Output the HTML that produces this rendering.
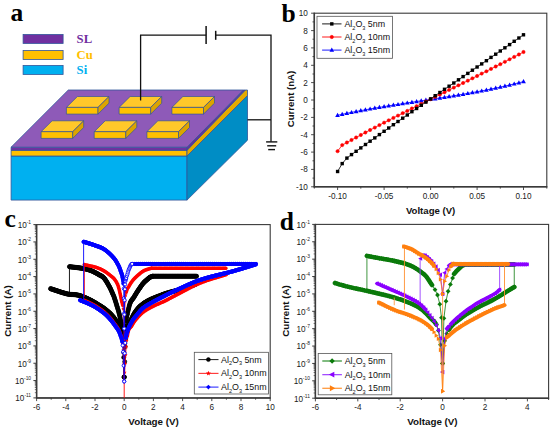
<!DOCTYPE html>
<html><head><meta charset="utf-8"><style>
html,body{margin:0;padding:0;background:#fff;width:550px;height:431px;overflow:hidden}
svg{display:block}
</style></head><body>
<svg width="550" height="431" viewBox="0 0 550 431">
<rect width="550" height="431" fill="#fff"/>
<text x="10.6" y="20.8" font-family="'Liberation Serif', serif" font-weight="bold" font-size="25.5">a</text>
<rect x="23.1" y="34.5" width="40" height="8.9" fill="#7030a0" stroke="#30559a" stroke-width="0.8"/>
<rect x="23.1" y="50.5" width="40" height="8.9" fill="#ffc000" stroke="#30559a" stroke-width="0.8"/>
<rect x="23.1" y="65.5" width="40" height="8.9" fill="#00b0f0" stroke="#30559a" stroke-width="0.8"/>
<text x="76.6" y="43.3" font-family="'Liberation Serif', serif" font-weight="bold" font-size="12.7" fill="#7030a0">SL</text>
<text x="76.6" y="59.3" font-family="'Liberation Serif', serif" font-weight="bold" font-size="12.7" fill="#ffc000">Cu</text>
<text x="76.6" y="74.4" font-family="'Liberation Serif', serif" font-weight="bold" font-size="12.7" fill="#00b0f0">Si</text>
<polygon points="11.1,156.0 187.0,156.0 187.0,200.1 11.1,200.1" fill="#00b0f0" stroke="#30559a" stroke-width="0.8" stroke-linejoin="round"/>
<polygon points="187.0,156.0 247.5,95.5 247.5,140.2 187.0,200.1" fill="#008dc5" stroke="#30559a" stroke-width="0.8" stroke-linejoin="round"/>
<polygon points="11.1,150.3 187.0,150.3 187.0,156.0 11.1,156.0" fill="#ffc000" stroke="#30559a" stroke-width="0.8" stroke-linejoin="round"/>
<polygon points="187.0,150.3 245.3,90.0 247.5,90.0 247.5,95.5 187.0,156.0" fill="#e3aa00" stroke="#30559a" stroke-width="0.8" stroke-linejoin="round"/>
<polygon points="11.1,147.2 187.0,147.2 187.0,150.3 11.1,150.3" fill="#7030a0" stroke="#30559a" stroke-width="0.8" stroke-linejoin="round"/>
<polygon points="187.0,147.2 243.3,90.0 245.3,90.0 187.0,150.3" fill="#6a2d9a" stroke="#30559a" stroke-width="0.8" stroke-linejoin="round"/>
<polygon points="11.1,147.2 68.3,90.0 243.3,90.0 187.0,147.2" fill="#8e5ab8" stroke="#30559a" stroke-width="0.8" stroke-linejoin="round"/>
<polygon points="66.4,107.4 77.4,96.5 109.0,96.5 98.0,107.4" fill="#ffc82a" stroke="#30559a" stroke-width="0.7" stroke-linejoin="round"/>
<polygon points="66.4,107.4 98.0,107.4 98.0,114.1 66.4,114.1" fill="#ffc000" stroke="#30559a" stroke-width="0.7" stroke-linejoin="round"/>
<polygon points="98.0,107.4 109.0,96.5 109.0,103.2 98.0,114.1" fill="#dba400" stroke="#30559a" stroke-width="0.7" stroke-linejoin="round"/>
<polygon points="119.1,107.4 130.1,96.5 161.7,96.5 150.7,107.4" fill="#ffc82a" stroke="#30559a" stroke-width="0.7" stroke-linejoin="round"/>
<polygon points="119.1,107.4 150.7,107.4 150.7,114.1 119.1,114.1" fill="#ffc000" stroke="#30559a" stroke-width="0.7" stroke-linejoin="round"/>
<polygon points="150.7,107.4 161.7,96.5 161.7,103.2 150.7,114.1" fill="#dba400" stroke="#30559a" stroke-width="0.7" stroke-linejoin="round"/>
<polygon points="171.9,107.4 182.9,96.5 214.5,96.5 203.5,107.4" fill="#ffc82a" stroke="#30559a" stroke-width="0.7" stroke-linejoin="round"/>
<polygon points="171.9,107.4 203.5,107.4 203.5,114.1 171.9,114.1" fill="#ffc000" stroke="#30559a" stroke-width="0.7" stroke-linejoin="round"/>
<polygon points="203.5,107.4 214.5,96.5 214.5,103.2 203.5,114.1" fill="#dba400" stroke="#30559a" stroke-width="0.7" stroke-linejoin="round"/>
<polygon points="41.1,131.7 52.1,120.8 83.7,120.8 72.7,131.7" fill="#ffc82a" stroke="#30559a" stroke-width="0.7" stroke-linejoin="round"/>
<polygon points="41.1,131.7 72.7,131.7 72.7,138.4 41.1,138.4" fill="#ffc000" stroke="#30559a" stroke-width="0.7" stroke-linejoin="round"/>
<polygon points="72.7,131.7 83.7,120.8 83.7,127.5 72.7,138.4" fill="#dba400" stroke="#30559a" stroke-width="0.7" stroke-linejoin="round"/>
<polygon points="94.2,131.7 105.2,120.8 136.8,120.8 125.8,131.7" fill="#ffc82a" stroke="#30559a" stroke-width="0.7" stroke-linejoin="round"/>
<polygon points="94.2,131.7 125.8,131.7 125.8,138.4 94.2,138.4" fill="#ffc000" stroke="#30559a" stroke-width="0.7" stroke-linejoin="round"/>
<polygon points="125.8,131.7 136.8,120.8 136.8,127.5 125.8,138.4" fill="#dba400" stroke="#30559a" stroke-width="0.7" stroke-linejoin="round"/>
<polygon points="146.9,131.7 157.9,120.8 189.5,120.8 178.5,131.7" fill="#ffc82a" stroke="#30559a" stroke-width="0.7" stroke-linejoin="round"/>
<polygon points="146.9,131.7 178.5,131.7 178.5,138.4 146.9,138.4" fill="#ffc000" stroke="#30559a" stroke-width="0.7" stroke-linejoin="round"/>
<polygon points="178.5,131.7 189.5,120.8 189.5,127.5 178.5,138.4" fill="#dba400" stroke="#30559a" stroke-width="0.7" stroke-linejoin="round"/>
<polyline points="140.6,100.5 140.6,35.2 206.1,35.2" fill="none" stroke="#111" stroke-width="1.3"/>
<line x1="206.1" y1="25.9" x2="206.1" y2="44" stroke="#111" stroke-width="1.5"/>
<line x1="215.7" y1="30.8" x2="215.7" y2="39.8" stroke="#111" stroke-width="1.5"/>
<polyline points="215.7,35.2 271.0,35.2 271.0,141.7" fill="none" stroke="#111" stroke-width="1.3"/>
<line x1="247.5" y1="119.8" x2="271" y2="119.8" stroke="#111" stroke-width="1.3"/>
<line x1="266.1" y1="141.9" x2="277.3" y2="141.9" stroke="#111" stroke-width="1.4"/>
<line x1="267.2" y1="145.8" x2="276.2" y2="145.8" stroke="#111" stroke-width="1.4"/>
<line x1="268.2" y1="149.6" x2="275.0" y2="149.6" stroke="#111" stroke-width="1.4"/>
<text x="281.5" y="21.6" font-family="'Liberation Serif', serif" font-weight="bold" font-size="25.5">b</text>
<line x1="311.10" y1="186.8" x2="314.3" y2="186.8" stroke="#3a3a3a" stroke-width="0.9"/>
<text x="307.9" y="189.8" font-family="'Liberation Sans', sans-serif" font-size="8.2" font-weight="normal" text-anchor="end" fill="#1a1a1a" >-10</text>
<line x1="312.50" y1="178.1" x2="314.3" y2="178.1" stroke="#3a3a3a" stroke-width="0.9"/>
<line x1="311.10" y1="169.4" x2="314.3" y2="169.4" stroke="#3a3a3a" stroke-width="0.9"/>
<text x="307.9" y="172.4" font-family="'Liberation Sans', sans-serif" font-size="8.2" font-weight="normal" text-anchor="end" fill="#1a1a1a" >-8</text>
<line x1="312.50" y1="160.8" x2="314.3" y2="160.8" stroke="#3a3a3a" stroke-width="0.9"/>
<line x1="311.10" y1="152.1" x2="314.3" y2="152.1" stroke="#3a3a3a" stroke-width="0.9"/>
<text x="307.9" y="155.0" font-family="'Liberation Sans', sans-serif" font-size="8.2" font-weight="normal" text-anchor="end" fill="#1a1a1a" >-6</text>
<line x1="312.50" y1="143.4" x2="314.3" y2="143.4" stroke="#3a3a3a" stroke-width="0.9"/>
<line x1="311.10" y1="134.7" x2="314.3" y2="134.7" stroke="#3a3a3a" stroke-width="0.9"/>
<text x="307.9" y="137.7" font-family="'Liberation Sans', sans-serif" font-size="8.2" font-weight="normal" text-anchor="end" fill="#1a1a1a" >-4</text>
<line x1="312.50" y1="126.0" x2="314.3" y2="126.0" stroke="#3a3a3a" stroke-width="0.9"/>
<line x1="311.10" y1="117.4" x2="314.3" y2="117.4" stroke="#3a3a3a" stroke-width="0.9"/>
<text x="307.9" y="120.3" font-family="'Liberation Sans', sans-serif" font-size="8.2" font-weight="normal" text-anchor="end" fill="#1a1a1a" >-2</text>
<line x1="312.50" y1="108.7" x2="314.3" y2="108.7" stroke="#3a3a3a" stroke-width="0.9"/>
<line x1="311.10" y1="100.0" x2="314.3" y2="100.0" stroke="#3a3a3a" stroke-width="0.9"/>
<text x="307.9" y="103.0" font-family="'Liberation Sans', sans-serif" font-size="8.2" font-weight="normal" text-anchor="end" fill="#1a1a1a" >0</text>
<line x1="312.50" y1="91.3" x2="314.3" y2="91.3" stroke="#3a3a3a" stroke-width="0.9"/>
<line x1="311.10" y1="82.6" x2="314.3" y2="82.6" stroke="#3a3a3a" stroke-width="0.9"/>
<text x="307.9" y="85.6" font-family="'Liberation Sans', sans-serif" font-size="8.2" font-weight="normal" text-anchor="end" fill="#1a1a1a" >2</text>
<line x1="312.50" y1="74.0" x2="314.3" y2="74.0" stroke="#3a3a3a" stroke-width="0.9"/>
<line x1="311.10" y1="65.3" x2="314.3" y2="65.3" stroke="#3a3a3a" stroke-width="0.9"/>
<text x="307.9" y="68.2" font-family="'Liberation Sans', sans-serif" font-size="8.2" font-weight="normal" text-anchor="end" fill="#1a1a1a" >4</text>
<line x1="312.50" y1="56.6" x2="314.3" y2="56.6" stroke="#3a3a3a" stroke-width="0.9"/>
<line x1="311.10" y1="47.9" x2="314.3" y2="47.9" stroke="#3a3a3a" stroke-width="0.9"/>
<text x="307.9" y="50.9" font-family="'Liberation Sans', sans-serif" font-size="8.2" font-weight="normal" text-anchor="end" fill="#1a1a1a" >6</text>
<line x1="312.50" y1="39.2" x2="314.3" y2="39.2" stroke="#3a3a3a" stroke-width="0.9"/>
<line x1="311.10" y1="30.6" x2="314.3" y2="30.6" stroke="#3a3a3a" stroke-width="0.9"/>
<text x="307.9" y="33.5" font-family="'Liberation Sans', sans-serif" font-size="8.2" font-weight="normal" text-anchor="end" fill="#1a1a1a" >8</text>
<line x1="312.50" y1="21.9" x2="314.3" y2="21.9" stroke="#3a3a3a" stroke-width="0.9"/>
<line x1="311.10" y1="13.2" x2="314.3" y2="13.2" stroke="#3a3a3a" stroke-width="0.9"/>
<text x="307.9" y="16.2" font-family="'Liberation Sans', sans-serif" font-size="8.2" font-weight="normal" text-anchor="end" fill="#1a1a1a" >10</text>
<line x1="314.3" y1="186.8" x2="314.3" y2="188.60" stroke="#3a3a3a" stroke-width="0.9"/>
<line x1="337.6" y1="186.8" x2="337.6" y2="190.00" stroke="#3a3a3a" stroke-width="0.9"/>
<text x="337.6" y="198.8" font-family="'Liberation Sans', sans-serif" font-size="8.2" font-weight="normal" text-anchor="middle" fill="#1a1a1a" >-0.10</text>
<line x1="360.8" y1="186.8" x2="360.8" y2="188.60" stroke="#3a3a3a" stroke-width="0.9"/>
<line x1="384.1" y1="186.8" x2="384.1" y2="190.00" stroke="#3a3a3a" stroke-width="0.9"/>
<text x="384.1" y="198.8" font-family="'Liberation Sans', sans-serif" font-size="8.2" font-weight="normal" text-anchor="middle" fill="#1a1a1a" >-0.05</text>
<line x1="407.3" y1="186.8" x2="407.3" y2="188.60" stroke="#3a3a3a" stroke-width="0.9"/>
<line x1="430.6" y1="186.8" x2="430.6" y2="190.00" stroke="#3a3a3a" stroke-width="0.9"/>
<text x="430.6" y="198.8" font-family="'Liberation Sans', sans-serif" font-size="8.2" font-weight="normal" text-anchor="middle" fill="#1a1a1a" >0.00</text>
<line x1="453.8" y1="186.8" x2="453.8" y2="188.60" stroke="#3a3a3a" stroke-width="0.9"/>
<line x1="477.1" y1="186.8" x2="477.1" y2="190.00" stroke="#3a3a3a" stroke-width="0.9"/>
<text x="477.1" y="198.8" font-family="'Liberation Sans', sans-serif" font-size="8.2" font-weight="normal" text-anchor="middle" fill="#1a1a1a" >0.05</text>
<line x1="500.3" y1="186.8" x2="500.3" y2="188.60" stroke="#3a3a3a" stroke-width="0.9"/>
<line x1="523.5" y1="186.8" x2="523.5" y2="190.00" stroke="#3a3a3a" stroke-width="0.9"/>
<text x="523.5" y="198.8" font-family="'Liberation Sans', sans-serif" font-size="8.2" font-weight="normal" text-anchor="middle" fill="#1a1a1a" >0.10</text>
<line x1="546.8" y1="186.8" x2="546.8" y2="188.60" stroke="#3a3a3a" stroke-width="0.9"/>
<rect x="314.3" y="13.2" width="232.49999999999994" height="173.60000000000002" fill="none" stroke="#3a3a3a" stroke-width="1.1"/>
<line x1="314.3" y1="12.7" x2="314.3" y2="187.4" stroke="#3a3a3a" stroke-width="1.5"/>
<line x1="313.7" y1="186.8" x2="547.3" y2="186.8" stroke="#3a3a3a" stroke-width="1.5"/>
<text x="430.6" y="213.8" font-family="'Liberation Sans', sans-serif" font-size="9.6" font-weight="bold" text-anchor="middle" fill="#111" >Voltage (V)</text>
<text x="0.0" y="0.0" font-family="'Liberation Sans', sans-serif" font-size="9.6" font-weight="bold" text-anchor="middle" fill="#111" transform="translate(293.5,99.0) rotate(-90)">Current (nA)</text>
<polyline points="337.6,115.3 342.2,114.3 346.9,113.3 351.5,112.4 356.1,111.5 360.8,110.6 365.4,109.8 370.1,108.9 374.8,108.1 379.4,107.4 384.1,106.6 388.7,105.8 393.4,105.1 398.0,104.4 402.7,103.7 407.3,102.9 411.9,102.2 416.6,101.5 421.2,100.8 425.9,100.1 430.6,99.4 435.2,98.7 439.9,98.0 444.5,97.3 449.1,96.5 453.8,95.8 458.4,95.0 463.1,94.2 467.8,93.4 472.4,92.6 477.1,91.7 481.7,90.9 486.4,90.0 491.0,89.0 495.7,88.1 500.3,87.1 504.9,86.1 509.6,85.0 514.2,83.9 518.9,82.8 523.5,81.6" fill="none" stroke="#0000ff" stroke-width="0.8"/>
<polygon points="337.6,112.7 339.9,116.9 335.2,116.9" fill="#0000ff"/>
<polygon points="342.2,111.8 344.5,116.0 339.9,116.0" fill="#0000ff"/>
<polygon points="346.9,110.8 349.2,115.0 344.5,115.0" fill="#0000ff"/>
<polygon points="351.5,109.9 353.8,114.1 349.2,114.1" fill="#0000ff"/>
<polygon points="356.1,109.0 358.5,113.2 353.8,113.2" fill="#0000ff"/>
<polygon points="360.8,108.1 363.1,112.3 358.5,112.3" fill="#0000ff"/>
<polygon points="365.4,107.3 367.8,111.5 363.1,111.5" fill="#0000ff"/>
<polygon points="370.1,106.4 372.4,110.6 367.8,110.6" fill="#0000ff"/>
<polygon points="374.8,105.6 377.1,109.8 372.4,109.8" fill="#0000ff"/>
<polygon points="379.4,104.8 381.7,109.0 377.1,109.0" fill="#0000ff"/>
<polygon points="384.1,104.1 386.4,108.3 381.7,108.3" fill="#0000ff"/>
<polygon points="388.7,103.3 391.0,107.5 386.4,107.5" fill="#0000ff"/>
<polygon points="393.4,102.6 395.7,106.8 391.0,106.8" fill="#0000ff"/>
<polygon points="398.0,101.9 400.3,106.1 395.7,106.1" fill="#0000ff"/>
<polygon points="402.7,101.1 405.0,105.3 400.3,105.3" fill="#0000ff"/>
<polygon points="407.3,100.4 409.6,104.6 405.0,104.6" fill="#0000ff"/>
<polygon points="411.9,99.7 414.3,103.9 409.6,103.9" fill="#0000ff"/>
<polygon points="416.6,99.0 418.9,103.2 414.3,103.2" fill="#0000ff"/>
<polygon points="421.2,98.3 423.6,102.5 418.9,102.5" fill="#0000ff"/>
<polygon points="425.9,97.6 428.2,101.8 423.6,101.8" fill="#0000ff"/>
<polygon points="430.6,96.9 432.9,101.1 428.2,101.1" fill="#0000ff"/>
<polygon points="435.2,96.2 437.5,100.4 432.9,100.4" fill="#0000ff"/>
<polygon points="439.9,95.5 442.2,99.7 437.5,99.7" fill="#0000ff"/>
<polygon points="444.5,94.7 446.8,98.9 442.2,98.9" fill="#0000ff"/>
<polygon points="449.1,94.0 451.5,98.2 446.8,98.2" fill="#0000ff"/>
<polygon points="453.8,93.2 456.1,97.4 451.5,97.4" fill="#0000ff"/>
<polygon points="458.4,92.5 460.8,96.7 456.1,96.7" fill="#0000ff"/>
<polygon points="463.1,91.7 465.4,95.9 460.8,95.9" fill="#0000ff"/>
<polygon points="467.8,90.9 470.1,95.1 465.4,95.1" fill="#0000ff"/>
<polygon points="472.4,90.1 474.7,94.3 470.1,94.3" fill="#0000ff"/>
<polygon points="477.1,89.2 479.4,93.4 474.7,93.4" fill="#0000ff"/>
<polygon points="481.7,88.4 484.0,92.6 479.4,92.6" fill="#0000ff"/>
<polygon points="486.4,87.5 488.7,91.7 484.0,91.7" fill="#0000ff"/>
<polygon points="491.0,86.5 493.3,90.7 488.7,90.7" fill="#0000ff"/>
<polygon points="495.7,85.6 498.0,89.8 493.3,89.8" fill="#0000ff"/>
<polygon points="500.3,84.6 502.6,88.8 498.0,88.8" fill="#0000ff"/>
<polygon points="504.9,83.6 507.3,87.8 502.6,87.8" fill="#0000ff"/>
<polygon points="509.6,82.5 511.9,86.7 507.3,86.7" fill="#0000ff"/>
<polygon points="514.2,81.4 516.6,85.6 511.9,85.6" fill="#0000ff"/>
<polygon points="518.9,80.2 521.2,84.4 516.6,84.4" fill="#0000ff"/>
<polygon points="523.5,79.1 525.9,83.3 521.2,83.3" fill="#0000ff"/>
<polyline points="337.6,151.2 342.2,145.1 346.9,142.5 351.5,140.0 356.1,137.5 360.8,135.0 365.4,132.5 370.1,130.0 374.8,127.6 379.4,125.1 384.1,122.7 388.7,120.3 393.4,117.9 398.0,115.6 402.7,113.2 407.3,110.9 411.9,108.5 416.6,106.2 421.2,103.8 425.9,101.5 430.6,99.2 435.2,96.9 439.9,94.6 444.5,92.3 449.1,89.9 453.8,87.6 458.4,85.3 463.1,83.0 467.8,80.7 472.4,78.3 477.1,76.0 481.7,73.6 486.4,71.3 491.0,68.9 495.7,66.5 500.3,64.2 504.9,61.8 509.6,59.3 514.2,56.9 518.9,54.5 523.5,52.0" fill="none" stroke="#ff0000" stroke-width="0.8"/>
<circle cx="337.6" cy="151.2" r="1.65" fill="#ff0000" stroke="#ff0000" stroke-width="0.5"/>
<circle cx="342.2" cy="145.1" r="1.65" fill="#ff0000" stroke="#ff0000" stroke-width="0.5"/>
<circle cx="346.9" cy="142.5" r="1.65" fill="#ff0000" stroke="#ff0000" stroke-width="0.5"/>
<circle cx="351.5" cy="140.0" r="1.65" fill="#ff0000" stroke="#ff0000" stroke-width="0.5"/>
<circle cx="356.1" cy="137.5" r="1.65" fill="#ff0000" stroke="#ff0000" stroke-width="0.5"/>
<circle cx="360.8" cy="135.0" r="1.65" fill="#ff0000" stroke="#ff0000" stroke-width="0.5"/>
<circle cx="365.4" cy="132.5" r="1.65" fill="#ff0000" stroke="#ff0000" stroke-width="0.5"/>
<circle cx="370.1" cy="130.0" r="1.65" fill="#ff0000" stroke="#ff0000" stroke-width="0.5"/>
<circle cx="374.8" cy="127.6" r="1.65" fill="#ff0000" stroke="#ff0000" stroke-width="0.5"/>
<circle cx="379.4" cy="125.1" r="1.65" fill="#ff0000" stroke="#ff0000" stroke-width="0.5"/>
<circle cx="384.1" cy="122.7" r="1.65" fill="#ff0000" stroke="#ff0000" stroke-width="0.5"/>
<circle cx="388.7" cy="120.3" r="1.65" fill="#ff0000" stroke="#ff0000" stroke-width="0.5"/>
<circle cx="393.4" cy="117.9" r="1.65" fill="#ff0000" stroke="#ff0000" stroke-width="0.5"/>
<circle cx="398.0" cy="115.6" r="1.65" fill="#ff0000" stroke="#ff0000" stroke-width="0.5"/>
<circle cx="402.7" cy="113.2" r="1.65" fill="#ff0000" stroke="#ff0000" stroke-width="0.5"/>
<circle cx="407.3" cy="110.9" r="1.65" fill="#ff0000" stroke="#ff0000" stroke-width="0.5"/>
<circle cx="411.9" cy="108.5" r="1.65" fill="#ff0000" stroke="#ff0000" stroke-width="0.5"/>
<circle cx="416.6" cy="106.2" r="1.65" fill="#ff0000" stroke="#ff0000" stroke-width="0.5"/>
<circle cx="421.2" cy="103.8" r="1.65" fill="#ff0000" stroke="#ff0000" stroke-width="0.5"/>
<circle cx="425.9" cy="101.5" r="1.65" fill="#ff0000" stroke="#ff0000" stroke-width="0.5"/>
<circle cx="430.6" cy="99.2" r="1.65" fill="#ff0000" stroke="#ff0000" stroke-width="0.5"/>
<circle cx="435.2" cy="96.9" r="1.65" fill="#ff0000" stroke="#ff0000" stroke-width="0.5"/>
<circle cx="439.9" cy="94.6" r="1.65" fill="#ff0000" stroke="#ff0000" stroke-width="0.5"/>
<circle cx="444.5" cy="92.3" r="1.65" fill="#ff0000" stroke="#ff0000" stroke-width="0.5"/>
<circle cx="449.1" cy="89.9" r="1.65" fill="#ff0000" stroke="#ff0000" stroke-width="0.5"/>
<circle cx="453.8" cy="87.6" r="1.65" fill="#ff0000" stroke="#ff0000" stroke-width="0.5"/>
<circle cx="458.4" cy="85.3" r="1.65" fill="#ff0000" stroke="#ff0000" stroke-width="0.5"/>
<circle cx="463.1" cy="83.0" r="1.65" fill="#ff0000" stroke="#ff0000" stroke-width="0.5"/>
<circle cx="467.8" cy="80.7" r="1.65" fill="#ff0000" stroke="#ff0000" stroke-width="0.5"/>
<circle cx="472.4" cy="78.3" r="1.65" fill="#ff0000" stroke="#ff0000" stroke-width="0.5"/>
<circle cx="477.1" cy="76.0" r="1.65" fill="#ff0000" stroke="#ff0000" stroke-width="0.5"/>
<circle cx="481.7" cy="73.6" r="1.65" fill="#ff0000" stroke="#ff0000" stroke-width="0.5"/>
<circle cx="486.4" cy="71.3" r="1.65" fill="#ff0000" stroke="#ff0000" stroke-width="0.5"/>
<circle cx="491.0" cy="68.9" r="1.65" fill="#ff0000" stroke="#ff0000" stroke-width="0.5"/>
<circle cx="495.7" cy="66.5" r="1.65" fill="#ff0000" stroke="#ff0000" stroke-width="0.5"/>
<circle cx="500.3" cy="64.2" r="1.65" fill="#ff0000" stroke="#ff0000" stroke-width="0.5"/>
<circle cx="504.9" cy="61.8" r="1.65" fill="#ff0000" stroke="#ff0000" stroke-width="0.5"/>
<circle cx="509.6" cy="59.3" r="1.65" fill="#ff0000" stroke="#ff0000" stroke-width="0.5"/>
<circle cx="514.2" cy="56.9" r="1.65" fill="#ff0000" stroke="#ff0000" stroke-width="0.5"/>
<circle cx="518.9" cy="54.5" r="1.65" fill="#ff0000" stroke="#ff0000" stroke-width="0.5"/>
<circle cx="523.5" cy="52.0" r="1.65" fill="#ff0000" stroke="#ff0000" stroke-width="0.5"/>
<polyline points="337.6,171.5 342.2,163.6 346.9,158.1 351.5,154.6 356.1,151.3 360.8,147.9 365.4,144.5 370.1,141.2 374.8,137.9 379.4,134.6 384.1,131.3 388.7,128.0 393.4,124.7 398.0,121.5 402.7,118.2 407.3,115.0 411.9,111.7 416.6,108.5 421.2,105.3 425.9,102.1 430.6,98.9 435.2,95.7 439.9,92.5 444.5,89.3 449.1,86.2 453.8,83.0 458.4,79.8 463.1,76.6 467.8,73.4 472.4,70.2 477.1,67.0 481.7,63.9 486.4,60.7 491.0,57.4 495.7,54.2 500.3,51.0 504.9,47.8 509.6,44.6 514.2,41.3 518.9,38.0 523.5,34.8" fill="none" stroke="#000" stroke-width="0.8"/>
<rect x="335.9" y="169.8" width="3.4" height="3.4" fill="#000"/>
<rect x="340.5" y="161.9" width="3.4" height="3.4" fill="#000"/>
<rect x="345.2" y="156.4" width="3.4" height="3.4" fill="#000"/>
<rect x="349.8" y="152.9" width="3.4" height="3.4" fill="#000"/>
<rect x="354.4" y="149.6" width="3.4" height="3.4" fill="#000"/>
<rect x="359.1" y="146.2" width="3.4" height="3.4" fill="#000"/>
<rect x="363.8" y="142.8" width="3.4" height="3.4" fill="#000"/>
<rect x="368.4" y="139.5" width="3.4" height="3.4" fill="#000"/>
<rect x="373.1" y="136.2" width="3.4" height="3.4" fill="#000"/>
<rect x="377.7" y="132.9" width="3.4" height="3.4" fill="#000"/>
<rect x="382.4" y="129.6" width="3.4" height="3.4" fill="#000"/>
<rect x="387.0" y="126.3" width="3.4" height="3.4" fill="#000"/>
<rect x="391.7" y="123.0" width="3.4" height="3.4" fill="#000"/>
<rect x="396.3" y="119.8" width="3.4" height="3.4" fill="#000"/>
<rect x="401.0" y="116.5" width="3.4" height="3.4" fill="#000"/>
<rect x="405.6" y="113.3" width="3.4" height="3.4" fill="#000"/>
<rect x="410.2" y="110.0" width="3.4" height="3.4" fill="#000"/>
<rect x="414.9" y="106.8" width="3.4" height="3.4" fill="#000"/>
<rect x="419.6" y="103.6" width="3.4" height="3.4" fill="#000"/>
<rect x="424.2" y="100.4" width="3.4" height="3.4" fill="#000"/>
<rect x="428.9" y="97.2" width="3.4" height="3.4" fill="#000"/>
<rect x="433.5" y="94.0" width="3.4" height="3.4" fill="#000"/>
<rect x="438.2" y="90.8" width="3.4" height="3.4" fill="#000"/>
<rect x="442.8" y="87.6" width="3.4" height="3.4" fill="#000"/>
<rect x="447.4" y="84.5" width="3.4" height="3.4" fill="#000"/>
<rect x="452.1" y="81.3" width="3.4" height="3.4" fill="#000"/>
<rect x="456.8" y="78.1" width="3.4" height="3.4" fill="#000"/>
<rect x="461.4" y="74.9" width="3.4" height="3.4" fill="#000"/>
<rect x="466.1" y="71.7" width="3.4" height="3.4" fill="#000"/>
<rect x="470.7" y="68.5" width="3.4" height="3.4" fill="#000"/>
<rect x="475.4" y="65.3" width="3.4" height="3.4" fill="#000"/>
<rect x="480.0" y="62.2" width="3.4" height="3.4" fill="#000"/>
<rect x="484.7" y="59.0" width="3.4" height="3.4" fill="#000"/>
<rect x="489.3" y="55.7" width="3.4" height="3.4" fill="#000"/>
<rect x="494.0" y="52.5" width="3.4" height="3.4" fill="#000"/>
<rect x="498.6" y="49.3" width="3.4" height="3.4" fill="#000"/>
<rect x="503.2" y="46.1" width="3.4" height="3.4" fill="#000"/>
<rect x="507.9" y="42.9" width="3.4" height="3.4" fill="#000"/>
<rect x="512.5" y="39.6" width="3.4" height="3.4" fill="#000"/>
<rect x="517.2" y="36.3" width="3.4" height="3.4" fill="#000"/>
<rect x="521.8" y="33.1" width="3.4" height="3.4" fill="#000"/>
<rect x="317.0" y="16.3" width="75.5" height="42" fill="#fff" stroke="#555" stroke-width="0.8"/>
<line x1="322.1" y1="23.9" x2="341.5" y2="23.9" stroke="#000" stroke-width="0.9"/>
<rect x="330.1" y="22.2" width="3.4" height="3.4" fill="#000"/>
<text x="344.4" y="27.0" font-family="'Liberation Sans', sans-serif" font-size="8.9" fill="#111">Al<tspan font-size="5.52" dy="2.5">2</tspan><tspan dy="-2.5">O</tspan><tspan font-size="5.52" dy="2.5">3</tspan><tspan dy="-2.5"> 5nm</tspan></text>
<line x1="322.1" y1="37.0" x2="341.5" y2="37.0" stroke="#ff0000" stroke-width="0.9"/>
<circle cx="331.8" cy="37.0" r="1.7" fill="#ff0000" stroke="#ff0000" stroke-width="0.5"/>
<text x="344.4" y="40.1" font-family="'Liberation Sans', sans-serif" font-size="8.9" fill="#111">Al<tspan font-size="5.52" dy="2.5">2</tspan><tspan dy="-2.5">O</tspan><tspan font-size="5.52" dy="2.5">3</tspan><tspan dy="-2.5"> 10nm</tspan></text>
<line x1="322.1" y1="50.099999999999994" x2="341.5" y2="50.099999999999994" stroke="#0000ff" stroke-width="0.9"/>
<polygon points="331.8,47.6 334.1,51.8 329.5,51.8" fill="#0000ff"/>
<text x="344.4" y="53.199999999999996" font-family="'Liberation Sans', sans-serif" font-size="8.9" fill="#111">Al<tspan font-size="5.52" dy="2.5">2</tspan><tspan dy="-2.5">O</tspan><tspan font-size="5.52" dy="2.5">3</tspan><tspan dy="-2.5"> 15nm</tspan></text>
<text x="4.6" y="227.2" font-family="'Liberation Serif', serif" font-weight="bold" font-size="25.5">c</text>
<line x1="33.40" y1="397.90" x2="36.6" y2="397.90" stroke="#3a3a3a" stroke-width="1"/>
<line x1="34.80" y1="392.68" x2="36.6" y2="392.68" stroke="#3a3a3a" stroke-width="0.7"/>
<line x1="34.80" y1="389.63" x2="36.6" y2="389.63" stroke="#3a3a3a" stroke-width="0.7"/>
<line x1="34.80" y1="387.47" x2="36.6" y2="387.47" stroke="#3a3a3a" stroke-width="0.7"/>
<line x1="34.80" y1="385.79" x2="36.6" y2="385.79" stroke="#3a3a3a" stroke-width="0.7"/>
<line x1="34.80" y1="384.41" x2="36.6" y2="384.41" stroke="#3a3a3a" stroke-width="0.7"/>
<line x1="34.80" y1="383.25" x2="36.6" y2="383.25" stroke="#3a3a3a" stroke-width="0.7"/>
<line x1="34.80" y1="382.25" x2="36.6" y2="382.25" stroke="#3a3a3a" stroke-width="0.7"/>
<line x1="34.80" y1="381.36" x2="36.6" y2="381.36" stroke="#3a3a3a" stroke-width="0.7"/>
<line x1="33.40" y1="380.57" x2="36.6" y2="380.57" stroke="#3a3a3a" stroke-width="1"/>
<line x1="34.80" y1="375.35" x2="36.6" y2="375.35" stroke="#3a3a3a" stroke-width="0.7"/>
<line x1="34.80" y1="372.30" x2="36.6" y2="372.30" stroke="#3a3a3a" stroke-width="0.7"/>
<line x1="34.80" y1="370.14" x2="36.6" y2="370.14" stroke="#3a3a3a" stroke-width="0.7"/>
<line x1="34.80" y1="368.46" x2="36.6" y2="368.46" stroke="#3a3a3a" stroke-width="0.7"/>
<line x1="34.80" y1="367.08" x2="36.6" y2="367.08" stroke="#3a3a3a" stroke-width="0.7"/>
<line x1="34.80" y1="365.92" x2="36.6" y2="365.92" stroke="#3a3a3a" stroke-width="0.7"/>
<line x1="34.80" y1="364.92" x2="36.6" y2="364.92" stroke="#3a3a3a" stroke-width="0.7"/>
<line x1="34.80" y1="364.03" x2="36.6" y2="364.03" stroke="#3a3a3a" stroke-width="0.7"/>
<line x1="33.40" y1="363.24" x2="36.6" y2="363.24" stroke="#3a3a3a" stroke-width="1"/>
<line x1="34.80" y1="358.02" x2="36.6" y2="358.02" stroke="#3a3a3a" stroke-width="0.7"/>
<line x1="34.80" y1="354.97" x2="36.6" y2="354.97" stroke="#3a3a3a" stroke-width="0.7"/>
<line x1="34.80" y1="352.81" x2="36.6" y2="352.81" stroke="#3a3a3a" stroke-width="0.7"/>
<line x1="34.80" y1="351.13" x2="36.6" y2="351.13" stroke="#3a3a3a" stroke-width="0.7"/>
<line x1="34.80" y1="349.75" x2="36.6" y2="349.75" stroke="#3a3a3a" stroke-width="0.7"/>
<line x1="34.80" y1="348.59" x2="36.6" y2="348.59" stroke="#3a3a3a" stroke-width="0.7"/>
<line x1="34.80" y1="347.59" x2="36.6" y2="347.59" stroke="#3a3a3a" stroke-width="0.7"/>
<line x1="34.80" y1="346.70" x2="36.6" y2="346.70" stroke="#3a3a3a" stroke-width="0.7"/>
<line x1="33.40" y1="345.91" x2="36.6" y2="345.91" stroke="#3a3a3a" stroke-width="1"/>
<line x1="34.80" y1="340.69" x2="36.6" y2="340.69" stroke="#3a3a3a" stroke-width="0.7"/>
<line x1="34.80" y1="337.64" x2="36.6" y2="337.64" stroke="#3a3a3a" stroke-width="0.7"/>
<line x1="34.80" y1="335.48" x2="36.6" y2="335.48" stroke="#3a3a3a" stroke-width="0.7"/>
<line x1="34.80" y1="333.80" x2="36.6" y2="333.80" stroke="#3a3a3a" stroke-width="0.7"/>
<line x1="34.80" y1="332.42" x2="36.6" y2="332.42" stroke="#3a3a3a" stroke-width="0.7"/>
<line x1="34.80" y1="331.26" x2="36.6" y2="331.26" stroke="#3a3a3a" stroke-width="0.7"/>
<line x1="34.80" y1="330.26" x2="36.6" y2="330.26" stroke="#3a3a3a" stroke-width="0.7"/>
<line x1="34.80" y1="329.37" x2="36.6" y2="329.37" stroke="#3a3a3a" stroke-width="0.7"/>
<line x1="33.40" y1="328.58" x2="36.6" y2="328.58" stroke="#3a3a3a" stroke-width="1"/>
<line x1="34.80" y1="323.36" x2="36.6" y2="323.36" stroke="#3a3a3a" stroke-width="0.7"/>
<line x1="34.80" y1="320.31" x2="36.6" y2="320.31" stroke="#3a3a3a" stroke-width="0.7"/>
<line x1="34.80" y1="318.15" x2="36.6" y2="318.15" stroke="#3a3a3a" stroke-width="0.7"/>
<line x1="34.80" y1="316.47" x2="36.6" y2="316.47" stroke="#3a3a3a" stroke-width="0.7"/>
<line x1="34.80" y1="315.09" x2="36.6" y2="315.09" stroke="#3a3a3a" stroke-width="0.7"/>
<line x1="34.80" y1="313.93" x2="36.6" y2="313.93" stroke="#3a3a3a" stroke-width="0.7"/>
<line x1="34.80" y1="312.93" x2="36.6" y2="312.93" stroke="#3a3a3a" stroke-width="0.7"/>
<line x1="34.80" y1="312.04" x2="36.6" y2="312.04" stroke="#3a3a3a" stroke-width="0.7"/>
<line x1="33.40" y1="311.25" x2="36.6" y2="311.25" stroke="#3a3a3a" stroke-width="1"/>
<line x1="34.80" y1="306.03" x2="36.6" y2="306.03" stroke="#3a3a3a" stroke-width="0.7"/>
<line x1="34.80" y1="302.98" x2="36.6" y2="302.98" stroke="#3a3a3a" stroke-width="0.7"/>
<line x1="34.80" y1="300.82" x2="36.6" y2="300.82" stroke="#3a3a3a" stroke-width="0.7"/>
<line x1="34.80" y1="299.14" x2="36.6" y2="299.14" stroke="#3a3a3a" stroke-width="0.7"/>
<line x1="34.80" y1="297.76" x2="36.6" y2="297.76" stroke="#3a3a3a" stroke-width="0.7"/>
<line x1="34.80" y1="296.60" x2="36.6" y2="296.60" stroke="#3a3a3a" stroke-width="0.7"/>
<line x1="34.80" y1="295.60" x2="36.6" y2="295.60" stroke="#3a3a3a" stroke-width="0.7"/>
<line x1="34.80" y1="294.71" x2="36.6" y2="294.71" stroke="#3a3a3a" stroke-width="0.7"/>
<line x1="33.40" y1="293.92" x2="36.6" y2="293.92" stroke="#3a3a3a" stroke-width="1"/>
<line x1="34.80" y1="288.70" x2="36.6" y2="288.70" stroke="#3a3a3a" stroke-width="0.7"/>
<line x1="34.80" y1="285.65" x2="36.6" y2="285.65" stroke="#3a3a3a" stroke-width="0.7"/>
<line x1="34.80" y1="283.49" x2="36.6" y2="283.49" stroke="#3a3a3a" stroke-width="0.7"/>
<line x1="34.80" y1="281.81" x2="36.6" y2="281.81" stroke="#3a3a3a" stroke-width="0.7"/>
<line x1="34.80" y1="280.43" x2="36.6" y2="280.43" stroke="#3a3a3a" stroke-width="0.7"/>
<line x1="34.80" y1="279.27" x2="36.6" y2="279.27" stroke="#3a3a3a" stroke-width="0.7"/>
<line x1="34.80" y1="278.27" x2="36.6" y2="278.27" stroke="#3a3a3a" stroke-width="0.7"/>
<line x1="34.80" y1="277.38" x2="36.6" y2="277.38" stroke="#3a3a3a" stroke-width="0.7"/>
<line x1="33.40" y1="276.59" x2="36.6" y2="276.59" stroke="#3a3a3a" stroke-width="1"/>
<line x1="34.80" y1="271.37" x2="36.6" y2="271.37" stroke="#3a3a3a" stroke-width="0.7"/>
<line x1="34.80" y1="268.32" x2="36.6" y2="268.32" stroke="#3a3a3a" stroke-width="0.7"/>
<line x1="34.80" y1="266.16" x2="36.6" y2="266.16" stroke="#3a3a3a" stroke-width="0.7"/>
<line x1="34.80" y1="264.48" x2="36.6" y2="264.48" stroke="#3a3a3a" stroke-width="0.7"/>
<line x1="34.80" y1="263.10" x2="36.6" y2="263.10" stroke="#3a3a3a" stroke-width="0.7"/>
<line x1="34.80" y1="261.94" x2="36.6" y2="261.94" stroke="#3a3a3a" stroke-width="0.7"/>
<line x1="34.80" y1="260.94" x2="36.6" y2="260.94" stroke="#3a3a3a" stroke-width="0.7"/>
<line x1="34.80" y1="260.05" x2="36.6" y2="260.05" stroke="#3a3a3a" stroke-width="0.7"/>
<line x1="33.40" y1="259.26" x2="36.6" y2="259.26" stroke="#3a3a3a" stroke-width="1"/>
<line x1="34.80" y1="254.04" x2="36.6" y2="254.04" stroke="#3a3a3a" stroke-width="0.7"/>
<line x1="34.80" y1="250.99" x2="36.6" y2="250.99" stroke="#3a3a3a" stroke-width="0.7"/>
<line x1="34.80" y1="248.83" x2="36.6" y2="248.83" stroke="#3a3a3a" stroke-width="0.7"/>
<line x1="34.80" y1="247.15" x2="36.6" y2="247.15" stroke="#3a3a3a" stroke-width="0.7"/>
<line x1="34.80" y1="245.77" x2="36.6" y2="245.77" stroke="#3a3a3a" stroke-width="0.7"/>
<line x1="34.80" y1="244.61" x2="36.6" y2="244.61" stroke="#3a3a3a" stroke-width="0.7"/>
<line x1="34.80" y1="243.61" x2="36.6" y2="243.61" stroke="#3a3a3a" stroke-width="0.7"/>
<line x1="34.80" y1="242.72" x2="36.6" y2="242.72" stroke="#3a3a3a" stroke-width="0.7"/>
<line x1="33.40" y1="241.93" x2="36.6" y2="241.93" stroke="#3a3a3a" stroke-width="1"/>
<line x1="34.80" y1="236.71" x2="36.6" y2="236.71" stroke="#3a3a3a" stroke-width="0.7"/>
<line x1="34.80" y1="233.66" x2="36.6" y2="233.66" stroke="#3a3a3a" stroke-width="0.7"/>
<line x1="34.80" y1="231.50" x2="36.6" y2="231.50" stroke="#3a3a3a" stroke-width="0.7"/>
<line x1="34.80" y1="229.82" x2="36.6" y2="229.82" stroke="#3a3a3a" stroke-width="0.7"/>
<line x1="34.80" y1="228.44" x2="36.6" y2="228.44" stroke="#3a3a3a" stroke-width="0.7"/>
<line x1="34.80" y1="227.28" x2="36.6" y2="227.28" stroke="#3a3a3a" stroke-width="0.7"/>
<line x1="34.80" y1="226.28" x2="36.6" y2="226.28" stroke="#3a3a3a" stroke-width="0.7"/>
<line x1="34.80" y1="225.39" x2="36.6" y2="225.39" stroke="#3a3a3a" stroke-width="0.7"/>
<line x1="33.40" y1="224.60" x2="36.6" y2="224.60" stroke="#3a3a3a" stroke-width="1"/>
<text x="31.10" y="401.20" font-family="'Liberation Sans', sans-serif" font-size="8.2" fill="#1a1a1a" text-anchor="end">10<tspan font-size="4.9" dy="-4.0">-11</tspan></text>
<text x="31.10" y="383.87" font-family="'Liberation Sans', sans-serif" font-size="8.2" fill="#1a1a1a" text-anchor="end">10<tspan font-size="4.9" dy="-4.0">-10</tspan></text>
<text x="31.10" y="366.54" font-family="'Liberation Sans', sans-serif" font-size="8.2" fill="#1a1a1a" text-anchor="end">10<tspan font-size="4.9" dy="-4.0">-9</tspan></text>
<text x="31.10" y="349.21" font-family="'Liberation Sans', sans-serif" font-size="8.2" fill="#1a1a1a" text-anchor="end">10<tspan font-size="4.9" dy="-4.0">-8</tspan></text>
<text x="31.10" y="331.88" font-family="'Liberation Sans', sans-serif" font-size="8.2" fill="#1a1a1a" text-anchor="end">10<tspan font-size="4.9" dy="-4.0">-7</tspan></text>
<text x="31.10" y="314.55" font-family="'Liberation Sans', sans-serif" font-size="8.2" fill="#1a1a1a" text-anchor="end">10<tspan font-size="4.9" dy="-4.0">-6</tspan></text>
<text x="31.10" y="297.22" font-family="'Liberation Sans', sans-serif" font-size="8.2" fill="#1a1a1a" text-anchor="end">10<tspan font-size="4.9" dy="-4.0">-5</tspan></text>
<text x="31.10" y="279.89" font-family="'Liberation Sans', sans-serif" font-size="8.2" fill="#1a1a1a" text-anchor="end">10<tspan font-size="4.9" dy="-4.0">-4</tspan></text>
<text x="31.10" y="262.56" font-family="'Liberation Sans', sans-serif" font-size="8.2" fill="#1a1a1a" text-anchor="end">10<tspan font-size="4.9" dy="-4.0">-3</tspan></text>
<text x="31.10" y="245.23" font-family="'Liberation Sans', sans-serif" font-size="8.2" fill="#1a1a1a" text-anchor="end">10<tspan font-size="4.9" dy="-4.0">-2</tspan></text>
<text x="31.10" y="227.90" font-family="'Liberation Sans', sans-serif" font-size="8.2" fill="#1a1a1a" text-anchor="end">10<tspan font-size="4.9" dy="-4.0">-1</tspan></text>
<line x1="36.60" y1="397.9" x2="36.60" y2="401.10" stroke="#3a3a3a" stroke-width="0.9"/>
<text x="36.6" y="409.6" font-family="'Liberation Sans', sans-serif" font-size="8.2" font-weight="normal" text-anchor="middle" fill="#1a1a1a" >-6</text>
<line x1="51.20" y1="397.9" x2="51.20" y2="399.70" stroke="#3a3a3a" stroke-width="0.9"/>
<line x1="65.80" y1="397.9" x2="65.80" y2="401.10" stroke="#3a3a3a" stroke-width="0.9"/>
<text x="65.8" y="409.6" font-family="'Liberation Sans', sans-serif" font-size="8.2" font-weight="normal" text-anchor="middle" fill="#1a1a1a" >-4</text>
<line x1="80.40" y1="397.9" x2="80.40" y2="399.70" stroke="#3a3a3a" stroke-width="0.9"/>
<line x1="95.00" y1="397.9" x2="95.00" y2="401.10" stroke="#3a3a3a" stroke-width="0.9"/>
<text x="95.0" y="409.6" font-family="'Liberation Sans', sans-serif" font-size="8.2" font-weight="normal" text-anchor="middle" fill="#1a1a1a" >-2</text>
<line x1="109.60" y1="397.9" x2="109.60" y2="399.70" stroke="#3a3a3a" stroke-width="0.9"/>
<line x1="124.20" y1="397.9" x2="124.20" y2="401.10" stroke="#3a3a3a" stroke-width="0.9"/>
<text x="124.2" y="409.6" font-family="'Liberation Sans', sans-serif" font-size="8.2" font-weight="normal" text-anchor="middle" fill="#1a1a1a" >0</text>
<line x1="138.80" y1="397.9" x2="138.80" y2="399.70" stroke="#3a3a3a" stroke-width="0.9"/>
<line x1="153.40" y1="397.9" x2="153.40" y2="401.10" stroke="#3a3a3a" stroke-width="0.9"/>
<text x="153.4" y="409.6" font-family="'Liberation Sans', sans-serif" font-size="8.2" font-weight="normal" text-anchor="middle" fill="#1a1a1a" >2</text>
<line x1="168.00" y1="397.9" x2="168.00" y2="399.70" stroke="#3a3a3a" stroke-width="0.9"/>
<line x1="182.60" y1="397.9" x2="182.60" y2="401.10" stroke="#3a3a3a" stroke-width="0.9"/>
<text x="182.6" y="409.6" font-family="'Liberation Sans', sans-serif" font-size="8.2" font-weight="normal" text-anchor="middle" fill="#1a1a1a" >4</text>
<line x1="197.20" y1="397.9" x2="197.20" y2="399.70" stroke="#3a3a3a" stroke-width="0.9"/>
<line x1="211.80" y1="397.9" x2="211.80" y2="401.10" stroke="#3a3a3a" stroke-width="0.9"/>
<text x="211.8" y="409.6" font-family="'Liberation Sans', sans-serif" font-size="8.2" font-weight="normal" text-anchor="middle" fill="#1a1a1a" >6</text>
<line x1="226.40" y1="397.9" x2="226.40" y2="399.70" stroke="#3a3a3a" stroke-width="0.9"/>
<line x1="241.00" y1="397.9" x2="241.00" y2="401.10" stroke="#3a3a3a" stroke-width="0.9"/>
<text x="241.0" y="409.6" font-family="'Liberation Sans', sans-serif" font-size="8.2" font-weight="normal" text-anchor="middle" fill="#1a1a1a" >8</text>
<line x1="255.60" y1="397.9" x2="255.60" y2="399.70" stroke="#3a3a3a" stroke-width="0.9"/>
<line x1="270.20" y1="397.9" x2="270.20" y2="401.10" stroke="#3a3a3a" stroke-width="0.9"/>
<text x="270.2" y="409.6" font-family="'Liberation Sans', sans-serif" font-size="8.2" font-weight="normal" text-anchor="middle" fill="#1a1a1a" >10</text>
<rect x="36.6" y="224.6" width="233.6" height="173.29999999999998" fill="none" stroke="#3a3a3a" stroke-width="1.1"/>
<line x1="36.6" y1="224.1" x2="36.6" y2="398.5" stroke="#3a3a3a" stroke-width="1.5"/>
<line x1="36.0" y1="397.9" x2="270.7" y2="397.9" stroke="#3a3a3a" stroke-width="1.5"/>
<text x="153.6" y="424.8" font-family="'Liberation Sans', sans-serif" font-size="9.8" font-weight="bold" text-anchor="middle" fill="#111" >Voltage (V)</text>
<text x="0.0" y="0.0" font-family="'Liberation Sans', sans-serif" font-size="9.8" font-weight="bold" text-anchor="middle" fill="#111" transform="translate(11.0,311.0) rotate(-90)">Current (A)</text>
<line x1="69.45" y1="295.65" x2="69.45" y2="266.71" stroke="#000000" stroke-width="0.9"/>
<polyline points="124.2,377.1 123.7,352.5 123.2,341.6 122.7,336.6 122.2,333.9 121.6,332.3 121.1,330.7 120.6,329.3 120.1,328.0 119.6,326.8 119.1,325.7 118.6,324.7 118.1,323.8 117.6,323.0 117.0,322.2 116.5,321.4 116.0,320.7 115.5,319.9 115.0,319.2 114.5,318.5 114.0,317.8 113.5,317.1 113.0,316.5 112.4,315.9 111.9,315.3 111.4,314.8 110.9,314.2 110.4,313.7 109.9,313.2 109.4,312.8 108.9,312.3 108.4,311.8 107.8,311.4 107.3,310.9 106.8,310.5 106.3,310.1 105.8,309.7 105.3,309.3 104.8,308.9 104.3,308.5 103.8,308.1 103.2,307.8 102.7,307.4 102.2,307.1 101.7,306.8 101.2,306.4 100.7,306.1 100.2,305.8 99.7,305.5 99.2,305.2 98.7,304.9 98.1,304.6 97.6,304.2 97.1,303.9 96.6,303.6 96.1,303.3 95.6,303.0 95.1,302.7 94.6,302.4 94.1,302.1 93.5,301.8 93.0,301.5 92.5,301.2 92.0,300.9 91.5,300.7 91.0,300.4 90.5,300.1 90.0,299.9 89.5,299.6 88.9,299.4 88.4,299.1 87.9,298.9 87.4,298.6 86.9,298.4 86.4,298.2 85.9,297.9 85.4,297.7 84.9,297.5 84.3,297.3 83.8,297.1 83.3,296.9 82.8,296.7 82.3,296.5 81.8,296.3 81.3,296.1 80.8,295.9 80.3,295.7 79.7,295.6 79.2,295.4 78.7,295.3 78.2,295.2 77.7,295.1 77.2,295.0 76.7,294.9 76.2,294.8 75.7,294.7 75.1,294.7 74.6,294.6 74.1,294.6 73.6,294.6 73.1,294.5 72.6,294.5 72.1,294.5 71.6,294.5 71.1,294.4 70.5,294.4 70.0,294.4 69.5,294.3 69.0,294.2 68.5,294.2 68.0,294.1 67.5,294.0 67.0,293.9 66.5,293.7 65.9,293.6 65.4,293.5 64.9,293.3 64.4,293.2 63.9,293.0 63.4,292.9 62.9,292.7 62.4,292.6 61.9,292.4 61.3,292.3 60.8,292.1 60.3,291.9 59.8,291.8 59.3,291.6 58.8,291.4 58.3,291.3 57.8,291.1 57.3,290.9 56.7,290.7 56.2,290.6 55.7,290.4 55.2,290.2 54.7,290.1 54.2,289.9 53.7,289.7 53.2,289.5 52.7,289.4 52.1,289.2 51.6,289.0 51.1,288.9 50.6,288.7" fill="none" stroke="#000000" stroke-width="0.8" stroke-linejoin="round"/>
<g><circle cx="124.2" cy="377.1" r="2.1" fill="#000000" stroke="#000000" stroke-width="0.5"/><circle cx="123.7" cy="352.5" r="2.1" fill="#000000" stroke="#000000" stroke-width="0.5"/><circle cx="123.2" cy="341.6" r="2.1" fill="#000000" stroke="#000000" stroke-width="0.5"/><circle cx="122.7" cy="336.6" r="2.1" fill="#000000" stroke="#000000" stroke-width="0.5"/><circle cx="122.2" cy="333.9" r="2.1" fill="#000000" stroke="#000000" stroke-width="0.5"/><circle cx="121.6" cy="332.3" r="2.1" fill="#000000" stroke="#000000" stroke-width="0.5"/><circle cx="121.1" cy="330.7" r="2.1" fill="#000000" stroke="#000000" stroke-width="0.5"/><circle cx="120.6" cy="329.3" r="2.1" fill="#000000" stroke="#000000" stroke-width="0.5"/><circle cx="120.1" cy="328.0" r="2.1" fill="#000000" stroke="#000000" stroke-width="0.5"/><circle cx="119.6" cy="326.8" r="2.1" fill="#000000" stroke="#000000" stroke-width="0.5"/><circle cx="119.1" cy="325.7" r="2.1" fill="#000000" stroke="#000000" stroke-width="0.5"/><circle cx="118.6" cy="324.7" r="2.1" fill="#000000" stroke="#000000" stroke-width="0.5"/><circle cx="118.1" cy="323.8" r="2.1" fill="#000000" stroke="#000000" stroke-width="0.5"/><circle cx="117.6" cy="323.0" r="2.1" fill="#000000" stroke="#000000" stroke-width="0.5"/><circle cx="117.0" cy="322.2" r="2.1" fill="#000000" stroke="#000000" stroke-width="0.5"/><circle cx="116.5" cy="321.4" r="2.1" fill="#000000" stroke="#000000" stroke-width="0.5"/><circle cx="116.0" cy="320.7" r="2.1" fill="#000000" stroke="#000000" stroke-width="0.5"/><circle cx="115.5" cy="319.9" r="2.1" fill="#000000" stroke="#000000" stroke-width="0.5"/><circle cx="115.0" cy="319.2" r="2.1" fill="#000000" stroke="#000000" stroke-width="0.5"/><circle cx="114.5" cy="318.5" r="2.1" fill="#000000" stroke="#000000" stroke-width="0.5"/><circle cx="114.0" cy="317.8" r="2.1" fill="#000000" stroke="#000000" stroke-width="0.5"/><circle cx="113.5" cy="317.1" r="2.1" fill="#000000" stroke="#000000" stroke-width="0.5"/><circle cx="113.0" cy="316.5" r="2.1" fill="#000000" stroke="#000000" stroke-width="0.5"/><circle cx="112.4" cy="315.9" r="2.1" fill="#000000" stroke="#000000" stroke-width="0.5"/><circle cx="111.9" cy="315.3" r="2.1" fill="#000000" stroke="#000000" stroke-width="0.5"/><circle cx="111.4" cy="314.8" r="2.1" fill="#000000" stroke="#000000" stroke-width="0.5"/><circle cx="110.9" cy="314.2" r="2.1" fill="#000000" stroke="#000000" stroke-width="0.5"/><circle cx="110.4" cy="313.7" r="2.1" fill="#000000" stroke="#000000" stroke-width="0.5"/><circle cx="109.9" cy="313.2" r="2.1" fill="#000000" stroke="#000000" stroke-width="0.5"/><circle cx="109.4" cy="312.8" r="2.1" fill="#000000" stroke="#000000" stroke-width="0.5"/><circle cx="108.9" cy="312.3" r="2.1" fill="#000000" stroke="#000000" stroke-width="0.5"/><circle cx="108.4" cy="311.8" r="2.1" fill="#000000" stroke="#000000" stroke-width="0.5"/><circle cx="107.8" cy="311.4" r="2.1" fill="#000000" stroke="#000000" stroke-width="0.5"/><circle cx="107.3" cy="310.9" r="2.1" fill="#000000" stroke="#000000" stroke-width="0.5"/><circle cx="106.8" cy="310.5" r="2.1" fill="#000000" stroke="#000000" stroke-width="0.5"/><circle cx="106.3" cy="310.1" r="2.1" fill="#000000" stroke="#000000" stroke-width="0.5"/><circle cx="105.8" cy="309.7" r="2.1" fill="#000000" stroke="#000000" stroke-width="0.5"/><circle cx="105.3" cy="309.3" r="2.1" fill="#000000" stroke="#000000" stroke-width="0.5"/><circle cx="104.8" cy="308.9" r="2.1" fill="#000000" stroke="#000000" stroke-width="0.5"/><circle cx="104.3" cy="308.5" r="2.1" fill="#000000" stroke="#000000" stroke-width="0.5"/><circle cx="103.8" cy="308.1" r="2.1" fill="#000000" stroke="#000000" stroke-width="0.5"/><circle cx="103.2" cy="307.8" r="2.1" fill="#000000" stroke="#000000" stroke-width="0.5"/><circle cx="102.7" cy="307.4" r="2.1" fill="#000000" stroke="#000000" stroke-width="0.5"/><circle cx="102.2" cy="307.1" r="2.1" fill="#000000" stroke="#000000" stroke-width="0.5"/><circle cx="101.7" cy="306.8" r="2.1" fill="#000000" stroke="#000000" stroke-width="0.5"/><circle cx="101.2" cy="306.4" r="2.1" fill="#000000" stroke="#000000" stroke-width="0.5"/><circle cx="100.7" cy="306.1" r="2.1" fill="#000000" stroke="#000000" stroke-width="0.5"/><circle cx="100.2" cy="305.8" r="2.1" fill="#000000" stroke="#000000" stroke-width="0.5"/><circle cx="99.7" cy="305.5" r="2.1" fill="#000000" stroke="#000000" stroke-width="0.5"/><circle cx="99.2" cy="305.2" r="2.1" fill="#000000" stroke="#000000" stroke-width="0.5"/><circle cx="98.7" cy="304.9" r="2.1" fill="#000000" stroke="#000000" stroke-width="0.5"/><circle cx="98.1" cy="304.6" r="2.1" fill="#000000" stroke="#000000" stroke-width="0.5"/><circle cx="97.6" cy="304.2" r="2.1" fill="#000000" stroke="#000000" stroke-width="0.5"/><circle cx="97.1" cy="303.9" r="2.1" fill="#000000" stroke="#000000" stroke-width="0.5"/><circle cx="96.6" cy="303.6" r="2.1" fill="#000000" stroke="#000000" stroke-width="0.5"/><circle cx="96.1" cy="303.3" r="2.1" fill="#000000" stroke="#000000" stroke-width="0.5"/><circle cx="95.6" cy="303.0" r="2.1" fill="#000000" stroke="#000000" stroke-width="0.5"/><circle cx="95.1" cy="302.7" r="2.1" fill="#000000" stroke="#000000" stroke-width="0.5"/><circle cx="94.6" cy="302.4" r="2.1" fill="#000000" stroke="#000000" stroke-width="0.5"/><circle cx="94.1" cy="302.1" r="2.1" fill="#000000" stroke="#000000" stroke-width="0.5"/><circle cx="93.5" cy="301.8" r="2.1" fill="#000000" stroke="#000000" stroke-width="0.5"/><circle cx="93.0" cy="301.5" r="2.1" fill="#000000" stroke="#000000" stroke-width="0.5"/><circle cx="92.5" cy="301.2" r="2.1" fill="#000000" stroke="#000000" stroke-width="0.5"/><circle cx="92.0" cy="300.9" r="2.1" fill="#000000" stroke="#000000" stroke-width="0.5"/><circle cx="91.5" cy="300.7" r="2.1" fill="#000000" stroke="#000000" stroke-width="0.5"/><circle cx="91.0" cy="300.4" r="2.1" fill="#000000" stroke="#000000" stroke-width="0.5"/><circle cx="90.5" cy="300.1" r="2.1" fill="#000000" stroke="#000000" stroke-width="0.5"/><circle cx="90.0" cy="299.9" r="2.1" fill="#000000" stroke="#000000" stroke-width="0.5"/><circle cx="89.5" cy="299.6" r="2.1" fill="#000000" stroke="#000000" stroke-width="0.5"/><circle cx="88.9" cy="299.4" r="2.1" fill="#000000" stroke="#000000" stroke-width="0.5"/><circle cx="88.4" cy="299.1" r="2.1" fill="#000000" stroke="#000000" stroke-width="0.5"/><circle cx="87.9" cy="298.9" r="2.1" fill="#000000" stroke="#000000" stroke-width="0.5"/><circle cx="87.4" cy="298.6" r="2.1" fill="#000000" stroke="#000000" stroke-width="0.5"/><circle cx="86.9" cy="298.4" r="2.1" fill="#000000" stroke="#000000" stroke-width="0.5"/><circle cx="86.4" cy="298.2" r="2.1" fill="#000000" stroke="#000000" stroke-width="0.5"/><circle cx="85.9" cy="297.9" r="2.1" fill="#000000" stroke="#000000" stroke-width="0.5"/><circle cx="85.4" cy="297.7" r="2.1" fill="#000000" stroke="#000000" stroke-width="0.5"/><circle cx="84.9" cy="297.5" r="2.1" fill="#000000" stroke="#000000" stroke-width="0.5"/><circle cx="84.3" cy="297.3" r="2.1" fill="#000000" stroke="#000000" stroke-width="0.5"/><circle cx="83.8" cy="297.1" r="2.1" fill="#000000" stroke="#000000" stroke-width="0.5"/><circle cx="83.3" cy="296.9" r="2.1" fill="#000000" stroke="#000000" stroke-width="0.5"/><circle cx="82.8" cy="296.7" r="2.1" fill="#000000" stroke="#000000" stroke-width="0.5"/><circle cx="82.3" cy="296.5" r="2.1" fill="#000000" stroke="#000000" stroke-width="0.5"/><circle cx="81.8" cy="296.3" r="2.1" fill="#000000" stroke="#000000" stroke-width="0.5"/><circle cx="81.3" cy="296.1" r="2.1" fill="#000000" stroke="#000000" stroke-width="0.5"/><circle cx="80.8" cy="295.9" r="2.1" fill="#000000" stroke="#000000" stroke-width="0.5"/><circle cx="80.3" cy="295.7" r="2.1" fill="#000000" stroke="#000000" stroke-width="0.5"/><circle cx="79.7" cy="295.6" r="2.1" fill="#000000" stroke="#000000" stroke-width="0.5"/><circle cx="79.2" cy="295.4" r="2.1" fill="#000000" stroke="#000000" stroke-width="0.5"/><circle cx="78.7" cy="295.3" r="2.1" fill="#000000" stroke="#000000" stroke-width="0.5"/><circle cx="78.2" cy="295.2" r="2.1" fill="#000000" stroke="#000000" stroke-width="0.5"/><circle cx="77.7" cy="295.1" r="2.1" fill="#000000" stroke="#000000" stroke-width="0.5"/><circle cx="77.2" cy="295.0" r="2.1" fill="#000000" stroke="#000000" stroke-width="0.5"/><circle cx="76.7" cy="294.9" r="2.1" fill="#000000" stroke="#000000" stroke-width="0.5"/><circle cx="76.2" cy="294.8" r="2.1" fill="#000000" stroke="#000000" stroke-width="0.5"/><circle cx="75.7" cy="294.7" r="2.1" fill="#000000" stroke="#000000" stroke-width="0.5"/><circle cx="75.1" cy="294.7" r="2.1" fill="#000000" stroke="#000000" stroke-width="0.5"/><circle cx="74.6" cy="294.6" r="2.1" fill="#000000" stroke="#000000" stroke-width="0.5"/><circle cx="74.1" cy="294.6" r="2.1" fill="#000000" stroke="#000000" stroke-width="0.5"/><circle cx="73.6" cy="294.6" r="2.1" fill="#000000" stroke="#000000" stroke-width="0.5"/><circle cx="73.1" cy="294.5" r="2.1" fill="#000000" stroke="#000000" stroke-width="0.5"/><circle cx="72.6" cy="294.5" r="2.1" fill="#000000" stroke="#000000" stroke-width="0.5"/><circle cx="72.1" cy="294.5" r="2.1" fill="#000000" stroke="#000000" stroke-width="0.5"/><circle cx="71.6" cy="294.5" r="2.1" fill="#000000" stroke="#000000" stroke-width="0.5"/><circle cx="71.1" cy="294.4" r="2.1" fill="#000000" stroke="#000000" stroke-width="0.5"/><circle cx="70.5" cy="294.4" r="2.1" fill="#000000" stroke="#000000" stroke-width="0.5"/><circle cx="70.0" cy="294.4" r="2.1" fill="#000000" stroke="#000000" stroke-width="0.5"/><circle cx="69.5" cy="294.3" r="2.1" fill="#000000" stroke="#000000" stroke-width="0.5"/><circle cx="69.0" cy="294.2" r="2.1" fill="#000000" stroke="#000000" stroke-width="0.5"/><circle cx="68.5" cy="294.2" r="2.1" fill="#000000" stroke="#000000" stroke-width="0.5"/><circle cx="68.0" cy="294.1" r="2.1" fill="#000000" stroke="#000000" stroke-width="0.5"/><circle cx="67.5" cy="294.0" r="2.1" fill="#000000" stroke="#000000" stroke-width="0.5"/><circle cx="67.0" cy="293.9" r="2.1" fill="#000000" stroke="#000000" stroke-width="0.5"/><circle cx="66.5" cy="293.7" r="2.1" fill="#000000" stroke="#000000" stroke-width="0.5"/><circle cx="65.9" cy="293.6" r="2.1" fill="#000000" stroke="#000000" stroke-width="0.5"/><circle cx="65.4" cy="293.5" r="2.1" fill="#000000" stroke="#000000" stroke-width="0.5"/><circle cx="64.9" cy="293.3" r="2.1" fill="#000000" stroke="#000000" stroke-width="0.5"/><circle cx="64.4" cy="293.2" r="2.1" fill="#000000" stroke="#000000" stroke-width="0.5"/><circle cx="63.9" cy="293.0" r="2.1" fill="#000000" stroke="#000000" stroke-width="0.5"/><circle cx="63.4" cy="292.9" r="2.1" fill="#000000" stroke="#000000" stroke-width="0.5"/><circle cx="62.9" cy="292.7" r="2.1" fill="#000000" stroke="#000000" stroke-width="0.5"/><circle cx="62.4" cy="292.6" r="2.1" fill="#000000" stroke="#000000" stroke-width="0.5"/><circle cx="61.9" cy="292.4" r="2.1" fill="#000000" stroke="#000000" stroke-width="0.5"/><circle cx="61.3" cy="292.3" r="2.1" fill="#000000" stroke="#000000" stroke-width="0.5"/><circle cx="60.8" cy="292.1" r="2.1" fill="#000000" stroke="#000000" stroke-width="0.5"/><circle cx="60.3" cy="291.9" r="2.1" fill="#000000" stroke="#000000" stroke-width="0.5"/><circle cx="59.8" cy="291.8" r="2.1" fill="#000000" stroke="#000000" stroke-width="0.5"/><circle cx="59.3" cy="291.6" r="2.1" fill="#000000" stroke="#000000" stroke-width="0.5"/><circle cx="58.8" cy="291.4" r="2.1" fill="#000000" stroke="#000000" stroke-width="0.5"/><circle cx="58.3" cy="291.3" r="2.1" fill="#000000" stroke="#000000" stroke-width="0.5"/><circle cx="57.8" cy="291.1" r="2.1" fill="#000000" stroke="#000000" stroke-width="0.5"/><circle cx="57.3" cy="290.9" r="2.1" fill="#000000" stroke="#000000" stroke-width="0.5"/><circle cx="56.7" cy="290.7" r="2.1" fill="#000000" stroke="#000000" stroke-width="0.5"/><circle cx="56.2" cy="290.6" r="2.1" fill="#000000" stroke="#000000" stroke-width="0.5"/><circle cx="55.7" cy="290.4" r="2.1" fill="#000000" stroke="#000000" stroke-width="0.5"/><circle cx="55.2" cy="290.2" r="2.1" fill="#000000" stroke="#000000" stroke-width="0.5"/><circle cx="54.7" cy="290.1" r="2.1" fill="#000000" stroke="#000000" stroke-width="0.5"/><circle cx="54.2" cy="289.9" r="2.1" fill="#000000" stroke="#000000" stroke-width="0.5"/><circle cx="53.7" cy="289.7" r="2.1" fill="#000000" stroke="#000000" stroke-width="0.5"/><circle cx="53.2" cy="289.5" r="2.1" fill="#000000" stroke="#000000" stroke-width="0.5"/><circle cx="52.7" cy="289.4" r="2.1" fill="#000000" stroke="#000000" stroke-width="0.5"/><circle cx="52.1" cy="289.2" r="2.1" fill="#000000" stroke="#000000" stroke-width="0.5"/><circle cx="51.6" cy="289.0" r="2.1" fill="#000000" stroke="#000000" stroke-width="0.5"/><circle cx="51.1" cy="288.9" r="2.1" fill="#000000" stroke="#000000" stroke-width="0.5"/><circle cx="50.6" cy="288.7" r="2.1" fill="#000000" stroke="#000000" stroke-width="0.5"/></g>
<polyline points="122.7,336.6 122.2,333.9 121.6,332.3 121.1,330.7 120.6,329.3 120.1,328.0 119.6,326.8 119.1,325.7 118.6,324.7 118.1,323.8 117.6,323.0 117.0,322.2 116.5,321.4 116.0,320.7 115.5,319.9 115.0,319.2 114.5,318.5 114.0,317.8 113.5,317.1 113.0,316.5 112.4,315.9 111.9,315.3 111.4,314.8 110.9,314.2 110.4,313.7 109.9,313.2 109.4,312.8 108.9,312.3 108.4,311.8 107.8,311.4 107.3,310.9 106.8,310.5 106.3,310.1 105.8,309.7 105.3,309.3 104.8,308.9 104.3,308.5 103.8,308.1 103.2,307.8 102.7,307.4 102.2,307.1 101.7,306.8 101.2,306.4 100.7,306.1 100.2,305.8 99.7,305.5 99.2,305.2 98.7,304.9 98.1,304.6 97.6,304.2 97.1,303.9 96.6,303.6 96.1,303.3 95.6,303.0 95.1,302.7 94.6,302.4 94.1,302.1 93.5,301.8 93.0,301.5 92.5,301.2 92.0,300.9 91.5,300.7 91.0,300.4 90.5,300.1 90.0,299.9 89.5,299.6 88.9,299.4 88.4,299.1 87.9,298.9 87.4,298.6 86.9,298.4 86.4,298.2 85.9,297.9 85.4,297.7 84.9,297.5 84.3,297.3 83.8,297.1 83.3,296.9 82.8,296.7 82.3,296.5 81.8,296.3 81.3,296.1 80.8,295.9 80.3,295.7 79.7,295.6 79.2,295.4 78.7,295.3 78.2,295.2 77.7,295.1 77.2,295.0 76.7,294.9 76.2,294.8 75.7,294.7 75.1,294.7 74.6,294.6 74.1,294.6 73.6,294.6 73.1,294.5 72.6,294.5 72.1,294.5 71.6,294.5 71.1,294.4 70.5,294.4 70.0,294.4 69.5,294.3 69.0,294.2 68.5,294.2 68.0,294.1 67.5,294.0 67.0,293.9 66.5,293.7 65.9,293.6 65.4,293.5 64.9,293.3 64.4,293.2 63.9,293.0 63.4,292.9 62.9,292.7 62.4,292.6 61.9,292.4 61.3,292.3 60.8,292.1 60.3,291.9 59.8,291.8 59.3,291.6 58.8,291.4 58.3,291.3 57.8,291.1 57.3,290.9 56.7,290.7 56.2,290.6 55.7,290.4 55.2,290.2 54.7,290.1 54.2,289.9 53.7,289.7 53.2,289.5 52.7,289.4 52.1,289.2 51.6,289.0 51.1,288.9 50.6,288.7" fill="none" stroke="#000000" stroke-width="4.4" stroke-linejoin="round" stroke-linecap="round"/>
<polyline points="69.5,266.7 70.0,266.8 70.5,266.8 71.0,266.9 71.5,267.0 72.0,267.0 72.5,267.1 73.0,267.1 73.5,267.2 74.1,267.2 74.6,267.3 75.1,267.4 75.6,267.4 76.1,267.5 76.6,267.5 77.1,267.6 77.6,267.7 78.1,267.7 78.7,267.8 79.2,267.9 79.7,267.9 80.2,268.0 80.7,268.1 81.2,268.2 81.7,268.2 82.2,268.3 82.8,268.4 83.3,268.5 83.8,268.6 84.3,268.7 84.8,268.8 85.3,268.9 85.8,269.0 86.3,269.2 86.8,269.3 87.4,269.4 87.9,269.6 88.4,269.7 88.9,269.9 89.4,270.0 89.9,270.2 90.4,270.4 90.9,270.6 91.5,270.8 92.0,271.0 92.5,271.2 93.0,271.5 93.5,271.7 94.0,272.0 94.5,272.2 95.0,272.5 95.5,272.8 96.1,273.0 96.6,273.3 97.1,273.6 97.6,273.9 98.1,274.2 98.6,274.5 99.1,274.8 99.6,275.1 100.2,275.3 100.7,275.6 101.2,275.8 101.7,276.1 102.2,276.5 102.7,276.8 103.2,277.3 103.7,277.8 104.2,278.3 104.8,279.0 105.3,279.7 105.8,280.5 106.3,281.2 106.8,282.1 107.3,282.9 107.8,283.8 108.3,284.7 108.8,285.6 109.4,286.6 109.9,287.6 110.4,288.6 110.9,289.7 111.4,290.8 111.9,291.9 112.4,293.0 112.9,294.2 113.5,295.5 114.0,296.8 114.5,298.3 115.0,299.8 115.5,301.3 116.0,302.9 116.5,304.5 117.0,306.2 117.5,307.9 118.1,309.7 118.6,311.5 119.1,313.4 119.6,315.4 120.1,317.7 120.6,320.2 121.1,322.6 121.6,324.7 122.2,327.5 122.7,332.2 123.2,340.2 123.7,357.4 124.2,377.1" fill="none" stroke="#000000" stroke-width="0.8" stroke-linejoin="round"/>
<g><circle cx="69.5" cy="266.7" r="2.1" fill="#000000" stroke="#000000" stroke-width="0.5"/><circle cx="70.0" cy="266.8" r="2.1" fill="#000000" stroke="#000000" stroke-width="0.5"/><circle cx="70.5" cy="266.8" r="2.1" fill="#000000" stroke="#000000" stroke-width="0.5"/><circle cx="71.0" cy="266.9" r="2.1" fill="#000000" stroke="#000000" stroke-width="0.5"/><circle cx="71.5" cy="267.0" r="2.1" fill="#000000" stroke="#000000" stroke-width="0.5"/><circle cx="72.0" cy="267.0" r="2.1" fill="#000000" stroke="#000000" stroke-width="0.5"/><circle cx="72.5" cy="267.1" r="2.1" fill="#000000" stroke="#000000" stroke-width="0.5"/><circle cx="73.0" cy="267.1" r="2.1" fill="#000000" stroke="#000000" stroke-width="0.5"/><circle cx="73.5" cy="267.2" r="2.1" fill="#000000" stroke="#000000" stroke-width="0.5"/><circle cx="74.1" cy="267.2" r="2.1" fill="#000000" stroke="#000000" stroke-width="0.5"/><circle cx="74.6" cy="267.3" r="2.1" fill="#000000" stroke="#000000" stroke-width="0.5"/><circle cx="75.1" cy="267.4" r="2.1" fill="#000000" stroke="#000000" stroke-width="0.5"/><circle cx="75.6" cy="267.4" r="2.1" fill="#000000" stroke="#000000" stroke-width="0.5"/><circle cx="76.1" cy="267.5" r="2.1" fill="#000000" stroke="#000000" stroke-width="0.5"/><circle cx="76.6" cy="267.5" r="2.1" fill="#000000" stroke="#000000" stroke-width="0.5"/><circle cx="77.1" cy="267.6" r="2.1" fill="#000000" stroke="#000000" stroke-width="0.5"/><circle cx="77.6" cy="267.7" r="2.1" fill="#000000" stroke="#000000" stroke-width="0.5"/><circle cx="78.1" cy="267.7" r="2.1" fill="#000000" stroke="#000000" stroke-width="0.5"/><circle cx="78.7" cy="267.8" r="2.1" fill="#000000" stroke="#000000" stroke-width="0.5"/><circle cx="79.2" cy="267.9" r="2.1" fill="#000000" stroke="#000000" stroke-width="0.5"/><circle cx="79.7" cy="267.9" r="2.1" fill="#000000" stroke="#000000" stroke-width="0.5"/><circle cx="80.2" cy="268.0" r="2.1" fill="#000000" stroke="#000000" stroke-width="0.5"/><circle cx="80.7" cy="268.1" r="2.1" fill="#000000" stroke="#000000" stroke-width="0.5"/><circle cx="81.2" cy="268.2" r="2.1" fill="#000000" stroke="#000000" stroke-width="0.5"/><circle cx="81.7" cy="268.2" r="2.1" fill="#000000" stroke="#000000" stroke-width="0.5"/><circle cx="82.2" cy="268.3" r="2.1" fill="#000000" stroke="#000000" stroke-width="0.5"/><circle cx="82.8" cy="268.4" r="2.1" fill="#000000" stroke="#000000" stroke-width="0.5"/><circle cx="83.3" cy="268.5" r="2.1" fill="#000000" stroke="#000000" stroke-width="0.5"/><circle cx="83.8" cy="268.6" r="2.1" fill="#000000" stroke="#000000" stroke-width="0.5"/><circle cx="84.3" cy="268.7" r="2.1" fill="#000000" stroke="#000000" stroke-width="0.5"/><circle cx="84.8" cy="268.8" r="2.1" fill="#000000" stroke="#000000" stroke-width="0.5"/><circle cx="85.3" cy="268.9" r="2.1" fill="#000000" stroke="#000000" stroke-width="0.5"/><circle cx="85.8" cy="269.0" r="2.1" fill="#000000" stroke="#000000" stroke-width="0.5"/><circle cx="86.3" cy="269.2" r="2.1" fill="#000000" stroke="#000000" stroke-width="0.5"/><circle cx="86.8" cy="269.3" r="2.1" fill="#000000" stroke="#000000" stroke-width="0.5"/><circle cx="87.4" cy="269.4" r="2.1" fill="#000000" stroke="#000000" stroke-width="0.5"/><circle cx="87.9" cy="269.6" r="2.1" fill="#000000" stroke="#000000" stroke-width="0.5"/><circle cx="88.4" cy="269.7" r="2.1" fill="#000000" stroke="#000000" stroke-width="0.5"/><circle cx="88.9" cy="269.9" r="2.1" fill="#000000" stroke="#000000" stroke-width="0.5"/><circle cx="89.4" cy="270.0" r="2.1" fill="#000000" stroke="#000000" stroke-width="0.5"/><circle cx="89.9" cy="270.2" r="2.1" fill="#000000" stroke="#000000" stroke-width="0.5"/><circle cx="90.4" cy="270.4" r="2.1" fill="#000000" stroke="#000000" stroke-width="0.5"/><circle cx="90.9" cy="270.6" r="2.1" fill="#000000" stroke="#000000" stroke-width="0.5"/><circle cx="91.5" cy="270.8" r="2.1" fill="#000000" stroke="#000000" stroke-width="0.5"/><circle cx="92.0" cy="271.0" r="2.1" fill="#000000" stroke="#000000" stroke-width="0.5"/><circle cx="92.5" cy="271.2" r="2.1" fill="#000000" stroke="#000000" stroke-width="0.5"/><circle cx="93.0" cy="271.5" r="2.1" fill="#000000" stroke="#000000" stroke-width="0.5"/><circle cx="93.5" cy="271.7" r="2.1" fill="#000000" stroke="#000000" stroke-width="0.5"/><circle cx="94.0" cy="272.0" r="2.1" fill="#000000" stroke="#000000" stroke-width="0.5"/><circle cx="94.5" cy="272.2" r="2.1" fill="#000000" stroke="#000000" stroke-width="0.5"/><circle cx="95.0" cy="272.5" r="2.1" fill="#000000" stroke="#000000" stroke-width="0.5"/><circle cx="95.5" cy="272.8" r="2.1" fill="#000000" stroke="#000000" stroke-width="0.5"/><circle cx="96.1" cy="273.0" r="2.1" fill="#000000" stroke="#000000" stroke-width="0.5"/><circle cx="96.6" cy="273.3" r="2.1" fill="#000000" stroke="#000000" stroke-width="0.5"/><circle cx="97.1" cy="273.6" r="2.1" fill="#000000" stroke="#000000" stroke-width="0.5"/><circle cx="97.6" cy="273.9" r="2.1" fill="#000000" stroke="#000000" stroke-width="0.5"/><circle cx="98.1" cy="274.2" r="2.1" fill="#000000" stroke="#000000" stroke-width="0.5"/><circle cx="98.6" cy="274.5" r="2.1" fill="#000000" stroke="#000000" stroke-width="0.5"/><circle cx="99.1" cy="274.8" r="2.1" fill="#000000" stroke="#000000" stroke-width="0.5"/><circle cx="99.6" cy="275.1" r="2.1" fill="#000000" stroke="#000000" stroke-width="0.5"/><circle cx="100.2" cy="275.3" r="2.1" fill="#000000" stroke="#000000" stroke-width="0.5"/><circle cx="100.7" cy="275.6" r="2.1" fill="#000000" stroke="#000000" stroke-width="0.5"/><circle cx="101.2" cy="275.8" r="2.1" fill="#000000" stroke="#000000" stroke-width="0.5"/><circle cx="101.7" cy="276.1" r="2.1" fill="#000000" stroke="#000000" stroke-width="0.5"/><circle cx="102.2" cy="276.5" r="2.1" fill="#000000" stroke="#000000" stroke-width="0.5"/><circle cx="102.7" cy="276.8" r="2.1" fill="#000000" stroke="#000000" stroke-width="0.5"/><circle cx="103.2" cy="277.3" r="2.1" fill="#000000" stroke="#000000" stroke-width="0.5"/><circle cx="103.7" cy="277.8" r="2.1" fill="#000000" stroke="#000000" stroke-width="0.5"/><circle cx="104.2" cy="278.3" r="2.1" fill="#000000" stroke="#000000" stroke-width="0.5"/><circle cx="104.8" cy="279.0" r="2.1" fill="#000000" stroke="#000000" stroke-width="0.5"/><circle cx="105.3" cy="279.7" r="2.1" fill="#000000" stroke="#000000" stroke-width="0.5"/><circle cx="105.8" cy="280.5" r="2.1" fill="#000000" stroke="#000000" stroke-width="0.5"/><circle cx="106.3" cy="281.2" r="2.1" fill="#000000" stroke="#000000" stroke-width="0.5"/><circle cx="106.8" cy="282.1" r="2.1" fill="#000000" stroke="#000000" stroke-width="0.5"/><circle cx="107.3" cy="282.9" r="2.1" fill="#000000" stroke="#000000" stroke-width="0.5"/><circle cx="107.8" cy="283.8" r="2.1" fill="#000000" stroke="#000000" stroke-width="0.5"/><circle cx="108.3" cy="284.7" r="2.1" fill="#000000" stroke="#000000" stroke-width="0.5"/><circle cx="108.8" cy="285.6" r="2.1" fill="#000000" stroke="#000000" stroke-width="0.5"/><circle cx="109.4" cy="286.6" r="2.1" fill="#000000" stroke="#000000" stroke-width="0.5"/><circle cx="109.9" cy="287.6" r="2.1" fill="#000000" stroke="#000000" stroke-width="0.5"/><circle cx="110.4" cy="288.6" r="2.1" fill="#000000" stroke="#000000" stroke-width="0.5"/><circle cx="110.9" cy="289.7" r="2.1" fill="#000000" stroke="#000000" stroke-width="0.5"/><circle cx="111.4" cy="290.8" r="2.1" fill="#000000" stroke="#000000" stroke-width="0.5"/><circle cx="111.9" cy="291.9" r="2.1" fill="#000000" stroke="#000000" stroke-width="0.5"/><circle cx="112.4" cy="293.0" r="2.1" fill="#000000" stroke="#000000" stroke-width="0.5"/><circle cx="112.9" cy="294.2" r="2.1" fill="#000000" stroke="#000000" stroke-width="0.5"/><circle cx="113.5" cy="295.5" r="2.1" fill="#000000" stroke="#000000" stroke-width="0.5"/><circle cx="114.0" cy="296.8" r="2.1" fill="#000000" stroke="#000000" stroke-width="0.5"/><circle cx="114.5" cy="298.3" r="2.1" fill="#000000" stroke="#000000" stroke-width="0.5"/><circle cx="115.0" cy="299.8" r="2.1" fill="#000000" stroke="#000000" stroke-width="0.5"/><circle cx="115.5" cy="301.3" r="2.1" fill="#000000" stroke="#000000" stroke-width="0.5"/><circle cx="116.0" cy="302.9" r="2.1" fill="#000000" stroke="#000000" stroke-width="0.5"/><circle cx="116.5" cy="304.5" r="2.1" fill="#000000" stroke="#000000" stroke-width="0.5"/><circle cx="117.0" cy="306.2" r="2.1" fill="#000000" stroke="#000000" stroke-width="0.5"/><circle cx="117.5" cy="307.9" r="2.1" fill="#000000" stroke="#000000" stroke-width="0.5"/><circle cx="118.1" cy="309.7" r="2.1" fill="#000000" stroke="#000000" stroke-width="0.5"/><circle cx="118.6" cy="311.5" r="2.1" fill="#000000" stroke="#000000" stroke-width="0.5"/><circle cx="119.1" cy="313.4" r="2.1" fill="#000000" stroke="#000000" stroke-width="0.5"/><circle cx="119.6" cy="315.4" r="2.1" fill="#000000" stroke="#000000" stroke-width="0.5"/><circle cx="120.1" cy="317.7" r="2.1" fill="#000000" stroke="#000000" stroke-width="0.5"/><circle cx="120.6" cy="320.2" r="2.1" fill="#000000" stroke="#000000" stroke-width="0.5"/><circle cx="121.1" cy="322.6" r="2.1" fill="#000000" stroke="#000000" stroke-width="0.5"/><circle cx="121.6" cy="324.7" r="2.1" fill="#000000" stroke="#000000" stroke-width="0.5"/><circle cx="122.2" cy="327.5" r="2.1" fill="#000000" stroke="#000000" stroke-width="0.5"/><circle cx="122.7" cy="332.2" r="2.1" fill="#000000" stroke="#000000" stroke-width="0.5"/><circle cx="123.2" cy="340.2" r="2.1" fill="#000000" stroke="#000000" stroke-width="0.5"/><circle cx="123.7" cy="357.4" r="2.1" fill="#000000" stroke="#000000" stroke-width="0.5"/><circle cx="124.2" cy="377.1" r="2.1" fill="#000000" stroke="#000000" stroke-width="0.5"/></g>
<polyline points="69.5,266.7 70.0,266.8 70.5,266.8 71.0,266.9 71.5,267.0 72.0,267.0 72.5,267.1 73.0,267.1 73.5,267.2 74.1,267.2 74.6,267.3 75.1,267.4 75.6,267.4 76.1,267.5 76.6,267.5 77.1,267.6 77.6,267.7 78.1,267.7 78.7,267.8 79.2,267.9 79.7,267.9 80.2,268.0 80.7,268.1 81.2,268.2 81.7,268.2 82.2,268.3 82.8,268.4 83.3,268.5 83.8,268.6 84.3,268.7 84.8,268.8 85.3,268.9 85.8,269.0 86.3,269.2 86.8,269.3 87.4,269.4 87.9,269.6 88.4,269.7 88.9,269.9 89.4,270.0 89.9,270.2 90.4,270.4 90.9,270.6 91.5,270.8 92.0,271.0 92.5,271.2 93.0,271.5 93.5,271.7 94.0,272.0 94.5,272.2 95.0,272.5 95.5,272.8 96.1,273.0 96.6,273.3 97.1,273.6 97.6,273.9 98.1,274.2 98.6,274.5 99.1,274.8 99.6,275.1 100.2,275.3 100.7,275.6 101.2,275.8 101.7,276.1 102.2,276.5 102.7,276.8 103.2,277.3 103.7,277.8 104.2,278.3 104.8,279.0 105.3,279.7 105.8,280.5 106.3,281.2 106.8,282.1 107.3,282.9 107.8,283.8 108.3,284.7 108.8,285.6 109.4,286.6 109.9,287.6 110.4,288.6 110.9,289.7 111.4,290.8 111.9,291.9 112.4,293.0 112.9,294.2 113.5,295.5 114.0,296.8 114.5,298.3 115.0,299.8 115.5,301.3 116.0,302.9 116.5,304.5 117.0,306.2 117.5,307.9 118.1,309.7 118.6,311.5 119.1,313.4 119.6,315.4 120.1,317.7 120.6,320.2 121.1,322.6 121.6,324.7 122.2,327.5" fill="none" stroke="#000000" stroke-width="4.4" stroke-linejoin="round" stroke-linecap="round"/>
<polyline points="124.2,377.1 124.7,343.6 125.2,331.5 125.7,325.5 126.2,320.8 126.7,317.1 127.3,314.2 127.8,311.8 128.3,309.7 128.8,307.7 129.3,305.7 129.8,304.0 130.3,302.7 130.8,301.6 131.3,300.8 131.8,300.0 132.3,299.4 132.8,298.7 133.4,298.1 133.9,297.3 134.4,296.4 134.9,295.6 135.4,294.7 135.9,293.9 136.4,293.1 136.9,292.3 137.4,291.5 137.9,290.7 138.4,290.0 138.9,289.2 139.5,288.4 140.0,287.7 140.5,286.9 141.0,286.2 141.5,285.5 142.0,284.8 142.5,284.1 143.0,283.5 143.5,283.0 144.0,282.4 144.5,281.9 145.0,281.4 145.6,280.9 146.1,280.5 146.6,280.0 147.1,279.6 147.6,279.2 148.1,278.7 148.6,278.3 149.1,277.9 149.6,277.6 150.1,277.2 150.6,276.9 151.1,276.8 151.7,276.6 152.2,276.4 152.7,276.2" fill="none" stroke="#000000" stroke-width="0.8" stroke-linejoin="round"/>
<g><circle cx="124.2" cy="377.1" r="2.1" fill="#000000" stroke="#000000" stroke-width="0.5"/><circle cx="124.7" cy="343.6" r="2.1" fill="#000000" stroke="#000000" stroke-width="0.5"/><circle cx="125.2" cy="331.5" r="2.1" fill="#000000" stroke="#000000" stroke-width="0.5"/><circle cx="125.7" cy="325.5" r="2.1" fill="#000000" stroke="#000000" stroke-width="0.5"/><circle cx="126.2" cy="320.8" r="2.1" fill="#000000" stroke="#000000" stroke-width="0.5"/><circle cx="126.7" cy="317.1" r="2.1" fill="#000000" stroke="#000000" stroke-width="0.5"/><circle cx="127.3" cy="314.2" r="2.1" fill="#000000" stroke="#000000" stroke-width="0.5"/><circle cx="127.8" cy="311.8" r="2.1" fill="#000000" stroke="#000000" stroke-width="0.5"/><circle cx="128.3" cy="309.7" r="2.1" fill="#000000" stroke="#000000" stroke-width="0.5"/><circle cx="128.8" cy="307.7" r="2.1" fill="#000000" stroke="#000000" stroke-width="0.5"/><circle cx="129.3" cy="305.7" r="2.1" fill="#000000" stroke="#000000" stroke-width="0.5"/><circle cx="129.8" cy="304.0" r="2.1" fill="#000000" stroke="#000000" stroke-width="0.5"/><circle cx="130.3" cy="302.7" r="2.1" fill="#000000" stroke="#000000" stroke-width="0.5"/><circle cx="130.8" cy="301.6" r="2.1" fill="#000000" stroke="#000000" stroke-width="0.5"/><circle cx="131.3" cy="300.8" r="2.1" fill="#000000" stroke="#000000" stroke-width="0.5"/><circle cx="131.8" cy="300.0" r="2.1" fill="#000000" stroke="#000000" stroke-width="0.5"/><circle cx="132.3" cy="299.4" r="2.1" fill="#000000" stroke="#000000" stroke-width="0.5"/><circle cx="132.8" cy="298.7" r="2.1" fill="#000000" stroke="#000000" stroke-width="0.5"/><circle cx="133.4" cy="298.1" r="2.1" fill="#000000" stroke="#000000" stroke-width="0.5"/><circle cx="133.9" cy="297.3" r="2.1" fill="#000000" stroke="#000000" stroke-width="0.5"/><circle cx="134.4" cy="296.4" r="2.1" fill="#000000" stroke="#000000" stroke-width="0.5"/><circle cx="134.9" cy="295.6" r="2.1" fill="#000000" stroke="#000000" stroke-width="0.5"/><circle cx="135.4" cy="294.7" r="2.1" fill="#000000" stroke="#000000" stroke-width="0.5"/><circle cx="135.9" cy="293.9" r="2.1" fill="#000000" stroke="#000000" stroke-width="0.5"/><circle cx="136.4" cy="293.1" r="2.1" fill="#000000" stroke="#000000" stroke-width="0.5"/><circle cx="136.9" cy="292.3" r="2.1" fill="#000000" stroke="#000000" stroke-width="0.5"/><circle cx="137.4" cy="291.5" r="2.1" fill="#000000" stroke="#000000" stroke-width="0.5"/><circle cx="137.9" cy="290.7" r="2.1" fill="#000000" stroke="#000000" stroke-width="0.5"/><circle cx="138.4" cy="290.0" r="2.1" fill="#000000" stroke="#000000" stroke-width="0.5"/><circle cx="138.9" cy="289.2" r="2.1" fill="#000000" stroke="#000000" stroke-width="0.5"/><circle cx="139.5" cy="288.4" r="2.1" fill="#000000" stroke="#000000" stroke-width="0.5"/><circle cx="140.0" cy="287.7" r="2.1" fill="#000000" stroke="#000000" stroke-width="0.5"/><circle cx="140.5" cy="286.9" r="2.1" fill="#000000" stroke="#000000" stroke-width="0.5"/><circle cx="141.0" cy="286.2" r="2.1" fill="#000000" stroke="#000000" stroke-width="0.5"/><circle cx="141.5" cy="285.5" r="2.1" fill="#000000" stroke="#000000" stroke-width="0.5"/><circle cx="142.0" cy="284.8" r="2.1" fill="#000000" stroke="#000000" stroke-width="0.5"/><circle cx="142.5" cy="284.1" r="2.1" fill="#000000" stroke="#000000" stroke-width="0.5"/><circle cx="143.0" cy="283.5" r="2.1" fill="#000000" stroke="#000000" stroke-width="0.5"/><circle cx="143.5" cy="283.0" r="2.1" fill="#000000" stroke="#000000" stroke-width="0.5"/><circle cx="144.0" cy="282.4" r="2.1" fill="#000000" stroke="#000000" stroke-width="0.5"/><circle cx="144.5" cy="281.9" r="2.1" fill="#000000" stroke="#000000" stroke-width="0.5"/><circle cx="145.0" cy="281.4" r="2.1" fill="#000000" stroke="#000000" stroke-width="0.5"/><circle cx="145.6" cy="280.9" r="2.1" fill="#000000" stroke="#000000" stroke-width="0.5"/><circle cx="146.1" cy="280.5" r="2.1" fill="#000000" stroke="#000000" stroke-width="0.5"/><circle cx="146.6" cy="280.0" r="2.1" fill="#000000" stroke="#000000" stroke-width="0.5"/><circle cx="147.1" cy="279.6" r="2.1" fill="#000000" stroke="#000000" stroke-width="0.5"/><circle cx="147.6" cy="279.2" r="2.1" fill="#000000" stroke="#000000" stroke-width="0.5"/><circle cx="148.1" cy="278.7" r="2.1" fill="#000000" stroke="#000000" stroke-width="0.5"/><circle cx="148.6" cy="278.3" r="2.1" fill="#000000" stroke="#000000" stroke-width="0.5"/><circle cx="149.1" cy="277.9" r="2.1" fill="#000000" stroke="#000000" stroke-width="0.5"/><circle cx="149.6" cy="277.6" r="2.1" fill="#000000" stroke="#000000" stroke-width="0.5"/><circle cx="150.1" cy="277.2" r="2.1" fill="#000000" stroke="#000000" stroke-width="0.5"/><circle cx="150.6" cy="276.9" r="2.1" fill="#000000" stroke="#000000" stroke-width="0.5"/><circle cx="151.1" cy="276.8" r="2.1" fill="#000000" stroke="#000000" stroke-width="0.5"/><circle cx="151.7" cy="276.6" r="2.1" fill="#000000" stroke="#000000" stroke-width="0.5"/><circle cx="152.2" cy="276.4" r="2.1" fill="#000000" stroke="#000000" stroke-width="0.5"/><circle cx="152.7" cy="276.2" r="2.1" fill="#000000" stroke="#000000" stroke-width="0.5"/></g>
<polyline points="126.2,320.8 126.7,317.1 127.3,314.2 127.8,311.8 128.3,309.7 128.8,307.7 129.3,305.7 129.8,304.0 130.3,302.7 130.8,301.6 131.3,300.8 131.8,300.0 132.3,299.4 132.8,298.7 133.4,298.1 133.9,297.3 134.4,296.4 134.9,295.6 135.4,294.7 135.9,293.9 136.4,293.1 136.9,292.3 137.4,291.5 137.9,290.7 138.4,290.0 138.9,289.2 139.5,288.4 140.0,287.7 140.5,286.9 141.0,286.2 141.5,285.5 142.0,284.8 142.5,284.1 143.0,283.5 143.5,283.0 144.0,282.4 144.5,281.9 145.0,281.4 145.6,280.9 146.1,280.5 146.6,280.0 147.1,279.6 147.6,279.2 148.1,278.7 148.6,278.3 149.1,277.9 149.6,277.6 150.1,277.2 150.6,276.9 151.1,276.8 151.7,276.6 152.2,276.4 152.7,276.2" fill="none" stroke="#000000" stroke-width="4.4" stroke-linejoin="round" stroke-linecap="round"/>
<polyline points="152.7,276.2 153.4,276.2 154.1,276.2 154.9,276.2 155.6,276.2 156.3,276.2 157.1,276.2 157.8,276.2 158.5,276.2 159.2,276.2 160.0,276.2 160.7,276.2 161.4,276.2 162.2,276.2 162.9,276.2 163.6,276.2 164.3,276.2 165.1,276.2 165.8,276.2 166.5,276.2 167.3,276.2 168.0,276.2 168.7,276.2 169.5,276.2 170.2,276.2 170.9,276.2 171.7,276.2 172.4,276.2 173.1,276.2 173.8,276.2 174.6,276.2 175.3,276.2 176.0,276.2 176.8,276.2 177.5,276.2 178.2,276.2 178.9,276.2 179.7,276.2 180.4,276.2 181.1,276.2 181.9,276.2 182.6,276.2 183.3,276.2 184.1,276.2 184.8,276.2 185.5,276.2 186.2,276.2 187.0,276.2 187.7,276.2 188.4,276.2 189.2,276.2 189.9,276.2 190.6,276.2 191.4,276.2 192.1,276.2 192.8,276.2 193.6,276.2 194.3,276.2 195.0,276.2 195.7,276.2 196.5,276.2" fill="none" stroke="#000000" stroke-width="0.8" stroke-linejoin="round"/>
<g><circle cx="152.7" cy="276.2" r="2.1" fill="#000000" stroke="#000000" stroke-width="0.5"/><circle cx="153.4" cy="276.2" r="2.1" fill="#000000" stroke="#000000" stroke-width="0.5"/><circle cx="154.1" cy="276.2" r="2.1" fill="#000000" stroke="#000000" stroke-width="0.5"/><circle cx="154.9" cy="276.2" r="2.1" fill="#000000" stroke="#000000" stroke-width="0.5"/><circle cx="155.6" cy="276.2" r="2.1" fill="#000000" stroke="#000000" stroke-width="0.5"/><circle cx="156.3" cy="276.2" r="2.1" fill="#000000" stroke="#000000" stroke-width="0.5"/><circle cx="157.1" cy="276.2" r="2.1" fill="#000000" stroke="#000000" stroke-width="0.5"/><circle cx="157.8" cy="276.2" r="2.1" fill="#000000" stroke="#000000" stroke-width="0.5"/><circle cx="158.5" cy="276.2" r="2.1" fill="#000000" stroke="#000000" stroke-width="0.5"/><circle cx="159.2" cy="276.2" r="2.1" fill="#000000" stroke="#000000" stroke-width="0.5"/><circle cx="160.0" cy="276.2" r="2.1" fill="#000000" stroke="#000000" stroke-width="0.5"/><circle cx="160.7" cy="276.2" r="2.1" fill="#000000" stroke="#000000" stroke-width="0.5"/><circle cx="161.4" cy="276.2" r="2.1" fill="#000000" stroke="#000000" stroke-width="0.5"/><circle cx="162.2" cy="276.2" r="2.1" fill="#000000" stroke="#000000" stroke-width="0.5"/><circle cx="162.9" cy="276.2" r="2.1" fill="#000000" stroke="#000000" stroke-width="0.5"/><circle cx="163.6" cy="276.2" r="2.1" fill="#000000" stroke="#000000" stroke-width="0.5"/><circle cx="164.3" cy="276.2" r="2.1" fill="#000000" stroke="#000000" stroke-width="0.5"/><circle cx="165.1" cy="276.2" r="2.1" fill="#000000" stroke="#000000" stroke-width="0.5"/><circle cx="165.8" cy="276.2" r="2.1" fill="#000000" stroke="#000000" stroke-width="0.5"/><circle cx="166.5" cy="276.2" r="2.1" fill="#000000" stroke="#000000" stroke-width="0.5"/><circle cx="167.3" cy="276.2" r="2.1" fill="#000000" stroke="#000000" stroke-width="0.5"/><circle cx="168.0" cy="276.2" r="2.1" fill="#000000" stroke="#000000" stroke-width="0.5"/><circle cx="168.7" cy="276.2" r="2.1" fill="#000000" stroke="#000000" stroke-width="0.5"/><circle cx="169.5" cy="276.2" r="2.1" fill="#000000" stroke="#000000" stroke-width="0.5"/><circle cx="170.2" cy="276.2" r="2.1" fill="#000000" stroke="#000000" stroke-width="0.5"/><circle cx="170.9" cy="276.2" r="2.1" fill="#000000" stroke="#000000" stroke-width="0.5"/><circle cx="171.7" cy="276.2" r="2.1" fill="#000000" stroke="#000000" stroke-width="0.5"/><circle cx="172.4" cy="276.2" r="2.1" fill="#000000" stroke="#000000" stroke-width="0.5"/><circle cx="173.1" cy="276.2" r="2.1" fill="#000000" stroke="#000000" stroke-width="0.5"/><circle cx="173.8" cy="276.2" r="2.1" fill="#000000" stroke="#000000" stroke-width="0.5"/><circle cx="174.6" cy="276.2" r="2.1" fill="#000000" stroke="#000000" stroke-width="0.5"/><circle cx="175.3" cy="276.2" r="2.1" fill="#000000" stroke="#000000" stroke-width="0.5"/><circle cx="176.0" cy="276.2" r="2.1" fill="#000000" stroke="#000000" stroke-width="0.5"/><circle cx="176.8" cy="276.2" r="2.1" fill="#000000" stroke="#000000" stroke-width="0.5"/><circle cx="177.5" cy="276.2" r="2.1" fill="#000000" stroke="#000000" stroke-width="0.5"/><circle cx="178.2" cy="276.2" r="2.1" fill="#000000" stroke="#000000" stroke-width="0.5"/><circle cx="178.9" cy="276.2" r="2.1" fill="#000000" stroke="#000000" stroke-width="0.5"/><circle cx="179.7" cy="276.2" r="2.1" fill="#000000" stroke="#000000" stroke-width="0.5"/><circle cx="180.4" cy="276.2" r="2.1" fill="#000000" stroke="#000000" stroke-width="0.5"/><circle cx="181.1" cy="276.2" r="2.1" fill="#000000" stroke="#000000" stroke-width="0.5"/><circle cx="181.9" cy="276.2" r="2.1" fill="#000000" stroke="#000000" stroke-width="0.5"/><circle cx="182.6" cy="276.2" r="2.1" fill="#000000" stroke="#000000" stroke-width="0.5"/><circle cx="183.3" cy="276.2" r="2.1" fill="#000000" stroke="#000000" stroke-width="0.5"/><circle cx="184.1" cy="276.2" r="2.1" fill="#000000" stroke="#000000" stroke-width="0.5"/><circle cx="184.8" cy="276.2" r="2.1" fill="#000000" stroke="#000000" stroke-width="0.5"/><circle cx="185.5" cy="276.2" r="2.1" fill="#000000" stroke="#000000" stroke-width="0.5"/><circle cx="186.2" cy="276.2" r="2.1" fill="#000000" stroke="#000000" stroke-width="0.5"/><circle cx="187.0" cy="276.2" r="2.1" fill="#000000" stroke="#000000" stroke-width="0.5"/><circle cx="187.7" cy="276.2" r="2.1" fill="#000000" stroke="#000000" stroke-width="0.5"/><circle cx="188.4" cy="276.2" r="2.1" fill="#000000" stroke="#000000" stroke-width="0.5"/><circle cx="189.2" cy="276.2" r="2.1" fill="#000000" stroke="#000000" stroke-width="0.5"/><circle cx="189.9" cy="276.2" r="2.1" fill="#000000" stroke="#000000" stroke-width="0.5"/><circle cx="190.6" cy="276.2" r="2.1" fill="#000000" stroke="#000000" stroke-width="0.5"/><circle cx="191.4" cy="276.2" r="2.1" fill="#000000" stroke="#000000" stroke-width="0.5"/><circle cx="192.1" cy="276.2" r="2.1" fill="#000000" stroke="#000000" stroke-width="0.5"/><circle cx="192.8" cy="276.2" r="2.1" fill="#000000" stroke="#000000" stroke-width="0.5"/><circle cx="193.6" cy="276.2" r="2.1" fill="#000000" stroke="#000000" stroke-width="0.5"/><circle cx="194.3" cy="276.2" r="2.1" fill="#000000" stroke="#000000" stroke-width="0.5"/><circle cx="195.0" cy="276.2" r="2.1" fill="#000000" stroke="#000000" stroke-width="0.5"/><circle cx="195.7" cy="276.2" r="2.1" fill="#000000" stroke="#000000" stroke-width="0.5"/><circle cx="196.5" cy="276.2" r="2.1" fill="#000000" stroke="#000000" stroke-width="0.5"/></g>
<polyline points="152.7,276.2 153.4,276.2 154.1,276.2 154.9,276.2 155.6,276.2 156.3,276.2 157.1,276.2 157.8,276.2 158.5,276.2 159.2,276.2 160.0,276.2 160.7,276.2 161.4,276.2 162.2,276.2 162.9,276.2 163.6,276.2 164.3,276.2 165.1,276.2 165.8,276.2 166.5,276.2 167.3,276.2 168.0,276.2 168.7,276.2 169.5,276.2 170.2,276.2 170.9,276.2 171.7,276.2 172.4,276.2 173.1,276.2 173.8,276.2 174.6,276.2 175.3,276.2 176.0,276.2 176.8,276.2 177.5,276.2 178.2,276.2 178.9,276.2 179.7,276.2 180.4,276.2 181.1,276.2 181.9,276.2 182.6,276.2 183.3,276.2 184.1,276.2 184.8,276.2 185.5,276.2 186.2,276.2 187.0,276.2 187.7,276.2 188.4,276.2 189.2,276.2 189.9,276.2 190.6,276.2 191.4,276.2 192.1,276.2 192.8,276.2 193.6,276.2 194.3,276.2 195.0,276.2 195.7,276.2 196.5,276.2" fill="none" stroke="#000000" stroke-width="4.4" stroke-linejoin="round" stroke-linecap="round"/>
<polyline points="195.7,284.2 195.2,284.4 194.7,284.6 194.2,284.7 193.7,284.9 193.2,285.1 192.7,285.3 192.2,285.4 191.7,285.6 191.1,285.8 190.6,285.9 190.1,286.1 189.6,286.3 189.1,286.5 188.6,286.6 188.1,286.8 187.6,287.0 187.1,287.2 186.5,287.3 186.0,287.5 185.5,287.7 185.0,287.9 184.5,288.0 184.0,288.2 183.5,288.4 183.0,288.5 182.5,288.7 181.9,288.9 181.4,289.0 180.9,289.2 180.4,289.4 179.9,289.5 179.4,289.7 178.9,289.8 178.4,290.0 177.9,290.1 177.3,290.3 176.8,290.4 176.3,290.6 175.8,290.7 175.3,290.8 174.8,291.0 174.3,291.1 173.8,291.2 173.3,291.4 172.7,291.5 172.2,291.6 171.7,291.8 171.2,291.9 170.7,292.0 170.2,292.2 169.7,292.3 169.2,292.5 168.7,292.6 168.1,292.8 167.6,292.9 167.1,293.1 166.6,293.2 166.1,293.4 165.6,293.5 165.1,293.7 164.6,293.9 164.1,294.1 163.5,294.2 163.0,294.4 162.5,294.6 162.0,294.8 161.5,295.1 161.0,295.3 160.5,295.5 160.0,295.7 159.5,295.9 158.9,296.0 158.4,296.2 157.9,296.4 157.4,296.6 156.9,296.8 156.4,297.0 155.9,297.2 155.4,297.4 154.9,297.6 154.3,297.8 153.8,298.0 153.3,298.3 152.8,298.5 152.3,298.7 151.8,298.9 151.3,299.1 150.8,299.4 150.3,299.6 149.8,299.9 149.2,300.1 148.7,300.4 148.2,300.6 147.7,300.9 147.2,301.2 146.7,301.5 146.2,301.8 145.7,302.1 145.2,302.4 144.6,302.7 144.1,303.1 143.6,303.4 143.1,303.8 142.6,304.2 142.1,304.6 141.6,305.0 141.1,305.4 140.6,305.8 140.0,306.3 139.5,306.7 139.0,307.3 138.5,307.8 138.0,308.4 137.5,309.0 137.0,309.6 136.5,310.3 136.0,311.0 135.4,311.7 134.9,312.5 134.4,313.3 133.9,314.2 133.4,315.0 132.9,316.0 132.4,316.9 131.9,317.9 131.4,319.0 130.8,320.1 130.3,321.1 129.8,322.0 129.3,322.9 128.8,324.0 128.3,325.3 127.8,326.9 127.3,328.9 126.8,331.4 126.2,334.5 125.7,338.4 125.2,346.6 124.7,361.7 124.2,377.1" fill="none" stroke="#000000" stroke-width="0.8" stroke-linejoin="round"/>
<g><circle cx="195.7" cy="284.2" r="2.1" fill="#000000" stroke="#000000" stroke-width="0.5"/><circle cx="195.2" cy="284.4" r="2.1" fill="#000000" stroke="#000000" stroke-width="0.5"/><circle cx="194.7" cy="284.6" r="2.1" fill="#000000" stroke="#000000" stroke-width="0.5"/><circle cx="194.2" cy="284.7" r="2.1" fill="#000000" stroke="#000000" stroke-width="0.5"/><circle cx="193.7" cy="284.9" r="2.1" fill="#000000" stroke="#000000" stroke-width="0.5"/><circle cx="193.2" cy="285.1" r="2.1" fill="#000000" stroke="#000000" stroke-width="0.5"/><circle cx="192.7" cy="285.3" r="2.1" fill="#000000" stroke="#000000" stroke-width="0.5"/><circle cx="192.2" cy="285.4" r="2.1" fill="#000000" stroke="#000000" stroke-width="0.5"/><circle cx="191.7" cy="285.6" r="2.1" fill="#000000" stroke="#000000" stroke-width="0.5"/><circle cx="191.1" cy="285.8" r="2.1" fill="#000000" stroke="#000000" stroke-width="0.5"/><circle cx="190.6" cy="285.9" r="2.1" fill="#000000" stroke="#000000" stroke-width="0.5"/><circle cx="190.1" cy="286.1" r="2.1" fill="#000000" stroke="#000000" stroke-width="0.5"/><circle cx="189.6" cy="286.3" r="2.1" fill="#000000" stroke="#000000" stroke-width="0.5"/><circle cx="189.1" cy="286.5" r="2.1" fill="#000000" stroke="#000000" stroke-width="0.5"/><circle cx="188.6" cy="286.6" r="2.1" fill="#000000" stroke="#000000" stroke-width="0.5"/><circle cx="188.1" cy="286.8" r="2.1" fill="#000000" stroke="#000000" stroke-width="0.5"/><circle cx="187.6" cy="287.0" r="2.1" fill="#000000" stroke="#000000" stroke-width="0.5"/><circle cx="187.1" cy="287.2" r="2.1" fill="#000000" stroke="#000000" stroke-width="0.5"/><circle cx="186.5" cy="287.3" r="2.1" fill="#000000" stroke="#000000" stroke-width="0.5"/><circle cx="186.0" cy="287.5" r="2.1" fill="#000000" stroke="#000000" stroke-width="0.5"/><circle cx="185.5" cy="287.7" r="2.1" fill="#000000" stroke="#000000" stroke-width="0.5"/><circle cx="185.0" cy="287.9" r="2.1" fill="#000000" stroke="#000000" stroke-width="0.5"/><circle cx="184.5" cy="288.0" r="2.1" fill="#000000" stroke="#000000" stroke-width="0.5"/><circle cx="184.0" cy="288.2" r="2.1" fill="#000000" stroke="#000000" stroke-width="0.5"/><circle cx="183.5" cy="288.4" r="2.1" fill="#000000" stroke="#000000" stroke-width="0.5"/><circle cx="183.0" cy="288.5" r="2.1" fill="#000000" stroke="#000000" stroke-width="0.5"/><circle cx="182.5" cy="288.7" r="2.1" fill="#000000" stroke="#000000" stroke-width="0.5"/><circle cx="181.9" cy="288.9" r="2.1" fill="#000000" stroke="#000000" stroke-width="0.5"/><circle cx="181.4" cy="289.0" r="2.1" fill="#000000" stroke="#000000" stroke-width="0.5"/><circle cx="180.9" cy="289.2" r="2.1" fill="#000000" stroke="#000000" stroke-width="0.5"/><circle cx="180.4" cy="289.4" r="2.1" fill="#000000" stroke="#000000" stroke-width="0.5"/><circle cx="179.9" cy="289.5" r="2.1" fill="#000000" stroke="#000000" stroke-width="0.5"/><circle cx="179.4" cy="289.7" r="2.1" fill="#000000" stroke="#000000" stroke-width="0.5"/><circle cx="178.9" cy="289.8" r="2.1" fill="#000000" stroke="#000000" stroke-width="0.5"/><circle cx="178.4" cy="290.0" r="2.1" fill="#000000" stroke="#000000" stroke-width="0.5"/><circle cx="177.9" cy="290.1" r="2.1" fill="#000000" stroke="#000000" stroke-width="0.5"/><circle cx="177.3" cy="290.3" r="2.1" fill="#000000" stroke="#000000" stroke-width="0.5"/><circle cx="176.8" cy="290.4" r="2.1" fill="#000000" stroke="#000000" stroke-width="0.5"/><circle cx="176.3" cy="290.6" r="2.1" fill="#000000" stroke="#000000" stroke-width="0.5"/><circle cx="175.8" cy="290.7" r="2.1" fill="#000000" stroke="#000000" stroke-width="0.5"/><circle cx="175.3" cy="290.8" r="2.1" fill="#000000" stroke="#000000" stroke-width="0.5"/><circle cx="174.8" cy="291.0" r="2.1" fill="#000000" stroke="#000000" stroke-width="0.5"/><circle cx="174.3" cy="291.1" r="2.1" fill="#000000" stroke="#000000" stroke-width="0.5"/><circle cx="173.8" cy="291.2" r="2.1" fill="#000000" stroke="#000000" stroke-width="0.5"/><circle cx="173.3" cy="291.4" r="2.1" fill="#000000" stroke="#000000" stroke-width="0.5"/><circle cx="172.7" cy="291.5" r="2.1" fill="#000000" stroke="#000000" stroke-width="0.5"/><circle cx="172.2" cy="291.6" r="2.1" fill="#000000" stroke="#000000" stroke-width="0.5"/><circle cx="171.7" cy="291.8" r="2.1" fill="#000000" stroke="#000000" stroke-width="0.5"/><circle cx="171.2" cy="291.9" r="2.1" fill="#000000" stroke="#000000" stroke-width="0.5"/><circle cx="170.7" cy="292.0" r="2.1" fill="#000000" stroke="#000000" stroke-width="0.5"/><circle cx="170.2" cy="292.2" r="2.1" fill="#000000" stroke="#000000" stroke-width="0.5"/><circle cx="169.7" cy="292.3" r="2.1" fill="#000000" stroke="#000000" stroke-width="0.5"/><circle cx="169.2" cy="292.5" r="2.1" fill="#000000" stroke="#000000" stroke-width="0.5"/><circle cx="168.7" cy="292.6" r="2.1" fill="#000000" stroke="#000000" stroke-width="0.5"/><circle cx="168.1" cy="292.8" r="2.1" fill="#000000" stroke="#000000" stroke-width="0.5"/><circle cx="167.6" cy="292.9" r="2.1" fill="#000000" stroke="#000000" stroke-width="0.5"/><circle cx="167.1" cy="293.1" r="2.1" fill="#000000" stroke="#000000" stroke-width="0.5"/><circle cx="166.6" cy="293.2" r="2.1" fill="#000000" stroke="#000000" stroke-width="0.5"/><circle cx="166.1" cy="293.4" r="2.1" fill="#000000" stroke="#000000" stroke-width="0.5"/><circle cx="165.6" cy="293.5" r="2.1" fill="#000000" stroke="#000000" stroke-width="0.5"/><circle cx="165.1" cy="293.7" r="2.1" fill="#000000" stroke="#000000" stroke-width="0.5"/><circle cx="164.6" cy="293.9" r="2.1" fill="#000000" stroke="#000000" stroke-width="0.5"/><circle cx="164.1" cy="294.1" r="2.1" fill="#000000" stroke="#000000" stroke-width="0.5"/><circle cx="163.5" cy="294.2" r="2.1" fill="#000000" stroke="#000000" stroke-width="0.5"/><circle cx="163.0" cy="294.4" r="2.1" fill="#000000" stroke="#000000" stroke-width="0.5"/><circle cx="162.5" cy="294.6" r="2.1" fill="#000000" stroke="#000000" stroke-width="0.5"/><circle cx="162.0" cy="294.8" r="2.1" fill="#000000" stroke="#000000" stroke-width="0.5"/><circle cx="161.5" cy="295.1" r="2.1" fill="#000000" stroke="#000000" stroke-width="0.5"/><circle cx="161.0" cy="295.3" r="2.1" fill="#000000" stroke="#000000" stroke-width="0.5"/><circle cx="160.5" cy="295.5" r="2.1" fill="#000000" stroke="#000000" stroke-width="0.5"/><circle cx="160.0" cy="295.7" r="2.1" fill="#000000" stroke="#000000" stroke-width="0.5"/><circle cx="159.5" cy="295.9" r="2.1" fill="#000000" stroke="#000000" stroke-width="0.5"/><circle cx="158.9" cy="296.0" r="2.1" fill="#000000" stroke="#000000" stroke-width="0.5"/><circle cx="158.4" cy="296.2" r="2.1" fill="#000000" stroke="#000000" stroke-width="0.5"/><circle cx="157.9" cy="296.4" r="2.1" fill="#000000" stroke="#000000" stroke-width="0.5"/><circle cx="157.4" cy="296.6" r="2.1" fill="#000000" stroke="#000000" stroke-width="0.5"/><circle cx="156.9" cy="296.8" r="2.1" fill="#000000" stroke="#000000" stroke-width="0.5"/><circle cx="156.4" cy="297.0" r="2.1" fill="#000000" stroke="#000000" stroke-width="0.5"/><circle cx="155.9" cy="297.2" r="2.1" fill="#000000" stroke="#000000" stroke-width="0.5"/><circle cx="155.4" cy="297.4" r="2.1" fill="#000000" stroke="#000000" stroke-width="0.5"/><circle cx="154.9" cy="297.6" r="2.1" fill="#000000" stroke="#000000" stroke-width="0.5"/><circle cx="154.3" cy="297.8" r="2.1" fill="#000000" stroke="#000000" stroke-width="0.5"/><circle cx="153.8" cy="298.0" r="2.1" fill="#000000" stroke="#000000" stroke-width="0.5"/><circle cx="153.3" cy="298.3" r="2.1" fill="#000000" stroke="#000000" stroke-width="0.5"/><circle cx="152.8" cy="298.5" r="2.1" fill="#000000" stroke="#000000" stroke-width="0.5"/><circle cx="152.3" cy="298.7" r="2.1" fill="#000000" stroke="#000000" stroke-width="0.5"/><circle cx="151.8" cy="298.9" r="2.1" fill="#000000" stroke="#000000" stroke-width="0.5"/><circle cx="151.3" cy="299.1" r="2.1" fill="#000000" stroke="#000000" stroke-width="0.5"/><circle cx="150.8" cy="299.4" r="2.1" fill="#000000" stroke="#000000" stroke-width="0.5"/><circle cx="150.3" cy="299.6" r="2.1" fill="#000000" stroke="#000000" stroke-width="0.5"/><circle cx="149.8" cy="299.9" r="2.1" fill="#000000" stroke="#000000" stroke-width="0.5"/><circle cx="149.2" cy="300.1" r="2.1" fill="#000000" stroke="#000000" stroke-width="0.5"/><circle cx="148.7" cy="300.4" r="2.1" fill="#000000" stroke="#000000" stroke-width="0.5"/><circle cx="148.2" cy="300.6" r="2.1" fill="#000000" stroke="#000000" stroke-width="0.5"/><circle cx="147.7" cy="300.9" r="2.1" fill="#000000" stroke="#000000" stroke-width="0.5"/><circle cx="147.2" cy="301.2" r="2.1" fill="#000000" stroke="#000000" stroke-width="0.5"/><circle cx="146.7" cy="301.5" r="2.1" fill="#000000" stroke="#000000" stroke-width="0.5"/><circle cx="146.2" cy="301.8" r="2.1" fill="#000000" stroke="#000000" stroke-width="0.5"/><circle cx="145.7" cy="302.1" r="2.1" fill="#000000" stroke="#000000" stroke-width="0.5"/><circle cx="145.2" cy="302.4" r="2.1" fill="#000000" stroke="#000000" stroke-width="0.5"/><circle cx="144.6" cy="302.7" r="2.1" fill="#000000" stroke="#000000" stroke-width="0.5"/><circle cx="144.1" cy="303.1" r="2.1" fill="#000000" stroke="#000000" stroke-width="0.5"/><circle cx="143.6" cy="303.4" r="2.1" fill="#000000" stroke="#000000" stroke-width="0.5"/><circle cx="143.1" cy="303.8" r="2.1" fill="#000000" stroke="#000000" stroke-width="0.5"/><circle cx="142.6" cy="304.2" r="2.1" fill="#000000" stroke="#000000" stroke-width="0.5"/><circle cx="142.1" cy="304.6" r="2.1" fill="#000000" stroke="#000000" stroke-width="0.5"/><circle cx="141.6" cy="305.0" r="2.1" fill="#000000" stroke="#000000" stroke-width="0.5"/><circle cx="141.1" cy="305.4" r="2.1" fill="#000000" stroke="#000000" stroke-width="0.5"/><circle cx="140.6" cy="305.8" r="2.1" fill="#000000" stroke="#000000" stroke-width="0.5"/><circle cx="140.0" cy="306.3" r="2.1" fill="#000000" stroke="#000000" stroke-width="0.5"/><circle cx="139.5" cy="306.7" r="2.1" fill="#000000" stroke="#000000" stroke-width="0.5"/><circle cx="139.0" cy="307.3" r="2.1" fill="#000000" stroke="#000000" stroke-width="0.5"/><circle cx="138.5" cy="307.8" r="2.1" fill="#000000" stroke="#000000" stroke-width="0.5"/><circle cx="138.0" cy="308.4" r="2.1" fill="#000000" stroke="#000000" stroke-width="0.5"/><circle cx="137.5" cy="309.0" r="2.1" fill="#000000" stroke="#000000" stroke-width="0.5"/><circle cx="137.0" cy="309.6" r="2.1" fill="#000000" stroke="#000000" stroke-width="0.5"/><circle cx="136.5" cy="310.3" r="2.1" fill="#000000" stroke="#000000" stroke-width="0.5"/><circle cx="136.0" cy="311.0" r="2.1" fill="#000000" stroke="#000000" stroke-width="0.5"/><circle cx="135.4" cy="311.7" r="2.1" fill="#000000" stroke="#000000" stroke-width="0.5"/><circle cx="134.9" cy="312.5" r="2.1" fill="#000000" stroke="#000000" stroke-width="0.5"/><circle cx="134.4" cy="313.3" r="2.1" fill="#000000" stroke="#000000" stroke-width="0.5"/><circle cx="133.9" cy="314.2" r="2.1" fill="#000000" stroke="#000000" stroke-width="0.5"/><circle cx="133.4" cy="315.0" r="2.1" fill="#000000" stroke="#000000" stroke-width="0.5"/><circle cx="132.9" cy="316.0" r="2.1" fill="#000000" stroke="#000000" stroke-width="0.5"/><circle cx="132.4" cy="316.9" r="2.1" fill="#000000" stroke="#000000" stroke-width="0.5"/><circle cx="131.9" cy="317.9" r="2.1" fill="#000000" stroke="#000000" stroke-width="0.5"/><circle cx="131.4" cy="319.0" r="2.1" fill="#000000" stroke="#000000" stroke-width="0.5"/><circle cx="130.8" cy="320.1" r="2.1" fill="#000000" stroke="#000000" stroke-width="0.5"/><circle cx="130.3" cy="321.1" r="2.1" fill="#000000" stroke="#000000" stroke-width="0.5"/><circle cx="129.8" cy="322.0" r="2.1" fill="#000000" stroke="#000000" stroke-width="0.5"/><circle cx="129.3" cy="322.9" r="2.1" fill="#000000" stroke="#000000" stroke-width="0.5"/><circle cx="128.8" cy="324.0" r="2.1" fill="#000000" stroke="#000000" stroke-width="0.5"/><circle cx="128.3" cy="325.3" r="2.1" fill="#000000" stroke="#000000" stroke-width="0.5"/><circle cx="127.8" cy="326.9" r="2.1" fill="#000000" stroke="#000000" stroke-width="0.5"/><circle cx="127.3" cy="328.9" r="2.1" fill="#000000" stroke="#000000" stroke-width="0.5"/><circle cx="126.8" cy="331.4" r="2.1" fill="#000000" stroke="#000000" stroke-width="0.5"/><circle cx="126.2" cy="334.5" r="2.1" fill="#000000" stroke="#000000" stroke-width="0.5"/><circle cx="125.7" cy="338.4" r="2.1" fill="#000000" stroke="#000000" stroke-width="0.5"/><circle cx="125.2" cy="346.6" r="2.1" fill="#000000" stroke="#000000" stroke-width="0.5"/><circle cx="124.7" cy="361.7" r="2.1" fill="#000000" stroke="#000000" stroke-width="0.5"/><circle cx="124.2" cy="377.1" r="2.1" fill="#000000" stroke="#000000" stroke-width="0.5"/></g>
<polyline points="195.7,284.2 195.2,284.4 194.7,284.6 194.2,284.7 193.7,284.9 193.2,285.1 192.7,285.3 192.2,285.4 191.7,285.6 191.1,285.8 190.6,285.9 190.1,286.1 189.6,286.3 189.1,286.5 188.6,286.6 188.1,286.8 187.6,287.0 187.1,287.2 186.5,287.3 186.0,287.5 185.5,287.7 185.0,287.9 184.5,288.0 184.0,288.2 183.5,288.4 183.0,288.5 182.5,288.7 181.9,288.9 181.4,289.0 180.9,289.2 180.4,289.4 179.9,289.5 179.4,289.7 178.9,289.8 178.4,290.0 177.9,290.1 177.3,290.3 176.8,290.4 176.3,290.6 175.8,290.7 175.3,290.8 174.8,291.0 174.3,291.1 173.8,291.2 173.3,291.4 172.7,291.5 172.2,291.6 171.7,291.8 171.2,291.9 170.7,292.0 170.2,292.2 169.7,292.3 169.2,292.5 168.7,292.6 168.1,292.8 167.6,292.9 167.1,293.1 166.6,293.2 166.1,293.4 165.6,293.5 165.1,293.7 164.6,293.9 164.1,294.1 163.5,294.2 163.0,294.4 162.5,294.6 162.0,294.8 161.5,295.1 161.0,295.3 160.5,295.5 160.0,295.7 159.5,295.9 158.9,296.0 158.4,296.2 157.9,296.4 157.4,296.6 156.9,296.8 156.4,297.0 155.9,297.2 155.4,297.4 154.9,297.6 154.3,297.8 153.8,298.0 153.3,298.3 152.8,298.5 152.3,298.7 151.8,298.9 151.3,299.1 150.8,299.4 150.3,299.6 149.8,299.9 149.2,300.1 148.7,300.4 148.2,300.6 147.7,300.9 147.2,301.2 146.7,301.5 146.2,301.8 145.7,302.1 145.2,302.4 144.6,302.7 144.1,303.1 143.6,303.4 143.1,303.8 142.6,304.2 142.1,304.6 141.6,305.0 141.1,305.4 140.6,305.8 140.0,306.3 139.5,306.7 139.0,307.3 138.5,307.8 138.0,308.4 137.5,309.0 137.0,309.6 136.5,310.3 136.0,311.0 135.4,311.7 134.9,312.5 134.4,313.3 133.9,314.2 133.4,315.0 132.9,316.0 132.4,316.9 131.9,317.9 131.4,319.0 130.8,320.1 130.3,321.1 129.8,322.0 129.3,322.9 128.8,324.0 128.3,325.3 127.8,326.9 127.3,328.9 126.8,331.4 126.2,334.5 125.7,338.4" fill="none" stroke="#000000" stroke-width="4.4" stroke-linejoin="round" stroke-linecap="round"/>
<line x1="124.20" y1="337.25" x2="124.20" y2="397.90" stroke="#ff0000" stroke-width="0.9"/>
<line x1="84.34" y1="296.52" x2="84.34" y2="264.63" stroke="#ff0000" stroke-width="0.9"/>
<polyline points="124.2,380.6 123.7,364.3 123.2,350.1 122.7,343.7 122.2,339.8 121.7,337.3 121.2,335.7 120.6,334.4 120.1,333.0 119.6,331.7 119.1,330.6 118.6,329.6 118.1,328.7 117.6,327.9 117.1,327.1 116.6,326.4 116.1,325.7 115.6,325.0 115.1,324.3 114.5,323.6 114.0,322.9 113.5,322.2 113.0,321.5 112.5,320.8 112.0,320.2 111.5,319.5 111.0,318.9 110.5,318.3 110.0,317.7 109.5,317.1 109.0,316.5 108.4,316.0 107.9,315.5 107.4,314.9 106.9,314.4 106.4,313.9 105.9,313.5 105.4,313.0 104.9,312.6 104.4,312.1 103.9,311.7 103.4,311.3 102.9,310.9 102.3,310.5 101.8,310.1 101.3,309.8 100.8,309.4 100.3,309.1 99.8,308.7 99.3,308.4 98.8,308.0 98.3,307.7 97.8,307.3 97.3,307.0 96.8,306.7 96.2,306.3 95.7,306.0 95.2,305.7 94.7,305.4 94.2,305.1 93.7,304.9 93.2,304.6 92.7,304.3 92.2,304.1 91.7,303.8 91.2,303.6 90.7,303.3 90.1,303.1 89.6,302.8 89.1,302.6 88.6,302.3 88.1,302.1 87.6,301.9 87.1,301.6 86.6,301.4 86.1,301.2 85.6,301.0 85.1,300.8 84.6,300.6 84.1,300.3" fill="none" stroke="#ff0000" stroke-width="0.8" stroke-linejoin="round"/>
<g><polygon points="124.2,378.6 124.7,379.9 126.1,380.0 125.0,380.8 125.4,382.2 124.2,381.5 123.0,382.2 123.4,380.8 122.3,380.0 123.7,379.9" fill="#ff0000"/><polygon points="123.7,362.3 124.2,363.6 125.6,363.7 124.5,364.6 124.9,365.9 123.7,365.2 122.5,365.9 122.8,364.6 121.8,363.7 123.2,363.6" fill="#ff0000"/><polygon points="123.2,348.1 123.7,349.4 125.1,349.5 124.0,350.4 124.4,351.8 123.2,351.0 122.0,351.8 122.3,350.4 121.3,349.5 122.7,349.4" fill="#ff0000"/><polygon points="122.7,341.7 123.2,343.0 124.6,343.1 123.5,344.0 123.9,345.3 122.7,344.6 121.5,345.3 121.8,344.0 120.8,343.1 122.2,343.0" fill="#ff0000"/><polygon points="122.2,337.8 122.7,339.1 124.1,339.2 123.0,340.0 123.3,341.4 122.2,340.7 121.0,341.4 121.3,340.0 120.3,339.2 121.6,339.1" fill="#ff0000"/><polygon points="121.7,335.3 122.2,336.6 123.6,336.7 122.5,337.6 122.8,338.9 121.7,338.2 120.5,338.9 120.8,337.6 119.8,336.7 121.1,336.6" fill="#ff0000"/><polygon points="121.2,333.7 121.7,335.0 123.1,335.1 122.0,336.0 122.3,337.3 121.2,336.6 120.0,337.3 120.3,336.0 119.2,335.1 120.6,335.0" fill="#ff0000"/><polygon points="120.6,332.4 121.2,333.7 122.5,333.8 121.5,334.7 121.8,336.0 120.6,335.3 119.5,336.0 119.8,334.7 118.7,333.8 120.1,333.7" fill="#ff0000"/><polygon points="120.1,331.0 120.7,332.2 122.0,332.3 121.0,333.2 121.3,334.6 120.1,333.8 119.0,334.6 119.3,333.2 118.2,332.3 119.6,332.2" fill="#ff0000"/><polygon points="119.6,329.7 120.1,331.0 121.5,331.1 120.5,332.0 120.8,333.3 119.6,332.6 118.5,333.3 118.8,332.0 117.7,331.1 119.1,331.0" fill="#ff0000"/><polygon points="119.1,328.6 119.6,329.8 121.0,329.9 120.0,330.8 120.3,332.2 119.1,331.5 117.9,332.2 118.3,330.8 117.2,329.9 118.6,329.8" fill="#ff0000"/><polygon points="118.6,327.6 119.1,328.8 120.5,328.9 119.5,329.8 119.8,331.2 118.6,330.5 117.4,331.2 117.8,329.8 116.7,328.9 118.1,328.8" fill="#ff0000"/><polygon points="118.1,326.7 118.6,327.9 120.0,328.0 118.9,328.9 119.3,330.3 118.1,329.6 116.9,330.3 117.3,328.9 116.2,328.0 117.6,327.9" fill="#ff0000"/><polygon points="117.6,325.9 118.1,327.1 119.5,327.2 118.4,328.1 118.8,329.5 117.6,328.7 116.4,329.5 116.7,328.1 115.7,327.2 117.1,327.1" fill="#ff0000"/><polygon points="117.1,325.1 117.6,326.4 119.0,326.5 117.9,327.4 118.3,328.7 117.1,328.0 115.9,328.7 116.2,327.4 115.2,326.5 116.6,326.4" fill="#ff0000"/><polygon points="116.6,324.4 117.1,325.7 118.5,325.8 117.4,326.7 117.8,328.0 116.6,327.3 115.4,328.0 115.7,326.7 114.7,325.8 116.1,325.7" fill="#ff0000"/><polygon points="116.1,323.7 116.6,325.0 118.0,325.1 116.9,326.0 117.2,327.3 116.1,326.6 114.9,327.3 115.2,326.0 114.2,325.1 115.5,325.0" fill="#ff0000"/><polygon points="115.6,323.0 116.1,324.3 117.5,324.4 116.4,325.3 116.7,326.6 115.6,325.9 114.4,326.6 114.7,325.3 113.7,324.4 115.0,324.3" fill="#ff0000"/><polygon points="115.1,322.3 115.6,323.6 117.0,323.7 115.9,324.6 116.2,325.9 115.1,325.2 113.9,325.9 114.2,324.6 113.1,323.7 114.5,323.6" fill="#ff0000"/><polygon points="114.5,321.6 115.1,322.8 116.4,322.9 115.4,323.8 115.7,325.2 114.5,324.5 113.4,325.2 113.7,323.8 112.6,322.9 114.0,322.8" fill="#ff0000"/><polygon points="114.0,320.9 114.6,322.1 115.9,322.2 114.9,323.1 115.2,324.5 114.0,323.7 112.9,324.5 113.2,323.1 112.1,322.2 113.5,322.1" fill="#ff0000"/><polygon points="113.5,320.2 114.0,321.4 115.4,321.5 114.4,322.4 114.7,323.8 113.5,323.0 112.4,323.8 112.7,322.4 111.6,321.5 113.0,321.4" fill="#ff0000"/><polygon points="113.0,319.5 113.5,320.8 114.9,320.9 113.9,321.8 114.2,323.1 113.0,322.4 111.8,323.1 112.2,321.8 111.1,320.9 112.5,320.8" fill="#ff0000"/><polygon points="112.5,318.8 113.0,320.1 114.4,320.2 113.4,321.1 113.7,322.4 112.5,321.7 111.3,322.4 111.7,321.1 110.6,320.2 112.0,320.1" fill="#ff0000"/><polygon points="112.0,318.2 112.5,319.4 113.9,319.5 112.8,320.4 113.2,321.8 112.0,321.0 110.8,321.8 111.2,320.4 110.1,319.5 111.5,319.4" fill="#ff0000"/><polygon points="111.5,317.5 112.0,318.8 113.4,318.9 112.3,319.8 112.7,321.1 111.5,320.4 110.3,321.1 110.6,319.8 109.6,318.9 111.0,318.8" fill="#ff0000"/><polygon points="111.0,316.9 111.5,318.2 112.9,318.3 111.8,319.2 112.2,320.5 111.0,319.8 109.8,320.5 110.1,319.2 109.1,318.3 110.5,318.2" fill="#ff0000"/><polygon points="110.5,316.3 111.0,317.6 112.4,317.7 111.3,318.6 111.7,319.9 110.5,319.2 109.3,319.9 109.6,318.6 108.6,317.7 110.0,317.6" fill="#ff0000"/><polygon points="110.0,315.7 110.5,317.0 111.9,317.1 110.8,318.0 111.1,319.3 110.0,318.6 108.8,319.3 109.1,318.0 108.1,317.1 109.4,317.0" fill="#ff0000"/><polygon points="109.5,315.1 110.0,316.4 111.4,316.5 110.3,317.4 110.6,318.7 109.5,318.0 108.3,318.7 108.6,317.4 107.6,316.5 108.9,316.4" fill="#ff0000"/><polygon points="109.0,314.5 109.5,315.8 110.9,315.9 109.8,316.8 110.1,318.2 109.0,317.4 107.8,318.2 108.1,316.8 107.1,315.9 108.4,315.8" fill="#ff0000"/><polygon points="108.4,314.0 109.0,315.3 110.3,315.4 109.3,316.3 109.6,317.6 108.4,316.9 107.3,317.6 107.6,316.3 106.5,315.4 107.9,315.3" fill="#ff0000"/><polygon points="107.9,313.5 108.5,314.7 109.8,314.8 108.8,315.7 109.1,317.1 107.9,316.3 106.8,317.1 107.1,315.7 106.0,314.8 107.4,314.7" fill="#ff0000"/><polygon points="107.4,312.9 108.0,314.2 109.3,314.3 108.3,315.2 108.6,316.6 107.4,315.8 106.3,316.6 106.6,315.2 105.5,314.3 106.9,314.2" fill="#ff0000"/><polygon points="106.9,312.4 107.4,313.7 108.8,313.8 107.8,314.7 108.1,316.0 106.9,315.3 105.7,316.0 106.1,314.7 105.0,313.8 106.4,313.7" fill="#ff0000"/><polygon points="106.4,311.9 106.9,313.2 108.3,313.3 107.3,314.2 107.6,315.6 106.4,314.8 105.2,315.6 105.6,314.2 104.5,313.3 105.9,313.2" fill="#ff0000"/><polygon points="105.9,311.5 106.4,312.7 107.8,312.8 106.7,313.7 107.1,315.1 105.9,314.4 104.7,315.1 105.1,313.7 104.0,312.8 105.4,312.7" fill="#ff0000"/><polygon points="105.4,311.0 105.9,312.3 107.3,312.4 106.2,313.3 106.6,314.6 105.4,313.9 104.2,314.6 104.6,313.3 103.5,312.4 104.9,312.3" fill="#ff0000"/><polygon points="104.9,310.6 105.4,311.8 106.8,311.9 105.7,312.8 106.1,314.2 104.9,313.5 103.7,314.2 104.0,312.8 103.0,311.9 104.4,311.8" fill="#ff0000"/><polygon points="104.4,310.1 104.9,311.4 106.3,311.5 105.2,312.4 105.6,313.8 104.4,313.0 103.2,313.8 103.5,312.4 102.5,311.5 103.9,311.4" fill="#ff0000"/><polygon points="103.9,309.7 104.4,311.0 105.8,311.1 104.7,312.0 105.0,313.3 103.9,312.6 102.7,313.3 103.0,312.0 102.0,311.1 103.3,311.0" fill="#ff0000"/><polygon points="103.4,309.3 103.9,310.6 105.3,310.7 104.2,311.6 104.5,312.9 103.4,312.2 102.2,312.9 102.5,311.6 101.5,310.7 102.8,310.6" fill="#ff0000"/><polygon points="102.9,308.9 103.4,310.2 104.8,310.3 103.7,311.2 104.0,312.5 102.9,311.8 101.7,312.5 102.0,311.2 101.0,310.3 102.3,310.2" fill="#ff0000"/><polygon points="102.3,308.5 102.9,309.8 104.2,309.9 103.2,310.8 103.5,312.1 102.3,311.4 101.2,312.1 101.5,310.8 100.4,309.9 101.8,309.8" fill="#ff0000"/><polygon points="101.8,308.1 102.4,309.4 103.7,309.5 102.7,310.4 103.0,311.8 101.8,311.0 100.7,311.8 101.0,310.4 99.9,309.5 101.3,309.4" fill="#ff0000"/><polygon points="101.3,307.8 101.9,309.1 103.2,309.2 102.2,310.1 102.5,311.4 101.3,310.7 100.2,311.4 100.5,310.1 99.4,309.2 100.8,309.1" fill="#ff0000"/><polygon points="100.8,307.4 101.3,308.7 102.7,308.8 101.7,309.7 102.0,311.0 100.8,310.3 99.6,311.0 100.0,309.7 98.9,308.8 100.3,308.7" fill="#ff0000"/><polygon points="100.3,307.1 100.8,308.3 102.2,308.4 101.2,309.3 101.5,310.7 100.3,309.9 99.1,310.7 99.5,309.3 98.4,308.4 99.8,308.3" fill="#ff0000"/><polygon points="99.8,306.7 100.3,308.0 101.7,308.1 100.7,309.0 101.0,310.3 99.8,309.6 98.6,310.3 99.0,309.0 97.9,308.1 99.3,308.0" fill="#ff0000"/><polygon points="99.3,306.4 99.8,307.6 101.2,307.7 100.1,308.6 100.5,310.0 99.3,309.3 98.1,310.0 98.5,308.6 97.4,307.7 98.8,307.6" fill="#ff0000"/><polygon points="98.8,306.0 99.3,307.3 100.7,307.4 99.6,308.3 100.0,309.6 98.8,308.9 97.6,309.6 97.9,308.3 96.9,307.4 98.3,307.3" fill="#ff0000"/><polygon points="98.3,305.7 98.8,307.0 100.2,307.1 99.1,308.0 99.5,309.3 98.3,308.6 97.1,309.3 97.4,308.0 96.4,307.1 97.8,307.0" fill="#ff0000"/><polygon points="97.8,305.3 98.3,306.6 99.7,306.7 98.6,307.6 98.9,309.0 97.8,308.2 96.6,309.0 96.9,307.6 95.9,306.7 97.2,306.6" fill="#ff0000"/><polygon points="97.3,305.0 97.8,306.3 99.2,306.4 98.1,307.3 98.4,308.6 97.3,307.9 96.1,308.6 96.4,307.3 95.4,306.4 96.7,306.3" fill="#ff0000"/><polygon points="96.8,304.7 97.3,306.0 98.7,306.1 97.6,306.9 97.9,308.3 96.8,307.6 95.6,308.3 95.9,306.9 94.9,306.1 96.2,306.0" fill="#ff0000"/><polygon points="96.2,304.3 96.8,305.6 98.1,305.7 97.1,306.6 97.4,308.0 96.2,307.2 95.1,308.0 95.4,306.6 94.3,305.7 95.7,305.6" fill="#ff0000"/><polygon points="95.7,304.0 96.3,305.3 97.6,305.4 96.6,306.3 96.9,307.6 95.7,306.9 94.6,307.6 94.9,306.3 93.8,305.4 95.2,305.3" fill="#ff0000"/><polygon points="95.2,303.7 95.8,305.0 97.1,305.1 96.1,306.0 96.4,307.3 95.2,306.6 94.1,307.3 94.4,306.0 93.3,305.1 94.7,305.0" fill="#ff0000"/><polygon points="94.7,303.4 95.2,304.7 96.6,304.8 95.6,305.7 95.9,307.0 94.7,306.3 93.5,307.0 93.9,305.7 92.8,304.8 94.2,304.7" fill="#ff0000"/><polygon points="94.2,303.1 94.7,304.4 96.1,304.5 95.1,305.4 95.4,306.7 94.2,306.0 93.0,306.7 93.4,305.4 92.3,304.5 93.7,304.4" fill="#ff0000"/><polygon points="93.7,302.9 94.2,304.1 95.6,304.2 94.6,305.1 94.9,306.5 93.7,305.7 92.5,306.5 92.9,305.1 91.8,304.2 93.2,304.1" fill="#ff0000"/><polygon points="93.2,302.6 93.7,303.9 95.1,304.0 94.0,304.9 94.4,306.2 93.2,305.5 92.0,306.2 92.4,304.9 91.3,304.0 92.7,303.9" fill="#ff0000"/><polygon points="92.7,302.3 93.2,303.6 94.6,303.7 93.5,304.6 93.9,305.9 92.7,305.2 91.5,305.9 91.8,304.6 90.8,303.7 92.2,303.6" fill="#ff0000"/><polygon points="92.2,302.1 92.7,303.3 94.1,303.5 93.0,304.3 93.4,305.7 92.2,305.0 91.0,305.7 91.3,304.3 90.3,303.5 91.7,303.3" fill="#ff0000"/><polygon points="91.7,301.8 92.2,303.1 93.6,303.2 92.5,304.1 92.8,305.4 91.7,304.7 90.5,305.4 90.8,304.1 89.8,303.2 91.2,303.1" fill="#ff0000"/><polygon points="91.2,301.6 91.7,302.8 93.1,302.9 92.0,303.8 92.3,305.2 91.2,304.5 90.0,305.2 90.3,303.8 89.3,302.9 90.6,302.8" fill="#ff0000"/><polygon points="90.7,301.3 91.2,302.6 92.6,302.7 91.5,303.6 91.8,304.9 90.7,304.2 89.5,304.9 89.8,303.6 88.8,302.7 90.1,302.6" fill="#ff0000"/><polygon points="90.1,301.1 90.7,302.4 92.1,302.5 91.0,303.3 91.3,304.7 90.1,304.0 89.0,304.7 89.3,303.3 88.2,302.5 89.6,302.4" fill="#ff0000"/><polygon points="89.6,300.8 90.2,302.1 91.5,302.2 90.5,303.1 90.8,304.4 89.6,303.7 88.5,304.4 88.8,303.1 87.7,302.2 89.1,302.1" fill="#ff0000"/><polygon points="89.1,300.6 89.7,301.9 91.0,302.0 90.0,302.8 90.3,304.2 89.1,303.5 88.0,304.2 88.3,302.8 87.2,302.0 88.6,301.9" fill="#ff0000"/><polygon points="88.6,300.3 89.1,301.6 90.5,301.7 89.5,302.6 89.8,303.9 88.6,303.2 87.4,303.9 87.8,302.6 86.7,301.7 88.1,301.6" fill="#ff0000"/><polygon points="88.1,300.1 88.6,301.4 90.0,301.5 89.0,302.4 89.3,303.7 88.1,303.0 86.9,303.7 87.3,302.4 86.2,301.5 87.6,301.4" fill="#ff0000"/><polygon points="87.6,299.9 88.1,301.1 89.5,301.2 88.5,302.1 88.8,303.5 87.6,302.7 86.4,303.5 86.8,302.1 85.7,301.2 87.1,301.1" fill="#ff0000"/><polygon points="87.1,299.6 87.6,300.9 89.0,301.0 87.9,301.9 88.3,303.3 87.1,302.5 85.9,303.3 86.3,301.9 85.2,301.0 86.6,300.9" fill="#ff0000"/><polygon points="86.6,299.4 87.1,300.7 88.5,300.8 87.4,301.7 87.8,303.0 86.6,302.3 85.4,303.0 85.7,301.7 84.7,300.8 86.1,300.7" fill="#ff0000"/><polygon points="86.1,299.2 86.6,300.5 88.0,300.6 86.9,301.5 87.3,302.8 86.1,302.1 84.9,302.8 85.2,301.5 84.2,300.6 85.6,300.5" fill="#ff0000"/><polygon points="85.6,299.0 86.1,300.3 87.5,300.4 86.4,301.3 86.8,302.6 85.6,301.9 84.4,302.6 84.7,301.3 83.7,300.4 85.1,300.3" fill="#ff0000"/><polygon points="85.1,298.8 85.6,300.1 87.0,300.2 85.9,301.0 86.2,302.4 85.1,301.7 83.9,302.4 84.2,301.0 83.2,300.2 84.5,300.1" fill="#ff0000"/><polygon points="84.6,298.6 85.1,299.8 86.5,299.9 85.4,300.8 85.7,302.2 84.6,301.4 83.4,302.2 83.7,300.8 82.7,299.9 84.0,299.8" fill="#ff0000"/><polygon points="84.1,298.3 84.6,299.6 86.0,299.7 84.9,300.6 85.2,302.0 84.1,301.2 82.9,302.0 83.2,300.6 82.1,299.7 83.5,299.6" fill="#ff0000"/></g>
<polyline points="122.2,339.8 121.7,337.3 121.2,335.7 120.6,334.4 120.1,333.0 119.6,331.7 119.1,330.6 118.6,329.6 118.1,328.7 117.6,327.9 117.1,327.1 116.6,326.4 116.1,325.7 115.6,325.0 115.1,324.3 114.5,323.6 114.0,322.9 113.5,322.2 113.0,321.5 112.5,320.8 112.0,320.2 111.5,319.5 111.0,318.9 110.5,318.3 110.0,317.7 109.5,317.1 109.0,316.5 108.4,316.0 107.9,315.5 107.4,314.9 106.9,314.4 106.4,313.9 105.9,313.5 105.4,313.0 104.9,312.6 104.4,312.1 103.9,311.7 103.4,311.3 102.9,310.9 102.3,310.5 101.8,310.1 101.3,309.8 100.8,309.4 100.3,309.1 99.8,308.7 99.3,308.4 98.8,308.0 98.3,307.7 97.8,307.3 97.3,307.0 96.8,306.7 96.2,306.3 95.7,306.0 95.2,305.7 94.7,305.4 94.2,305.1 93.7,304.9 93.2,304.6 92.7,304.3 92.2,304.1 91.7,303.8 91.2,303.6 90.7,303.3 90.1,303.1 89.6,302.8 89.1,302.6 88.6,302.3 88.1,302.1 87.6,301.9 87.1,301.6 86.6,301.4 86.1,301.2 85.6,301.0 85.1,300.8 84.6,300.6 84.1,300.3" fill="none" stroke="#ff0000" stroke-width="3.5" stroke-linejoin="round" stroke-linecap="round"/>
<polyline points="84.3,264.6 84.9,264.8 85.4,264.9 85.9,265.0 86.4,265.1 86.9,265.2 87.4,265.3 87.9,265.4 88.4,265.6 88.9,265.7 89.5,265.8 90.0,265.9 90.5,266.0 91.0,266.1 91.5,266.2 92.0,266.3 92.5,266.4 93.0,266.5 93.5,266.7 94.1,266.8 94.6,266.9 95.1,267.1 95.6,267.2 96.1,267.4 96.6,267.5 97.1,267.7 97.6,267.9 98.1,268.1 98.7,268.3 99.2,268.5 99.7,268.7 100.2,268.9 100.7,269.1 101.2,269.4 101.7,269.6 102.2,269.9 102.7,270.2 103.2,270.4 103.8,270.7 104.3,271.0 104.8,271.3 105.3,271.7 105.8,272.0 106.3,272.3 106.8,272.7 107.3,273.1 107.8,273.5 108.4,273.9 108.9,274.3 109.4,274.7 109.9,275.1 110.4,275.5 110.9,275.9 111.4,276.3 111.9,276.7 112.4,277.1 113.0,277.6 113.5,278.1 114.0,278.6 114.5,279.2 115.0,279.9 115.5,280.6 116.0,281.4 116.5,282.3 117.0,283.3 117.6,284.4 118.1,285.7 118.6,287.4 119.1,289.2 119.6,291.3 120.1,293.6 120.6,296.0 121.1,298.5 121.6,301.0 122.2,303.1 122.7,305.2 123.2,308.9 123.7,315.2 124.2,345.9" fill="none" stroke="#ff0000" stroke-width="0.8" stroke-linejoin="round"/>
<g><polygon points="84.3,262.6 84.9,263.9 86.2,264.0 85.2,264.9 85.5,266.3 84.3,265.5 83.2,266.3 83.5,264.9 82.4,264.0 83.8,263.9" fill="#ff0000"/><polygon points="84.9,262.8 85.4,264.0 86.8,264.1 85.7,265.0 86.0,266.4 84.9,265.6 83.7,266.4 84.0,265.0 83.0,264.1 84.3,264.0" fill="#ff0000"/><polygon points="85.4,262.9 85.9,264.2 87.3,264.3 86.2,265.2 86.5,266.5 85.4,265.8 84.2,266.5 84.5,265.2 83.5,264.3 84.8,264.2" fill="#ff0000"/><polygon points="85.9,263.0 86.4,264.3 87.8,264.4 86.7,265.3 87.1,266.6 85.9,265.9 84.7,266.6 85.0,265.3 84.0,264.4 85.4,264.3" fill="#ff0000"/><polygon points="86.4,263.1 86.9,264.4 88.3,264.5 87.2,265.4 87.6,266.7 86.4,266.0 85.2,266.7 85.5,265.4 84.5,264.5 85.9,264.4" fill="#ff0000"/><polygon points="86.9,263.2 87.4,264.5 88.8,264.6 87.7,265.5 88.1,266.8 86.9,266.1 85.7,266.8 86.1,265.5 85.0,264.6 86.4,264.5" fill="#ff0000"/><polygon points="87.4,263.3 87.9,264.6 89.3,264.7 88.3,265.6 88.6,267.0 87.4,266.2 86.2,267.0 86.6,265.6 85.5,264.7 86.9,264.6" fill="#ff0000"/><polygon points="87.9,263.4 88.4,264.7 89.8,264.8 88.8,265.7 89.1,267.1 87.9,266.3 86.7,267.1 87.1,265.7 86.0,264.8 87.4,264.7" fill="#ff0000"/><polygon points="88.4,263.6 89.0,264.8 90.3,264.9 89.3,265.8 89.6,267.2 88.4,266.4 87.3,267.2 87.6,265.8 86.5,264.9 87.9,264.8" fill="#ff0000"/><polygon points="88.9,263.7 89.5,264.9 90.8,265.0 89.8,265.9 90.1,267.3 88.9,266.5 87.8,267.3 88.1,265.9 87.0,265.0 88.4,264.9" fill="#ff0000"/><polygon points="89.5,263.8 90.0,265.0 91.4,265.1 90.3,266.0 90.6,267.4 89.5,266.7 88.3,267.4 88.6,266.0 87.5,265.1 88.9,265.0" fill="#ff0000"/><polygon points="90.0,263.9 90.5,265.2 91.9,265.3 90.8,266.1 91.1,267.5 90.0,266.8 88.8,267.5 89.1,266.1 88.1,265.3 89.4,265.2" fill="#ff0000"/><polygon points="90.5,264.0 91.0,265.3 92.4,265.4 91.3,266.3 91.6,267.6 90.5,266.9 89.3,267.6 89.6,266.3 88.6,265.4 90.0,265.3" fill="#ff0000"/><polygon points="91.0,264.1 91.5,265.4 92.9,265.5 91.8,266.4 92.2,267.7 91.0,267.0 89.8,267.7 90.1,266.4 89.1,265.5 90.5,265.4" fill="#ff0000"/><polygon points="91.5,264.2 92.0,265.5 93.4,265.6 92.3,266.5 92.7,267.8 91.5,267.1 90.3,267.8 90.7,266.5 89.6,265.6 91.0,265.5" fill="#ff0000"/><polygon points="92.0,264.3 92.5,265.6 93.9,265.7 92.9,266.6 93.2,267.9 92.0,267.2 90.8,267.9 91.2,266.6 90.1,265.7 91.5,265.6" fill="#ff0000"/><polygon points="92.5,264.4 93.0,265.7 94.4,265.8 93.4,266.7 93.7,268.0 92.5,267.3 91.3,268.0 91.7,266.7 90.6,265.8 92.0,265.7" fill="#ff0000"/><polygon points="93.0,264.5 93.6,265.8 94.9,265.9 93.9,266.8 94.2,268.2 93.0,267.4 91.9,268.2 92.2,266.8 91.1,265.9 92.5,265.8" fill="#ff0000"/><polygon points="93.5,264.7 94.1,265.9 95.4,266.1 94.4,266.9 94.7,268.3 93.5,267.6 92.4,268.3 92.7,266.9 91.6,266.1 93.0,265.9" fill="#ff0000"/><polygon points="94.1,264.8 94.6,266.1 96.0,266.2 94.9,267.1 95.2,268.4 94.1,267.7 92.9,268.4 93.2,267.1 92.1,266.2 93.5,266.1" fill="#ff0000"/><polygon points="94.6,264.9 95.1,266.2 96.5,266.3 95.4,267.2 95.7,268.6 94.6,267.8 93.4,268.6 93.7,267.2 92.7,266.3 94.0,266.2" fill="#ff0000"/><polygon points="95.1,265.1 95.6,266.4 97.0,266.5 95.9,267.3 96.2,268.7 95.1,268.0 93.9,268.7 94.2,267.3 93.2,266.5 94.6,266.4" fill="#ff0000"/><polygon points="95.6,265.2 96.1,266.5 97.5,266.6 96.4,267.5 96.8,268.8 95.6,268.1 94.4,268.8 94.7,267.5 93.7,266.6 95.1,266.5" fill="#ff0000"/><polygon points="96.1,265.4 96.6,266.7 98.0,266.8 96.9,267.6 97.3,269.0 96.1,268.3 94.9,269.0 95.2,267.6 94.2,266.8 95.6,266.7" fill="#ff0000"/><polygon points="96.6,265.5 97.1,266.8 98.5,266.9 97.5,267.8 97.8,269.2 96.6,268.4 95.4,269.2 95.8,267.8 94.7,266.9 96.1,266.8" fill="#ff0000"/><polygon points="97.1,265.7 97.6,267.0 99.0,267.1 98.0,268.0 98.3,269.3 97.1,268.6 95.9,269.3 96.3,268.0 95.2,267.1 96.6,267.0" fill="#ff0000"/><polygon points="97.6,265.9 98.2,267.2 99.5,267.3 98.5,268.2 98.8,269.5 97.6,268.8 96.5,269.5 96.8,268.2 95.7,267.3 97.1,267.2" fill="#ff0000"/><polygon points="98.1,266.1 98.7,267.4 100.0,267.5 99.0,268.3 99.3,269.7 98.1,269.0 97.0,269.7 97.3,268.3 96.2,267.5 97.6,267.4" fill="#ff0000"/><polygon points="98.7,266.3 99.2,267.6 100.6,267.7 99.5,268.5 99.8,269.9 98.7,269.2 97.5,269.9 97.8,268.5 96.7,267.7 98.1,267.6" fill="#ff0000"/><polygon points="99.2,266.5 99.7,267.8 101.1,267.9 100.0,268.8 100.3,270.1 99.2,269.4 98.0,270.1 98.3,268.8 97.3,267.9 98.6,267.8" fill="#ff0000"/><polygon points="99.7,266.7 100.2,268.0 101.6,268.1 100.5,269.0 100.8,270.3 99.7,269.6 98.5,270.3 98.8,269.0 97.8,268.1 99.1,268.0" fill="#ff0000"/><polygon points="100.2,266.9 100.7,268.2 102.1,268.3 101.0,269.2 101.4,270.5 100.2,269.8 99.0,270.5 99.3,269.2 98.3,268.3 99.7,268.2" fill="#ff0000"/><polygon points="100.7,267.1 101.2,268.4 102.6,268.5 101.5,269.4 101.9,270.8 100.7,270.0 99.5,270.8 99.8,269.4 98.8,268.5 100.2,268.4" fill="#ff0000"/><polygon points="101.2,267.4 101.7,268.7 103.1,268.8 102.1,269.7 102.4,271.0 101.2,270.3 100.0,271.0 100.4,269.7 99.3,268.8 100.7,268.7" fill="#ff0000"/><polygon points="101.7,267.6 102.2,268.9 103.6,269.0 102.6,269.9 102.9,271.3 101.7,270.5 100.5,271.3 100.9,269.9 99.8,269.0 101.2,268.9" fill="#ff0000"/><polygon points="102.2,267.9 102.7,269.2 104.1,269.3 103.1,270.2 103.4,271.5 102.2,270.8 101.1,271.5 101.4,270.2 100.3,269.3 101.7,269.2" fill="#ff0000"/><polygon points="102.7,268.2 103.3,269.4 104.6,269.5 103.6,270.4 103.9,271.8 102.7,271.1 101.6,271.8 101.9,270.4 100.8,269.5 102.2,269.4" fill="#ff0000"/><polygon points="103.2,268.4 103.8,269.7 105.2,269.8 104.1,270.7 104.4,272.1 103.2,271.3 102.1,272.1 102.4,270.7 101.3,269.8 102.7,269.7" fill="#ff0000"/><polygon points="103.8,268.7 104.3,270.0 105.7,270.1 104.6,271.0 104.9,272.4 103.8,271.6 102.6,272.4 102.9,271.0 101.9,270.1 103.2,270.0" fill="#ff0000"/><polygon points="104.3,269.0 104.8,270.3 106.2,270.4 105.1,271.3 105.4,272.7 104.3,271.9 103.1,272.7 103.4,271.3 102.4,270.4 103.7,270.3" fill="#ff0000"/><polygon points="104.8,269.3 105.3,270.6 106.7,270.7 105.6,271.6 106.0,273.0 104.8,272.2 103.6,273.0 103.9,271.6 102.9,270.7 104.3,270.6" fill="#ff0000"/><polygon points="105.3,269.7 105.8,270.9 107.2,271.0 106.1,271.9 106.5,273.3 105.3,272.6 104.1,273.3 104.4,271.9 103.4,271.0 104.8,270.9" fill="#ff0000"/><polygon points="105.8,270.0 106.3,271.3 107.7,271.4 106.6,272.3 107.0,273.6 105.8,272.9 104.6,273.6 105.0,272.3 103.9,271.4 105.3,271.3" fill="#ff0000"/><polygon points="106.3,270.3 106.8,271.6 108.2,271.7 107.2,272.6 107.5,274.0 106.3,273.2 105.1,274.0 105.5,272.6 104.4,271.7 105.8,271.6" fill="#ff0000"/><polygon points="106.8,270.7 107.3,272.0 108.7,272.1 107.7,273.0 108.0,274.3 106.8,273.6 105.7,274.3 106.0,273.0 104.9,272.1 106.3,272.0" fill="#ff0000"/><polygon points="107.3,271.1 107.9,272.4 109.2,272.5 108.2,273.4 108.5,274.7 107.3,274.0 106.2,274.7 106.5,273.4 105.4,272.5 106.8,272.4" fill="#ff0000"/><polygon points="107.8,271.5 108.4,272.7 109.8,272.8 108.7,273.7 109.0,275.1 107.8,274.3 106.7,275.1 107.0,273.7 105.9,272.8 107.3,272.7" fill="#ff0000"/><polygon points="108.4,271.9 108.9,273.1 110.3,273.2 109.2,274.1 109.5,275.5 108.4,274.7 107.2,275.5 107.5,274.1 106.5,273.2 107.8,273.1" fill="#ff0000"/><polygon points="108.9,272.3 109.4,273.5 110.8,273.7 109.7,274.5 110.0,275.9 108.9,275.2 107.7,275.9 108.0,274.5 107.0,273.7 108.3,273.5" fill="#ff0000"/><polygon points="109.4,272.7 109.9,274.0 111.3,274.1 110.2,275.0 110.6,276.3 109.4,275.6 108.2,276.3 108.5,275.0 107.5,274.1 108.9,274.0" fill="#ff0000"/><polygon points="109.9,273.1 110.4,274.4 111.8,274.5 110.7,275.4 111.1,276.7 109.9,276.0 108.7,276.7 109.0,275.4 108.0,274.5 109.4,274.4" fill="#ff0000"/><polygon points="110.4,273.5 110.9,274.8 112.3,274.9 111.2,275.8 111.6,277.1 110.4,276.4 109.2,277.1 109.6,275.8 108.5,274.9 109.9,274.8" fill="#ff0000"/><polygon points="110.9,273.9 111.4,275.2 112.8,275.3 111.8,276.2 112.1,277.5 110.9,276.8 109.7,277.5 110.1,276.2 109.0,275.3 110.4,275.2" fill="#ff0000"/><polygon points="111.4,274.3 111.9,275.6 113.3,275.7 112.3,276.6 112.6,277.9 111.4,277.2 110.2,277.9 110.6,276.6 109.5,275.7 110.9,275.6" fill="#ff0000"/><polygon points="111.9,274.7 112.5,276.0 113.8,276.1 112.8,277.0 113.1,278.3 111.9,277.6 110.8,278.3 111.1,277.0 110.0,276.1 111.4,276.0" fill="#ff0000"/><polygon points="112.4,275.1 113.0,276.4 114.3,276.5 113.3,277.4 113.6,278.8 112.4,278.0 111.3,278.8 111.6,277.4 110.5,276.5 111.9,276.4" fill="#ff0000"/><polygon points="113.0,275.6 113.5,276.9 114.9,277.0 113.8,277.9 114.1,279.2 113.0,278.5 111.8,279.2 112.1,277.9 111.1,277.0 112.4,276.9" fill="#ff0000"/><polygon points="113.5,276.1 114.0,277.4 115.4,277.5 114.3,278.4 114.6,279.7 113.5,279.0 112.3,279.7 112.6,278.4 111.6,277.5 112.9,277.4" fill="#ff0000"/><polygon points="114.0,276.6 114.5,277.9 115.9,278.0 114.8,278.9 115.2,280.3 114.0,279.5 112.8,280.3 113.1,278.9 112.1,278.0 113.5,277.9" fill="#ff0000"/><polygon points="114.5,277.2 115.0,278.5 116.4,278.6 115.3,279.5 115.7,280.9 114.5,280.1 113.3,280.9 113.6,279.5 112.6,278.6 114.0,278.5" fill="#ff0000"/><polygon points="115.0,277.9 115.5,279.2 116.9,279.3 115.8,280.2 116.2,281.5 115.0,280.8 113.8,281.5 114.2,280.2 113.1,279.3 114.5,279.2" fill="#ff0000"/><polygon points="115.5,278.6 116.0,279.9 117.4,280.0 116.4,280.9 116.7,282.2 115.5,281.5 114.3,282.2 114.7,280.9 113.6,280.0 115.0,279.9" fill="#ff0000"/><polygon points="116.0,279.4 116.5,280.7 117.9,280.8 116.9,281.7 117.2,283.0 116.0,282.3 114.8,283.0 115.2,281.7 114.1,280.8 115.5,280.7" fill="#ff0000"/><polygon points="116.5,280.3 117.1,281.6 118.4,281.7 117.4,282.6 117.7,283.9 116.5,283.2 115.4,283.9 115.7,282.6 114.6,281.7 116.0,281.6" fill="#ff0000"/><polygon points="117.0,281.3 117.6,282.6 118.9,282.7 117.9,283.5 118.2,284.9 117.0,284.2 115.9,284.9 116.2,283.5 115.1,282.7 116.5,282.6" fill="#ff0000"/><polygon points="117.6,282.4 118.1,283.6 119.5,283.7 118.4,284.6 118.7,286.0 117.6,285.2 116.4,286.0 116.7,284.6 115.7,283.7 117.0,283.6" fill="#ff0000"/><polygon points="118.1,283.7 118.6,285.0 120.0,285.1 118.9,286.0 119.2,287.3 118.1,286.6 116.9,287.3 117.2,286.0 116.2,285.1 117.5,285.0" fill="#ff0000"/><polygon points="118.6,285.4 119.1,286.6 120.5,286.7 119.4,287.6 119.8,289.0 118.6,288.2 117.4,289.0 117.7,287.6 116.7,286.7 118.1,286.6" fill="#ff0000"/><polygon points="119.1,287.2 119.6,288.5 121.0,288.6 119.9,289.5 120.3,290.9 119.1,290.1 117.9,290.9 118.2,289.5 117.2,288.6 118.6,288.5" fill="#ff0000"/><polygon points="119.6,289.3 120.1,290.6 121.5,290.7 120.4,291.6 120.8,292.9 119.6,292.2 118.4,292.9 118.8,291.6 117.7,290.7 119.1,290.6" fill="#ff0000"/><polygon points="120.1,291.6 120.6,292.9 122.0,293.0 121.0,293.9 121.3,295.2 120.1,294.5 118.9,295.2 119.3,293.9 118.2,293.0 119.6,292.9" fill="#ff0000"/><polygon points="120.6,294.0 121.1,295.3 122.5,295.4 121.5,296.2 121.8,297.6 120.6,296.9 119.4,297.6 119.8,296.2 118.7,295.4 120.1,295.3" fill="#ff0000"/><polygon points="121.1,296.5 121.7,297.8 123.0,297.9 122.0,298.8 122.3,300.1 121.1,299.4 120.0,300.1 120.3,298.8 119.2,297.9 120.6,297.8" fill="#ff0000"/><polygon points="121.6,299.0 122.2,300.3 123.5,300.4 122.5,301.3 122.8,302.7 121.6,301.9 120.5,302.7 120.8,301.3 119.7,300.4 121.1,300.3" fill="#ff0000"/><polygon points="122.2,301.1 122.7,302.4 124.1,302.5 123.0,303.3 123.3,304.7 122.2,304.0 121.0,304.7 121.3,303.3 120.3,302.5 121.6,302.4" fill="#ff0000"/><polygon points="122.7,303.2 123.2,304.5 124.6,304.6 123.5,305.5 123.8,306.9 122.7,306.1 121.5,306.9 121.8,305.5 120.8,304.6 122.1,304.5" fill="#ff0000"/><polygon points="123.2,306.9 123.7,308.1 125.1,308.2 124.0,309.1 124.4,310.5 123.2,309.7 122.0,310.5 122.3,309.1 121.3,308.2 122.7,308.1" fill="#ff0000"/><polygon points="123.7,313.2 124.2,314.5 125.6,314.6 124.5,315.5 124.9,316.9 123.7,316.1 122.5,316.9 122.8,315.5 121.8,314.6 123.2,314.5" fill="#ff0000"/><polygon points="124.2,343.9 124.7,345.2 126.1,345.3 125.0,346.2 125.4,347.5 124.2,346.8 123.0,347.5 123.4,346.2 122.3,345.3 123.7,345.2" fill="#ff0000"/></g>
<polyline points="84.3,264.6 84.9,264.8 85.4,264.9 85.9,265.0 86.4,265.1 86.9,265.2 87.4,265.3 87.9,265.4 88.4,265.6 88.9,265.7 89.5,265.8 90.0,265.9 90.5,266.0 91.0,266.1 91.5,266.2 92.0,266.3 92.5,266.4 93.0,266.5 93.5,266.7 94.1,266.8 94.6,266.9 95.1,267.1 95.6,267.2 96.1,267.4 96.6,267.5 97.1,267.7 97.6,267.9 98.1,268.1 98.7,268.3 99.2,268.5 99.7,268.7 100.2,268.9 100.7,269.1 101.2,269.4 101.7,269.6 102.2,269.9 102.7,270.2 103.2,270.4 103.8,270.7 104.3,271.0 104.8,271.3 105.3,271.7 105.8,272.0 106.3,272.3 106.8,272.7 107.3,273.1 107.8,273.5 108.4,273.9 108.9,274.3 109.4,274.7 109.9,275.1 110.4,275.5 110.9,275.9 111.4,276.3 111.9,276.7 112.4,277.1 113.0,277.6 113.5,278.1 114.0,278.6 114.5,279.2 115.0,279.9 115.5,280.6 116.0,281.4 116.5,282.3 117.0,283.3 117.6,284.4 118.1,285.7 118.6,287.4 119.1,289.2 119.6,291.3 120.1,293.6 120.6,296.0 121.1,298.5 121.6,301.0 122.2,303.1 122.7,305.2" fill="none" stroke="#ff0000" stroke-width="3.5" stroke-linejoin="round" stroke-linecap="round"/>
<polyline points="124.2,354.6 124.7,313.8 125.2,301.1 125.7,295.3 126.3,292.1 126.8,290.1 127.3,288.8 127.8,288.0 128.3,287.4 128.8,286.6 129.3,285.6 129.9,284.6 130.4,283.8 130.9,283.0 131.4,282.3 131.9,281.6 132.4,280.9 132.9,280.3 133.4,279.6 134.0,279.1 134.5,278.5 135.0,278.0 135.5,277.5 136.0,277.0 136.5,276.5 137.0,276.0 137.6,275.6 138.1,275.1 138.6,274.7 139.1,274.2 139.6,273.8 140.1,273.3 140.6,272.9 141.2,272.5 141.7,272.1 142.2,271.8 142.7,271.4 143.2,271.1 143.7,270.8 144.2,270.6 144.7,270.3 145.3,270.1 145.8,269.9 146.3,269.7 146.8,269.6 147.3,269.4 147.8,269.2 148.3,269.1 148.9,268.9 149.4,268.7 149.9,268.6 150.4,268.5 150.9,268.4 151.4,268.3 151.9,268.3" fill="none" stroke="#ff0000" stroke-width="0.8" stroke-linejoin="round"/>
<g><polygon points="124.2,352.6 124.7,353.9 126.1,354.0 125.0,354.8 125.4,356.2 124.2,355.5 123.0,356.2 123.4,354.8 122.3,354.0 123.7,353.9" fill="#ff0000"/><polygon points="124.7,311.8 125.2,313.0 126.6,313.1 125.6,314.0 125.9,315.4 124.7,314.6 123.5,315.4 123.9,314.0 122.8,313.1 124.2,313.0" fill="#ff0000"/><polygon points="125.2,299.1 125.7,300.4 127.1,300.5 126.1,301.4 126.4,302.7 125.2,302.0 124.1,302.7 124.4,301.4 123.3,300.5 124.7,300.4" fill="#ff0000"/><polygon points="125.7,293.3 126.3,294.5 127.6,294.6 126.6,295.5 126.9,296.9 125.7,296.2 124.6,296.9 124.9,295.5 123.8,294.6 125.2,294.5" fill="#ff0000"/><polygon points="126.3,290.1 126.8,291.4 128.2,291.5 127.1,292.4 127.4,293.7 126.3,293.0 125.1,293.7 125.4,292.4 124.4,291.5 125.7,291.4" fill="#ff0000"/><polygon points="126.8,288.1 127.3,289.3 128.7,289.4 127.6,290.3 127.9,291.7 126.8,290.9 125.6,291.7 125.9,290.3 124.9,289.4 126.2,289.3" fill="#ff0000"/><polygon points="127.3,286.8 127.8,288.1 129.2,288.2 128.1,289.1 128.5,290.4 127.3,289.7 126.1,290.4 126.4,289.1 125.4,288.2 126.8,288.1" fill="#ff0000"/><polygon points="127.8,286.0 128.3,287.3 129.7,287.4 128.6,288.3 129.0,289.6 127.8,288.9 126.6,289.6 127.0,288.3 125.9,287.4 127.3,287.3" fill="#ff0000"/><polygon points="128.3,285.4 128.8,286.6 130.2,286.7 129.2,287.6 129.5,289.0 128.3,288.3 127.1,289.0 127.5,287.6 126.4,286.7 127.8,286.6" fill="#ff0000"/><polygon points="128.8,284.6 129.3,285.8 130.7,285.9 129.7,286.8 130.0,288.2 128.8,287.5 127.6,288.2 128.0,286.8 126.9,285.9 128.3,285.8" fill="#ff0000"/><polygon points="129.3,283.6 129.9,284.8 131.2,284.9 130.2,285.8 130.5,287.2 129.3,286.5 128.2,287.2 128.5,285.8 127.4,284.9 128.8,284.8" fill="#ff0000"/><polygon points="129.9,282.6 130.4,283.9 131.8,284.0 130.7,284.9 131.0,286.3 129.9,285.5 128.7,286.3 129.0,284.9 127.9,284.0 129.3,283.9" fill="#ff0000"/><polygon points="130.4,281.8 130.9,283.1 132.3,283.2 131.2,284.1 131.5,285.4 130.4,284.7 129.2,285.4 129.5,284.1 128.5,283.2 129.8,283.1" fill="#ff0000"/><polygon points="130.9,281.0 131.4,282.3 132.8,282.4 131.7,283.3 132.1,284.6 130.9,283.9 129.7,284.6 130.0,283.3 129.0,282.4 130.4,282.3" fill="#ff0000"/><polygon points="131.4,280.3 131.9,281.5 133.3,281.6 132.2,282.5 132.6,283.9 131.4,283.2 130.2,283.9 130.5,282.5 129.5,281.6 130.9,281.5" fill="#ff0000"/><polygon points="131.9,279.6 132.4,280.9 133.8,281.0 132.8,281.8 133.1,283.2 131.9,282.5 130.7,283.2 131.1,281.8 130.0,281.0 131.4,280.9" fill="#ff0000"/><polygon points="132.4,278.9 132.9,280.2 134.3,280.3 133.3,281.2 133.6,282.5 132.4,281.8 131.2,282.5 131.6,281.2 130.5,280.3 131.9,280.2" fill="#ff0000"/><polygon points="132.9,278.3 133.5,279.5 134.8,279.7 133.8,280.5 134.1,281.9 132.9,281.2 131.8,281.9 132.1,280.5 131.0,279.7 132.4,279.5" fill="#ff0000"/><polygon points="133.4,277.6 134.0,278.9 135.3,279.0 134.3,279.9 134.6,281.3 133.4,280.5 132.3,281.3 132.6,279.9 131.5,279.0 132.9,278.9" fill="#ff0000"/><polygon points="134.0,277.1 134.5,278.3 135.9,278.4 134.8,279.3 135.1,280.7 134.0,279.9 132.8,280.7 133.1,279.3 132.1,278.4 133.4,278.3" fill="#ff0000"/><polygon points="134.5,276.5 135.0,277.8 136.4,277.9 135.3,278.8 135.6,280.1 134.5,279.4 133.3,280.1 133.6,278.8 132.6,277.9 134.0,277.8" fill="#ff0000"/><polygon points="135.0,276.0 135.5,277.2 136.9,277.3 135.8,278.2 136.2,279.6 135.0,278.9 133.8,279.6 134.1,278.2 133.1,277.3 134.5,277.2" fill="#ff0000"/><polygon points="135.5,275.5 136.0,276.7 137.4,276.8 136.3,277.7 136.7,279.1 135.5,278.3 134.3,279.1 134.7,277.7 133.6,276.8 135.0,276.7" fill="#ff0000"/><polygon points="136.0,275.0 136.5,276.2 137.9,276.3 136.9,277.2 137.2,278.6 136.0,277.9 134.8,278.6 135.2,277.2 134.1,276.3 135.5,276.2" fill="#ff0000"/><polygon points="136.5,274.5 137.1,275.8 138.4,275.9 137.4,276.8 137.7,278.1 136.5,277.4 135.4,278.1 135.7,276.8 134.6,275.9 136.0,275.8" fill="#ff0000"/><polygon points="137.0,274.0 137.6,275.3 138.9,275.4 137.9,276.3 138.2,277.6 137.0,276.9 135.9,277.6 136.2,276.3 135.1,275.4 136.5,275.3" fill="#ff0000"/><polygon points="137.6,273.6 138.1,274.8 139.5,274.9 138.4,275.8 138.7,277.2 137.6,276.5 136.4,277.2 136.7,275.8 135.7,274.9 137.0,274.8" fill="#ff0000"/><polygon points="138.1,273.1 138.6,274.4 140.0,274.5 138.9,275.4 139.2,276.7 138.1,276.0 136.9,276.7 137.2,275.4 136.2,274.5 137.5,274.4" fill="#ff0000"/><polygon points="138.6,272.7 139.1,273.9 140.5,274.0 139.4,274.9 139.8,276.3 138.6,275.6 137.4,276.3 137.7,274.9 136.7,274.0 138.1,273.9" fill="#ff0000"/><polygon points="139.1,272.2 139.6,273.5 141.0,273.6 139.9,274.5 140.3,275.8 139.1,275.1 137.9,275.8 138.3,274.5 137.2,273.6 138.6,273.5" fill="#ff0000"/><polygon points="139.6,271.8 140.1,273.0 141.5,273.1 140.5,274.0 140.8,275.4 139.6,274.7 138.4,275.4 138.8,274.0 137.7,273.1 139.1,273.0" fill="#ff0000"/><polygon points="140.1,271.3 140.6,272.6 142.0,272.7 141.0,273.6 141.3,274.9 140.1,274.2 138.9,274.9 139.3,273.6 138.2,272.7 139.6,272.6" fill="#ff0000"/><polygon points="140.6,270.9 141.2,272.2 142.5,272.3 141.5,273.2 141.8,274.5 140.6,273.8 139.5,274.5 139.8,273.2 138.7,272.3 140.1,272.2" fill="#ff0000"/><polygon points="141.2,270.5 141.7,271.8 143.1,271.9 142.0,272.8 142.3,274.1 141.2,273.4 140.0,274.1 140.3,272.8 139.3,271.9 140.6,271.8" fill="#ff0000"/><polygon points="141.7,270.1 142.2,271.4 143.6,271.5 142.5,272.4 142.8,273.7 141.7,273.0 140.5,273.7 140.8,272.4 139.8,271.5 141.1,271.4" fill="#ff0000"/><polygon points="142.2,269.8 142.7,271.0 144.1,271.1 143.0,272.0 143.4,273.4 142.2,272.6 141.0,273.4 141.3,272.0 140.3,271.1 141.7,271.0" fill="#ff0000"/><polygon points="142.7,269.4 143.2,270.7 144.6,270.8 143.5,271.7 143.9,273.0 142.7,272.3 141.5,273.0 141.8,271.7 140.8,270.8 142.2,270.7" fill="#ff0000"/><polygon points="143.2,269.1 143.7,270.4 145.1,270.5 144.1,271.4 144.4,272.7 143.2,272.0 142.0,272.7 142.4,271.4 141.3,270.5 142.7,270.4" fill="#ff0000"/><polygon points="143.7,268.8 144.2,270.1 145.6,270.2 144.6,271.1 144.9,272.5 143.7,271.7 142.5,272.5 142.9,271.1 141.8,270.2 143.2,270.1" fill="#ff0000"/><polygon points="144.2,268.6 144.8,269.9 146.1,270.0 145.1,270.9 145.4,272.2 144.2,271.5 143.1,272.2 143.4,270.9 142.3,270.0 143.7,269.9" fill="#ff0000"/><polygon points="144.7,268.3 145.3,269.6 146.7,269.7 145.6,270.6 145.9,272.0 144.7,271.2 143.6,272.0 143.9,270.6 142.8,269.7 144.2,269.6" fill="#ff0000"/><polygon points="145.3,268.1 145.8,269.4 147.2,269.5 146.1,270.4 146.4,271.7 145.3,271.0 144.1,271.7 144.4,270.4 143.4,269.5 144.7,269.4" fill="#ff0000"/><polygon points="145.8,267.9 146.3,269.2 147.7,269.3 146.6,270.2 147.0,271.5 145.8,270.8 144.6,271.5 144.9,270.2 143.9,269.3 145.3,269.2" fill="#ff0000"/><polygon points="146.3,267.7 146.8,269.0 148.2,269.1 147.1,270.0 147.5,271.4 146.3,270.6 145.1,271.4 145.4,270.0 144.4,269.1 145.8,269.0" fill="#ff0000"/><polygon points="146.8,267.6 147.3,268.8 148.7,268.9 147.6,269.8 148.0,271.2 146.8,270.4 145.6,271.2 146.0,269.8 144.9,268.9 146.3,268.8" fill="#ff0000"/><polygon points="147.3,267.4 147.8,268.7 149.2,268.8 148.2,269.7 148.5,271.0 147.3,270.3 146.1,271.0 146.5,269.7 145.4,268.8 146.8,268.7" fill="#ff0000"/><polygon points="147.8,267.2 148.4,268.5 149.7,268.6 148.7,269.5 149.0,270.8 147.8,270.1 146.7,270.8 147.0,269.5 145.9,268.6 147.3,268.5" fill="#ff0000"/><polygon points="148.3,267.1 148.9,268.3 150.2,268.4 149.2,269.3 149.5,270.7 148.3,269.9 147.2,270.7 147.5,269.3 146.4,268.4 147.8,268.3" fill="#ff0000"/><polygon points="148.9,266.9 149.4,268.2 150.8,268.3 149.7,269.2 150.0,270.5 148.9,269.8 147.7,270.5 148.0,269.2 147.0,268.3 148.3,268.2" fill="#ff0000"/><polygon points="149.4,266.7 149.9,268.0 151.3,268.1 150.2,269.0 150.5,270.4 149.4,269.6 148.2,270.4 148.5,269.0 147.5,268.1 148.8,268.0" fill="#ff0000"/><polygon points="149.9,266.6 150.4,267.9 151.8,268.0 150.7,268.9 151.1,270.2 149.9,269.5 148.7,270.2 149.0,268.9 148.0,268.0 149.4,267.9" fill="#ff0000"/><polygon points="150.4,266.5 150.9,267.7 152.3,267.8 151.2,268.7 151.6,270.1 150.4,269.4 149.2,270.1 149.6,268.7 148.5,267.8 149.9,267.7" fill="#ff0000"/><polygon points="150.9,266.4 151.4,267.7 152.8,267.8 151.8,268.7 152.1,270.0 150.9,269.3 149.7,270.0 150.1,268.7 149.0,267.8 150.4,267.7" fill="#ff0000"/><polygon points="151.4,266.3 151.9,267.6 153.3,267.7 152.3,268.6 152.6,270.0 151.4,269.2 150.3,270.0 150.6,268.6 149.5,267.7 150.9,267.6" fill="#ff0000"/><polygon points="151.9,266.3 152.5,267.6 153.8,267.7 152.8,268.5 153.1,269.9 151.9,269.2 150.8,269.9 151.1,268.5 150.0,267.7 151.4,267.6" fill="#ff0000"/></g>
<polyline points="126.3,292.1 126.8,290.1 127.3,288.8 127.8,288.0 128.3,287.4 128.8,286.6 129.3,285.6 129.9,284.6 130.4,283.8 130.9,283.0 131.4,282.3 131.9,281.6 132.4,280.9 132.9,280.3 133.4,279.6 134.0,279.1 134.5,278.5 135.0,278.0 135.5,277.5 136.0,277.0 136.5,276.5 137.0,276.0 137.6,275.6 138.1,275.1 138.6,274.7 139.1,274.2 139.6,273.8 140.1,273.3 140.6,272.9 141.2,272.5 141.7,272.1 142.2,271.8 142.7,271.4 143.2,271.1 143.7,270.8 144.2,270.6 144.7,270.3 145.3,270.1 145.8,269.9 146.3,269.7 146.8,269.6 147.3,269.4 147.8,269.2 148.3,269.1 148.9,268.9 149.4,268.7 149.9,268.6 150.4,268.5 150.9,268.4 151.4,268.3 151.9,268.3" fill="none" stroke="#ff0000" stroke-width="3.5" stroke-linejoin="round" stroke-linecap="round"/>
<polyline points="151.9,268.3 153.2,268.3 154.4,268.3 155.6,268.3 156.9,268.3 158.1,268.3 159.3,268.3 160.6,268.3 161.8,268.3 163.0,268.3 164.3,268.3 165.5,268.3 166.7,268.3 167.9,268.3 169.2,268.3 170.4,268.3 171.6,268.3 172.9,268.3 174.1,268.3 175.3,268.3 176.6,268.3 177.8,268.3 179.0,268.3 180.3,268.3 181.5,268.3 182.7,268.3 184.0,268.3 185.2,268.3 186.4,268.3 187.6,268.3 188.9,268.3 190.1,268.3 191.3,268.3 192.6,268.3 193.8,268.3 195.0,268.3 196.3,268.3 197.5,268.3 198.7,268.3 200.0,268.3 201.2,268.3 202.4,268.3 203.7,268.3 204.9,268.3 206.1,268.3 207.3,268.3 208.6,268.3 209.8,268.3 211.0,268.3 212.3,268.3 213.5,268.3 214.7,268.3 216.0,268.3 217.2,268.3 218.4,268.3 219.7,268.3 220.9,268.3 222.1,268.3 223.4,268.3 224.6,268.3 225.8,268.3" fill="none" stroke="#ff0000" stroke-width="0.8" stroke-linejoin="round"/>
<g><polygon points="151.9,266.3 152.5,267.6 153.8,267.7 152.8,268.5 153.1,269.9 151.9,269.2 150.8,269.9 151.1,268.5 150.0,267.7 151.4,267.6" fill="#ff0000"/><polygon points="153.2,266.3 153.7,267.6 155.1,267.7 154.0,268.5 154.3,269.9 153.2,269.2 152.0,269.9 152.3,268.5 151.3,267.7 152.6,267.6" fill="#ff0000"/><polygon points="154.4,266.3 154.9,267.6 156.3,267.7 155.2,268.5 155.6,269.9 154.4,269.2 153.2,269.9 153.6,268.5 152.5,267.7 153.9,267.6" fill="#ff0000"/><polygon points="155.6,266.3 156.2,267.6 157.5,267.7 156.5,268.5 156.8,269.9 155.6,269.2 154.5,269.9 154.8,268.5 153.7,267.7 155.1,267.6" fill="#ff0000"/><polygon points="156.9,266.3 157.4,267.6 158.8,267.7 157.7,268.5 158.0,269.9 156.9,269.2 155.7,269.9 156.0,268.5 155.0,267.7 156.3,267.6" fill="#ff0000"/><polygon points="158.1,266.3 158.6,267.6 160.0,267.7 158.9,268.5 159.3,269.9 158.1,269.2 156.9,269.9 157.3,268.5 156.2,267.7 157.6,267.6" fill="#ff0000"/><polygon points="159.3,266.3 159.9,267.6 161.2,267.7 160.2,268.5 160.5,269.9 159.3,269.2 158.2,269.9 158.5,268.5 157.4,267.7 158.8,267.6" fill="#ff0000"/><polygon points="160.6,266.3 161.1,267.6 162.5,267.7 161.4,268.5 161.7,269.9 160.6,269.2 159.4,269.9 159.7,268.5 158.7,267.7 160.0,267.6" fill="#ff0000"/><polygon points="161.8,266.3 162.3,267.6 163.7,267.7 162.6,268.5 163.0,269.9 161.8,269.2 160.6,269.9 160.9,268.5 159.9,267.7 161.3,267.6" fill="#ff0000"/><polygon points="163.0,266.3 163.5,267.6 164.9,267.7 163.9,268.5 164.2,269.9 163.0,269.2 161.8,269.9 162.2,268.5 161.1,267.7 162.5,267.6" fill="#ff0000"/><polygon points="164.3,266.3 164.8,267.6 166.2,267.7 165.1,268.5 165.4,269.9 164.3,269.2 163.1,269.9 163.4,268.5 162.4,267.7 163.7,267.6" fill="#ff0000"/><polygon points="165.5,266.3 166.0,267.6 167.4,267.7 166.3,268.5 166.7,269.9 165.5,269.2 164.3,269.9 164.6,268.5 163.6,267.7 165.0,267.6" fill="#ff0000"/><polygon points="166.7,266.3 167.2,267.6 168.6,267.7 167.6,268.5 167.9,269.9 166.7,269.2 165.5,269.9 165.9,268.5 164.8,267.7 166.2,267.6" fill="#ff0000"/><polygon points="167.9,266.3 168.5,267.6 169.8,267.7 168.8,268.5 169.1,269.9 167.9,269.2 166.8,269.9 167.1,268.5 166.0,267.7 167.4,267.6" fill="#ff0000"/><polygon points="169.2,266.3 169.7,267.6 171.1,267.7 170.0,268.5 170.4,269.9 169.2,269.2 168.0,269.9 168.3,268.5 167.3,267.7 168.7,267.6" fill="#ff0000"/><polygon points="170.4,266.3 170.9,267.6 172.3,267.7 171.3,268.5 171.6,269.9 170.4,269.2 169.2,269.9 169.6,268.5 168.5,267.7 169.9,267.6" fill="#ff0000"/><polygon points="171.6,266.3 172.2,267.6 173.5,267.7 172.5,268.5 172.8,269.9 171.6,269.2 170.5,269.9 170.8,268.5 169.7,267.7 171.1,267.6" fill="#ff0000"/><polygon points="172.9,266.3 173.4,267.6 174.8,267.7 173.7,268.5 174.0,269.9 172.9,269.2 171.7,269.9 172.0,268.5 171.0,267.7 172.3,267.6" fill="#ff0000"/><polygon points="174.1,266.3 174.6,267.6 176.0,267.7 174.9,268.5 175.3,269.9 174.1,269.2 172.9,269.9 173.3,268.5 172.2,267.7 173.6,267.6" fill="#ff0000"/><polygon points="175.3,266.3 175.9,267.6 177.2,267.7 176.2,268.5 176.5,269.9 175.3,269.2 174.2,269.9 174.5,268.5 173.4,267.7 174.8,267.6" fill="#ff0000"/><polygon points="176.6,266.3 177.1,267.6 178.5,267.7 177.4,268.5 177.7,269.9 176.6,269.2 175.4,269.9 175.7,268.5 174.7,267.7 176.0,267.6" fill="#ff0000"/><polygon points="177.8,266.3 178.3,267.6 179.7,267.7 178.6,268.5 179.0,269.9 177.8,269.2 176.6,269.9 177.0,268.5 175.9,267.7 177.3,267.6" fill="#ff0000"/><polygon points="179.0,266.3 179.6,267.6 180.9,267.7 179.9,268.5 180.2,269.9 179.0,269.2 177.9,269.9 178.2,268.5 177.1,267.7 178.5,267.6" fill="#ff0000"/><polygon points="180.3,266.3 180.8,267.6 182.2,267.7 181.1,268.5 181.4,269.9 180.3,269.2 179.1,269.9 179.4,268.5 178.4,267.7 179.7,267.6" fill="#ff0000"/><polygon points="181.5,266.3 182.0,267.6 183.4,267.7 182.3,268.5 182.7,269.9 181.5,269.2 180.3,269.9 180.6,268.5 179.6,267.7 181.0,267.6" fill="#ff0000"/><polygon points="182.7,266.3 183.2,267.6 184.6,267.7 183.6,268.5 183.9,269.9 182.7,269.2 181.5,269.9 181.9,268.5 180.8,267.7 182.2,267.6" fill="#ff0000"/><polygon points="184.0,266.3 184.5,267.6 185.9,267.7 184.8,268.5 185.1,269.9 184.0,269.2 182.8,269.9 183.1,268.5 182.1,267.7 183.4,267.6" fill="#ff0000"/><polygon points="185.2,266.3 185.7,267.6 187.1,267.7 186.0,268.5 186.4,269.9 185.2,269.2 184.0,269.9 184.3,268.5 183.3,267.7 184.7,267.6" fill="#ff0000"/><polygon points="186.4,266.3 186.9,267.6 188.3,267.7 187.3,268.5 187.6,269.9 186.4,269.2 185.2,269.9 185.6,268.5 184.5,267.7 185.9,267.6" fill="#ff0000"/><polygon points="187.6,266.3 188.2,267.6 189.5,267.7 188.5,268.5 188.8,269.9 187.6,269.2 186.5,269.9 186.8,268.5 185.7,267.7 187.1,267.6" fill="#ff0000"/><polygon points="188.9,266.3 189.4,267.6 190.8,267.7 189.7,268.5 190.1,269.9 188.9,269.2 187.7,269.9 188.0,268.5 187.0,267.7 188.4,267.6" fill="#ff0000"/><polygon points="190.1,266.3 190.6,267.6 192.0,267.7 191.0,268.5 191.3,269.9 190.1,269.2 188.9,269.9 189.3,268.5 188.2,267.7 189.6,267.6" fill="#ff0000"/><polygon points="191.3,266.3 191.9,267.6 193.2,267.7 192.2,268.5 192.5,269.9 191.3,269.2 190.2,269.9 190.5,268.5 189.4,267.7 190.8,267.6" fill="#ff0000"/><polygon points="192.6,266.3 193.1,267.6 194.5,267.7 193.4,268.5 193.7,269.9 192.6,269.2 191.4,269.9 191.7,268.5 190.7,267.7 192.0,267.6" fill="#ff0000"/><polygon points="193.8,266.3 194.3,267.6 195.7,267.7 194.6,268.5 195.0,269.9 193.8,269.2 192.6,269.9 193.0,268.5 191.9,267.7 193.3,267.6" fill="#ff0000"/><polygon points="195.0,266.3 195.6,267.6 196.9,267.7 195.9,268.5 196.2,269.9 195.0,269.2 193.9,269.9 194.2,268.5 193.1,267.7 194.5,267.6" fill="#ff0000"/><polygon points="196.3,266.3 196.8,267.6 198.2,267.7 197.1,268.5 197.4,269.9 196.3,269.2 195.1,269.9 195.4,268.5 194.4,267.7 195.7,267.6" fill="#ff0000"/><polygon points="197.5,266.3 198.0,267.6 199.4,267.7 198.3,268.5 198.7,269.9 197.5,269.2 196.3,269.9 196.7,268.5 195.6,267.7 197.0,267.6" fill="#ff0000"/><polygon points="198.7,266.3 199.3,267.6 200.6,267.7 199.6,268.5 199.9,269.9 198.7,269.2 197.6,269.9 197.9,268.5 196.8,267.7 198.2,267.6" fill="#ff0000"/><polygon points="200.0,266.3 200.5,267.6 201.9,267.7 200.8,268.5 201.1,269.9 200.0,269.2 198.8,269.9 199.1,268.5 198.1,267.7 199.4,267.6" fill="#ff0000"/><polygon points="201.2,266.3 201.7,267.6 203.1,267.7 202.0,268.5 202.4,269.9 201.2,269.2 200.0,269.9 200.3,268.5 199.3,267.7 200.7,267.6" fill="#ff0000"/><polygon points="202.4,266.3 202.9,267.6 204.3,267.7 203.3,268.5 203.6,269.9 202.4,269.2 201.2,269.9 201.6,268.5 200.5,267.7 201.9,267.6" fill="#ff0000"/><polygon points="203.7,266.3 204.2,267.6 205.6,267.7 204.5,268.5 204.8,269.9 203.7,269.2 202.5,269.9 202.8,268.5 201.8,267.7 203.1,267.6" fill="#ff0000"/><polygon points="204.9,266.3 205.4,267.6 206.8,267.7 205.7,268.5 206.1,269.9 204.9,269.2 203.7,269.9 204.0,268.5 203.0,267.7 204.4,267.6" fill="#ff0000"/><polygon points="206.1,266.3 206.6,267.6 208.0,267.7 207.0,268.5 207.3,269.9 206.1,269.2 204.9,269.9 205.3,268.5 204.2,267.7 205.6,267.6" fill="#ff0000"/><polygon points="207.3,266.3 207.9,267.6 209.2,267.7 208.2,268.5 208.5,269.9 207.3,269.2 206.2,269.9 206.5,268.5 205.4,267.7 206.8,267.6" fill="#ff0000"/><polygon points="208.6,266.3 209.1,267.6 210.5,267.7 209.4,268.5 209.8,269.9 208.6,269.2 207.4,269.9 207.7,268.5 206.7,267.7 208.1,267.6" fill="#ff0000"/><polygon points="209.8,266.3 210.3,267.6 211.7,267.7 210.7,268.5 211.0,269.9 209.8,269.2 208.6,269.9 209.0,268.5 207.9,267.7 209.3,267.6" fill="#ff0000"/><polygon points="211.0,266.3 211.6,267.6 212.9,267.7 211.9,268.5 212.2,269.9 211.0,269.2 209.9,269.9 210.2,268.5 209.1,267.7 210.5,267.6" fill="#ff0000"/><polygon points="212.3,266.3 212.8,267.6 214.2,267.7 213.1,268.5 213.4,269.9 212.3,269.2 211.1,269.9 211.4,268.5 210.4,267.7 211.7,267.6" fill="#ff0000"/><polygon points="213.5,266.3 214.0,267.6 215.4,267.7 214.3,268.5 214.7,269.9 213.5,269.2 212.3,269.9 212.7,268.5 211.6,267.7 213.0,267.6" fill="#ff0000"/><polygon points="214.7,266.3 215.3,267.6 216.6,267.7 215.6,268.5 215.9,269.9 214.7,269.2 213.6,269.9 213.9,268.5 212.8,267.7 214.2,267.6" fill="#ff0000"/><polygon points="216.0,266.3 216.5,267.6 217.9,267.7 216.8,268.5 217.1,269.9 216.0,269.2 214.8,269.9 215.1,268.5 214.1,267.7 215.4,267.6" fill="#ff0000"/><polygon points="217.2,266.3 217.7,267.6 219.1,267.7 218.0,268.5 218.4,269.9 217.2,269.2 216.0,269.9 216.4,268.5 215.3,267.7 216.7,267.6" fill="#ff0000"/><polygon points="218.4,266.3 219.0,267.6 220.3,267.7 219.3,268.5 219.6,269.9 218.4,269.2 217.3,269.9 217.6,268.5 216.5,267.7 217.9,267.6" fill="#ff0000"/><polygon points="219.7,266.3 220.2,267.6 221.6,267.7 220.5,268.5 220.8,269.9 219.7,269.2 218.5,269.9 218.8,268.5 217.8,267.7 219.1,267.6" fill="#ff0000"/><polygon points="220.9,266.3 221.4,267.6 222.8,267.7 221.7,268.5 222.1,269.9 220.9,269.2 219.7,269.9 220.0,268.5 219.0,267.7 220.4,267.6" fill="#ff0000"/><polygon points="222.1,266.3 222.6,267.6 224.0,267.7 223.0,268.5 223.3,269.9 222.1,269.2 220.9,269.9 221.3,268.5 220.2,267.7 221.6,267.6" fill="#ff0000"/><polygon points="223.4,266.3 223.9,267.6 225.3,267.7 224.2,268.5 224.5,269.9 223.4,269.2 222.2,269.9 222.5,268.5 221.5,267.7 222.8,267.6" fill="#ff0000"/><polygon points="224.6,266.3 225.1,267.6 226.5,267.7 225.4,268.5 225.8,269.9 224.6,269.2 223.4,269.9 223.7,268.5 222.7,267.7 224.1,267.6" fill="#ff0000"/><polygon points="225.8,266.3 226.3,267.6 227.7,267.7 226.7,268.5 227.0,269.9 225.8,269.2 224.6,269.9 225.0,268.5 223.9,267.7 225.3,267.6" fill="#ff0000"/></g>
<polyline points="151.9,268.3 153.2,268.3 154.4,268.3 155.6,268.3 156.9,268.3 158.1,268.3 159.3,268.3 160.6,268.3 161.8,268.3 163.0,268.3 164.3,268.3 165.5,268.3 166.7,268.3 167.9,268.3 169.2,268.3 170.4,268.3 171.6,268.3 172.9,268.3 174.1,268.3 175.3,268.3 176.6,268.3 177.8,268.3 179.0,268.3 180.3,268.3 181.5,268.3 182.7,268.3 184.0,268.3 185.2,268.3 186.4,268.3 187.6,268.3 188.9,268.3 190.1,268.3 191.3,268.3 192.6,268.3 193.8,268.3 195.0,268.3 196.3,268.3 197.5,268.3 198.7,268.3 200.0,268.3 201.2,268.3 202.4,268.3 203.7,268.3 204.9,268.3 206.1,268.3 207.3,268.3 208.6,268.3 209.8,268.3 211.0,268.3 212.3,268.3 213.5,268.3 214.7,268.3 216.0,268.3 217.2,268.3 218.4,268.3 219.7,268.3 220.9,268.3 222.1,268.3 223.4,268.3 224.6,268.3 225.8,268.3" fill="none" stroke="#ff0000" stroke-width="3.5" stroke-linejoin="round" stroke-linecap="round"/>
<polyline points="226.4,274.5 225.9,274.7 225.4,274.8 224.9,275.0 224.4,275.2 223.8,275.3 223.3,275.5 222.8,275.6 222.3,275.8 221.8,276.0 221.3,276.1 220.8,276.3 220.3,276.4 219.8,276.6 219.2,276.7 218.7,276.9 218.2,277.0 217.7,277.2 217.2,277.3 216.7,277.5 216.2,277.6 215.7,277.8 215.2,277.9 214.6,278.1 214.1,278.2 213.6,278.4 213.1,278.5 212.6,278.7 212.1,278.9 211.6,279.0 211.1,279.2 210.6,279.3 210.0,279.5 209.5,279.7 209.0,279.8 208.5,280.0 208.0,280.2 207.5,280.3 207.0,280.5 206.5,280.7 206.0,280.8 205.4,281.0 204.9,281.2 204.4,281.4 203.9,281.6 203.4,281.8 202.9,282.0 202.4,282.2 201.9,282.4 201.4,282.6 200.8,282.8 200.3,283.0 199.8,283.2 199.3,283.4 198.8,283.6 198.3,283.8 197.8,284.1 197.3,284.3 196.8,284.5 196.3,284.7 195.7,285.0 195.2,285.2 194.7,285.5 194.2,285.7 193.7,285.9 193.2,286.2 192.7,286.4 192.2,286.7 191.7,286.9 191.1,287.2 190.6,287.4 190.1,287.7 189.6,288.0 189.1,288.2 188.6,288.5 188.1,288.8 187.6,289.0 187.1,289.3 186.5,289.6 186.0,289.8 185.5,290.1 185.0,290.4 184.5,290.6 184.0,290.9 183.5,291.2 183.0,291.4 182.5,291.7 181.9,292.0 181.4,292.3 180.9,292.5 180.4,292.8 179.9,293.1 179.4,293.4 178.9,293.6 178.4,293.9 177.9,294.2 177.3,294.4 176.8,294.7 176.3,295.0 175.8,295.2 175.3,295.5 174.8,295.8 174.3,296.0 173.8,296.3 173.3,296.6 172.7,296.8 172.2,297.1 171.7,297.4 171.2,297.6 170.7,297.9 170.2,298.2 169.7,298.5 169.2,298.7 168.7,299.0 168.1,299.3 167.6,299.6 167.1,299.8 166.6,300.1 166.1,300.3 165.6,300.6 165.1,300.9 164.6,301.1 164.1,301.3 163.5,301.6 163.0,301.8 162.5,302.0 162.0,302.3 161.5,302.5 161.0,302.7 160.5,302.9 160.0,303.2 159.5,303.4 158.9,303.6 158.4,303.8 157.9,304.1 157.4,304.3 156.9,304.5 156.4,304.7 155.9,305.0 155.4,305.2 154.9,305.4 154.3,305.7 153.8,305.9 153.3,306.2 152.8,306.4 152.3,306.7 151.8,306.9 151.3,307.2 150.8,307.4 150.3,307.7 149.8,308.0 149.2,308.3 148.7,308.5 148.2,308.8 147.7,309.1 147.2,309.4 146.7,309.7 146.2,310.0 145.7,310.4 145.2,310.7 144.6,311.0 144.1,311.4 143.6,311.7 143.1,312.1 142.6,312.5 142.1,312.9 141.6,313.4 141.1,313.8 140.6,314.3 140.0,314.8 139.5,315.4 139.0,315.9 138.5,316.5 138.0,317.1 137.5,317.7 137.0,318.3 136.5,318.9 136.0,319.5 135.4,320.2 134.9,320.8 134.4,321.5 133.9,322.2 133.4,323.0 132.9,323.8 132.4,324.6 131.9,325.6 131.4,326.5 130.8,327.1 130.3,327.6 129.8,328.1 129.3,328.7 128.8,329.7 128.3,331.2 127.8,333.3 127.3,336.2 126.8,340.6 126.2,347.0 125.7,355.0 125.2,363.7 124.7,372.4 124.2,380.6" fill="none" stroke="#ff0000" stroke-width="0.8" stroke-linejoin="round"/>
<g><polygon points="226.4,272.5 226.9,273.8 228.3,273.9 227.2,274.8 227.6,276.1 226.4,275.4 225.2,276.1 225.6,274.8 224.5,273.9 225.9,273.8" fill="#ff0000"/><polygon points="225.9,272.7 226.4,274.0 227.8,274.1 226.7,275.0 227.1,276.3 225.9,275.6 224.7,276.3 225.0,275.0 224.0,274.1 225.4,274.0" fill="#ff0000"/><polygon points="225.4,272.8 225.9,274.1 227.3,274.2 226.2,275.1 226.6,276.5 225.4,275.7 224.2,276.5 224.5,275.1 223.5,274.2 224.9,274.1" fill="#ff0000"/><polygon points="224.9,273.0 225.4,274.3 226.8,274.4 225.7,275.3 226.0,276.6 224.9,275.9 223.7,276.6 224.0,275.3 223.0,274.4 224.3,274.3" fill="#ff0000"/><polygon points="224.4,273.2 224.9,274.4 226.3,274.5 225.2,275.4 225.5,276.8 224.4,276.1 223.2,276.8 223.5,275.4 222.5,274.5 223.8,274.4" fill="#ff0000"/><polygon points="223.8,273.3 224.4,274.6 225.7,274.7 224.7,275.6 225.0,276.9 223.8,276.2 222.7,276.9 223.0,275.6 221.9,274.7 223.3,274.6" fill="#ff0000"/><polygon points="223.3,273.5 223.9,274.8 225.2,274.9 224.2,275.8 224.5,277.1 223.3,276.4 222.2,277.1 222.5,275.8 221.4,274.9 222.8,274.8" fill="#ff0000"/><polygon points="222.8,273.6 223.3,274.9 224.7,275.0 223.7,275.9 224.0,277.3 222.8,276.5 221.6,277.3 222.0,275.9 220.9,275.0 222.3,274.9" fill="#ff0000"/><polygon points="222.3,273.8 222.8,275.1 224.2,275.2 223.2,276.1 223.5,277.4 222.3,276.7 221.1,277.4 221.5,276.1 220.4,275.2 221.8,275.1" fill="#ff0000"/><polygon points="221.8,274.0 222.3,275.2 223.7,275.3 222.6,276.2 223.0,277.6 221.8,276.8 220.6,277.6 221.0,276.2 219.9,275.3 221.3,275.2" fill="#ff0000"/><polygon points="221.3,274.1 221.8,275.4 223.2,275.5 222.1,276.4 222.5,277.7 221.3,277.0 220.1,277.7 220.4,276.4 219.4,275.5 220.8,275.4" fill="#ff0000"/><polygon points="220.8,274.3 221.3,275.5 222.7,275.6 221.6,276.5 222.0,277.9 220.8,277.1 219.6,277.9 219.9,276.5 218.9,275.6 220.3,275.5" fill="#ff0000"/><polygon points="220.3,274.4 220.8,275.7 222.2,275.8 221.1,276.7 221.4,278.0 220.3,277.3 219.1,278.0 219.4,276.7 218.4,275.8 219.7,275.7" fill="#ff0000"/><polygon points="219.8,274.6 220.3,275.8 221.7,275.9 220.6,276.8 220.9,278.2 219.8,277.5 218.6,278.2 218.9,276.8 217.9,275.9 219.2,275.8" fill="#ff0000"/><polygon points="219.2,274.7 219.8,276.0 221.1,276.1 220.1,277.0 220.4,278.3 219.2,277.6 218.1,278.3 218.4,277.0 217.3,276.1 218.7,276.0" fill="#ff0000"/><polygon points="218.7,274.9 219.3,276.1 220.6,276.3 219.6,277.1 219.9,278.5 218.7,277.8 217.6,278.5 217.9,277.1 216.8,276.3 218.2,276.1" fill="#ff0000"/><polygon points="218.2,275.0 218.7,276.3 220.1,276.4 219.1,277.3 219.4,278.6 218.2,277.9 217.0,278.6 217.4,277.3 216.3,276.4 217.7,276.3" fill="#ff0000"/><polygon points="217.7,275.2 218.2,276.5 219.6,276.6 218.6,277.4 218.9,278.8 217.7,278.1 216.5,278.8 216.9,277.4 215.8,276.6 217.2,276.5" fill="#ff0000"/><polygon points="217.2,275.3 217.7,276.6 219.1,276.7 218.0,277.6 218.4,278.9 217.2,278.2 216.0,278.9 216.4,277.6 215.3,276.7 216.7,276.6" fill="#ff0000"/><polygon points="216.7,275.5 217.2,276.8 218.6,276.9 217.5,277.7 217.9,279.1 216.7,278.4 215.5,279.1 215.8,277.7 214.8,276.9 216.2,276.8" fill="#ff0000"/><polygon points="216.2,275.6 216.7,276.9 218.1,277.0 217.0,277.9 217.4,279.2 216.2,278.5 215.0,279.2 215.3,277.9 214.3,277.0 215.7,276.9" fill="#ff0000"/><polygon points="215.7,275.8 216.2,277.1 217.6,277.2 216.5,278.1 216.8,279.4 215.7,278.7 214.5,279.4 214.8,278.1 213.8,277.2 215.1,277.1" fill="#ff0000"/><polygon points="215.2,275.9 215.7,277.2 217.1,277.3 216.0,278.2 216.3,279.5 215.2,278.8 214.0,279.5 214.3,278.2 213.3,277.3 214.6,277.2" fill="#ff0000"/><polygon points="214.6,276.1 215.2,277.4 216.5,277.5 215.5,278.4 215.8,279.7 214.6,279.0 213.5,279.7 213.8,278.4 212.7,277.5 214.1,277.4" fill="#ff0000"/><polygon points="214.1,276.2 214.7,277.5 216.0,277.6 215.0,278.5 215.3,279.9 214.1,279.1 213.0,279.9 213.3,278.5 212.2,277.6 213.6,277.5" fill="#ff0000"/><polygon points="213.6,276.4 214.1,277.7 215.5,277.8 214.5,278.7 214.8,280.0 213.6,279.3 212.4,280.0 212.8,278.7 211.7,277.8 213.1,277.7" fill="#ff0000"/><polygon points="213.1,276.5 213.6,277.8 215.0,277.9 214.0,278.8 214.3,280.2 213.1,279.4 211.9,280.2 212.3,278.8 211.2,277.9 212.6,277.8" fill="#ff0000"/><polygon points="212.6,276.7 213.1,278.0 214.5,278.1 213.4,279.0 213.8,280.3 212.6,279.6 211.4,280.3 211.8,279.0 210.7,278.1 212.1,278.0" fill="#ff0000"/><polygon points="212.1,276.9 212.6,278.1 214.0,278.2 212.9,279.1 213.3,280.5 212.1,279.7 210.9,280.5 211.2,279.1 210.2,278.2 211.6,278.1" fill="#ff0000"/><polygon points="211.6,277.0 212.1,278.3 213.5,278.4 212.4,279.3 212.8,280.6 211.6,279.9 210.4,280.6 210.7,279.3 209.7,278.4 211.1,278.3" fill="#ff0000"/><polygon points="211.1,277.2 211.6,278.5 213.0,278.6 211.9,279.4 212.2,280.8 211.1,280.1 209.9,280.8 210.2,279.4 209.2,278.6 210.5,278.5" fill="#ff0000"/><polygon points="210.6,277.3 211.1,278.6 212.5,278.7 211.4,279.6 211.7,281.0 210.6,280.2 209.4,281.0 209.7,279.6 208.7,278.7 210.0,278.6" fill="#ff0000"/><polygon points="210.0,277.5 210.6,278.8 212.0,278.9 210.9,279.8 211.2,281.1 210.0,280.4 208.9,281.1 209.2,279.8 208.1,278.9 209.5,278.8" fill="#ff0000"/><polygon points="209.5,277.7 210.1,278.9 211.4,279.0 210.4,279.9 210.7,281.3 209.5,280.5 208.4,281.3 208.7,279.9 207.6,279.0 209.0,278.9" fill="#ff0000"/><polygon points="209.0,277.8 209.5,279.1 210.9,279.2 209.9,280.1 210.2,281.4 209.0,280.7 207.9,281.4 208.2,280.1 207.1,279.2 208.5,279.1" fill="#ff0000"/><polygon points="208.5,278.0 209.0,279.3 210.4,279.4 209.4,280.3 209.7,281.6 208.5,280.9 207.3,281.6 207.7,280.3 206.6,279.4 208.0,279.3" fill="#ff0000"/><polygon points="208.0,278.2 208.5,279.4 209.9,279.5 208.8,280.4 209.2,281.8 208.0,281.0 206.8,281.8 207.2,280.4 206.1,279.5 207.5,279.4" fill="#ff0000"/><polygon points="207.5,278.3 208.0,279.6 209.4,279.7 208.3,280.6 208.7,281.9 207.5,281.2 206.3,281.9 206.6,280.6 205.6,279.7 207.0,279.6" fill="#ff0000"/><polygon points="207.0,278.5 207.5,279.8 208.9,279.9 207.8,280.8 208.2,282.1 207.0,281.4 205.8,282.1 206.1,280.8 205.1,279.9 206.5,279.8" fill="#ff0000"/><polygon points="206.5,278.7 207.0,280.0 208.4,280.1 207.3,280.9 207.6,282.3 206.5,281.6 205.3,282.3 205.6,280.9 204.6,280.1 205.9,280.0" fill="#ff0000"/><polygon points="206.0,278.8 206.5,280.1 207.9,280.2 206.8,281.1 207.1,282.5 206.0,281.7 204.8,282.5 205.1,281.1 204.1,280.2 205.4,280.1" fill="#ff0000"/><polygon points="205.4,279.0 206.0,280.3 207.4,280.4 206.3,281.3 206.6,282.6 205.4,281.9 204.3,282.6 204.6,281.3 203.5,280.4 204.9,280.3" fill="#ff0000"/><polygon points="204.9,279.2 205.5,280.5 206.8,280.6 205.8,281.5 206.1,282.8 204.9,282.1 203.8,282.8 204.1,281.5 203.0,280.6 204.4,280.5" fill="#ff0000"/><polygon points="204.4,279.4 204.9,280.7 206.3,280.8 205.3,281.7 205.6,283.0 204.4,282.3 203.3,283.0 203.6,281.7 202.5,280.8 203.9,280.7" fill="#ff0000"/><polygon points="203.9,279.6 204.4,280.9 205.8,281.0 204.8,281.9 205.1,283.2 203.9,282.5 202.7,283.2 203.1,281.9 202.0,281.0 203.4,280.9" fill="#ff0000"/><polygon points="203.4,279.8 203.9,281.0 205.3,281.1 204.3,282.0 204.6,283.4 203.4,282.7 202.2,283.4 202.6,282.0 201.5,281.1 202.9,281.0" fill="#ff0000"/><polygon points="202.9,280.0 203.4,281.2 204.8,281.3 203.7,282.2 204.1,283.6 202.9,282.8 201.7,283.6 202.0,282.2 201.0,281.3 202.4,281.2" fill="#ff0000"/><polygon points="202.4,280.2 202.9,281.4 204.3,281.5 203.2,282.4 203.6,283.8 202.4,283.0 201.2,283.8 201.5,282.4 200.5,281.5 201.9,281.4" fill="#ff0000"/><polygon points="201.9,280.4 202.4,281.6 203.8,281.7 202.7,282.6 203.0,284.0 201.9,283.2 200.7,284.0 201.0,282.6 200.0,281.7 201.3,281.6" fill="#ff0000"/><polygon points="201.4,280.6 201.9,281.8 203.3,281.9 202.2,282.8 202.5,284.2 201.4,283.4 200.2,284.2 200.5,282.8 199.5,281.9 200.8,281.8" fill="#ff0000"/><polygon points="200.8,280.8 201.4,282.0 202.8,282.1 201.7,283.0 202.0,284.4 200.8,283.6 199.7,284.4 200.0,283.0 198.9,282.1 200.3,282.0" fill="#ff0000"/><polygon points="200.3,281.0 200.9,282.2 202.2,282.3 201.2,283.2 201.5,284.6 200.3,283.9 199.2,284.6 199.5,283.2 198.4,282.3 199.8,282.2" fill="#ff0000"/><polygon points="199.8,281.2 200.4,282.5 201.7,282.6 200.7,283.5 201.0,284.8 199.8,284.1 198.7,284.8 199.0,283.5 197.9,282.6 199.3,282.5" fill="#ff0000"/><polygon points="199.3,281.4 199.8,282.7 201.2,282.8 200.2,283.7 200.5,285.0 199.3,284.3 198.1,285.0 198.5,283.7 197.4,282.8 198.8,282.7" fill="#ff0000"/><polygon points="198.8,281.6 199.3,282.9 200.7,283.0 199.7,283.9 200.0,285.2 198.8,284.5 197.6,285.2 198.0,283.9 196.9,283.0 198.3,282.9" fill="#ff0000"/><polygon points="198.3,281.8 198.8,283.1 200.2,283.2 199.1,284.1 199.5,285.4 198.3,284.7 197.1,285.4 197.4,284.1 196.4,283.2 197.8,283.1" fill="#ff0000"/><polygon points="197.8,282.1 198.3,283.3 199.7,283.4 198.6,284.3 199.0,285.7 197.8,284.9 196.6,285.7 196.9,284.3 195.9,283.4 197.3,283.3" fill="#ff0000"/><polygon points="197.3,282.3 197.8,283.6 199.2,283.7 198.1,284.6 198.4,285.9 197.3,285.2 196.1,285.9 196.4,284.6 195.4,283.7 196.8,283.6" fill="#ff0000"/><polygon points="196.8,282.5 197.3,283.8 198.7,283.9 197.6,284.8 197.9,286.1 196.8,285.4 195.6,286.1 195.9,284.8 194.9,283.9 196.2,283.8" fill="#ff0000"/><polygon points="196.3,282.7 196.8,284.0 198.2,284.1 197.1,285.0 197.4,286.4 196.3,285.6 195.1,286.4 195.4,285.0 194.3,284.1 195.7,284.0" fill="#ff0000"/><polygon points="195.7,283.0 196.3,284.3 197.6,284.4 196.6,285.2 196.9,286.6 195.7,285.9 194.6,286.6 194.9,285.2 193.8,284.4 195.2,284.3" fill="#ff0000"/><polygon points="195.2,283.2 195.8,284.5 197.1,284.6 196.1,285.5 196.4,286.8 195.2,286.1 194.1,286.8 194.4,285.5 193.3,284.6 194.7,284.5" fill="#ff0000"/><polygon points="194.7,283.5 195.2,284.7 196.6,284.8 195.6,285.7 195.9,287.1 194.7,286.3 193.5,287.1 193.9,285.7 192.8,284.8 194.2,284.7" fill="#ff0000"/><polygon points="194.2,283.7 194.7,285.0 196.1,285.1 195.1,286.0 195.4,287.3 194.2,286.6 193.0,287.3 193.4,286.0 192.3,285.1 193.7,285.0" fill="#ff0000"/><polygon points="193.7,283.9 194.2,285.2 195.6,285.3 194.5,286.2 194.9,287.6 193.7,286.8 192.5,287.6 192.9,286.2 191.8,285.3 193.2,285.2" fill="#ff0000"/><polygon points="193.2,284.2 193.7,285.5 195.1,285.6 194.0,286.5 194.4,287.8 193.2,287.1 192.0,287.8 192.3,286.5 191.3,285.6 192.7,285.5" fill="#ff0000"/><polygon points="192.7,284.4 193.2,285.7 194.6,285.8 193.5,286.7 193.8,288.1 192.7,287.3 191.5,288.1 191.8,286.7 190.8,285.8 192.2,285.7" fill="#ff0000"/><polygon points="192.2,284.7 192.7,286.0 194.1,286.1 193.0,287.0 193.3,288.3 192.2,287.6 191.0,288.3 191.3,287.0 190.3,286.1 191.6,286.0" fill="#ff0000"/><polygon points="191.7,284.9 192.2,286.2 193.6,286.3 192.5,287.2 192.8,288.6 191.7,287.8 190.5,288.6 190.8,287.2 189.7,286.3 191.1,286.2" fill="#ff0000"/><polygon points="191.1,285.2 191.7,286.5 193.0,286.6 192.0,287.5 192.3,288.8 191.1,288.1 190.0,288.8 190.3,287.5 189.2,286.6 190.6,286.5" fill="#ff0000"/><polygon points="190.6,285.4 191.2,286.7 192.5,286.8 191.5,287.7 191.8,289.1 190.6,288.3 189.5,289.1 189.8,287.7 188.7,286.8 190.1,286.7" fill="#ff0000"/><polygon points="190.1,285.7 190.6,287.0 192.0,287.1 191.0,288.0 191.3,289.3 190.1,288.6 188.9,289.3 189.3,288.0 188.2,287.1 189.6,287.0" fill="#ff0000"/><polygon points="189.6,286.0 190.1,287.2 191.5,287.3 190.5,288.2 190.8,289.6 189.6,288.9 188.4,289.6 188.8,288.2 187.7,287.3 189.1,287.2" fill="#ff0000"/><polygon points="189.1,286.2 189.6,287.5 191.0,287.6 189.9,288.5 190.3,289.8 189.1,289.1 187.9,289.8 188.3,288.5 187.2,287.6 188.6,287.5" fill="#ff0000"/><polygon points="188.6,286.5 189.1,287.8 190.5,287.9 189.4,288.8 189.8,290.1 188.6,289.4 187.4,290.1 187.7,288.8 186.7,287.9 188.1,287.8" fill="#ff0000"/><polygon points="188.1,286.8 188.6,288.0 190.0,288.1 188.9,289.0 189.3,290.4 188.1,289.6 186.9,290.4 187.2,289.0 186.2,288.1 187.6,288.0" fill="#ff0000"/><polygon points="187.6,287.0 188.1,288.3 189.5,288.4 188.4,289.3 188.7,290.6 187.6,289.9 186.4,290.6 186.7,289.3 185.7,288.4 187.0,288.3" fill="#ff0000"/><polygon points="187.1,287.3 187.6,288.6 189.0,288.7 187.9,289.6 188.2,290.9 187.1,290.2 185.9,290.9 186.2,289.6 185.2,288.7 186.5,288.6" fill="#ff0000"/><polygon points="186.5,287.6 187.1,288.8 188.4,288.9 187.4,289.8 187.7,291.2 186.5,290.4 185.4,291.2 185.7,289.8 184.6,288.9 186.0,288.8" fill="#ff0000"/><polygon points="186.0,287.8 186.6,289.1 187.9,289.2 186.9,290.1 187.2,291.4 186.0,290.7 184.9,291.4 185.2,290.1 184.1,289.2 185.5,289.1" fill="#ff0000"/><polygon points="185.5,288.1 186.0,289.4 187.4,289.5 186.4,290.4 186.7,291.7 185.5,291.0 184.3,291.7 184.7,290.4 183.6,289.5 185.0,289.4" fill="#ff0000"/><polygon points="185.0,288.4 185.5,289.6 186.9,289.7 185.9,290.6 186.2,292.0 185.0,291.2 183.8,292.0 184.2,290.6 183.1,289.7 184.5,289.6" fill="#ff0000"/><polygon points="184.5,288.6 185.0,289.9 186.4,290.0 185.3,290.9 185.7,292.2 184.5,291.5 183.3,292.2 183.7,290.9 182.6,290.0 184.0,289.9" fill="#ff0000"/><polygon points="184.0,288.9 184.5,290.2 185.9,290.3 184.8,291.2 185.2,292.5 184.0,291.8 182.8,292.5 183.1,291.2 182.1,290.3 183.5,290.2" fill="#ff0000"/><polygon points="183.5,289.2 184.0,290.5 185.4,290.6 184.3,291.4 184.7,292.8 183.5,292.1 182.3,292.8 182.6,291.4 181.6,290.6 183.0,290.5" fill="#ff0000"/><polygon points="183.0,289.4 183.5,290.7 184.9,290.8 183.8,291.7 184.1,293.1 183.0,292.3 181.8,293.1 182.1,291.7 181.1,290.8 182.4,290.7" fill="#ff0000"/><polygon points="182.5,289.7 183.0,291.0 184.4,291.1 183.3,292.0 183.6,293.3 182.5,292.6 181.3,293.3 181.6,292.0 180.6,291.1 181.9,291.0" fill="#ff0000"/><polygon points="181.9,290.0 182.5,291.3 183.8,291.4 182.8,292.3 183.1,293.6 181.9,292.9 180.8,293.6 181.1,292.3 180.0,291.4 181.4,291.3" fill="#ff0000"/><polygon points="181.4,290.3 182.0,291.5 183.3,291.6 182.3,292.5 182.6,293.9 181.4,293.2 180.3,293.9 180.6,292.5 179.5,291.6 180.9,291.5" fill="#ff0000"/><polygon points="180.9,290.5 181.4,291.8 182.8,291.9 181.8,292.8 182.1,294.2 180.9,293.4 179.7,294.2 180.1,292.8 179.0,291.9 180.4,291.8" fill="#ff0000"/><polygon points="180.4,290.8 180.9,292.1 182.3,292.2 181.3,293.1 181.6,294.4 180.4,293.7 179.2,294.4 179.6,293.1 178.5,292.2 179.9,292.1" fill="#ff0000"/><polygon points="179.9,291.1 180.4,292.4 181.8,292.5 180.7,293.4 181.1,294.7 179.9,294.0 178.7,294.7 179.1,293.4 178.0,292.5 179.4,292.4" fill="#ff0000"/><polygon points="179.4,291.4 179.9,292.6 181.3,292.7 180.2,293.6 180.6,295.0 179.4,294.2 178.2,295.0 178.5,293.6 177.5,292.7 178.9,292.6" fill="#ff0000"/><polygon points="178.9,291.6 179.4,292.9 180.8,293.0 179.7,293.9 180.1,295.2 178.9,294.5 177.7,295.2 178.0,293.9 177.0,293.0 178.4,292.9" fill="#ff0000"/><polygon points="178.4,291.9 178.9,293.2 180.3,293.3 179.2,294.2 179.5,295.5 178.4,294.8 177.2,295.5 177.5,294.2 176.5,293.3 177.8,293.2" fill="#ff0000"/><polygon points="177.9,292.2 178.4,293.4 179.8,293.5 178.7,294.4 179.0,295.8 177.9,295.1 176.7,295.8 177.0,294.4 176.0,293.5 177.3,293.4" fill="#ff0000"/><polygon points="177.3,292.4 177.9,293.7 179.2,293.8 178.2,294.7 178.5,296.1 177.3,295.3 176.2,296.1 176.5,294.7 175.4,293.8 176.8,293.7" fill="#ff0000"/><polygon points="176.8,292.7 177.4,294.0 178.7,294.1 177.7,295.0 178.0,296.3 176.8,295.6 175.7,296.3 176.0,295.0 174.9,294.1 176.3,294.0" fill="#ff0000"/><polygon points="176.3,293.0 176.8,294.3 178.2,294.4 177.2,295.3 177.5,296.6 176.3,295.9 175.1,296.6 175.5,295.3 174.4,294.4 175.8,294.3" fill="#ff0000"/><polygon points="175.8,293.2 176.3,294.5 177.7,294.6 176.7,295.5 177.0,296.9 175.8,296.1 174.6,296.9 175.0,295.5 173.9,294.6 175.3,294.5" fill="#ff0000"/><polygon points="175.3,293.5 175.8,294.8 177.2,294.9 176.1,295.8 176.5,297.1 175.3,296.4 174.1,297.1 174.5,295.8 173.4,294.9 174.8,294.8" fill="#ff0000"/><polygon points="174.8,293.8 175.3,295.1 176.7,295.2 175.6,296.1 176.0,297.4 174.8,296.7 173.6,297.4 173.9,296.1 172.9,295.2 174.3,295.1" fill="#ff0000"/><polygon points="174.3,294.0 174.8,295.3 176.2,295.4 175.1,296.3 175.5,297.7 174.3,296.9 173.1,297.7 173.4,296.3 172.4,295.4 173.8,295.3" fill="#ff0000"/><polygon points="173.8,294.3 174.3,295.6 175.7,295.7 174.6,296.6 174.9,297.9 173.8,297.2 172.6,297.9 172.9,296.6 171.9,295.7 173.2,295.6" fill="#ff0000"/><polygon points="173.3,294.6 173.8,295.8 175.2,296.0 174.1,296.8 174.4,298.2 173.3,297.5 172.1,298.2 172.4,296.8 171.4,296.0 172.7,295.8" fill="#ff0000"/><polygon points="172.7,294.8 173.3,296.1 174.6,296.2 173.6,297.1 173.9,298.4 172.7,297.7 171.6,298.4 171.9,297.1 170.8,296.2 172.2,296.1" fill="#ff0000"/><polygon points="172.2,295.1 172.8,296.4 174.1,296.5 173.1,297.4 173.4,298.7 172.2,298.0 171.1,298.7 171.4,297.4 170.3,296.5 171.7,296.4" fill="#ff0000"/><polygon points="171.7,295.4 172.2,296.6 173.6,296.7 172.6,297.6 172.9,299.0 171.7,298.2 170.5,299.0 170.9,297.6 169.8,296.7 171.2,296.6" fill="#ff0000"/><polygon points="171.2,295.6 171.7,296.9 173.1,297.0 172.1,297.9 172.4,299.2 171.2,298.5 170.0,299.2 170.4,297.9 169.3,297.0 170.7,296.9" fill="#ff0000"/><polygon points="170.7,295.9 171.2,297.2 172.6,297.3 171.5,298.2 171.9,299.5 170.7,298.8 169.5,299.5 169.9,298.2 168.8,297.3 170.2,297.2" fill="#ff0000"/><polygon points="170.2,296.2 170.7,297.5 172.1,297.6 171.0,298.4 171.4,299.8 170.2,299.1 169.0,299.8 169.3,298.4 168.3,297.6 169.7,297.5" fill="#ff0000"/><polygon points="169.7,296.5 170.2,297.7 171.6,297.8 170.5,298.7 170.9,300.1 169.7,299.3 168.5,300.1 168.8,298.7 167.8,297.8 169.2,297.7" fill="#ff0000"/><polygon points="169.2,296.7 169.7,298.0 171.1,298.1 170.0,299.0 170.3,300.3 169.2,299.6 168.0,300.3 168.3,299.0 167.3,298.1 168.6,298.0" fill="#ff0000"/><polygon points="168.7,297.0 169.2,298.3 170.6,298.4 169.5,299.3 169.8,300.6 168.7,299.9 167.5,300.6 167.8,299.3 166.8,298.4 168.1,298.3" fill="#ff0000"/><polygon points="168.1,297.3 168.7,298.6 170.0,298.7 169.0,299.6 169.3,300.9 168.1,300.2 167.0,300.9 167.3,299.6 166.2,298.7 167.6,298.6" fill="#ff0000"/><polygon points="167.6,297.6 168.2,298.8 169.5,298.9 168.5,299.8 168.8,301.2 167.6,300.4 166.5,301.2 166.8,299.8 165.7,298.9 167.1,298.8" fill="#ff0000"/><polygon points="167.1,297.8 167.6,299.1 169.0,299.2 168.0,300.1 168.3,301.4 167.1,300.7 165.9,301.4 166.3,300.1 165.2,299.2 166.6,299.1" fill="#ff0000"/><polygon points="166.6,298.1 167.1,299.4 168.5,299.5 167.5,300.4 167.8,301.7 166.6,301.0 165.4,301.7 165.8,300.4 164.7,299.5 166.1,299.4" fill="#ff0000"/><polygon points="166.1,298.3 166.6,299.6 168.0,299.7 166.9,300.6 167.3,302.0 166.1,301.2 164.9,302.0 165.3,300.6 164.2,299.7 165.6,299.6" fill="#ff0000"/><polygon points="165.6,298.6 166.1,299.9 167.5,300.0 166.4,300.9 166.8,302.2 165.6,301.5 164.4,302.2 164.7,300.9 163.7,300.0 165.1,299.9" fill="#ff0000"/><polygon points="165.1,298.9 165.6,300.1 167.0,300.2 165.9,301.1 166.3,302.5 165.1,301.7 163.9,302.5 164.2,301.1 163.2,300.2 164.6,300.1" fill="#ff0000"/><polygon points="164.6,299.1 165.1,300.4 166.5,300.5 165.4,301.4 165.7,302.7 164.6,302.0 163.4,302.7 163.7,301.4 162.7,300.5 164.0,300.4" fill="#ff0000"/><polygon points="164.1,299.3 164.6,300.6 166.0,300.7 164.9,301.6 165.2,303.0 164.1,302.2 162.9,303.0 163.2,301.6 162.2,300.7 163.5,300.6" fill="#ff0000"/><polygon points="163.5,299.6 164.1,300.9 165.4,301.0 164.4,301.8 164.7,303.2 163.5,302.5 162.4,303.2 162.7,301.8 161.6,301.0 163.0,300.9" fill="#ff0000"/><polygon points="163.0,299.8 163.6,301.1 164.9,301.2 163.9,302.1 164.2,303.4 163.0,302.7 161.9,303.4 162.2,302.1 161.1,301.2 162.5,301.1" fill="#ff0000"/><polygon points="162.5,300.0 163.0,301.3 164.4,301.4 163.4,302.3 163.7,303.7 162.5,302.9 161.3,303.7 161.7,302.3 160.6,301.4 162.0,301.3" fill="#ff0000"/><polygon points="162.0,300.3 162.5,301.5 163.9,301.6 162.9,302.5 163.2,303.9 162.0,303.2 160.8,303.9 161.2,302.5 160.1,301.6 161.5,301.5" fill="#ff0000"/><polygon points="161.5,300.5 162.0,301.8 163.4,301.9 162.3,302.8 162.7,304.1 161.5,303.4 160.3,304.1 160.7,302.8 159.6,301.9 161.0,301.8" fill="#ff0000"/><polygon points="161.0,300.7 161.5,302.0 162.9,302.1 161.8,303.0 162.2,304.3 161.0,303.6 159.8,304.3 160.1,303.0 159.1,302.1 160.5,302.0" fill="#ff0000"/><polygon points="160.5,300.9 161.0,302.2 162.4,302.3 161.3,303.2 161.7,304.6 160.5,303.8 159.3,304.6 159.6,303.2 158.6,302.3 160.0,302.2" fill="#ff0000"/><polygon points="160.0,301.2 160.5,302.4 161.9,302.5 160.8,303.4 161.1,304.8 160.0,304.1 158.8,304.8 159.1,303.4 158.1,302.5 159.4,302.4" fill="#ff0000"/><polygon points="159.5,301.4 160.0,302.7 161.4,302.8 160.3,303.7 160.6,305.0 159.5,304.3 158.3,305.0 158.6,303.7 157.6,302.8 158.9,302.7" fill="#ff0000"/><polygon points="158.9,301.6 159.5,302.9 160.9,303.0 159.8,303.9 160.1,305.2 158.9,304.5 157.8,305.2 158.1,303.9 157.0,303.0 158.4,302.9" fill="#ff0000"/><polygon points="158.4,301.8 159.0,303.1 160.3,303.2 159.3,304.1 159.6,305.4 158.4,304.7 157.3,305.4 157.6,304.1 156.5,303.2 157.9,303.1" fill="#ff0000"/><polygon points="157.9,302.1 158.4,303.3 159.8,303.4 158.8,304.3 159.1,305.7 157.9,304.9 156.8,305.7 157.1,304.3 156.0,303.4 157.4,303.3" fill="#ff0000"/><polygon points="157.4,302.3 157.9,303.6 159.3,303.7 158.3,304.6 158.6,305.9 157.4,305.2 156.2,305.9 156.6,304.6 155.5,303.7 156.9,303.6" fill="#ff0000"/><polygon points="156.9,302.5 157.4,303.8 158.8,303.9 157.7,304.8 158.1,306.1 156.9,305.4 155.7,306.1 156.1,304.8 155.0,303.9 156.4,303.8" fill="#ff0000"/><polygon points="156.4,302.7 156.9,304.0 158.3,304.1 157.2,305.0 157.6,306.3 156.4,305.6 155.2,306.3 155.5,305.0 154.5,304.1 155.9,304.0" fill="#ff0000"/><polygon points="155.9,303.0 156.4,304.2 157.8,304.3 156.7,305.2 157.1,306.6 155.9,305.8 154.7,306.6 155.0,305.2 154.0,304.3 155.4,304.2" fill="#ff0000"/><polygon points="155.4,303.2 155.9,304.5 157.3,304.6 156.2,305.5 156.5,306.8 155.4,306.1 154.2,306.8 154.5,305.5 153.5,304.6 154.8,304.5" fill="#ff0000"/><polygon points="154.9,303.4 155.4,304.7 156.8,304.8 155.7,305.7 156.0,307.0 154.9,306.3 153.7,307.0 154.0,305.7 153.0,304.8 154.3,304.7" fill="#ff0000"/><polygon points="154.3,303.7 154.9,304.9 156.3,305.0 155.2,305.9 155.5,307.3 154.3,306.6 153.2,307.3 153.5,305.9 152.4,305.0 153.8,304.9" fill="#ff0000"/><polygon points="153.8,303.9 154.4,305.2 155.7,305.3 154.7,306.2 155.0,307.5 153.8,306.8 152.7,307.5 153.0,306.2 151.9,305.3 153.3,305.2" fill="#ff0000"/><polygon points="153.3,304.2 153.8,305.4 155.2,305.5 154.2,306.4 154.5,307.8 153.3,307.0 152.2,307.8 152.5,306.4 151.4,305.5 152.8,305.4" fill="#ff0000"/><polygon points="152.8,304.4 153.3,305.7 154.7,305.8 153.7,306.7 154.0,308.0 152.8,307.3 151.6,308.0 152.0,306.7 150.9,305.8 152.3,305.7" fill="#ff0000"/><polygon points="152.3,304.7 152.8,305.9 154.2,306.0 153.2,306.9 153.5,308.3 152.3,307.5 151.1,308.3 151.5,306.9 150.4,306.0 151.8,305.9" fill="#ff0000"/><polygon points="151.8,304.9 152.3,306.2 153.7,306.3 152.6,307.2 153.0,308.5 151.8,307.8 150.6,308.5 150.9,307.2 149.9,306.3 151.3,306.2" fill="#ff0000"/><polygon points="151.3,305.2 151.8,306.5 153.2,306.6 152.1,307.5 152.5,308.8 151.3,308.1 150.1,308.8 150.4,307.5 149.4,306.6 150.8,306.5" fill="#ff0000"/><polygon points="150.8,305.4 151.3,306.7 152.7,306.8 151.6,307.7 151.9,309.1 150.8,308.3 149.6,309.1 149.9,307.7 148.9,306.8 150.2,306.7" fill="#ff0000"/><polygon points="150.3,305.7 150.8,307.0 152.2,307.1 151.1,308.0 151.4,309.3 150.3,308.6 149.1,309.3 149.4,308.0 148.4,307.1 149.7,307.0" fill="#ff0000"/><polygon points="149.8,306.0 150.3,307.3 151.7,307.4 150.6,308.3 150.9,309.6 149.8,308.9 148.6,309.6 148.9,308.3 147.8,307.4 149.2,307.3" fill="#ff0000"/><polygon points="149.2,306.3 149.8,307.5 151.1,307.6 150.1,308.5 150.4,309.9 149.2,309.1 148.1,309.9 148.4,308.5 147.3,307.6 148.7,307.5" fill="#ff0000"/><polygon points="148.7,306.5 149.3,307.8 150.6,307.9 149.6,308.8 149.9,310.2 148.7,309.4 147.6,310.2 147.9,308.8 146.8,307.9 148.2,307.8" fill="#ff0000"/><polygon points="148.2,306.8 148.7,308.1 150.1,308.2 149.1,309.1 149.4,310.4 148.2,309.7 147.0,310.4 147.4,309.1 146.3,308.2 147.7,308.1" fill="#ff0000"/><polygon points="147.7,307.1 148.2,308.4 149.6,308.5 148.6,309.4 148.9,310.7 147.7,310.0 146.5,310.7 146.9,309.4 145.8,308.5 147.2,308.4" fill="#ff0000"/><polygon points="147.2,307.4 147.7,308.7 149.1,308.8 148.0,309.7 148.4,311.0 147.2,310.3 146.0,311.0 146.3,309.7 145.3,308.8 146.7,308.7" fill="#ff0000"/><polygon points="146.7,307.7 147.2,309.0 148.6,309.1 147.5,310.0 147.9,311.3 146.7,310.6 145.5,311.3 145.8,310.0 144.8,309.1 146.2,309.0" fill="#ff0000"/><polygon points="146.2,308.0 146.7,309.3 148.1,309.4 147.0,310.3 147.3,311.6 146.2,310.9 145.0,311.6 145.3,310.3 144.3,309.4 145.7,309.3" fill="#ff0000"/><polygon points="145.7,308.4 146.2,309.6 147.6,309.7 146.5,310.6 146.8,312.0 145.7,311.2 144.5,312.0 144.8,310.6 143.8,309.7 145.1,309.6" fill="#ff0000"/><polygon points="145.2,308.7 145.7,310.0 147.1,310.1 146.0,311.0 146.3,312.3 145.2,311.6 144.0,312.3 144.3,311.0 143.2,310.1 144.6,310.0" fill="#ff0000"/><polygon points="144.6,309.0 145.2,310.3 146.5,310.4 145.5,311.3 145.8,312.6 144.6,311.9 143.5,312.6 143.8,311.3 142.7,310.4 144.1,310.3" fill="#ff0000"/><polygon points="144.1,309.4 144.7,310.7 146.0,310.8 145.0,311.7 145.3,313.0 144.1,312.3 143.0,313.0 143.3,311.7 142.2,310.8 143.6,310.7" fill="#ff0000"/><polygon points="143.6,309.7 144.1,311.0 145.5,311.1 144.5,312.0 144.8,313.4 143.6,312.6 142.4,313.4 142.8,312.0 141.7,311.1 143.1,311.0" fill="#ff0000"/><polygon points="143.1,310.1 143.6,311.4 145.0,311.5 144.0,312.4 144.3,313.7 143.1,313.0 141.9,313.7 142.3,312.4 141.2,311.5 142.6,311.4" fill="#ff0000"/><polygon points="142.6,310.5 143.1,311.8 144.5,311.9 143.4,312.8 143.8,314.1 142.6,313.4 141.4,314.1 141.8,312.8 140.7,311.9 142.1,311.8" fill="#ff0000"/><polygon points="142.1,310.9 142.6,312.2 144.0,312.3 142.9,313.2 143.3,314.6 142.1,313.8 140.9,314.6 141.2,313.2 140.2,312.3 141.6,312.2" fill="#ff0000"/><polygon points="141.6,311.4 142.1,312.7 143.5,312.8 142.4,313.6 142.7,315.0 141.6,314.3 140.4,315.0 140.7,313.6 139.7,312.8 141.1,312.7" fill="#ff0000"/><polygon points="141.1,311.8 141.6,313.1 143.0,313.2 141.9,314.1 142.2,315.5 141.1,314.7 139.9,315.5 140.2,314.1 139.2,313.2 140.5,313.1" fill="#ff0000"/><polygon points="140.6,312.3 141.1,313.6 142.5,313.7 141.4,314.6 141.7,315.9 140.6,315.2 139.4,315.9 139.7,314.6 138.6,313.7 140.0,313.6" fill="#ff0000"/><polygon points="140.0,312.8 140.6,314.1 141.9,314.2 140.9,315.1 141.2,316.4 140.0,315.7 138.9,316.4 139.2,315.1 138.1,314.2 139.5,314.1" fill="#ff0000"/><polygon points="139.5,313.4 140.1,314.6 141.4,314.7 140.4,315.6 140.7,317.0 139.5,316.2 138.4,317.0 138.7,315.6 137.6,314.7 139.0,314.6" fill="#ff0000"/><polygon points="139.0,313.9 139.5,315.2 140.9,315.3 139.9,316.2 140.2,317.5 139.0,316.8 137.8,317.5 138.2,316.2 137.1,315.3 138.5,315.2" fill="#ff0000"/><polygon points="138.5,314.5 139.0,315.8 140.4,315.9 139.4,316.7 139.7,318.1 138.5,317.4 137.3,318.1 137.7,316.7 136.6,315.9 138.0,315.8" fill="#ff0000"/><polygon points="138.0,315.1 138.5,316.3 139.9,316.4 138.8,317.3 139.2,318.7 138.0,317.9 136.8,318.7 137.2,317.3 136.1,316.4 137.5,316.3" fill="#ff0000"/><polygon points="137.5,315.7 138.0,316.9 139.4,317.0 138.3,317.9 138.7,319.3 137.5,318.5 136.3,319.3 136.6,317.9 135.6,317.0 137.0,316.9" fill="#ff0000"/><polygon points="137.0,316.3 137.5,317.6 138.9,317.7 137.8,318.5 138.2,319.9 137.0,319.2 135.8,319.9 136.1,318.5 135.1,317.7 136.5,317.6" fill="#ff0000"/><polygon points="136.5,316.9 137.0,318.2 138.4,318.3 137.3,319.2 137.6,320.5 136.5,319.8 135.3,320.5 135.6,319.2 134.6,318.3 135.9,318.2" fill="#ff0000"/><polygon points="136.0,317.5 136.5,318.8 137.9,318.9 136.8,319.8 137.1,321.1 136.0,320.4 134.8,321.1 135.1,319.8 134.1,318.9 135.4,318.8" fill="#ff0000"/><polygon points="135.4,318.2 136.0,319.4 137.3,319.5 136.3,320.4 136.6,321.8 135.4,321.1 134.3,321.8 134.6,320.4 133.5,319.5 134.9,319.4" fill="#ff0000"/><polygon points="134.9,318.8 135.5,320.1 136.8,320.2 135.8,321.1 136.1,322.4 134.9,321.7 133.8,322.4 134.1,321.1 133.0,320.2 134.4,320.1" fill="#ff0000"/><polygon points="134.4,319.5 134.9,320.8 136.3,320.9 135.3,321.8 135.6,323.1 134.4,322.4 133.2,323.1 133.6,321.8 132.5,320.9 133.9,320.8" fill="#ff0000"/><polygon points="133.9,320.2 134.4,321.5 135.8,321.6 134.8,322.5 135.1,323.8 133.9,323.1 132.7,323.8 133.1,322.5 132.0,321.6 133.4,321.5" fill="#ff0000"/><polygon points="133.4,321.0 133.9,322.3 135.3,322.4 134.2,323.3 134.6,324.6 133.4,323.9 132.2,324.6 132.6,323.3 131.5,322.4 132.9,322.3" fill="#ff0000"/><polygon points="132.9,321.8 133.4,323.1 134.8,323.2 133.7,324.1 134.1,325.4 132.9,324.7 131.7,325.4 132.0,324.1 131.0,323.2 132.4,323.1" fill="#ff0000"/><polygon points="132.4,322.6 132.9,323.9 134.3,324.0 133.2,324.9 133.6,326.3 132.4,325.5 131.2,326.3 131.5,324.9 130.5,324.0 131.9,323.9" fill="#ff0000"/><polygon points="131.9,323.6 132.4,324.8 133.8,324.9 132.7,325.8 133.0,327.2 131.9,326.5 130.7,327.2 131.0,325.8 130.0,324.9 131.3,324.8" fill="#ff0000"/><polygon points="131.4,324.5 131.9,325.8 133.3,325.9 132.2,326.7 132.5,328.1 131.4,327.4 130.2,328.1 130.5,326.7 129.5,325.9 130.8,325.8" fill="#ff0000"/><polygon points="130.8,325.1 131.4,326.4 132.7,326.5 131.7,327.4 132.0,328.7 130.8,328.0 129.7,328.7 130.0,327.4 128.9,326.5 130.3,326.4" fill="#ff0000"/><polygon points="130.3,325.6 130.9,326.9 132.2,327.0 131.2,327.8 131.5,329.2 130.3,328.5 129.2,329.2 129.5,327.8 128.4,327.0 129.8,326.9" fill="#ff0000"/><polygon points="129.8,326.1 130.3,327.3 131.7,327.4 130.7,328.3 131.0,329.7 129.8,328.9 128.6,329.7 129.0,328.3 127.9,327.4 129.3,327.3" fill="#ff0000"/><polygon points="129.3,326.7 129.8,328.0 131.2,328.1 130.2,329.0 130.5,330.3 129.3,329.6 128.1,330.3 128.5,329.0 127.4,328.1 128.8,328.0" fill="#ff0000"/><polygon points="128.8,327.7 129.3,329.0 130.7,329.1 129.6,330.0 130.0,331.3 128.8,330.6 127.6,331.3 128.0,330.0 126.9,329.1 128.3,329.0" fill="#ff0000"/><polygon points="128.3,329.2 128.8,330.4 130.2,330.5 129.1,331.4 129.5,332.8 128.3,332.0 127.1,332.8 127.4,331.4 126.4,330.5 127.8,330.4" fill="#ff0000"/><polygon points="127.8,331.3 128.3,332.6 129.7,332.7 128.6,333.6 129.0,334.9 127.8,334.2 126.6,334.9 126.9,333.6 125.9,332.7 127.3,332.6" fill="#ff0000"/><polygon points="127.3,334.2 127.8,335.5 129.2,335.6 128.1,336.5 128.4,337.8 127.3,337.1 126.1,337.8 126.4,336.5 125.4,335.6 126.7,335.5" fill="#ff0000"/><polygon points="126.8,338.6 127.3,339.8 128.7,339.9 127.6,340.8 127.9,342.2 126.8,341.5 125.6,342.2 125.9,340.8 124.9,339.9 126.2,339.8" fill="#ff0000"/><polygon points="126.2,345.0 126.8,346.3 128.1,346.4 127.1,347.3 127.4,348.6 126.2,347.9 125.1,348.6 125.4,347.3 124.3,346.4 125.7,346.3" fill="#ff0000"/><polygon points="125.7,353.0 126.3,354.2 127.6,354.3 126.6,355.2 126.9,356.6 125.7,355.8 124.6,356.6 124.9,355.2 123.8,354.3 125.2,354.2" fill="#ff0000"/><polygon points="125.2,361.7 125.7,362.9 127.1,363.0 126.1,363.9 126.4,365.3 125.2,364.5 124.0,365.3 124.4,363.9 123.3,363.0 124.7,362.9" fill="#ff0000"/><polygon points="124.7,370.4 125.2,371.7 126.6,371.8 125.6,372.7 125.9,374.1 124.7,373.3 123.5,374.1 123.9,372.7 122.8,371.8 124.2,371.7" fill="#ff0000"/><polygon points="124.2,378.6 124.7,379.9 126.1,380.0 125.0,380.8 125.4,382.2 124.2,381.5 123.0,382.2 123.4,380.8 122.3,380.0 123.7,379.9" fill="#ff0000"/></g>
<polyline points="226.4,274.5 225.9,274.7 225.4,274.8 224.9,275.0 224.4,275.2 223.8,275.3 223.3,275.5 222.8,275.6 222.3,275.8 221.8,276.0 221.3,276.1 220.8,276.3 220.3,276.4 219.8,276.6 219.2,276.7 218.7,276.9 218.2,277.0 217.7,277.2 217.2,277.3 216.7,277.5 216.2,277.6 215.7,277.8 215.2,277.9 214.6,278.1 214.1,278.2 213.6,278.4 213.1,278.5 212.6,278.7 212.1,278.9 211.6,279.0 211.1,279.2 210.6,279.3 210.0,279.5 209.5,279.7 209.0,279.8 208.5,280.0 208.0,280.2 207.5,280.3 207.0,280.5 206.5,280.7 206.0,280.8 205.4,281.0 204.9,281.2 204.4,281.4 203.9,281.6 203.4,281.8 202.9,282.0 202.4,282.2 201.9,282.4 201.4,282.6 200.8,282.8 200.3,283.0 199.8,283.2 199.3,283.4 198.8,283.6 198.3,283.8 197.8,284.1 197.3,284.3 196.8,284.5 196.3,284.7 195.7,285.0 195.2,285.2 194.7,285.5 194.2,285.7 193.7,285.9 193.2,286.2 192.7,286.4 192.2,286.7 191.7,286.9 191.1,287.2 190.6,287.4 190.1,287.7 189.6,288.0 189.1,288.2 188.6,288.5 188.1,288.8 187.6,289.0 187.1,289.3 186.5,289.6 186.0,289.8 185.5,290.1 185.0,290.4 184.5,290.6 184.0,290.9 183.5,291.2 183.0,291.4 182.5,291.7 181.9,292.0 181.4,292.3 180.9,292.5 180.4,292.8 179.9,293.1 179.4,293.4 178.9,293.6 178.4,293.9 177.9,294.2 177.3,294.4 176.8,294.7 176.3,295.0 175.8,295.2 175.3,295.5 174.8,295.8 174.3,296.0 173.8,296.3 173.3,296.6 172.7,296.8 172.2,297.1 171.7,297.4 171.2,297.6 170.7,297.9 170.2,298.2 169.7,298.5 169.2,298.7 168.7,299.0 168.1,299.3 167.6,299.6 167.1,299.8 166.6,300.1 166.1,300.3 165.6,300.6 165.1,300.9 164.6,301.1 164.1,301.3 163.5,301.6 163.0,301.8 162.5,302.0 162.0,302.3 161.5,302.5 161.0,302.7 160.5,302.9 160.0,303.2 159.5,303.4 158.9,303.6 158.4,303.8 157.9,304.1 157.4,304.3 156.9,304.5 156.4,304.7 155.9,305.0 155.4,305.2 154.9,305.4 154.3,305.7 153.8,305.9 153.3,306.2 152.8,306.4 152.3,306.7 151.8,306.9 151.3,307.2 150.8,307.4 150.3,307.7 149.8,308.0 149.2,308.3 148.7,308.5 148.2,308.8 147.7,309.1 147.2,309.4 146.7,309.7 146.2,310.0 145.7,310.4 145.2,310.7 144.6,311.0 144.1,311.4 143.6,311.7 143.1,312.1 142.6,312.5 142.1,312.9 141.6,313.4 141.1,313.8 140.6,314.3 140.0,314.8 139.5,315.4 139.0,315.9 138.5,316.5 138.0,317.1 137.5,317.7 137.0,318.3 136.5,318.9 136.0,319.5 135.4,320.2 134.9,320.8 134.4,321.5 133.9,322.2 133.4,323.0 132.9,323.8 132.4,324.6 131.9,325.6 131.4,326.5 130.8,327.1 130.3,327.6 129.8,328.1 129.3,328.7 128.8,329.7 128.3,331.2 127.8,333.3 127.3,336.2" fill="none" stroke="#ff0000" stroke-width="3.5" stroke-linejoin="round" stroke-linecap="round"/>
<line x1="124.20" y1="276.59" x2="124.20" y2="337.25" stroke="#0000ff" stroke-width="0.9"/>
<line x1="83.61" y1="299.12" x2="83.61" y2="241.76" stroke="#0000ff" stroke-width="0.9"/>
<polyline points="124.2,381.4 123.7,365.6 123.2,351.8 122.7,345.4 122.2,341.5 121.7,338.9 121.1,337.2 120.6,335.8 120.1,334.3 119.6,333.0 119.1,331.9 118.6,330.9 118.1,330.0 117.6,329.2 117.1,328.5 116.6,327.8 116.1,327.1 115.6,326.4 115.0,325.7 114.5,324.9 114.0,324.2 113.5,323.5 113.0,322.9 112.5,322.2 112.0,321.5 111.5,320.9 111.0,320.3 110.5,319.7 110.0,319.1 109.5,318.5 108.9,317.9 108.4,317.4 107.9,316.8 107.4,316.3 106.9,315.8 106.4,315.3 105.9,314.8 105.4,314.4 104.9,313.9 104.4,313.5 103.9,313.1 103.4,312.7 102.8,312.3 102.3,311.9 101.8,311.5 101.3,311.2 100.8,310.8 100.3,310.4 99.8,310.1 99.3,309.7 98.8,309.4 98.3,309.1 97.8,308.7 97.3,308.4 96.7,308.0 96.2,307.7 95.7,307.4 95.2,307.1 94.7,306.8 94.2,306.5 93.7,306.2 93.2,305.9 92.7,305.7 92.2,305.4 91.7,305.2 91.1,304.9 90.6,304.7 90.1,304.4 89.6,304.2 89.1,304.0 88.6,303.7 88.1,303.5 87.6,303.3 87.1,303.0 86.6,302.8 86.1,302.6 85.6,302.4 85.0,302.2 84.5,302.0 84.0,301.8 83.5,301.6 83.0,301.4 82.5,301.2 82.0,301.0 81.5,300.8 81.0,300.6 80.5,300.4 80.0,300.2" fill="none" stroke="#0000ff" stroke-width="0.8" stroke-linejoin="round"/>
<g><circle cx="124.2" cy="381.4" r="1.6" fill="#ffffff" stroke="#0000ff" stroke-width="0.9"/><circle cx="123.7" cy="365.6" r="1.6" fill="#ffffff" stroke="#0000ff" stroke-width="0.9"/><circle cx="123.2" cy="351.8" r="1.6" fill="#ffffff" stroke="#0000ff" stroke-width="0.9"/><circle cx="122.7" cy="345.4" r="1.6" fill="#ffffff" stroke="#0000ff" stroke-width="0.9"/><circle cx="122.2" cy="341.5" r="1.6" fill="#ffffff" stroke="#0000ff" stroke-width="0.9"/><circle cx="121.7" cy="338.9" r="1.6" fill="#ffffff" stroke="#0000ff" stroke-width="0.9"/><circle cx="121.1" cy="337.2" r="1.6" fill="#ffffff" stroke="#0000ff" stroke-width="0.9"/><circle cx="120.6" cy="335.8" r="1.6" fill="#ffffff" stroke="#0000ff" stroke-width="0.9"/><circle cx="120.1" cy="334.3" r="1.6" fill="#ffffff" stroke="#0000ff" stroke-width="0.9"/><circle cx="119.6" cy="333.0" r="1.6" fill="#ffffff" stroke="#0000ff" stroke-width="0.9"/><circle cx="119.1" cy="331.9" r="1.6" fill="#ffffff" stroke="#0000ff" stroke-width="0.9"/><circle cx="118.6" cy="330.9" r="1.6" fill="#ffffff" stroke="#0000ff" stroke-width="0.9"/><circle cx="118.1" cy="330.0" r="1.6" fill="#ffffff" stroke="#0000ff" stroke-width="0.9"/><circle cx="117.6" cy="329.2" r="1.6" fill="#ffffff" stroke="#0000ff" stroke-width="0.9"/><circle cx="117.1" cy="328.5" r="1.6" fill="#ffffff" stroke="#0000ff" stroke-width="0.9"/><circle cx="116.6" cy="327.8" r="1.6" fill="#ffffff" stroke="#0000ff" stroke-width="0.9"/><circle cx="116.1" cy="327.1" r="1.6" fill="#ffffff" stroke="#0000ff" stroke-width="0.9"/><circle cx="115.6" cy="326.4" r="1.6" fill="#ffffff" stroke="#0000ff" stroke-width="0.9"/><circle cx="115.0" cy="325.7" r="1.6" fill="#ffffff" stroke="#0000ff" stroke-width="0.9"/><circle cx="114.5" cy="324.9" r="1.6" fill="#ffffff" stroke="#0000ff" stroke-width="0.9"/><circle cx="114.0" cy="324.2" r="1.6" fill="#ffffff" stroke="#0000ff" stroke-width="0.9"/><circle cx="113.5" cy="323.5" r="1.6" fill="#ffffff" stroke="#0000ff" stroke-width="0.9"/><circle cx="113.0" cy="322.9" r="1.6" fill="#ffffff" stroke="#0000ff" stroke-width="0.9"/><circle cx="112.5" cy="322.2" r="1.6" fill="#ffffff" stroke="#0000ff" stroke-width="0.9"/><circle cx="112.0" cy="321.5" r="1.6" fill="#ffffff" stroke="#0000ff" stroke-width="0.9"/><circle cx="111.5" cy="320.9" r="1.6" fill="#ffffff" stroke="#0000ff" stroke-width="0.9"/><circle cx="111.0" cy="320.3" r="1.6" fill="#ffffff" stroke="#0000ff" stroke-width="0.9"/><circle cx="110.5" cy="319.7" r="1.6" fill="#ffffff" stroke="#0000ff" stroke-width="0.9"/><circle cx="110.0" cy="319.1" r="1.6" fill="#ffffff" stroke="#0000ff" stroke-width="0.9"/><circle cx="109.5" cy="318.5" r="1.6" fill="#ffffff" stroke="#0000ff" stroke-width="0.9"/><circle cx="108.9" cy="317.9" r="1.6" fill="#ffffff" stroke="#0000ff" stroke-width="0.9"/><circle cx="108.4" cy="317.4" r="1.6" fill="#ffffff" stroke="#0000ff" stroke-width="0.9"/><circle cx="107.9" cy="316.8" r="1.6" fill="#ffffff" stroke="#0000ff" stroke-width="0.9"/><circle cx="107.4" cy="316.3" r="1.6" fill="#ffffff" stroke="#0000ff" stroke-width="0.9"/><circle cx="106.9" cy="315.8" r="1.6" fill="#ffffff" stroke="#0000ff" stroke-width="0.9"/><circle cx="106.4" cy="315.3" r="1.6" fill="#ffffff" stroke="#0000ff" stroke-width="0.9"/><circle cx="105.9" cy="314.8" r="1.6" fill="#ffffff" stroke="#0000ff" stroke-width="0.9"/><circle cx="105.4" cy="314.4" r="1.6" fill="#ffffff" stroke="#0000ff" stroke-width="0.9"/><circle cx="104.9" cy="313.9" r="1.6" fill="#ffffff" stroke="#0000ff" stroke-width="0.9"/><circle cx="104.4" cy="313.5" r="1.6" fill="#ffffff" stroke="#0000ff" stroke-width="0.9"/><circle cx="103.9" cy="313.1" r="1.6" fill="#ffffff" stroke="#0000ff" stroke-width="0.9"/><circle cx="103.4" cy="312.7" r="1.6" fill="#ffffff" stroke="#0000ff" stroke-width="0.9"/><circle cx="102.8" cy="312.3" r="1.6" fill="#ffffff" stroke="#0000ff" stroke-width="0.9"/><circle cx="102.3" cy="311.9" r="1.6" fill="#ffffff" stroke="#0000ff" stroke-width="0.9"/><circle cx="101.8" cy="311.5" r="1.6" fill="#ffffff" stroke="#0000ff" stroke-width="0.9"/><circle cx="101.3" cy="311.2" r="1.6" fill="#ffffff" stroke="#0000ff" stroke-width="0.9"/><circle cx="100.8" cy="310.8" r="1.6" fill="#ffffff" stroke="#0000ff" stroke-width="0.9"/><circle cx="100.3" cy="310.4" r="1.6" fill="#ffffff" stroke="#0000ff" stroke-width="0.9"/><circle cx="99.8" cy="310.1" r="1.6" fill="#ffffff" stroke="#0000ff" stroke-width="0.9"/><circle cx="99.3" cy="309.7" r="1.6" fill="#ffffff" stroke="#0000ff" stroke-width="0.9"/><circle cx="98.8" cy="309.4" r="1.6" fill="#ffffff" stroke="#0000ff" stroke-width="0.9"/><circle cx="98.3" cy="309.1" r="1.6" fill="#ffffff" stroke="#0000ff" stroke-width="0.9"/><circle cx="97.8" cy="308.7" r="1.6" fill="#ffffff" stroke="#0000ff" stroke-width="0.9"/><circle cx="97.3" cy="308.4" r="1.6" fill="#ffffff" stroke="#0000ff" stroke-width="0.9"/><circle cx="96.7" cy="308.0" r="1.6" fill="#ffffff" stroke="#0000ff" stroke-width="0.9"/><circle cx="96.2" cy="307.7" r="1.6" fill="#ffffff" stroke="#0000ff" stroke-width="0.9"/><circle cx="95.7" cy="307.4" r="1.6" fill="#ffffff" stroke="#0000ff" stroke-width="0.9"/><circle cx="95.2" cy="307.1" r="1.6" fill="#ffffff" stroke="#0000ff" stroke-width="0.9"/><circle cx="94.7" cy="306.8" r="1.6" fill="#ffffff" stroke="#0000ff" stroke-width="0.9"/><circle cx="94.2" cy="306.5" r="1.6" fill="#ffffff" stroke="#0000ff" stroke-width="0.9"/><circle cx="93.7" cy="306.2" r="1.6" fill="#ffffff" stroke="#0000ff" stroke-width="0.9"/><circle cx="93.2" cy="305.9" r="1.6" fill="#ffffff" stroke="#0000ff" stroke-width="0.9"/><circle cx="92.7" cy="305.7" r="1.6" fill="#ffffff" stroke="#0000ff" stroke-width="0.9"/><circle cx="92.2" cy="305.4" r="1.6" fill="#ffffff" stroke="#0000ff" stroke-width="0.9"/><circle cx="91.7" cy="305.2" r="1.6" fill="#ffffff" stroke="#0000ff" stroke-width="0.9"/><circle cx="91.1" cy="304.9" r="1.6" fill="#ffffff" stroke="#0000ff" stroke-width="0.9"/><circle cx="90.6" cy="304.7" r="1.6" fill="#ffffff" stroke="#0000ff" stroke-width="0.9"/><circle cx="90.1" cy="304.4" r="1.6" fill="#ffffff" stroke="#0000ff" stroke-width="0.9"/><circle cx="89.6" cy="304.2" r="1.6" fill="#ffffff" stroke="#0000ff" stroke-width="0.9"/><circle cx="89.1" cy="304.0" r="1.6" fill="#ffffff" stroke="#0000ff" stroke-width="0.9"/><circle cx="88.6" cy="303.7" r="1.6" fill="#ffffff" stroke="#0000ff" stroke-width="0.9"/><circle cx="88.1" cy="303.5" r="1.6" fill="#ffffff" stroke="#0000ff" stroke-width="0.9"/><circle cx="87.6" cy="303.3" r="1.6" fill="#ffffff" stroke="#0000ff" stroke-width="0.9"/><circle cx="87.1" cy="303.0" r="1.6" fill="#ffffff" stroke="#0000ff" stroke-width="0.9"/><circle cx="86.6" cy="302.8" r="1.6" fill="#ffffff" stroke="#0000ff" stroke-width="0.9"/><circle cx="86.1" cy="302.6" r="1.6" fill="#ffffff" stroke="#0000ff" stroke-width="0.9"/><circle cx="85.6" cy="302.4" r="1.6" fill="#ffffff" stroke="#0000ff" stroke-width="0.9"/><circle cx="85.0" cy="302.2" r="1.6" fill="#ffffff" stroke="#0000ff" stroke-width="0.9"/><circle cx="84.5" cy="302.0" r="1.6" fill="#ffffff" stroke="#0000ff" stroke-width="0.9"/><circle cx="84.0" cy="301.8" r="1.6" fill="#ffffff" stroke="#0000ff" stroke-width="0.9"/><circle cx="83.5" cy="301.6" r="1.6" fill="#ffffff" stroke="#0000ff" stroke-width="0.9"/><circle cx="83.0" cy="301.4" r="1.6" fill="#ffffff" stroke="#0000ff" stroke-width="0.9"/><circle cx="82.5" cy="301.2" r="1.6" fill="#ffffff" stroke="#0000ff" stroke-width="0.9"/><circle cx="82.0" cy="301.0" r="1.6" fill="#ffffff" stroke="#0000ff" stroke-width="0.9"/><circle cx="81.5" cy="300.8" r="1.6" fill="#ffffff" stroke="#0000ff" stroke-width="0.9"/><circle cx="81.0" cy="300.6" r="1.6" fill="#ffffff" stroke="#0000ff" stroke-width="0.9"/><circle cx="80.5" cy="300.4" r="1.6" fill="#ffffff" stroke="#0000ff" stroke-width="0.9"/><circle cx="80.0" cy="300.2" r="1.6" fill="#ffffff" stroke="#0000ff" stroke-width="0.9"/></g>
<polyline points="122.2,341.5 121.7,338.9 121.1,337.2 120.6,335.8 120.1,334.3 119.6,333.0 119.1,331.9 118.6,330.9 118.1,330.0 117.6,329.2 117.1,328.5 116.6,327.8 116.1,327.1 115.6,326.4 115.0,325.7 114.5,324.9 114.0,324.2 113.5,323.5 113.0,322.9 112.5,322.2 112.0,321.5 111.5,320.9 111.0,320.3 110.5,319.7 110.0,319.1 109.5,318.5 108.9,317.9 108.4,317.4 107.9,316.8 107.4,316.3 106.9,315.8 106.4,315.3 105.9,314.8 105.4,314.4 104.9,313.9 104.4,313.5 103.9,313.1 103.4,312.7 102.8,312.3 102.3,311.9 101.8,311.5 101.3,311.2 100.8,310.8 100.3,310.4 99.8,310.1 99.3,309.7 98.8,309.4 98.3,309.1 97.8,308.7 97.3,308.4 96.7,308.0 96.2,307.7 95.7,307.4 95.2,307.1 94.7,306.8 94.2,306.5 93.7,306.2 93.2,305.9 92.7,305.7 92.2,305.4 91.7,305.2 91.1,304.9 90.6,304.7 90.1,304.4 89.6,304.2 89.1,304.0 88.6,303.7 88.1,303.5 87.6,303.3 87.1,303.0 86.6,302.8 86.1,302.6 85.6,302.4 85.0,302.2 84.5,302.0 84.0,301.8 83.5,301.6 83.0,301.4 82.5,301.2 82.0,301.0 81.5,300.8 81.0,300.6 80.5,300.4 80.0,300.2" fill="none" stroke="#0000ff" stroke-width="4.0" stroke-linejoin="round" stroke-linecap="round"/>
<polyline points="83.6,241.8 84.1,241.9 84.5,242.0 84.9,242.2 85.4,242.3 85.8,242.4 86.2,242.6 86.7,242.7 87.1,242.8 87.6,243.0 88.0,243.1 88.4,243.2 88.9,243.4 89.3,243.5 89.7,243.6 90.2,243.8 90.6,243.9 91.1,244.1 91.5,244.2 91.9,244.3 92.4,244.5 92.8,244.6 93.2,244.8 93.7,244.9 94.1,245.1 94.6,245.2 95.0,245.4 95.4,245.6 95.9,245.7 96.3,245.9 96.8,246.0 97.2,246.2 97.6,246.3 98.1,246.5 98.5,246.6 98.9,246.8 99.4,246.9 99.8,247.1 100.3,247.3 100.7,247.5 101.1,247.6 101.6,247.8 102.0,248.0 102.4,248.3 102.9,248.5 103.3,248.7 103.8,249.0 104.2,249.3 104.6,249.6 105.1,249.9 105.5,250.2 106.0,250.5 106.4,250.9 106.8,251.2 107.3,251.6 107.7,251.9 108.1,252.3 108.6,252.7 109.0,253.1 109.5,253.5 109.9,253.9 110.3,254.3 110.8,254.8 111.2,255.2 111.6,255.6 112.1,256.1 112.5,256.6 113.0,257.1 113.4,257.5 113.8,258.0 114.3,258.6 114.7,259.2 115.1,259.8 115.6,260.4 116.0,261.1 116.5,261.8 116.9,262.6 117.3,263.4 117.8,264.2 118.2,265.0 118.7,265.9 119.1,266.8 119.5,267.9 120.0,269.0 120.4,270.2 120.8,271.5 121.3,272.7 121.7,274.0 122.2,275.5 122.6,277.5 123.0,279.4 123.3,280.9 123.5,283.6 123.8,288.7 123.9,298.3 124.1,313.5 124.2,328.6" fill="none" stroke="#0000ff" stroke-width="0.8" stroke-linejoin="round"/>
<g><circle cx="83.6" cy="241.8" r="1.6" fill="#ffffff" stroke="#0000ff" stroke-width="0.9"/><circle cx="84.1" cy="241.9" r="1.6" fill="#ffffff" stroke="#0000ff" stroke-width="0.9"/><circle cx="84.5" cy="242.0" r="1.6" fill="#ffffff" stroke="#0000ff" stroke-width="0.9"/><circle cx="84.9" cy="242.2" r="1.6" fill="#ffffff" stroke="#0000ff" stroke-width="0.9"/><circle cx="85.4" cy="242.3" r="1.6" fill="#ffffff" stroke="#0000ff" stroke-width="0.9"/><circle cx="85.8" cy="242.4" r="1.6" fill="#ffffff" stroke="#0000ff" stroke-width="0.9"/><circle cx="86.2" cy="242.6" r="1.6" fill="#ffffff" stroke="#0000ff" stroke-width="0.9"/><circle cx="86.7" cy="242.7" r="1.6" fill="#ffffff" stroke="#0000ff" stroke-width="0.9"/><circle cx="87.1" cy="242.8" r="1.6" fill="#ffffff" stroke="#0000ff" stroke-width="0.9"/><circle cx="87.6" cy="243.0" r="1.6" fill="#ffffff" stroke="#0000ff" stroke-width="0.9"/><circle cx="88.0" cy="243.1" r="1.6" fill="#ffffff" stroke="#0000ff" stroke-width="0.9"/><circle cx="88.4" cy="243.2" r="1.6" fill="#ffffff" stroke="#0000ff" stroke-width="0.9"/><circle cx="88.9" cy="243.4" r="1.6" fill="#ffffff" stroke="#0000ff" stroke-width="0.9"/><circle cx="89.3" cy="243.5" r="1.6" fill="#ffffff" stroke="#0000ff" stroke-width="0.9"/><circle cx="89.7" cy="243.6" r="1.6" fill="#ffffff" stroke="#0000ff" stroke-width="0.9"/><circle cx="90.2" cy="243.8" r="1.6" fill="#ffffff" stroke="#0000ff" stroke-width="0.9"/><circle cx="90.6" cy="243.9" r="1.6" fill="#ffffff" stroke="#0000ff" stroke-width="0.9"/><circle cx="91.1" cy="244.1" r="1.6" fill="#ffffff" stroke="#0000ff" stroke-width="0.9"/><circle cx="91.5" cy="244.2" r="1.6" fill="#ffffff" stroke="#0000ff" stroke-width="0.9"/><circle cx="91.9" cy="244.3" r="1.6" fill="#ffffff" stroke="#0000ff" stroke-width="0.9"/><circle cx="92.4" cy="244.5" r="1.6" fill="#ffffff" stroke="#0000ff" stroke-width="0.9"/><circle cx="92.8" cy="244.6" r="1.6" fill="#ffffff" stroke="#0000ff" stroke-width="0.9"/><circle cx="93.2" cy="244.8" r="1.6" fill="#ffffff" stroke="#0000ff" stroke-width="0.9"/><circle cx="93.7" cy="244.9" r="1.6" fill="#ffffff" stroke="#0000ff" stroke-width="0.9"/><circle cx="94.1" cy="245.1" r="1.6" fill="#ffffff" stroke="#0000ff" stroke-width="0.9"/><circle cx="94.6" cy="245.2" r="1.6" fill="#ffffff" stroke="#0000ff" stroke-width="0.9"/><circle cx="95.0" cy="245.4" r="1.6" fill="#ffffff" stroke="#0000ff" stroke-width="0.9"/><circle cx="95.4" cy="245.6" r="1.6" fill="#ffffff" stroke="#0000ff" stroke-width="0.9"/><circle cx="95.9" cy="245.7" r="1.6" fill="#ffffff" stroke="#0000ff" stroke-width="0.9"/><circle cx="96.3" cy="245.9" r="1.6" fill="#ffffff" stroke="#0000ff" stroke-width="0.9"/><circle cx="96.8" cy="246.0" r="1.6" fill="#ffffff" stroke="#0000ff" stroke-width="0.9"/><circle cx="97.2" cy="246.2" r="1.6" fill="#ffffff" stroke="#0000ff" stroke-width="0.9"/><circle cx="97.6" cy="246.3" r="1.6" fill="#ffffff" stroke="#0000ff" stroke-width="0.9"/><circle cx="98.1" cy="246.5" r="1.6" fill="#ffffff" stroke="#0000ff" stroke-width="0.9"/><circle cx="98.5" cy="246.6" r="1.6" fill="#ffffff" stroke="#0000ff" stroke-width="0.9"/><circle cx="98.9" cy="246.8" r="1.6" fill="#ffffff" stroke="#0000ff" stroke-width="0.9"/><circle cx="99.4" cy="246.9" r="1.6" fill="#ffffff" stroke="#0000ff" stroke-width="0.9"/><circle cx="99.8" cy="247.1" r="1.6" fill="#ffffff" stroke="#0000ff" stroke-width="0.9"/><circle cx="100.3" cy="247.3" r="1.6" fill="#ffffff" stroke="#0000ff" stroke-width="0.9"/><circle cx="100.7" cy="247.5" r="1.6" fill="#ffffff" stroke="#0000ff" stroke-width="0.9"/><circle cx="101.1" cy="247.6" r="1.6" fill="#ffffff" stroke="#0000ff" stroke-width="0.9"/><circle cx="101.6" cy="247.8" r="1.6" fill="#ffffff" stroke="#0000ff" stroke-width="0.9"/><circle cx="102.0" cy="248.0" r="1.6" fill="#ffffff" stroke="#0000ff" stroke-width="0.9"/><circle cx="102.4" cy="248.3" r="1.6" fill="#ffffff" stroke="#0000ff" stroke-width="0.9"/><circle cx="102.9" cy="248.5" r="1.6" fill="#ffffff" stroke="#0000ff" stroke-width="0.9"/><circle cx="103.3" cy="248.7" r="1.6" fill="#ffffff" stroke="#0000ff" stroke-width="0.9"/><circle cx="103.8" cy="249.0" r="1.6" fill="#ffffff" stroke="#0000ff" stroke-width="0.9"/><circle cx="104.2" cy="249.3" r="1.6" fill="#ffffff" stroke="#0000ff" stroke-width="0.9"/><circle cx="104.6" cy="249.6" r="1.6" fill="#ffffff" stroke="#0000ff" stroke-width="0.9"/><circle cx="105.1" cy="249.9" r="1.6" fill="#ffffff" stroke="#0000ff" stroke-width="0.9"/><circle cx="105.5" cy="250.2" r="1.6" fill="#ffffff" stroke="#0000ff" stroke-width="0.9"/><circle cx="106.0" cy="250.5" r="1.6" fill="#ffffff" stroke="#0000ff" stroke-width="0.9"/><circle cx="106.4" cy="250.9" r="1.6" fill="#ffffff" stroke="#0000ff" stroke-width="0.9"/><circle cx="106.8" cy="251.2" r="1.6" fill="#ffffff" stroke="#0000ff" stroke-width="0.9"/><circle cx="107.3" cy="251.6" r="1.6" fill="#ffffff" stroke="#0000ff" stroke-width="0.9"/><circle cx="107.7" cy="251.9" r="1.6" fill="#ffffff" stroke="#0000ff" stroke-width="0.9"/><circle cx="108.1" cy="252.3" r="1.6" fill="#ffffff" stroke="#0000ff" stroke-width="0.9"/><circle cx="108.6" cy="252.7" r="1.6" fill="#ffffff" stroke="#0000ff" stroke-width="0.9"/><circle cx="109.0" cy="253.1" r="1.6" fill="#ffffff" stroke="#0000ff" stroke-width="0.9"/><circle cx="109.5" cy="253.5" r="1.6" fill="#ffffff" stroke="#0000ff" stroke-width="0.9"/><circle cx="109.9" cy="253.9" r="1.6" fill="#ffffff" stroke="#0000ff" stroke-width="0.9"/><circle cx="110.3" cy="254.3" r="1.6" fill="#ffffff" stroke="#0000ff" stroke-width="0.9"/><circle cx="110.8" cy="254.8" r="1.6" fill="#ffffff" stroke="#0000ff" stroke-width="0.9"/><circle cx="111.2" cy="255.2" r="1.6" fill="#ffffff" stroke="#0000ff" stroke-width="0.9"/><circle cx="111.6" cy="255.6" r="1.6" fill="#ffffff" stroke="#0000ff" stroke-width="0.9"/><circle cx="112.1" cy="256.1" r="1.6" fill="#ffffff" stroke="#0000ff" stroke-width="0.9"/><circle cx="112.5" cy="256.6" r="1.6" fill="#ffffff" stroke="#0000ff" stroke-width="0.9"/><circle cx="113.0" cy="257.1" r="1.6" fill="#ffffff" stroke="#0000ff" stroke-width="0.9"/><circle cx="113.4" cy="257.5" r="1.6" fill="#ffffff" stroke="#0000ff" stroke-width="0.9"/><circle cx="113.8" cy="258.0" r="1.6" fill="#ffffff" stroke="#0000ff" stroke-width="0.9"/><circle cx="114.3" cy="258.6" r="1.6" fill="#ffffff" stroke="#0000ff" stroke-width="0.9"/><circle cx="114.7" cy="259.2" r="1.6" fill="#ffffff" stroke="#0000ff" stroke-width="0.9"/><circle cx="115.1" cy="259.8" r="1.6" fill="#ffffff" stroke="#0000ff" stroke-width="0.9"/><circle cx="115.6" cy="260.4" r="1.6" fill="#ffffff" stroke="#0000ff" stroke-width="0.9"/><circle cx="116.0" cy="261.1" r="1.6" fill="#ffffff" stroke="#0000ff" stroke-width="0.9"/><circle cx="116.5" cy="261.8" r="1.6" fill="#ffffff" stroke="#0000ff" stroke-width="0.9"/><circle cx="116.9" cy="262.6" r="1.6" fill="#ffffff" stroke="#0000ff" stroke-width="0.9"/><circle cx="117.3" cy="263.4" r="1.6" fill="#ffffff" stroke="#0000ff" stroke-width="0.9"/><circle cx="117.8" cy="264.2" r="1.6" fill="#ffffff" stroke="#0000ff" stroke-width="0.9"/><circle cx="118.2" cy="265.0" r="1.6" fill="#ffffff" stroke="#0000ff" stroke-width="0.9"/><circle cx="118.7" cy="265.9" r="1.6" fill="#ffffff" stroke="#0000ff" stroke-width="0.9"/><circle cx="119.1" cy="266.8" r="1.6" fill="#ffffff" stroke="#0000ff" stroke-width="0.9"/><circle cx="119.5" cy="267.9" r="1.6" fill="#ffffff" stroke="#0000ff" stroke-width="0.9"/><circle cx="120.0" cy="269.0" r="1.6" fill="#ffffff" stroke="#0000ff" stroke-width="0.9"/><circle cx="120.4" cy="270.2" r="1.6" fill="#ffffff" stroke="#0000ff" stroke-width="0.9"/><circle cx="120.8" cy="271.5" r="1.6" fill="#ffffff" stroke="#0000ff" stroke-width="0.9"/><circle cx="121.3" cy="272.7" r="1.6" fill="#ffffff" stroke="#0000ff" stroke-width="0.9"/><circle cx="121.7" cy="274.0" r="1.6" fill="#ffffff" stroke="#0000ff" stroke-width="0.9"/><circle cx="122.2" cy="275.5" r="1.6" fill="#ffffff" stroke="#0000ff" stroke-width="0.9"/><circle cx="122.6" cy="277.5" r="1.6" fill="#ffffff" stroke="#0000ff" stroke-width="0.9"/><circle cx="123.0" cy="279.4" r="1.6" fill="#ffffff" stroke="#0000ff" stroke-width="0.9"/><circle cx="123.3" cy="280.9" r="1.6" fill="#ffffff" stroke="#0000ff" stroke-width="0.9"/><circle cx="123.5" cy="283.6" r="1.6" fill="#ffffff" stroke="#0000ff" stroke-width="0.9"/><circle cx="123.8" cy="288.7" r="1.6" fill="#ffffff" stroke="#0000ff" stroke-width="0.9"/><circle cx="123.9" cy="298.3" r="1.6" fill="#ffffff" stroke="#0000ff" stroke-width="0.9"/><circle cx="124.1" cy="313.5" r="1.6" fill="#ffffff" stroke="#0000ff" stroke-width="0.9"/><circle cx="124.2" cy="328.6" r="1.6" fill="#ffffff" stroke="#0000ff" stroke-width="0.9"/></g>
<polyline points="83.6,241.8 84.1,241.9 84.5,242.0 84.9,242.2 85.4,242.3 85.8,242.4 86.2,242.6 86.7,242.7 87.1,242.8 87.6,243.0 88.0,243.1 88.4,243.2 88.9,243.4 89.3,243.5 89.7,243.6 90.2,243.8 90.6,243.9 91.1,244.1 91.5,244.2 91.9,244.3 92.4,244.5 92.8,244.6 93.2,244.8 93.7,244.9 94.1,245.1 94.6,245.2 95.0,245.4 95.4,245.6 95.9,245.7 96.3,245.9 96.8,246.0 97.2,246.2 97.6,246.3 98.1,246.5 98.5,246.6 98.9,246.8 99.4,246.9 99.8,247.1 100.3,247.3 100.7,247.5 101.1,247.6 101.6,247.8 102.0,248.0 102.4,248.3 102.9,248.5 103.3,248.7 103.8,249.0 104.2,249.3 104.6,249.6 105.1,249.9 105.5,250.2 106.0,250.5 106.4,250.9 106.8,251.2 107.3,251.6 107.7,251.9 108.1,252.3 108.6,252.7 109.0,253.1 109.5,253.5 109.9,253.9 110.3,254.3 110.8,254.8 111.2,255.2 111.6,255.6 112.1,256.1 112.5,256.6 113.0,257.1 113.4,257.5 113.8,258.0 114.3,258.6 114.7,259.2 115.1,259.8 115.6,260.4 116.0,261.1 116.5,261.8 116.9,262.6 117.3,263.4 117.8,264.2 118.2,265.0 118.7,265.9 119.1,266.8 119.5,267.9 120.0,269.0 120.4,270.2 120.8,271.5 121.3,272.7 121.7,274.0 122.2,275.5 122.6,277.5 123.0,279.4 123.3,280.9 123.5,283.6" fill="none" stroke="#0000ff" stroke-width="4.0" stroke-linejoin="round" stroke-linecap="round"/>
<polyline points="132.1,263.9 134.1,263.9 136.2,263.9 138.3,263.9 140.3,263.9 142.4,263.9 144.5,263.9 146.5,263.9 148.6,263.9 150.7,263.9 152.7,263.9 154.8,263.9 156.9,263.9 158.9,263.9 161.0,263.9 163.1,263.9 165.1,263.9 167.2,263.9 169.3,263.9 171.3,263.9 173.4,263.9 175.5,263.9 177.5,263.9 179.6,263.9 181.7,263.9 183.7,263.9 185.8,263.9 187.9,263.9 189.9,263.9 192.0,263.9 194.1,263.9 196.1,263.9 198.2,263.9 200.3,263.9 202.3,263.9 204.4,263.9 206.5,263.9 208.5,263.9 210.6,263.9 212.7,263.9 214.7,263.9 216.8,263.9 218.9,263.9 220.9,263.9 223.0,263.9 225.0,263.9 227.1,263.9 229.2,263.9 231.2,263.9 233.3,263.9 235.4,263.9 237.4,263.9 239.5,263.9 241.6,263.9 243.6,263.9 245.7,263.9 247.8,263.9 249.8,263.9 251.9,263.9 254.0,263.9 256.0,263.9" fill="none" stroke="#0000ff" stroke-width="0.8" stroke-linejoin="round"/>
<g><circle cx="132.1" cy="263.9" r="1.6" fill="#ffffff" stroke="#0000ff" stroke-width="0.9"/><circle cx="134.1" cy="263.9" r="1.6" fill="#ffffff" stroke="#0000ff" stroke-width="0.9"/><circle cx="136.2" cy="263.9" r="1.6" fill="#ffffff" stroke="#0000ff" stroke-width="0.9"/><circle cx="138.3" cy="263.9" r="1.6" fill="#ffffff" stroke="#0000ff" stroke-width="0.9"/><circle cx="140.3" cy="263.9" r="1.6" fill="#ffffff" stroke="#0000ff" stroke-width="0.9"/><circle cx="142.4" cy="263.9" r="1.6" fill="#ffffff" stroke="#0000ff" stroke-width="0.9"/><circle cx="144.5" cy="263.9" r="1.6" fill="#ffffff" stroke="#0000ff" stroke-width="0.9"/><circle cx="146.5" cy="263.9" r="1.6" fill="#ffffff" stroke="#0000ff" stroke-width="0.9"/><circle cx="148.6" cy="263.9" r="1.6" fill="#ffffff" stroke="#0000ff" stroke-width="0.9"/><circle cx="150.7" cy="263.9" r="1.6" fill="#ffffff" stroke="#0000ff" stroke-width="0.9"/><circle cx="152.7" cy="263.9" r="1.6" fill="#ffffff" stroke="#0000ff" stroke-width="0.9"/><circle cx="154.8" cy="263.9" r="1.6" fill="#ffffff" stroke="#0000ff" stroke-width="0.9"/><circle cx="156.9" cy="263.9" r="1.6" fill="#ffffff" stroke="#0000ff" stroke-width="0.9"/><circle cx="158.9" cy="263.9" r="1.6" fill="#ffffff" stroke="#0000ff" stroke-width="0.9"/><circle cx="161.0" cy="263.9" r="1.6" fill="#ffffff" stroke="#0000ff" stroke-width="0.9"/><circle cx="163.1" cy="263.9" r="1.6" fill="#ffffff" stroke="#0000ff" stroke-width="0.9"/><circle cx="165.1" cy="263.9" r="1.6" fill="#ffffff" stroke="#0000ff" stroke-width="0.9"/><circle cx="167.2" cy="263.9" r="1.6" fill="#ffffff" stroke="#0000ff" stroke-width="0.9"/><circle cx="169.3" cy="263.9" r="1.6" fill="#ffffff" stroke="#0000ff" stroke-width="0.9"/><circle cx="171.3" cy="263.9" r="1.6" fill="#ffffff" stroke="#0000ff" stroke-width="0.9"/><circle cx="173.4" cy="263.9" r="1.6" fill="#ffffff" stroke="#0000ff" stroke-width="0.9"/><circle cx="175.5" cy="263.9" r="1.6" fill="#ffffff" stroke="#0000ff" stroke-width="0.9"/><circle cx="177.5" cy="263.9" r="1.6" fill="#ffffff" stroke="#0000ff" stroke-width="0.9"/><circle cx="179.6" cy="263.9" r="1.6" fill="#ffffff" stroke="#0000ff" stroke-width="0.9"/><circle cx="181.7" cy="263.9" r="1.6" fill="#ffffff" stroke="#0000ff" stroke-width="0.9"/><circle cx="183.7" cy="263.9" r="1.6" fill="#ffffff" stroke="#0000ff" stroke-width="0.9"/><circle cx="185.8" cy="263.9" r="1.6" fill="#ffffff" stroke="#0000ff" stroke-width="0.9"/><circle cx="187.9" cy="263.9" r="1.6" fill="#ffffff" stroke="#0000ff" stroke-width="0.9"/><circle cx="189.9" cy="263.9" r="1.6" fill="#ffffff" stroke="#0000ff" stroke-width="0.9"/><circle cx="192.0" cy="263.9" r="1.6" fill="#ffffff" stroke="#0000ff" stroke-width="0.9"/><circle cx="194.1" cy="263.9" r="1.6" fill="#ffffff" stroke="#0000ff" stroke-width="0.9"/><circle cx="196.1" cy="263.9" r="1.6" fill="#ffffff" stroke="#0000ff" stroke-width="0.9"/><circle cx="198.2" cy="263.9" r="1.6" fill="#ffffff" stroke="#0000ff" stroke-width="0.9"/><circle cx="200.3" cy="263.9" r="1.6" fill="#ffffff" stroke="#0000ff" stroke-width="0.9"/><circle cx="202.3" cy="263.9" r="1.6" fill="#ffffff" stroke="#0000ff" stroke-width="0.9"/><circle cx="204.4" cy="263.9" r="1.6" fill="#ffffff" stroke="#0000ff" stroke-width="0.9"/><circle cx="206.5" cy="263.9" r="1.6" fill="#ffffff" stroke="#0000ff" stroke-width="0.9"/><circle cx="208.5" cy="263.9" r="1.6" fill="#ffffff" stroke="#0000ff" stroke-width="0.9"/><circle cx="210.6" cy="263.9" r="1.6" fill="#ffffff" stroke="#0000ff" stroke-width="0.9"/><circle cx="212.7" cy="263.9" r="1.6" fill="#ffffff" stroke="#0000ff" stroke-width="0.9"/><circle cx="214.7" cy="263.9" r="1.6" fill="#ffffff" stroke="#0000ff" stroke-width="0.9"/><circle cx="216.8" cy="263.9" r="1.6" fill="#ffffff" stroke="#0000ff" stroke-width="0.9"/><circle cx="218.9" cy="263.9" r="1.6" fill="#ffffff" stroke="#0000ff" stroke-width="0.9"/><circle cx="220.9" cy="263.9" r="1.6" fill="#ffffff" stroke="#0000ff" stroke-width="0.9"/><circle cx="223.0" cy="263.9" r="1.6" fill="#ffffff" stroke="#0000ff" stroke-width="0.9"/><circle cx="225.0" cy="263.9" r="1.6" fill="#ffffff" stroke="#0000ff" stroke-width="0.9"/><circle cx="227.1" cy="263.9" r="1.6" fill="#ffffff" stroke="#0000ff" stroke-width="0.9"/><circle cx="229.2" cy="263.9" r="1.6" fill="#ffffff" stroke="#0000ff" stroke-width="0.9"/><circle cx="231.2" cy="263.9" r="1.6" fill="#ffffff" stroke="#0000ff" stroke-width="0.9"/><circle cx="233.3" cy="263.9" r="1.6" fill="#ffffff" stroke="#0000ff" stroke-width="0.9"/><circle cx="235.4" cy="263.9" r="1.6" fill="#ffffff" stroke="#0000ff" stroke-width="0.9"/><circle cx="237.4" cy="263.9" r="1.6" fill="#ffffff" stroke="#0000ff" stroke-width="0.9"/><circle cx="239.5" cy="263.9" r="1.6" fill="#ffffff" stroke="#0000ff" stroke-width="0.9"/><circle cx="241.6" cy="263.9" r="1.6" fill="#ffffff" stroke="#0000ff" stroke-width="0.9"/><circle cx="243.6" cy="263.9" r="1.6" fill="#ffffff" stroke="#0000ff" stroke-width="0.9"/><circle cx="245.7" cy="263.9" r="1.6" fill="#ffffff" stroke="#0000ff" stroke-width="0.9"/><circle cx="247.8" cy="263.9" r="1.6" fill="#ffffff" stroke="#0000ff" stroke-width="0.9"/><circle cx="249.8" cy="263.9" r="1.6" fill="#ffffff" stroke="#0000ff" stroke-width="0.9"/><circle cx="251.9" cy="263.9" r="1.6" fill="#ffffff" stroke="#0000ff" stroke-width="0.9"/><circle cx="254.0" cy="263.9" r="1.6" fill="#ffffff" stroke="#0000ff" stroke-width="0.9"/><circle cx="256.0" cy="263.9" r="1.6" fill="#ffffff" stroke="#0000ff" stroke-width="0.9"/></g>
<polyline points="132.1,263.9 134.1,263.9 136.2,263.9 138.3,263.9 140.3,263.9 142.4,263.9 144.5,263.9 146.5,263.9 148.6,263.9 150.7,263.9 152.7,263.9 154.8,263.9 156.9,263.9 158.9,263.9 161.0,263.9 163.1,263.9 165.1,263.9 167.2,263.9 169.3,263.9 171.3,263.9 173.4,263.9 175.5,263.9 177.5,263.9 179.6,263.9 181.7,263.9 183.7,263.9 185.8,263.9 187.9,263.9 189.9,263.9 192.0,263.9 194.1,263.9 196.1,263.9 198.2,263.9 200.3,263.9 202.3,263.9 204.4,263.9 206.5,263.9 208.5,263.9 210.6,263.9 212.7,263.9 214.7,263.9 216.8,263.9 218.9,263.9 220.9,263.9 223.0,263.9 225.0,263.9 227.1,263.9 229.2,263.9 231.2,263.9 233.3,263.9 235.4,263.9 237.4,263.9 239.5,263.9 241.6,263.9 243.6,263.9 245.7,263.9 247.8,263.9 249.8,263.9 251.9,263.9 254.0,263.9 256.0,263.9" fill="none" stroke="#0000ff" stroke-width="4.0" stroke-linejoin="round" stroke-linecap="round"/>
<polyline points="255.6,264.5 255.1,264.6 254.6,264.8 254.1,264.9 253.6,265.1 253.0,265.2 252.5,265.4 252.0,265.5 251.5,265.7 251.0,265.9 250.5,266.0 250.0,266.2 249.5,266.3 249.0,266.5 248.4,266.6 247.9,266.8 247.4,267.0 246.9,267.1 246.4,267.3 245.9,267.4 245.4,267.6 244.9,267.7 244.4,267.9 243.8,268.1 243.3,268.2 242.8,268.4 242.3,268.5 241.8,268.7 241.3,268.8 240.8,269.0 240.3,269.1 239.8,269.3 239.2,269.4 238.7,269.6 238.2,269.7 237.7,269.9 237.2,270.0 236.7,270.2 236.2,270.3 235.7,270.5 235.1,270.6 234.6,270.8 234.1,270.9 233.6,271.1 233.1,271.2 232.6,271.4 232.1,271.5 231.6,271.6 231.1,271.8 230.5,271.9 230.0,272.0 229.5,272.2 229.0,272.3 228.5,272.4 228.0,272.6 227.5,272.7 227.0,272.8 226.5,272.9 225.9,273.1 225.4,273.2 224.9,273.3 224.4,273.4 223.9,273.6 223.4,273.7 222.9,273.8 222.4,273.9 221.9,274.1 221.3,274.2 220.8,274.3 220.3,274.4 219.8,274.6 219.3,274.7 218.8,274.8 218.3,274.9 217.8,275.0 217.3,275.2 216.7,275.3 216.2,275.4 215.7,275.5 215.2,275.7 214.7,275.8 214.2,275.9 213.7,276.1 213.2,276.2 212.7,276.3 212.1,276.4 211.6,276.6 211.1,276.7 210.6,276.8 210.1,277.0 209.6,277.1 209.1,277.3 208.6,277.4 208.1,277.5 207.5,277.7 207.0,277.8 206.5,278.0 206.0,278.1 205.5,278.3 205.0,278.4 204.5,278.6 204.0,278.7 203.4,278.9 202.9,279.0 202.4,279.2 201.9,279.4 201.4,279.5 200.9,279.7 200.4,279.9 199.9,280.0 199.4,280.2 198.8,280.4 198.3,280.6 197.8,280.8 197.3,281.0 196.8,281.1 196.3,281.3 195.8,281.5 195.3,281.7 194.8,281.9 194.2,282.1 193.7,282.3 193.2,282.6 192.7,282.8 192.2,283.0 191.7,283.2 191.2,283.4 190.7,283.6 190.2,283.8 189.6,284.1 189.1,284.3 188.6,284.5 188.1,284.7 187.6,285.0 187.1,285.2 186.6,285.4 186.1,285.7 185.6,285.9 185.0,286.1 184.5,286.4 184.0,286.6 183.5,286.8 183.0,287.1 182.5,287.3 182.0,287.5 181.5,287.8 181.0,288.0 180.4,288.3 179.9,288.5 179.4,288.7 178.9,289.0 178.4,289.2 177.9,289.5 177.4,289.7 176.9,289.9 176.4,290.2 175.8,290.4 175.3,290.6 174.8,290.9 174.3,291.1 173.8,291.3 173.3,291.6 172.8,291.8 172.3,292.0 171.7,292.3 171.2,292.5 170.7,292.8 170.2,293.0 169.7,293.3 169.2,293.5 168.7,293.8 168.2,294.0 167.7,294.3 167.1,294.6 166.6,294.8 166.1,295.1 165.6,295.4 165.1,295.6 164.6,295.9 164.1,296.2 163.6,296.4 163.1,296.7 162.5,296.9 162.0,297.2 161.5,297.5 161.0,297.7 160.5,298.0 160.0,298.2 159.5,298.5 159.0,298.8 158.5,299.0 157.9,299.3 157.4,299.6 156.9,299.8 156.4,300.1 155.9,300.4 155.4,300.6 154.9,300.9 154.4,301.2 153.9,301.4 153.3,301.7 152.8,302.0 152.3,302.3 151.8,302.6 151.3,302.9 150.8,303.1 150.3,303.4 149.8,303.7 149.3,304.0 148.7,304.3 148.2,304.6 147.7,304.8 147.2,305.1 146.7,305.5 146.2,305.8 145.7,306.1 145.2,306.4 144.7,306.8 144.1,307.2 143.6,307.5 143.1,307.9 142.6,308.4 142.1,308.8 141.6,309.3 141.1,309.9 140.6,310.4 140.0,311.0 139.5,311.6 139.0,312.3 138.5,312.9 138.0,313.5 137.5,314.2 137.0,314.8 136.5,315.4 136.0,316.0 135.4,316.6 134.9,317.2 134.4,317.8 133.9,318.4 133.4,319.1 132.9,319.8 132.4,320.7 131.9,321.6 131.4,322.5 130.8,323.5 130.3,324.5 129.8,325.4 129.3,326.5 128.8,327.6 128.3,328.8 127.8,330.2 127.3,331.7 126.8,333.4 126.2,335.4 125.7,337.9 125.2,342.9 124.7,353.3 124.2,381.4" fill="none" stroke="#0000ff" stroke-width="0.8" stroke-linejoin="round"/>
<g><circle cx="255.6" cy="264.5" r="1.6" fill="#ffffff" stroke="#0000ff" stroke-width="0.9"/><circle cx="255.1" cy="264.6" r="1.6" fill="#ffffff" stroke="#0000ff" stroke-width="0.9"/><circle cx="254.6" cy="264.8" r="1.6" fill="#ffffff" stroke="#0000ff" stroke-width="0.9"/><circle cx="254.1" cy="264.9" r="1.6" fill="#ffffff" stroke="#0000ff" stroke-width="0.9"/><circle cx="253.6" cy="265.1" r="1.6" fill="#ffffff" stroke="#0000ff" stroke-width="0.9"/><circle cx="253.0" cy="265.2" r="1.6" fill="#ffffff" stroke="#0000ff" stroke-width="0.9"/><circle cx="252.5" cy="265.4" r="1.6" fill="#ffffff" stroke="#0000ff" stroke-width="0.9"/><circle cx="252.0" cy="265.5" r="1.6" fill="#ffffff" stroke="#0000ff" stroke-width="0.9"/><circle cx="251.5" cy="265.7" r="1.6" fill="#ffffff" stroke="#0000ff" stroke-width="0.9"/><circle cx="251.0" cy="265.9" r="1.6" fill="#ffffff" stroke="#0000ff" stroke-width="0.9"/><circle cx="250.5" cy="266.0" r="1.6" fill="#ffffff" stroke="#0000ff" stroke-width="0.9"/><circle cx="250.0" cy="266.2" r="1.6" fill="#ffffff" stroke="#0000ff" stroke-width="0.9"/><circle cx="249.5" cy="266.3" r="1.6" fill="#ffffff" stroke="#0000ff" stroke-width="0.9"/><circle cx="249.0" cy="266.5" r="1.6" fill="#ffffff" stroke="#0000ff" stroke-width="0.9"/><circle cx="248.4" cy="266.6" r="1.6" fill="#ffffff" stroke="#0000ff" stroke-width="0.9"/><circle cx="247.9" cy="266.8" r="1.6" fill="#ffffff" stroke="#0000ff" stroke-width="0.9"/><circle cx="247.4" cy="267.0" r="1.6" fill="#ffffff" stroke="#0000ff" stroke-width="0.9"/><circle cx="246.9" cy="267.1" r="1.6" fill="#ffffff" stroke="#0000ff" stroke-width="0.9"/><circle cx="246.4" cy="267.3" r="1.6" fill="#ffffff" stroke="#0000ff" stroke-width="0.9"/><circle cx="245.9" cy="267.4" r="1.6" fill="#ffffff" stroke="#0000ff" stroke-width="0.9"/><circle cx="245.4" cy="267.6" r="1.6" fill="#ffffff" stroke="#0000ff" stroke-width="0.9"/><circle cx="244.9" cy="267.7" r="1.6" fill="#ffffff" stroke="#0000ff" stroke-width="0.9"/><circle cx="244.4" cy="267.9" r="1.6" fill="#ffffff" stroke="#0000ff" stroke-width="0.9"/><circle cx="243.8" cy="268.1" r="1.6" fill="#ffffff" stroke="#0000ff" stroke-width="0.9"/><circle cx="243.3" cy="268.2" r="1.6" fill="#ffffff" stroke="#0000ff" stroke-width="0.9"/><circle cx="242.8" cy="268.4" r="1.6" fill="#ffffff" stroke="#0000ff" stroke-width="0.9"/><circle cx="242.3" cy="268.5" r="1.6" fill="#ffffff" stroke="#0000ff" stroke-width="0.9"/><circle cx="241.8" cy="268.7" r="1.6" fill="#ffffff" stroke="#0000ff" stroke-width="0.9"/><circle cx="241.3" cy="268.8" r="1.6" fill="#ffffff" stroke="#0000ff" stroke-width="0.9"/><circle cx="240.8" cy="269.0" r="1.6" fill="#ffffff" stroke="#0000ff" stroke-width="0.9"/><circle cx="240.3" cy="269.1" r="1.6" fill="#ffffff" stroke="#0000ff" stroke-width="0.9"/><circle cx="239.8" cy="269.3" r="1.6" fill="#ffffff" stroke="#0000ff" stroke-width="0.9"/><circle cx="239.2" cy="269.4" r="1.6" fill="#ffffff" stroke="#0000ff" stroke-width="0.9"/><circle cx="238.7" cy="269.6" r="1.6" fill="#ffffff" stroke="#0000ff" stroke-width="0.9"/><circle cx="238.2" cy="269.7" r="1.6" fill="#ffffff" stroke="#0000ff" stroke-width="0.9"/><circle cx="237.7" cy="269.9" r="1.6" fill="#ffffff" stroke="#0000ff" stroke-width="0.9"/><circle cx="237.2" cy="270.0" r="1.6" fill="#ffffff" stroke="#0000ff" stroke-width="0.9"/><circle cx="236.7" cy="270.2" r="1.6" fill="#ffffff" stroke="#0000ff" stroke-width="0.9"/><circle cx="236.2" cy="270.3" r="1.6" fill="#ffffff" stroke="#0000ff" stroke-width="0.9"/><circle cx="235.7" cy="270.5" r="1.6" fill="#ffffff" stroke="#0000ff" stroke-width="0.9"/><circle cx="235.1" cy="270.6" r="1.6" fill="#ffffff" stroke="#0000ff" stroke-width="0.9"/><circle cx="234.6" cy="270.8" r="1.6" fill="#ffffff" stroke="#0000ff" stroke-width="0.9"/><circle cx="234.1" cy="270.9" r="1.6" fill="#ffffff" stroke="#0000ff" stroke-width="0.9"/><circle cx="233.6" cy="271.1" r="1.6" fill="#ffffff" stroke="#0000ff" stroke-width="0.9"/><circle cx="233.1" cy="271.2" r="1.6" fill="#ffffff" stroke="#0000ff" stroke-width="0.9"/><circle cx="232.6" cy="271.4" r="1.6" fill="#ffffff" stroke="#0000ff" stroke-width="0.9"/><circle cx="232.1" cy="271.5" r="1.6" fill="#ffffff" stroke="#0000ff" stroke-width="0.9"/><circle cx="231.6" cy="271.6" r="1.6" fill="#ffffff" stroke="#0000ff" stroke-width="0.9"/><circle cx="231.1" cy="271.8" r="1.6" fill="#ffffff" stroke="#0000ff" stroke-width="0.9"/><circle cx="230.5" cy="271.9" r="1.6" fill="#ffffff" stroke="#0000ff" stroke-width="0.9"/><circle cx="230.0" cy="272.0" r="1.6" fill="#ffffff" stroke="#0000ff" stroke-width="0.9"/><circle cx="229.5" cy="272.2" r="1.6" fill="#ffffff" stroke="#0000ff" stroke-width="0.9"/><circle cx="229.0" cy="272.3" r="1.6" fill="#ffffff" stroke="#0000ff" stroke-width="0.9"/><circle cx="228.5" cy="272.4" r="1.6" fill="#ffffff" stroke="#0000ff" stroke-width="0.9"/><circle cx="228.0" cy="272.6" r="1.6" fill="#ffffff" stroke="#0000ff" stroke-width="0.9"/><circle cx="227.5" cy="272.7" r="1.6" fill="#ffffff" stroke="#0000ff" stroke-width="0.9"/><circle cx="227.0" cy="272.8" r="1.6" fill="#ffffff" stroke="#0000ff" stroke-width="0.9"/><circle cx="226.5" cy="272.9" r="1.6" fill="#ffffff" stroke="#0000ff" stroke-width="0.9"/><circle cx="225.9" cy="273.1" r="1.6" fill="#ffffff" stroke="#0000ff" stroke-width="0.9"/><circle cx="225.4" cy="273.2" r="1.6" fill="#ffffff" stroke="#0000ff" stroke-width="0.9"/><circle cx="224.9" cy="273.3" r="1.6" fill="#ffffff" stroke="#0000ff" stroke-width="0.9"/><circle cx="224.4" cy="273.4" r="1.6" fill="#ffffff" stroke="#0000ff" stroke-width="0.9"/><circle cx="223.9" cy="273.6" r="1.6" fill="#ffffff" stroke="#0000ff" stroke-width="0.9"/><circle cx="223.4" cy="273.7" r="1.6" fill="#ffffff" stroke="#0000ff" stroke-width="0.9"/><circle cx="222.9" cy="273.8" r="1.6" fill="#ffffff" stroke="#0000ff" stroke-width="0.9"/><circle cx="222.4" cy="273.9" r="1.6" fill="#ffffff" stroke="#0000ff" stroke-width="0.9"/><circle cx="221.9" cy="274.1" r="1.6" fill="#ffffff" stroke="#0000ff" stroke-width="0.9"/><circle cx="221.3" cy="274.2" r="1.6" fill="#ffffff" stroke="#0000ff" stroke-width="0.9"/><circle cx="220.8" cy="274.3" r="1.6" fill="#ffffff" stroke="#0000ff" stroke-width="0.9"/><circle cx="220.3" cy="274.4" r="1.6" fill="#ffffff" stroke="#0000ff" stroke-width="0.9"/><circle cx="219.8" cy="274.6" r="1.6" fill="#ffffff" stroke="#0000ff" stroke-width="0.9"/><circle cx="219.3" cy="274.7" r="1.6" fill="#ffffff" stroke="#0000ff" stroke-width="0.9"/><circle cx="218.8" cy="274.8" r="1.6" fill="#ffffff" stroke="#0000ff" stroke-width="0.9"/><circle cx="218.3" cy="274.9" r="1.6" fill="#ffffff" stroke="#0000ff" stroke-width="0.9"/><circle cx="217.8" cy="275.0" r="1.6" fill="#ffffff" stroke="#0000ff" stroke-width="0.9"/><circle cx="217.3" cy="275.2" r="1.6" fill="#ffffff" stroke="#0000ff" stroke-width="0.9"/><circle cx="216.7" cy="275.3" r="1.6" fill="#ffffff" stroke="#0000ff" stroke-width="0.9"/><circle cx="216.2" cy="275.4" r="1.6" fill="#ffffff" stroke="#0000ff" stroke-width="0.9"/><circle cx="215.7" cy="275.5" r="1.6" fill="#ffffff" stroke="#0000ff" stroke-width="0.9"/><circle cx="215.2" cy="275.7" r="1.6" fill="#ffffff" stroke="#0000ff" stroke-width="0.9"/><circle cx="214.7" cy="275.8" r="1.6" fill="#ffffff" stroke="#0000ff" stroke-width="0.9"/><circle cx="214.2" cy="275.9" r="1.6" fill="#ffffff" stroke="#0000ff" stroke-width="0.9"/><circle cx="213.7" cy="276.1" r="1.6" fill="#ffffff" stroke="#0000ff" stroke-width="0.9"/><circle cx="213.2" cy="276.2" r="1.6" fill="#ffffff" stroke="#0000ff" stroke-width="0.9"/><circle cx="212.7" cy="276.3" r="1.6" fill="#ffffff" stroke="#0000ff" stroke-width="0.9"/><circle cx="212.1" cy="276.4" r="1.6" fill="#ffffff" stroke="#0000ff" stroke-width="0.9"/><circle cx="211.6" cy="276.6" r="1.6" fill="#ffffff" stroke="#0000ff" stroke-width="0.9"/><circle cx="211.1" cy="276.7" r="1.6" fill="#ffffff" stroke="#0000ff" stroke-width="0.9"/><circle cx="210.6" cy="276.8" r="1.6" fill="#ffffff" stroke="#0000ff" stroke-width="0.9"/><circle cx="210.1" cy="277.0" r="1.6" fill="#ffffff" stroke="#0000ff" stroke-width="0.9"/><circle cx="209.6" cy="277.1" r="1.6" fill="#ffffff" stroke="#0000ff" stroke-width="0.9"/><circle cx="209.1" cy="277.3" r="1.6" fill="#ffffff" stroke="#0000ff" stroke-width="0.9"/><circle cx="208.6" cy="277.4" r="1.6" fill="#ffffff" stroke="#0000ff" stroke-width="0.9"/><circle cx="208.1" cy="277.5" r="1.6" fill="#ffffff" stroke="#0000ff" stroke-width="0.9"/><circle cx="207.5" cy="277.7" r="1.6" fill="#ffffff" stroke="#0000ff" stroke-width="0.9"/><circle cx="207.0" cy="277.8" r="1.6" fill="#ffffff" stroke="#0000ff" stroke-width="0.9"/><circle cx="206.5" cy="278.0" r="1.6" fill="#ffffff" stroke="#0000ff" stroke-width="0.9"/><circle cx="206.0" cy="278.1" r="1.6" fill="#ffffff" stroke="#0000ff" stroke-width="0.9"/><circle cx="205.5" cy="278.3" r="1.6" fill="#ffffff" stroke="#0000ff" stroke-width="0.9"/><circle cx="205.0" cy="278.4" r="1.6" fill="#ffffff" stroke="#0000ff" stroke-width="0.9"/><circle cx="204.5" cy="278.6" r="1.6" fill="#ffffff" stroke="#0000ff" stroke-width="0.9"/><circle cx="204.0" cy="278.7" r="1.6" fill="#ffffff" stroke="#0000ff" stroke-width="0.9"/><circle cx="203.4" cy="278.9" r="1.6" fill="#ffffff" stroke="#0000ff" stroke-width="0.9"/><circle cx="202.9" cy="279.0" r="1.6" fill="#ffffff" stroke="#0000ff" stroke-width="0.9"/><circle cx="202.4" cy="279.2" r="1.6" fill="#ffffff" stroke="#0000ff" stroke-width="0.9"/><circle cx="201.9" cy="279.4" r="1.6" fill="#ffffff" stroke="#0000ff" stroke-width="0.9"/><circle cx="201.4" cy="279.5" r="1.6" fill="#ffffff" stroke="#0000ff" stroke-width="0.9"/><circle cx="200.9" cy="279.7" r="1.6" fill="#ffffff" stroke="#0000ff" stroke-width="0.9"/><circle cx="200.4" cy="279.9" r="1.6" fill="#ffffff" stroke="#0000ff" stroke-width="0.9"/><circle cx="199.9" cy="280.0" r="1.6" fill="#ffffff" stroke="#0000ff" stroke-width="0.9"/><circle cx="199.4" cy="280.2" r="1.6" fill="#ffffff" stroke="#0000ff" stroke-width="0.9"/><circle cx="198.8" cy="280.4" r="1.6" fill="#ffffff" stroke="#0000ff" stroke-width="0.9"/><circle cx="198.3" cy="280.6" r="1.6" fill="#ffffff" stroke="#0000ff" stroke-width="0.9"/><circle cx="197.8" cy="280.8" r="1.6" fill="#ffffff" stroke="#0000ff" stroke-width="0.9"/><circle cx="197.3" cy="281.0" r="1.6" fill="#ffffff" stroke="#0000ff" stroke-width="0.9"/><circle cx="196.8" cy="281.1" r="1.6" fill="#ffffff" stroke="#0000ff" stroke-width="0.9"/><circle cx="196.3" cy="281.3" r="1.6" fill="#ffffff" stroke="#0000ff" stroke-width="0.9"/><circle cx="195.8" cy="281.5" r="1.6" fill="#ffffff" stroke="#0000ff" stroke-width="0.9"/><circle cx="195.3" cy="281.7" r="1.6" fill="#ffffff" stroke="#0000ff" stroke-width="0.9"/><circle cx="194.8" cy="281.9" r="1.6" fill="#ffffff" stroke="#0000ff" stroke-width="0.9"/><circle cx="194.2" cy="282.1" r="1.6" fill="#ffffff" stroke="#0000ff" stroke-width="0.9"/><circle cx="193.7" cy="282.3" r="1.6" fill="#ffffff" stroke="#0000ff" stroke-width="0.9"/><circle cx="193.2" cy="282.6" r="1.6" fill="#ffffff" stroke="#0000ff" stroke-width="0.9"/><circle cx="192.7" cy="282.8" r="1.6" fill="#ffffff" stroke="#0000ff" stroke-width="0.9"/><circle cx="192.2" cy="283.0" r="1.6" fill="#ffffff" stroke="#0000ff" stroke-width="0.9"/><circle cx="191.7" cy="283.2" r="1.6" fill="#ffffff" stroke="#0000ff" stroke-width="0.9"/><circle cx="191.2" cy="283.4" r="1.6" fill="#ffffff" stroke="#0000ff" stroke-width="0.9"/><circle cx="190.7" cy="283.6" r="1.6" fill="#ffffff" stroke="#0000ff" stroke-width="0.9"/><circle cx="190.2" cy="283.8" r="1.6" fill="#ffffff" stroke="#0000ff" stroke-width="0.9"/><circle cx="189.6" cy="284.1" r="1.6" fill="#ffffff" stroke="#0000ff" stroke-width="0.9"/><circle cx="189.1" cy="284.3" r="1.6" fill="#ffffff" stroke="#0000ff" stroke-width="0.9"/><circle cx="188.6" cy="284.5" r="1.6" fill="#ffffff" stroke="#0000ff" stroke-width="0.9"/><circle cx="188.1" cy="284.7" r="1.6" fill="#ffffff" stroke="#0000ff" stroke-width="0.9"/><circle cx="187.6" cy="285.0" r="1.6" fill="#ffffff" stroke="#0000ff" stroke-width="0.9"/><circle cx="187.1" cy="285.2" r="1.6" fill="#ffffff" stroke="#0000ff" stroke-width="0.9"/><circle cx="186.6" cy="285.4" r="1.6" fill="#ffffff" stroke="#0000ff" stroke-width="0.9"/><circle cx="186.1" cy="285.7" r="1.6" fill="#ffffff" stroke="#0000ff" stroke-width="0.9"/><circle cx="185.6" cy="285.9" r="1.6" fill="#ffffff" stroke="#0000ff" stroke-width="0.9"/><circle cx="185.0" cy="286.1" r="1.6" fill="#ffffff" stroke="#0000ff" stroke-width="0.9"/><circle cx="184.5" cy="286.4" r="1.6" fill="#ffffff" stroke="#0000ff" stroke-width="0.9"/><circle cx="184.0" cy="286.6" r="1.6" fill="#ffffff" stroke="#0000ff" stroke-width="0.9"/><circle cx="183.5" cy="286.8" r="1.6" fill="#ffffff" stroke="#0000ff" stroke-width="0.9"/><circle cx="183.0" cy="287.1" r="1.6" fill="#ffffff" stroke="#0000ff" stroke-width="0.9"/><circle cx="182.5" cy="287.3" r="1.6" fill="#ffffff" stroke="#0000ff" stroke-width="0.9"/><circle cx="182.0" cy="287.5" r="1.6" fill="#ffffff" stroke="#0000ff" stroke-width="0.9"/><circle cx="181.5" cy="287.8" r="1.6" fill="#ffffff" stroke="#0000ff" stroke-width="0.9"/><circle cx="181.0" cy="288.0" r="1.6" fill="#ffffff" stroke="#0000ff" stroke-width="0.9"/><circle cx="180.4" cy="288.3" r="1.6" fill="#ffffff" stroke="#0000ff" stroke-width="0.9"/><circle cx="179.9" cy="288.5" r="1.6" fill="#ffffff" stroke="#0000ff" stroke-width="0.9"/><circle cx="179.4" cy="288.7" r="1.6" fill="#ffffff" stroke="#0000ff" stroke-width="0.9"/><circle cx="178.9" cy="289.0" r="1.6" fill="#ffffff" stroke="#0000ff" stroke-width="0.9"/><circle cx="178.4" cy="289.2" r="1.6" fill="#ffffff" stroke="#0000ff" stroke-width="0.9"/><circle cx="177.9" cy="289.5" r="1.6" fill="#ffffff" stroke="#0000ff" stroke-width="0.9"/><circle cx="177.4" cy="289.7" r="1.6" fill="#ffffff" stroke="#0000ff" stroke-width="0.9"/><circle cx="176.9" cy="289.9" r="1.6" fill="#ffffff" stroke="#0000ff" stroke-width="0.9"/><circle cx="176.4" cy="290.2" r="1.6" fill="#ffffff" stroke="#0000ff" stroke-width="0.9"/><circle cx="175.8" cy="290.4" r="1.6" fill="#ffffff" stroke="#0000ff" stroke-width="0.9"/><circle cx="175.3" cy="290.6" r="1.6" fill="#ffffff" stroke="#0000ff" stroke-width="0.9"/><circle cx="174.8" cy="290.9" r="1.6" fill="#ffffff" stroke="#0000ff" stroke-width="0.9"/><circle cx="174.3" cy="291.1" r="1.6" fill="#ffffff" stroke="#0000ff" stroke-width="0.9"/><circle cx="173.8" cy="291.3" r="1.6" fill="#ffffff" stroke="#0000ff" stroke-width="0.9"/><circle cx="173.3" cy="291.6" r="1.6" fill="#ffffff" stroke="#0000ff" stroke-width="0.9"/><circle cx="172.8" cy="291.8" r="1.6" fill="#ffffff" stroke="#0000ff" stroke-width="0.9"/><circle cx="172.3" cy="292.0" r="1.6" fill="#ffffff" stroke="#0000ff" stroke-width="0.9"/><circle cx="171.7" cy="292.3" r="1.6" fill="#ffffff" stroke="#0000ff" stroke-width="0.9"/><circle cx="171.2" cy="292.5" r="1.6" fill="#ffffff" stroke="#0000ff" stroke-width="0.9"/><circle cx="170.7" cy="292.8" r="1.6" fill="#ffffff" stroke="#0000ff" stroke-width="0.9"/><circle cx="170.2" cy="293.0" r="1.6" fill="#ffffff" stroke="#0000ff" stroke-width="0.9"/><circle cx="169.7" cy="293.3" r="1.6" fill="#ffffff" stroke="#0000ff" stroke-width="0.9"/><circle cx="169.2" cy="293.5" r="1.6" fill="#ffffff" stroke="#0000ff" stroke-width="0.9"/><circle cx="168.7" cy="293.8" r="1.6" fill="#ffffff" stroke="#0000ff" stroke-width="0.9"/><circle cx="168.2" cy="294.0" r="1.6" fill="#ffffff" stroke="#0000ff" stroke-width="0.9"/><circle cx="167.7" cy="294.3" r="1.6" fill="#ffffff" stroke="#0000ff" stroke-width="0.9"/><circle cx="167.1" cy="294.6" r="1.6" fill="#ffffff" stroke="#0000ff" stroke-width="0.9"/><circle cx="166.6" cy="294.8" r="1.6" fill="#ffffff" stroke="#0000ff" stroke-width="0.9"/><circle cx="166.1" cy="295.1" r="1.6" fill="#ffffff" stroke="#0000ff" stroke-width="0.9"/><circle cx="165.6" cy="295.4" r="1.6" fill="#ffffff" stroke="#0000ff" stroke-width="0.9"/><circle cx="165.1" cy="295.6" r="1.6" fill="#ffffff" stroke="#0000ff" stroke-width="0.9"/><circle cx="164.6" cy="295.9" r="1.6" fill="#ffffff" stroke="#0000ff" stroke-width="0.9"/><circle cx="164.1" cy="296.2" r="1.6" fill="#ffffff" stroke="#0000ff" stroke-width="0.9"/><circle cx="163.6" cy="296.4" r="1.6" fill="#ffffff" stroke="#0000ff" stroke-width="0.9"/><circle cx="163.1" cy="296.7" r="1.6" fill="#ffffff" stroke="#0000ff" stroke-width="0.9"/><circle cx="162.5" cy="296.9" r="1.6" fill="#ffffff" stroke="#0000ff" stroke-width="0.9"/><circle cx="162.0" cy="297.2" r="1.6" fill="#ffffff" stroke="#0000ff" stroke-width="0.9"/><circle cx="161.5" cy="297.5" r="1.6" fill="#ffffff" stroke="#0000ff" stroke-width="0.9"/><circle cx="161.0" cy="297.7" r="1.6" fill="#ffffff" stroke="#0000ff" stroke-width="0.9"/><circle cx="160.5" cy="298.0" r="1.6" fill="#ffffff" stroke="#0000ff" stroke-width="0.9"/><circle cx="160.0" cy="298.2" r="1.6" fill="#ffffff" stroke="#0000ff" stroke-width="0.9"/><circle cx="159.5" cy="298.5" r="1.6" fill="#ffffff" stroke="#0000ff" stroke-width="0.9"/><circle cx="159.0" cy="298.8" r="1.6" fill="#ffffff" stroke="#0000ff" stroke-width="0.9"/><circle cx="158.5" cy="299.0" r="1.6" fill="#ffffff" stroke="#0000ff" stroke-width="0.9"/><circle cx="157.9" cy="299.3" r="1.6" fill="#ffffff" stroke="#0000ff" stroke-width="0.9"/><circle cx="157.4" cy="299.6" r="1.6" fill="#ffffff" stroke="#0000ff" stroke-width="0.9"/><circle cx="156.9" cy="299.8" r="1.6" fill="#ffffff" stroke="#0000ff" stroke-width="0.9"/><circle cx="156.4" cy="300.1" r="1.6" fill="#ffffff" stroke="#0000ff" stroke-width="0.9"/><circle cx="155.9" cy="300.4" r="1.6" fill="#ffffff" stroke="#0000ff" stroke-width="0.9"/><circle cx="155.4" cy="300.6" r="1.6" fill="#ffffff" stroke="#0000ff" stroke-width="0.9"/><circle cx="154.9" cy="300.9" r="1.6" fill="#ffffff" stroke="#0000ff" stroke-width="0.9"/><circle cx="154.4" cy="301.2" r="1.6" fill="#ffffff" stroke="#0000ff" stroke-width="0.9"/><circle cx="153.9" cy="301.4" r="1.6" fill="#ffffff" stroke="#0000ff" stroke-width="0.9"/><circle cx="153.3" cy="301.7" r="1.6" fill="#ffffff" stroke="#0000ff" stroke-width="0.9"/><circle cx="152.8" cy="302.0" r="1.6" fill="#ffffff" stroke="#0000ff" stroke-width="0.9"/><circle cx="152.3" cy="302.3" r="1.6" fill="#ffffff" stroke="#0000ff" stroke-width="0.9"/><circle cx="151.8" cy="302.6" r="1.6" fill="#ffffff" stroke="#0000ff" stroke-width="0.9"/><circle cx="151.3" cy="302.9" r="1.6" fill="#ffffff" stroke="#0000ff" stroke-width="0.9"/><circle cx="150.8" cy="303.1" r="1.6" fill="#ffffff" stroke="#0000ff" stroke-width="0.9"/><circle cx="150.3" cy="303.4" r="1.6" fill="#ffffff" stroke="#0000ff" stroke-width="0.9"/><circle cx="149.8" cy="303.7" r="1.6" fill="#ffffff" stroke="#0000ff" stroke-width="0.9"/><circle cx="149.3" cy="304.0" r="1.6" fill="#ffffff" stroke="#0000ff" stroke-width="0.9"/><circle cx="148.7" cy="304.3" r="1.6" fill="#ffffff" stroke="#0000ff" stroke-width="0.9"/><circle cx="148.2" cy="304.6" r="1.6" fill="#ffffff" stroke="#0000ff" stroke-width="0.9"/><circle cx="147.7" cy="304.8" r="1.6" fill="#ffffff" stroke="#0000ff" stroke-width="0.9"/><circle cx="147.2" cy="305.1" r="1.6" fill="#ffffff" stroke="#0000ff" stroke-width="0.9"/><circle cx="146.7" cy="305.5" r="1.6" fill="#ffffff" stroke="#0000ff" stroke-width="0.9"/><circle cx="146.2" cy="305.8" r="1.6" fill="#ffffff" stroke="#0000ff" stroke-width="0.9"/><circle cx="145.7" cy="306.1" r="1.6" fill="#ffffff" stroke="#0000ff" stroke-width="0.9"/><circle cx="145.2" cy="306.4" r="1.6" fill="#ffffff" stroke="#0000ff" stroke-width="0.9"/><circle cx="144.7" cy="306.8" r="1.6" fill="#ffffff" stroke="#0000ff" stroke-width="0.9"/><circle cx="144.1" cy="307.2" r="1.6" fill="#ffffff" stroke="#0000ff" stroke-width="0.9"/><circle cx="143.6" cy="307.5" r="1.6" fill="#ffffff" stroke="#0000ff" stroke-width="0.9"/><circle cx="143.1" cy="307.9" r="1.6" fill="#ffffff" stroke="#0000ff" stroke-width="0.9"/><circle cx="142.6" cy="308.4" r="1.6" fill="#ffffff" stroke="#0000ff" stroke-width="0.9"/><circle cx="142.1" cy="308.8" r="1.6" fill="#ffffff" stroke="#0000ff" stroke-width="0.9"/><circle cx="141.6" cy="309.3" r="1.6" fill="#ffffff" stroke="#0000ff" stroke-width="0.9"/><circle cx="141.1" cy="309.9" r="1.6" fill="#ffffff" stroke="#0000ff" stroke-width="0.9"/><circle cx="140.6" cy="310.4" r="1.6" fill="#ffffff" stroke="#0000ff" stroke-width="0.9"/><circle cx="140.0" cy="311.0" r="1.6" fill="#ffffff" stroke="#0000ff" stroke-width="0.9"/><circle cx="139.5" cy="311.6" r="1.6" fill="#ffffff" stroke="#0000ff" stroke-width="0.9"/><circle cx="139.0" cy="312.3" r="1.6" fill="#ffffff" stroke="#0000ff" stroke-width="0.9"/><circle cx="138.5" cy="312.9" r="1.6" fill="#ffffff" stroke="#0000ff" stroke-width="0.9"/><circle cx="138.0" cy="313.5" r="1.6" fill="#ffffff" stroke="#0000ff" stroke-width="0.9"/><circle cx="137.5" cy="314.2" r="1.6" fill="#ffffff" stroke="#0000ff" stroke-width="0.9"/><circle cx="137.0" cy="314.8" r="1.6" fill="#ffffff" stroke="#0000ff" stroke-width="0.9"/><circle cx="136.5" cy="315.4" r="1.6" fill="#ffffff" stroke="#0000ff" stroke-width="0.9"/><circle cx="136.0" cy="316.0" r="1.6" fill="#ffffff" stroke="#0000ff" stroke-width="0.9"/><circle cx="135.4" cy="316.6" r="1.6" fill="#ffffff" stroke="#0000ff" stroke-width="0.9"/><circle cx="134.9" cy="317.2" r="1.6" fill="#ffffff" stroke="#0000ff" stroke-width="0.9"/><circle cx="134.4" cy="317.8" r="1.6" fill="#ffffff" stroke="#0000ff" stroke-width="0.9"/><circle cx="133.9" cy="318.4" r="1.6" fill="#ffffff" stroke="#0000ff" stroke-width="0.9"/><circle cx="133.4" cy="319.1" r="1.6" fill="#ffffff" stroke="#0000ff" stroke-width="0.9"/><circle cx="132.9" cy="319.8" r="1.6" fill="#ffffff" stroke="#0000ff" stroke-width="0.9"/><circle cx="132.4" cy="320.7" r="1.6" fill="#ffffff" stroke="#0000ff" stroke-width="0.9"/><circle cx="131.9" cy="321.6" r="1.6" fill="#ffffff" stroke="#0000ff" stroke-width="0.9"/><circle cx="131.4" cy="322.5" r="1.6" fill="#ffffff" stroke="#0000ff" stroke-width="0.9"/><circle cx="130.8" cy="323.5" r="1.6" fill="#ffffff" stroke="#0000ff" stroke-width="0.9"/><circle cx="130.3" cy="324.5" r="1.6" fill="#ffffff" stroke="#0000ff" stroke-width="0.9"/><circle cx="129.8" cy="325.4" r="1.6" fill="#ffffff" stroke="#0000ff" stroke-width="0.9"/><circle cx="129.3" cy="326.5" r="1.6" fill="#ffffff" stroke="#0000ff" stroke-width="0.9"/><circle cx="128.8" cy="327.6" r="1.6" fill="#ffffff" stroke="#0000ff" stroke-width="0.9"/><circle cx="128.3" cy="328.8" r="1.6" fill="#ffffff" stroke="#0000ff" stroke-width="0.9"/><circle cx="127.8" cy="330.2" r="1.6" fill="#ffffff" stroke="#0000ff" stroke-width="0.9"/><circle cx="127.3" cy="331.7" r="1.6" fill="#ffffff" stroke="#0000ff" stroke-width="0.9"/><circle cx="126.8" cy="333.4" r="1.6" fill="#ffffff" stroke="#0000ff" stroke-width="0.9"/><circle cx="126.2" cy="335.4" r="1.6" fill="#ffffff" stroke="#0000ff" stroke-width="0.9"/><circle cx="125.7" cy="337.9" r="1.6" fill="#ffffff" stroke="#0000ff" stroke-width="0.9"/><circle cx="125.2" cy="342.9" r="1.6" fill="#ffffff" stroke="#0000ff" stroke-width="0.9"/><circle cx="124.7" cy="353.3" r="1.6" fill="#ffffff" stroke="#0000ff" stroke-width="0.9"/><circle cx="124.2" cy="381.4" r="1.6" fill="#ffffff" stroke="#0000ff" stroke-width="0.9"/></g>
<polyline points="255.6,264.5 255.1,264.6 254.6,264.8 254.1,264.9 253.6,265.1 253.0,265.2 252.5,265.4 252.0,265.5 251.5,265.7 251.0,265.9 250.5,266.0 250.0,266.2 249.5,266.3 249.0,266.5 248.4,266.6 247.9,266.8 247.4,267.0 246.9,267.1 246.4,267.3 245.9,267.4 245.4,267.6 244.9,267.7 244.4,267.9 243.8,268.1 243.3,268.2 242.8,268.4 242.3,268.5 241.8,268.7 241.3,268.8 240.8,269.0 240.3,269.1 239.8,269.3 239.2,269.4 238.7,269.6 238.2,269.7 237.7,269.9 237.2,270.0 236.7,270.2 236.2,270.3 235.7,270.5 235.1,270.6 234.6,270.8 234.1,270.9 233.6,271.1 233.1,271.2 232.6,271.4 232.1,271.5 231.6,271.6 231.1,271.8 230.5,271.9 230.0,272.0 229.5,272.2 229.0,272.3 228.5,272.4 228.0,272.6 227.5,272.7 227.0,272.8 226.5,272.9 225.9,273.1 225.4,273.2 224.9,273.3 224.4,273.4 223.9,273.6 223.4,273.7 222.9,273.8 222.4,273.9 221.9,274.1 221.3,274.2 220.8,274.3 220.3,274.4 219.8,274.6 219.3,274.7 218.8,274.8 218.3,274.9 217.8,275.0 217.3,275.2 216.7,275.3 216.2,275.4 215.7,275.5 215.2,275.7 214.7,275.8 214.2,275.9 213.7,276.1 213.2,276.2 212.7,276.3 212.1,276.4 211.6,276.6 211.1,276.7 210.6,276.8 210.1,277.0 209.6,277.1 209.1,277.3 208.6,277.4 208.1,277.5 207.5,277.7 207.0,277.8 206.5,278.0 206.0,278.1 205.5,278.3 205.0,278.4 204.5,278.6 204.0,278.7 203.4,278.9 202.9,279.0 202.4,279.2 201.9,279.4 201.4,279.5 200.9,279.7 200.4,279.9 199.9,280.0 199.4,280.2 198.8,280.4 198.3,280.6 197.8,280.8 197.3,281.0 196.8,281.1 196.3,281.3 195.8,281.5 195.3,281.7 194.8,281.9 194.2,282.1 193.7,282.3 193.2,282.6 192.7,282.8 192.2,283.0 191.7,283.2 191.2,283.4 190.7,283.6 190.2,283.8 189.6,284.1 189.1,284.3 188.6,284.5 188.1,284.7 187.6,285.0 187.1,285.2 186.6,285.4 186.1,285.7 185.6,285.9 185.0,286.1 184.5,286.4 184.0,286.6 183.5,286.8 183.0,287.1 182.5,287.3 182.0,287.5 181.5,287.8 181.0,288.0 180.4,288.3 179.9,288.5 179.4,288.7 178.9,289.0 178.4,289.2 177.9,289.5 177.4,289.7 176.9,289.9 176.4,290.2 175.8,290.4 175.3,290.6 174.8,290.9 174.3,291.1 173.8,291.3 173.3,291.6 172.8,291.8 172.3,292.0 171.7,292.3 171.2,292.5 170.7,292.8 170.2,293.0 169.7,293.3 169.2,293.5 168.7,293.8 168.2,294.0 167.7,294.3 167.1,294.6 166.6,294.8 166.1,295.1 165.6,295.4 165.1,295.6 164.6,295.9 164.1,296.2 163.6,296.4 163.1,296.7 162.5,296.9 162.0,297.2 161.5,297.5 161.0,297.7 160.5,298.0 160.0,298.2 159.5,298.5 159.0,298.8 158.5,299.0 157.9,299.3 157.4,299.6 156.9,299.8 156.4,300.1 155.9,300.4 155.4,300.6 154.9,300.9 154.4,301.2 153.9,301.4 153.3,301.7 152.8,302.0 152.3,302.3 151.8,302.6 151.3,302.9 150.8,303.1 150.3,303.4 149.8,303.7 149.3,304.0 148.7,304.3 148.2,304.6 147.7,304.8 147.2,305.1 146.7,305.5 146.2,305.8 145.7,306.1 145.2,306.4 144.7,306.8 144.1,307.2 143.6,307.5 143.1,307.9 142.6,308.4 142.1,308.8 141.6,309.3 141.1,309.9 140.6,310.4 140.0,311.0 139.5,311.6 139.0,312.3 138.5,312.9 138.0,313.5 137.5,314.2 137.0,314.8 136.5,315.4 136.0,316.0 135.4,316.6 134.9,317.2 134.4,317.8 133.9,318.4 133.4,319.1 132.9,319.8 132.4,320.7 131.9,321.6 131.4,322.5 130.8,323.5 130.3,324.5 129.8,325.4 129.3,326.5 128.8,327.6 128.3,328.8 127.8,330.2 127.3,331.7 126.8,333.4 126.2,335.4 125.7,337.9" fill="none" stroke="#0000ff" stroke-width="4.0" stroke-linejoin="round" stroke-linecap="round"/>
<polyline points="124.2,328.6 124.4,314.6 124.6,300.2 124.9,289.2 125.1,284.4 125.4,281.1 125.7,279.6 126.0,278.8 126.2,278.0 126.8,275.9 127.4,274.3 127.9,272.5 128.4,270.7 128.9,269.3 129.5,268.1 130.0,266.7 130.5,265.5 131.1,264.8 131.5,264.4 132.1,263.9" fill="none" stroke="#0000ff" stroke-width="0.8"/>
<g><circle cx="124.2" cy="328.6" r="1.6" fill="#ffffff" stroke="#0000ff" stroke-width="0.9"/><circle cx="124.4" cy="314.6" r="1.6" fill="#ffffff" stroke="#0000ff" stroke-width="0.9"/><circle cx="124.6" cy="300.2" r="1.6" fill="#ffffff" stroke="#0000ff" stroke-width="0.9"/><circle cx="124.9" cy="289.2" r="1.6" fill="#ffffff" stroke="#0000ff" stroke-width="0.9"/><circle cx="125.1" cy="284.4" r="1.6" fill="#ffffff" stroke="#0000ff" stroke-width="0.9"/><circle cx="125.4" cy="281.1" r="1.6" fill="#ffffff" stroke="#0000ff" stroke-width="0.9"/><circle cx="125.7" cy="279.6" r="1.6" fill="#ffffff" stroke="#0000ff" stroke-width="0.9"/><circle cx="126.0" cy="278.8" r="1.6" fill="#ffffff" stroke="#0000ff" stroke-width="0.9"/><circle cx="126.2" cy="278.0" r="1.6" fill="#ffffff" stroke="#0000ff" stroke-width="0.9"/><circle cx="126.8" cy="275.9" r="1.6" fill="#ffffff" stroke="#0000ff" stroke-width="0.9"/><circle cx="127.4" cy="274.3" r="1.6" fill="#ffffff" stroke="#0000ff" stroke-width="0.9"/><circle cx="127.9" cy="272.5" r="1.6" fill="#ffffff" stroke="#0000ff" stroke-width="0.9"/><circle cx="128.4" cy="270.7" r="1.6" fill="#ffffff" stroke="#0000ff" stroke-width="0.9"/><circle cx="128.9" cy="269.3" r="1.6" fill="#ffffff" stroke="#0000ff" stroke-width="0.9"/><circle cx="129.5" cy="268.1" r="1.6" fill="#ffffff" stroke="#0000ff" stroke-width="0.9"/><circle cx="130.0" cy="266.7" r="1.6" fill="#ffffff" stroke="#0000ff" stroke-width="0.9"/><circle cx="130.5" cy="265.5" r="1.6" fill="#ffffff" stroke="#0000ff" stroke-width="0.9"/><circle cx="131.1" cy="264.8" r="1.6" fill="#ffffff" stroke="#0000ff" stroke-width="0.9"/><circle cx="131.5" cy="264.4" r="1.6" fill="#ffffff" stroke="#0000ff" stroke-width="0.9"/><circle cx="132.1" cy="263.9" r="1.6" fill="#ffffff" stroke="#0000ff" stroke-width="0.9"/></g>
<rect x="194.3" y="352.3" width="74.2" height="41.7" fill="#fff" stroke="#555" stroke-width="0.8"/>
<line x1="198.4" y1="359.6" x2="218.5" y2="359.6" stroke="#000" stroke-width="0.9"/>
<circle cx="208.4" cy="359.6" r="2.0" fill="#000" stroke="#000" stroke-width="0.5"/>
<text x="221.0" y="362.70000000000005" font-family="'Liberation Sans', sans-serif" font-size="8.9" fill="#111">Al<tspan font-size="5.52" dy="2.5">2</tspan><tspan dy="-2.5">O</tspan><tspan font-size="5.52" dy="2.5">3</tspan><tspan dy="-2.5"> 5nm</tspan></text>
<line x1="198.4" y1="373.35" x2="218.5" y2="373.35" stroke="#ff0000" stroke-width="0.9"/>
<polygon points="208.4,370.8 209.1,372.4 210.9,372.5 209.5,373.7 209.9,375.5 208.4,374.5 206.9,375.5 207.3,373.7 205.9,372.5 207.7,372.4" fill="#ff0000"/>
<text x="221.0" y="376.45000000000005" font-family="'Liberation Sans', sans-serif" font-size="8.9" fill="#111">Al<tspan font-size="5.52" dy="2.5">2</tspan><tspan dy="-2.5">O</tspan><tspan font-size="5.52" dy="2.5">3</tspan><tspan dy="-2.5"> 10nm</tspan></text>
<line x1="198.4" y1="387.1" x2="218.5" y2="387.1" stroke="#0000ff" stroke-width="0.9"/>
<polygon points="208.4,384.8 210.7,387.1 208.4,389.4 206.1,387.1" fill="#0000ff"/>
<text x="221.0" y="390.20000000000005" font-family="'Liberation Sans', sans-serif" font-size="8.9" fill="#111">Al<tspan font-size="5.52" dy="2.5">2</tspan><tspan dy="-2.5">O</tspan><tspan font-size="5.52" dy="2.5">3</tspan><tspan dy="-2.5"> 15nm</tspan></text>
<text x="279.8" y="229.6" font-family="'Liberation Serif', serif" font-weight="bold" font-size="25.5">d</text>
<line x1="312.20" y1="398.20" x2="315.4" y2="398.20" stroke="#3a3a3a" stroke-width="1"/>
<line x1="313.60" y1="392.97" x2="315.4" y2="392.97" stroke="#3a3a3a" stroke-width="0.7"/>
<line x1="313.60" y1="389.91" x2="315.4" y2="389.91" stroke="#3a3a3a" stroke-width="0.7"/>
<line x1="313.60" y1="387.74" x2="315.4" y2="387.74" stroke="#3a3a3a" stroke-width="0.7"/>
<line x1="313.60" y1="386.05" x2="315.4" y2="386.05" stroke="#3a3a3a" stroke-width="0.7"/>
<line x1="313.60" y1="384.68" x2="315.4" y2="384.68" stroke="#3a3a3a" stroke-width="0.7"/>
<line x1="313.60" y1="383.51" x2="315.4" y2="383.51" stroke="#3a3a3a" stroke-width="0.7"/>
<line x1="313.60" y1="382.50" x2="315.4" y2="382.50" stroke="#3a3a3a" stroke-width="0.7"/>
<line x1="313.60" y1="381.62" x2="315.4" y2="381.62" stroke="#3a3a3a" stroke-width="0.7"/>
<line x1="312.20" y1="380.82" x2="315.4" y2="380.82" stroke="#3a3a3a" stroke-width="1"/>
<line x1="313.60" y1="375.59" x2="315.4" y2="375.59" stroke="#3a3a3a" stroke-width="0.7"/>
<line x1="313.60" y1="372.53" x2="315.4" y2="372.53" stroke="#3a3a3a" stroke-width="0.7"/>
<line x1="313.60" y1="370.36" x2="315.4" y2="370.36" stroke="#3a3a3a" stroke-width="0.7"/>
<line x1="313.60" y1="368.67" x2="315.4" y2="368.67" stroke="#3a3a3a" stroke-width="0.7"/>
<line x1="313.60" y1="367.30" x2="315.4" y2="367.30" stroke="#3a3a3a" stroke-width="0.7"/>
<line x1="313.60" y1="366.13" x2="315.4" y2="366.13" stroke="#3a3a3a" stroke-width="0.7"/>
<line x1="313.60" y1="365.12" x2="315.4" y2="365.12" stroke="#3a3a3a" stroke-width="0.7"/>
<line x1="313.60" y1="364.24" x2="315.4" y2="364.24" stroke="#3a3a3a" stroke-width="0.7"/>
<line x1="312.20" y1="363.44" x2="315.4" y2="363.44" stroke="#3a3a3a" stroke-width="1"/>
<line x1="313.60" y1="358.21" x2="315.4" y2="358.21" stroke="#3a3a3a" stroke-width="0.7"/>
<line x1="313.60" y1="355.15" x2="315.4" y2="355.15" stroke="#3a3a3a" stroke-width="0.7"/>
<line x1="313.60" y1="352.98" x2="315.4" y2="352.98" stroke="#3a3a3a" stroke-width="0.7"/>
<line x1="313.60" y1="351.29" x2="315.4" y2="351.29" stroke="#3a3a3a" stroke-width="0.7"/>
<line x1="313.60" y1="349.92" x2="315.4" y2="349.92" stroke="#3a3a3a" stroke-width="0.7"/>
<line x1="313.60" y1="348.75" x2="315.4" y2="348.75" stroke="#3a3a3a" stroke-width="0.7"/>
<line x1="313.60" y1="347.74" x2="315.4" y2="347.74" stroke="#3a3a3a" stroke-width="0.7"/>
<line x1="313.60" y1="346.86" x2="315.4" y2="346.86" stroke="#3a3a3a" stroke-width="0.7"/>
<line x1="312.20" y1="346.06" x2="315.4" y2="346.06" stroke="#3a3a3a" stroke-width="1"/>
<line x1="313.60" y1="340.83" x2="315.4" y2="340.83" stroke="#3a3a3a" stroke-width="0.7"/>
<line x1="313.60" y1="337.77" x2="315.4" y2="337.77" stroke="#3a3a3a" stroke-width="0.7"/>
<line x1="313.60" y1="335.60" x2="315.4" y2="335.60" stroke="#3a3a3a" stroke-width="0.7"/>
<line x1="313.60" y1="333.91" x2="315.4" y2="333.91" stroke="#3a3a3a" stroke-width="0.7"/>
<line x1="313.60" y1="332.54" x2="315.4" y2="332.54" stroke="#3a3a3a" stroke-width="0.7"/>
<line x1="313.60" y1="331.37" x2="315.4" y2="331.37" stroke="#3a3a3a" stroke-width="0.7"/>
<line x1="313.60" y1="330.36" x2="315.4" y2="330.36" stroke="#3a3a3a" stroke-width="0.7"/>
<line x1="313.60" y1="329.48" x2="315.4" y2="329.48" stroke="#3a3a3a" stroke-width="0.7"/>
<line x1="312.20" y1="328.68" x2="315.4" y2="328.68" stroke="#3a3a3a" stroke-width="1"/>
<line x1="313.60" y1="323.45" x2="315.4" y2="323.45" stroke="#3a3a3a" stroke-width="0.7"/>
<line x1="313.60" y1="320.39" x2="315.4" y2="320.39" stroke="#3a3a3a" stroke-width="0.7"/>
<line x1="313.60" y1="318.22" x2="315.4" y2="318.22" stroke="#3a3a3a" stroke-width="0.7"/>
<line x1="313.60" y1="316.53" x2="315.4" y2="316.53" stroke="#3a3a3a" stroke-width="0.7"/>
<line x1="313.60" y1="315.16" x2="315.4" y2="315.16" stroke="#3a3a3a" stroke-width="0.7"/>
<line x1="313.60" y1="313.99" x2="315.4" y2="313.99" stroke="#3a3a3a" stroke-width="0.7"/>
<line x1="313.60" y1="312.98" x2="315.4" y2="312.98" stroke="#3a3a3a" stroke-width="0.7"/>
<line x1="313.60" y1="312.10" x2="315.4" y2="312.10" stroke="#3a3a3a" stroke-width="0.7"/>
<line x1="312.20" y1="311.30" x2="315.4" y2="311.30" stroke="#3a3a3a" stroke-width="1"/>
<line x1="313.60" y1="306.07" x2="315.4" y2="306.07" stroke="#3a3a3a" stroke-width="0.7"/>
<line x1="313.60" y1="303.01" x2="315.4" y2="303.01" stroke="#3a3a3a" stroke-width="0.7"/>
<line x1="313.60" y1="300.84" x2="315.4" y2="300.84" stroke="#3a3a3a" stroke-width="0.7"/>
<line x1="313.60" y1="299.15" x2="315.4" y2="299.15" stroke="#3a3a3a" stroke-width="0.7"/>
<line x1="313.60" y1="297.78" x2="315.4" y2="297.78" stroke="#3a3a3a" stroke-width="0.7"/>
<line x1="313.60" y1="296.61" x2="315.4" y2="296.61" stroke="#3a3a3a" stroke-width="0.7"/>
<line x1="313.60" y1="295.60" x2="315.4" y2="295.60" stroke="#3a3a3a" stroke-width="0.7"/>
<line x1="313.60" y1="294.72" x2="315.4" y2="294.72" stroke="#3a3a3a" stroke-width="0.7"/>
<line x1="312.20" y1="293.92" x2="315.4" y2="293.92" stroke="#3a3a3a" stroke-width="1"/>
<line x1="313.60" y1="288.69" x2="315.4" y2="288.69" stroke="#3a3a3a" stroke-width="0.7"/>
<line x1="313.60" y1="285.63" x2="315.4" y2="285.63" stroke="#3a3a3a" stroke-width="0.7"/>
<line x1="313.60" y1="283.46" x2="315.4" y2="283.46" stroke="#3a3a3a" stroke-width="0.7"/>
<line x1="313.60" y1="281.77" x2="315.4" y2="281.77" stroke="#3a3a3a" stroke-width="0.7"/>
<line x1="313.60" y1="280.40" x2="315.4" y2="280.40" stroke="#3a3a3a" stroke-width="0.7"/>
<line x1="313.60" y1="279.23" x2="315.4" y2="279.23" stroke="#3a3a3a" stroke-width="0.7"/>
<line x1="313.60" y1="278.22" x2="315.4" y2="278.22" stroke="#3a3a3a" stroke-width="0.7"/>
<line x1="313.60" y1="277.34" x2="315.4" y2="277.34" stroke="#3a3a3a" stroke-width="0.7"/>
<line x1="312.20" y1="276.54" x2="315.4" y2="276.54" stroke="#3a3a3a" stroke-width="1"/>
<line x1="313.60" y1="271.31" x2="315.4" y2="271.31" stroke="#3a3a3a" stroke-width="0.7"/>
<line x1="313.60" y1="268.25" x2="315.4" y2="268.25" stroke="#3a3a3a" stroke-width="0.7"/>
<line x1="313.60" y1="266.08" x2="315.4" y2="266.08" stroke="#3a3a3a" stroke-width="0.7"/>
<line x1="313.60" y1="264.39" x2="315.4" y2="264.39" stroke="#3a3a3a" stroke-width="0.7"/>
<line x1="313.60" y1="263.02" x2="315.4" y2="263.02" stroke="#3a3a3a" stroke-width="0.7"/>
<line x1="313.60" y1="261.85" x2="315.4" y2="261.85" stroke="#3a3a3a" stroke-width="0.7"/>
<line x1="313.60" y1="260.84" x2="315.4" y2="260.84" stroke="#3a3a3a" stroke-width="0.7"/>
<line x1="313.60" y1="259.96" x2="315.4" y2="259.96" stroke="#3a3a3a" stroke-width="0.7"/>
<line x1="312.20" y1="259.16" x2="315.4" y2="259.16" stroke="#3a3a3a" stroke-width="1"/>
<line x1="313.60" y1="253.93" x2="315.4" y2="253.93" stroke="#3a3a3a" stroke-width="0.7"/>
<line x1="313.60" y1="250.87" x2="315.4" y2="250.87" stroke="#3a3a3a" stroke-width="0.7"/>
<line x1="313.60" y1="248.70" x2="315.4" y2="248.70" stroke="#3a3a3a" stroke-width="0.7"/>
<line x1="313.60" y1="247.01" x2="315.4" y2="247.01" stroke="#3a3a3a" stroke-width="0.7"/>
<line x1="313.60" y1="245.64" x2="315.4" y2="245.64" stroke="#3a3a3a" stroke-width="0.7"/>
<line x1="313.60" y1="244.47" x2="315.4" y2="244.47" stroke="#3a3a3a" stroke-width="0.7"/>
<line x1="313.60" y1="243.46" x2="315.4" y2="243.46" stroke="#3a3a3a" stroke-width="0.7"/>
<line x1="313.60" y1="242.58" x2="315.4" y2="242.58" stroke="#3a3a3a" stroke-width="0.7"/>
<line x1="312.20" y1="241.78" x2="315.4" y2="241.78" stroke="#3a3a3a" stroke-width="1"/>
<line x1="313.60" y1="236.55" x2="315.4" y2="236.55" stroke="#3a3a3a" stroke-width="0.7"/>
<line x1="313.60" y1="233.49" x2="315.4" y2="233.49" stroke="#3a3a3a" stroke-width="0.7"/>
<line x1="313.60" y1="231.32" x2="315.4" y2="231.32" stroke="#3a3a3a" stroke-width="0.7"/>
<line x1="313.60" y1="229.63" x2="315.4" y2="229.63" stroke="#3a3a3a" stroke-width="0.7"/>
<line x1="313.60" y1="228.26" x2="315.4" y2="228.26" stroke="#3a3a3a" stroke-width="0.7"/>
<line x1="313.60" y1="227.09" x2="315.4" y2="227.09" stroke="#3a3a3a" stroke-width="0.7"/>
<line x1="313.60" y1="226.08" x2="315.4" y2="226.08" stroke="#3a3a3a" stroke-width="0.7"/>
<line x1="313.60" y1="225.20" x2="315.4" y2="225.20" stroke="#3a3a3a" stroke-width="0.7"/>
<line x1="312.20" y1="224.40" x2="315.4" y2="224.40" stroke="#3a3a3a" stroke-width="1"/>
<text x="309.90" y="401.50" font-family="'Liberation Sans', sans-serif" font-size="8.2" fill="#1a1a1a" text-anchor="end">10<tspan font-size="4.9" dy="-4.0">-11</tspan></text>
<text x="309.90" y="384.12" font-family="'Liberation Sans', sans-serif" font-size="8.2" fill="#1a1a1a" text-anchor="end">10<tspan font-size="4.9" dy="-4.0">-10</tspan></text>
<text x="309.90" y="366.74" font-family="'Liberation Sans', sans-serif" font-size="8.2" fill="#1a1a1a" text-anchor="end">10<tspan font-size="4.9" dy="-4.0">-9</tspan></text>
<text x="309.90" y="349.36" font-family="'Liberation Sans', sans-serif" font-size="8.2" fill="#1a1a1a" text-anchor="end">10<tspan font-size="4.9" dy="-4.0">-8</tspan></text>
<text x="309.90" y="331.98" font-family="'Liberation Sans', sans-serif" font-size="8.2" fill="#1a1a1a" text-anchor="end">10<tspan font-size="4.9" dy="-4.0">-7</tspan></text>
<text x="309.90" y="314.60" font-family="'Liberation Sans', sans-serif" font-size="8.2" fill="#1a1a1a" text-anchor="end">10<tspan font-size="4.9" dy="-4.0">-6</tspan></text>
<text x="309.90" y="297.22" font-family="'Liberation Sans', sans-serif" font-size="8.2" fill="#1a1a1a" text-anchor="end">10<tspan font-size="4.9" dy="-4.0">-5</tspan></text>
<text x="309.90" y="279.84" font-family="'Liberation Sans', sans-serif" font-size="8.2" fill="#1a1a1a" text-anchor="end">10<tspan font-size="4.9" dy="-4.0">-4</tspan></text>
<text x="309.90" y="262.46" font-family="'Liberation Sans', sans-serif" font-size="8.2" fill="#1a1a1a" text-anchor="end">10<tspan font-size="4.9" dy="-4.0">-3</tspan></text>
<text x="309.90" y="245.08" font-family="'Liberation Sans', sans-serif" font-size="8.2" fill="#1a1a1a" text-anchor="end">10<tspan font-size="4.9" dy="-4.0">-2</tspan></text>
<text x="309.90" y="227.70" font-family="'Liberation Sans', sans-serif" font-size="8.2" fill="#1a1a1a" text-anchor="end">10<tspan font-size="4.9" dy="-4.0">-1</tspan></text>
<line x1="315.40" y1="398.2" x2="315.40" y2="401.40" stroke="#3a3a3a" stroke-width="0.9"/>
<text x="315.4" y="409.6" font-family="'Liberation Sans', sans-serif" font-size="8.2" font-weight="normal" text-anchor="middle" fill="#1a1a1a" >-6</text>
<line x1="336.60" y1="398.2" x2="336.60" y2="400.00" stroke="#3a3a3a" stroke-width="0.9"/>
<line x1="357.80" y1="398.2" x2="357.80" y2="401.40" stroke="#3a3a3a" stroke-width="0.9"/>
<text x="357.8" y="409.6" font-family="'Liberation Sans', sans-serif" font-size="8.2" font-weight="normal" text-anchor="middle" fill="#1a1a1a" >-4</text>
<line x1="379.00" y1="398.2" x2="379.00" y2="400.00" stroke="#3a3a3a" stroke-width="0.9"/>
<line x1="400.20" y1="398.2" x2="400.20" y2="401.40" stroke="#3a3a3a" stroke-width="0.9"/>
<text x="400.2" y="409.6" font-family="'Liberation Sans', sans-serif" font-size="8.2" font-weight="normal" text-anchor="middle" fill="#1a1a1a" >-2</text>
<line x1="421.40" y1="398.2" x2="421.40" y2="400.00" stroke="#3a3a3a" stroke-width="0.9"/>
<line x1="442.60" y1="398.2" x2="442.60" y2="401.40" stroke="#3a3a3a" stroke-width="0.9"/>
<text x="442.6" y="409.6" font-family="'Liberation Sans', sans-serif" font-size="8.2" font-weight="normal" text-anchor="middle" fill="#1a1a1a" >0</text>
<line x1="463.80" y1="398.2" x2="463.80" y2="400.00" stroke="#3a3a3a" stroke-width="0.9"/>
<line x1="485.00" y1="398.2" x2="485.00" y2="401.40" stroke="#3a3a3a" stroke-width="0.9"/>
<text x="485.0" y="409.6" font-family="'Liberation Sans', sans-serif" font-size="8.2" font-weight="normal" text-anchor="middle" fill="#1a1a1a" >2</text>
<line x1="506.20" y1="398.2" x2="506.20" y2="400.00" stroke="#3a3a3a" stroke-width="0.9"/>
<line x1="527.40" y1="398.2" x2="527.40" y2="401.40" stroke="#3a3a3a" stroke-width="0.9"/>
<text x="527.4" y="409.6" font-family="'Liberation Sans', sans-serif" font-size="8.2" font-weight="normal" text-anchor="middle" fill="#1a1a1a" >4</text>
<line x1="548.60" y1="398.2" x2="548.60" y2="400.00" stroke="#3a3a3a" stroke-width="0.9"/>
<rect x="315.4" y="224.4" width="233.20000000000005" height="173.79999999999998" fill="none" stroke="#3a3a3a" stroke-width="1.1"/>
<line x1="315.4" y1="223.9" x2="315.4" y2="398.8" stroke="#3a3a3a" stroke-width="1.5"/>
<line x1="314.79999999999995" y1="398.2" x2="549.1" y2="398.2" stroke="#3a3a3a" stroke-width="1.5"/>
<text x="432.4" y="424.6" font-family="'Liberation Sans', sans-serif" font-size="9.8" font-weight="bold" text-anchor="middle" fill="#111" >Voltage (V)</text>
<text x="0.0" y="0.0" font-family="'Liberation Sans', sans-serif" font-size="9.8" font-weight="bold" text-anchor="middle" fill="#111" transform="translate(289.0,311.0) rotate(-90)">Current (A)</text>
<line x1="366.92" y1="289.57" x2="366.92" y2="255.86" stroke="#2a8a2a" stroke-width="0.9"/>
<line x1="514.26" y1="264.37" x2="514.26" y2="286.97" stroke="#2a8a2a" stroke-width="0.9"/>
<polyline points="442.6,363.4 440.5,344.8 438.4,330.5 436.3,324.6 434.2,321.5 432.0,319.6 429.9,317.6 427.8,315.2 425.7,313.0 423.6,311.0 421.5,309.3 419.4,307.8 417.3,306.5 415.1,305.4 413.0,304.4 410.9,303.5 408.8,302.7 406.7,301.8 404.6,301.0 402.5,300.2 400.4,299.4 398.3,298.8 396.1,298.1 394.0,297.5 391.9,296.9 389.8,296.3 387.7,295.8 385.6,295.2 383.5,294.7 381.4,294.2 379.2,293.7 377.1,293.2 375.0,292.7 372.9,292.2 370.8,291.8 368.7,291.3 366.6,290.8 364.5,290.4 362.4,289.9 360.2,289.4 358.1,289.0 356.0,288.5 353.9,288.1 351.8,287.6 349.7,287.1 347.6,286.6 345.5,286.1 343.4,285.5 341.2,284.9 339.1,284.3 337.0,283.6 334.9,283.0" fill="none" stroke="#0a7a0a" stroke-width="0.8" stroke-linejoin="round"/>
<g><polygon points="442.6,361.0 445.0,363.4 442.6,365.8 440.2,363.4" fill="#0a7a0a"/><polygon points="440.5,342.4 442.9,344.8 440.5,347.2 438.1,344.8" fill="#0a7a0a"/><polygon points="438.4,328.1 440.8,330.5 438.4,332.9 436.0,330.5" fill="#0a7a0a"/><polygon points="436.3,322.2 438.7,324.6 436.3,327.0 433.9,324.6" fill="#0a7a0a"/><polygon points="434.2,319.1 436.6,321.5 434.2,323.9 431.8,321.5" fill="#0a7a0a"/><polygon points="432.0,317.2 434.4,319.6 432.0,322.0 429.6,319.6" fill="#0a7a0a"/><polygon points="429.9,315.2 432.3,317.6 429.9,320.0 427.5,317.6" fill="#0a7a0a"/><polygon points="427.8,312.8 430.2,315.2 427.8,317.6 425.4,315.2" fill="#0a7a0a"/><polygon points="425.7,310.6 428.1,313.0 425.7,315.4 423.3,313.0" fill="#0a7a0a"/><polygon points="423.6,308.6 426.0,311.0 423.6,313.4 421.2,311.0" fill="#0a7a0a"/><polygon points="421.5,306.9 423.9,309.3 421.5,311.7 419.1,309.3" fill="#0a7a0a"/><polygon points="419.4,305.4 421.8,307.8 419.4,310.2 417.0,307.8" fill="#0a7a0a"/><polygon points="417.3,304.1 419.7,306.5 417.3,308.9 414.9,306.5" fill="#0a7a0a"/><polygon points="415.1,303.0 417.5,305.4 415.1,307.8 412.7,305.4" fill="#0a7a0a"/><polygon points="413.0,302.0 415.4,304.4 413.0,306.8 410.6,304.4" fill="#0a7a0a"/><polygon points="410.9,301.1 413.3,303.5 410.9,305.9 408.5,303.5" fill="#0a7a0a"/><polygon points="408.8,300.3 411.2,302.7 408.8,305.1 406.4,302.7" fill="#0a7a0a"/><polygon points="406.7,299.4 409.1,301.8 406.7,304.2 404.3,301.8" fill="#0a7a0a"/><polygon points="404.6,298.6 407.0,301.0 404.6,303.4 402.2,301.0" fill="#0a7a0a"/><polygon points="402.5,297.8 404.9,300.2 402.5,302.6 400.1,300.2" fill="#0a7a0a"/><polygon points="400.4,297.0 402.8,299.4 400.4,301.8 398.0,299.4" fill="#0a7a0a"/><polygon points="398.3,296.4 400.7,298.8 398.3,301.2 395.9,298.8" fill="#0a7a0a"/><polygon points="396.1,295.7 398.5,298.1 396.1,300.5 393.7,298.1" fill="#0a7a0a"/><polygon points="394.0,295.1 396.4,297.5 394.0,299.9 391.6,297.5" fill="#0a7a0a"/><polygon points="391.9,294.5 394.3,296.9 391.9,299.3 389.5,296.9" fill="#0a7a0a"/><polygon points="389.8,293.9 392.2,296.3 389.8,298.7 387.4,296.3" fill="#0a7a0a"/><polygon points="387.7,293.4 390.1,295.8 387.7,298.2 385.3,295.8" fill="#0a7a0a"/><polygon points="385.6,292.8 388.0,295.2 385.6,297.6 383.2,295.2" fill="#0a7a0a"/><polygon points="383.5,292.3 385.9,294.7 383.5,297.1 381.1,294.7" fill="#0a7a0a"/><polygon points="381.4,291.8 383.8,294.2 381.4,296.6 379.0,294.2" fill="#0a7a0a"/><polygon points="379.2,291.3 381.6,293.7 379.2,296.1 376.8,293.7" fill="#0a7a0a"/><polygon points="377.1,290.8 379.5,293.2 377.1,295.6 374.7,293.2" fill="#0a7a0a"/><polygon points="375.0,290.3 377.4,292.7 375.0,295.1 372.6,292.7" fill="#0a7a0a"/><polygon points="372.9,289.8 375.3,292.2 372.9,294.6 370.5,292.2" fill="#0a7a0a"/><polygon points="370.8,289.4 373.2,291.8 370.8,294.2 368.4,291.8" fill="#0a7a0a"/><polygon points="368.7,288.9 371.1,291.3 368.7,293.7 366.3,291.3" fill="#0a7a0a"/><polygon points="366.6,288.4 369.0,290.8 366.6,293.2 364.2,290.8" fill="#0a7a0a"/><polygon points="364.5,288.0 366.9,290.4 364.5,292.8 362.1,290.4" fill="#0a7a0a"/><polygon points="362.4,287.5 364.8,289.9 362.4,292.3 360.0,289.9" fill="#0a7a0a"/><polygon points="360.2,287.0 362.6,289.4 360.2,291.8 357.8,289.4" fill="#0a7a0a"/><polygon points="358.1,286.6 360.5,289.0 358.1,291.4 355.7,289.0" fill="#0a7a0a"/><polygon points="356.0,286.1 358.4,288.5 356.0,290.9 353.6,288.5" fill="#0a7a0a"/><polygon points="353.9,285.7 356.3,288.1 353.9,290.5 351.5,288.1" fill="#0a7a0a"/><polygon points="351.8,285.2 354.2,287.6 351.8,290.0 349.4,287.6" fill="#0a7a0a"/><polygon points="349.7,284.7 352.1,287.1 349.7,289.5 347.3,287.1" fill="#0a7a0a"/><polygon points="347.6,284.2 350.0,286.6 347.6,289.0 345.2,286.6" fill="#0a7a0a"/><polygon points="345.5,283.7 347.9,286.1 345.5,288.5 343.1,286.1" fill="#0a7a0a"/><polygon points="343.4,283.1 345.8,285.5 343.4,287.9 341.0,285.5" fill="#0a7a0a"/><polygon points="341.2,282.5 343.6,284.9 341.2,287.3 338.8,284.9" fill="#0a7a0a"/><polygon points="339.1,281.9 341.5,284.3 339.1,286.7 336.7,284.3" fill="#0a7a0a"/><polygon points="337.0,281.2 339.4,283.6 337.0,286.0 334.6,283.6" fill="#0a7a0a"/><polygon points="334.9,280.6 337.3,283.0 334.9,285.4 332.5,283.0" fill="#0a7a0a"/></g>
<polyline points="436.3,324.6 434.2,321.5 432.0,319.6 429.9,317.6 427.8,315.2 425.7,313.0 423.6,311.0 421.5,309.3 419.4,307.8 417.3,306.5 415.1,305.4 413.0,304.4 410.9,303.5 408.8,302.7 406.7,301.8 404.6,301.0 402.5,300.2 400.4,299.4 398.3,298.8 396.1,298.1 394.0,297.5 391.9,296.9 389.8,296.3 387.7,295.8 385.6,295.2 383.5,294.7 381.4,294.2 379.2,293.7 377.1,293.2 375.0,292.7 372.9,292.2 370.8,291.8 368.7,291.3 366.6,290.8 364.5,290.4 362.4,289.9 360.2,289.4 358.1,289.0 356.0,288.5 353.9,288.1 351.8,287.6 349.7,287.1 347.6,286.6 345.5,286.1 343.4,285.5 341.2,284.9 339.1,284.3 337.0,283.6 334.9,283.0" fill="none" stroke="#0a7a0a" stroke-width="4.5" stroke-linejoin="round" stroke-linecap="round"/>
<polyline points="366.9,255.9 369.0,256.3 371.2,256.7 373.3,257.1 375.4,257.5 377.5,257.9 379.6,258.3 381.8,258.6 383.9,259.0 386.0,259.3 388.1,259.7 390.2,260.1 392.4,260.5 394.5,261.0 396.6,261.5 398.7,262.0 400.8,262.5 403.0,263.0 405.1,263.6 407.2,264.3 409.3,265.1 411.4,266.0 413.6,267.1 415.7,268.3 417.8,269.6 419.9,271.1 422.0,272.7 424.2,274.4 426.3,276.5 428.4,279.5 430.5,282.8 432.0,285.0 435.0,289.7 437.5,295.0 439.8,304.2 441.5,317.7 442.6,363.4" fill="none" stroke="#0a7a0a" stroke-width="0.8" stroke-linejoin="round"/>
<g><polygon points="366.9,253.5 369.3,255.9 366.9,258.3 364.5,255.9" fill="#0a7a0a"/><polygon points="369.0,253.9 371.4,256.3 369.0,258.7 366.6,256.3" fill="#0a7a0a"/><polygon points="371.2,254.3 373.6,256.7 371.2,259.1 368.8,256.7" fill="#0a7a0a"/><polygon points="373.3,254.7 375.7,257.1 373.3,259.5 370.9,257.1" fill="#0a7a0a"/><polygon points="375.4,255.1 377.8,257.5 375.4,259.9 373.0,257.5" fill="#0a7a0a"/><polygon points="377.5,255.5 379.9,257.9 377.5,260.3 375.1,257.9" fill="#0a7a0a"/><polygon points="379.6,255.9 382.0,258.3 379.6,260.7 377.2,258.3" fill="#0a7a0a"/><polygon points="381.8,256.2 384.2,258.6 381.8,261.0 379.4,258.6" fill="#0a7a0a"/><polygon points="383.9,256.6 386.3,259.0 383.9,261.4 381.5,259.0" fill="#0a7a0a"/><polygon points="386.0,256.9 388.4,259.3 386.0,261.7 383.6,259.3" fill="#0a7a0a"/><polygon points="388.1,257.3 390.5,259.7 388.1,262.1 385.7,259.7" fill="#0a7a0a"/><polygon points="390.2,257.7 392.6,260.1 390.2,262.5 387.8,260.1" fill="#0a7a0a"/><polygon points="392.4,258.1 394.8,260.5 392.4,262.9 390.0,260.5" fill="#0a7a0a"/><polygon points="394.5,258.6 396.9,261.0 394.5,263.4 392.1,261.0" fill="#0a7a0a"/><polygon points="396.6,259.1 399.0,261.5 396.6,263.9 394.2,261.5" fill="#0a7a0a"/><polygon points="398.7,259.6 401.1,262.0 398.7,264.4 396.3,262.0" fill="#0a7a0a"/><polygon points="400.8,260.1 403.2,262.5 400.8,264.9 398.4,262.5" fill="#0a7a0a"/><polygon points="403.0,260.6 405.4,263.0 403.0,265.4 400.6,263.0" fill="#0a7a0a"/><polygon points="405.1,261.2 407.5,263.6 405.1,266.0 402.7,263.6" fill="#0a7a0a"/><polygon points="407.2,261.9 409.6,264.3 407.2,266.7 404.8,264.3" fill="#0a7a0a"/><polygon points="409.3,262.7 411.7,265.1 409.3,267.5 406.9,265.1" fill="#0a7a0a"/><polygon points="411.4,263.6 413.8,266.0 411.4,268.4 409.0,266.0" fill="#0a7a0a"/><polygon points="413.6,264.7 416.0,267.1 413.6,269.5 411.2,267.1" fill="#0a7a0a"/><polygon points="415.7,265.9 418.1,268.3 415.7,270.7 413.3,268.3" fill="#0a7a0a"/><polygon points="417.8,267.2 420.2,269.6 417.8,272.0 415.4,269.6" fill="#0a7a0a"/><polygon points="419.9,268.7 422.3,271.1 419.9,273.5 417.5,271.1" fill="#0a7a0a"/><polygon points="422.0,270.3 424.4,272.7 422.0,275.1 419.6,272.7" fill="#0a7a0a"/><polygon points="424.2,272.0 426.6,274.4 424.2,276.8 421.8,274.4" fill="#0a7a0a"/><polygon points="426.3,274.1 428.7,276.5 426.3,278.9 423.9,276.5" fill="#0a7a0a"/><polygon points="428.4,277.1 430.8,279.5 428.4,281.9 426.0,279.5" fill="#0a7a0a"/><polygon points="430.5,280.4 432.9,282.8 430.5,285.2 428.1,282.8" fill="#0a7a0a"/><polygon points="432.0,282.6 434.4,285.0 432.0,287.4 429.6,285.0" fill="#0a7a0a"/><polygon points="435.0,287.3 437.4,289.7 435.0,292.1 432.6,289.7" fill="#0a7a0a"/><polygon points="437.5,292.6 439.9,295.0 437.5,297.4 435.1,295.0" fill="#0a7a0a"/><polygon points="439.8,301.8 442.2,304.2 439.8,306.6 437.4,304.2" fill="#0a7a0a"/><polygon points="441.5,315.3 443.9,317.7 441.5,320.1 439.1,317.7" fill="#0a7a0a"/><polygon points="442.6,361.0 445.0,363.4 442.6,365.8 440.2,363.4" fill="#0a7a0a"/></g>
<polyline points="366.9,255.9 369.0,256.3 371.2,256.7 373.3,257.1 375.4,257.5 377.5,257.9 379.6,258.3 381.8,258.6 383.9,259.0 386.0,259.3 388.1,259.7 390.2,260.1 392.4,260.5 394.5,261.0 396.6,261.5 398.7,262.0 400.8,262.5 403.0,263.0 405.1,263.6 407.2,264.3 409.3,265.1 411.4,266.0 413.6,267.1 415.7,268.3 417.8,269.6 419.9,271.1 422.0,272.7 424.2,274.4 426.3,276.5 428.4,279.5 430.5,282.8 432.0,285.0" fill="none" stroke="#0a7a0a" stroke-width="4.5" stroke-linejoin="round" stroke-linecap="round"/>
<polyline points="442.6,363.4 443.9,318.3 446.0,301.2 448.1,291.3 450.4,284.4 452.6,278.1 454.0,273.9 456.2,271.4 458.3,269.4 460.4,267.4 462.5,265.6 464.6,264.6" fill="none" stroke="#0a7a0a" stroke-width="0.8" stroke-linejoin="round"/>
<g><polygon points="442.6,361.0 445.0,363.4 442.6,365.8 440.2,363.4" fill="#0a7a0a"/><polygon points="443.9,315.9 446.3,318.3 443.9,320.7 441.5,318.3" fill="#0a7a0a"/><polygon points="446.0,298.8 448.4,301.2 446.0,303.6 443.6,301.2" fill="#0a7a0a"/><polygon points="448.1,288.9 450.5,291.3 448.1,293.7 445.7,291.3" fill="#0a7a0a"/><polygon points="450.4,282.0 452.8,284.4 450.4,286.8 448.0,284.4" fill="#0a7a0a"/><polygon points="452.6,275.7 455.0,278.1 452.6,280.5 450.2,278.1" fill="#0a7a0a"/><polygon points="454.0,271.5 456.4,273.9 454.0,276.3 451.6,273.9" fill="#0a7a0a"/><polygon points="456.2,269.0 458.6,271.4 456.2,273.8 453.8,271.4" fill="#0a7a0a"/><polygon points="458.3,267.0 460.7,269.4 458.3,271.8 455.9,269.4" fill="#0a7a0a"/><polygon points="460.4,265.0 462.8,267.4 460.4,269.8 458.0,267.4" fill="#0a7a0a"/><polygon points="462.5,263.2 464.9,265.6 462.5,268.0 460.1,265.6" fill="#0a7a0a"/><polygon points="464.6,262.2 467.0,264.6 464.6,267.0 462.2,264.6" fill="#0a7a0a"/></g>
<polyline points="454.0,273.9 456.2,271.4 458.3,269.4 460.4,267.4 462.5,265.6 464.6,264.6" fill="none" stroke="#0a7a0a" stroke-width="4.5" stroke-linejoin="round" stroke-linecap="round"/>
<polyline points="465.9,264.4 467.1,264.4 468.3,264.4 469.5,264.4 470.8,264.4 472.0,264.4 473.2,264.4 474.4,264.4 475.6,264.4 476.8,264.4 478.0,264.4 479.2,264.4 480.4,264.4 481.6,264.4 482.8,264.4 484.0,264.4 485.3,264.4 486.5,264.4 487.7,264.4 488.9,264.4 490.1,264.4 491.3,264.4 492.5,264.4 493.7,264.4 494.9,264.4 496.1,264.4 497.3,264.4 498.5,264.4 499.8,264.4 501.0,264.4 502.2,264.4 503.4,264.4 504.6,264.4 505.8,264.4 507.0,264.4 508.2,264.4 509.4,264.4 510.6,264.4 511.8,264.4 513.0,264.4 514.3,264.4" fill="none" stroke="#0a7a0a" stroke-width="0.8" stroke-linejoin="round"/>
<g><polygon points="465.9,262.0 468.3,264.4 465.9,266.8 463.5,264.4" fill="#0a7a0a"/><polygon points="467.1,262.0 469.5,264.4 467.1,266.8 464.7,264.4" fill="#0a7a0a"/><polygon points="468.3,262.0 470.7,264.4 468.3,266.8 465.9,264.4" fill="#0a7a0a"/><polygon points="469.5,262.0 471.9,264.4 469.5,266.8 467.1,264.4" fill="#0a7a0a"/><polygon points="470.8,262.0 473.2,264.4 470.8,266.8 468.4,264.4" fill="#0a7a0a"/><polygon points="472.0,262.0 474.4,264.4 472.0,266.8 469.6,264.4" fill="#0a7a0a"/><polygon points="473.2,262.0 475.6,264.4 473.2,266.8 470.8,264.4" fill="#0a7a0a"/><polygon points="474.4,262.0 476.8,264.4 474.4,266.8 472.0,264.4" fill="#0a7a0a"/><polygon points="475.6,262.0 478.0,264.4 475.6,266.8 473.2,264.4" fill="#0a7a0a"/><polygon points="476.8,262.0 479.2,264.4 476.8,266.8 474.4,264.4" fill="#0a7a0a"/><polygon points="478.0,262.0 480.4,264.4 478.0,266.8 475.6,264.4" fill="#0a7a0a"/><polygon points="479.2,262.0 481.6,264.4 479.2,266.8 476.8,264.4" fill="#0a7a0a"/><polygon points="480.4,262.0 482.8,264.4 480.4,266.8 478.0,264.4" fill="#0a7a0a"/><polygon points="481.6,262.0 484.0,264.4 481.6,266.8 479.2,264.4" fill="#0a7a0a"/><polygon points="482.8,262.0 485.2,264.4 482.8,266.8 480.4,264.4" fill="#0a7a0a"/><polygon points="484.0,262.0 486.4,264.4 484.0,266.8 481.6,264.4" fill="#0a7a0a"/><polygon points="485.3,262.0 487.7,264.4 485.3,266.8 482.9,264.4" fill="#0a7a0a"/><polygon points="486.5,262.0 488.9,264.4 486.5,266.8 484.1,264.4" fill="#0a7a0a"/><polygon points="487.7,262.0 490.1,264.4 487.7,266.8 485.3,264.4" fill="#0a7a0a"/><polygon points="488.9,262.0 491.3,264.4 488.9,266.8 486.5,264.4" fill="#0a7a0a"/><polygon points="490.1,262.0 492.5,264.4 490.1,266.8 487.7,264.4" fill="#0a7a0a"/><polygon points="491.3,262.0 493.7,264.4 491.3,266.8 488.9,264.4" fill="#0a7a0a"/><polygon points="492.5,262.0 494.9,264.4 492.5,266.8 490.1,264.4" fill="#0a7a0a"/><polygon points="493.7,262.0 496.1,264.4 493.7,266.8 491.3,264.4" fill="#0a7a0a"/><polygon points="494.9,262.0 497.3,264.4 494.9,266.8 492.5,264.4" fill="#0a7a0a"/><polygon points="496.1,262.0 498.5,264.4 496.1,266.8 493.7,264.4" fill="#0a7a0a"/><polygon points="497.3,262.0 499.7,264.4 497.3,266.8 494.9,264.4" fill="#0a7a0a"/><polygon points="498.5,262.0 500.9,264.4 498.5,266.8 496.1,264.4" fill="#0a7a0a"/><polygon points="499.8,262.0 502.2,264.4 499.8,266.8 497.4,264.4" fill="#0a7a0a"/><polygon points="501.0,262.0 503.4,264.4 501.0,266.8 498.6,264.4" fill="#0a7a0a"/><polygon points="502.2,262.0 504.6,264.4 502.2,266.8 499.8,264.4" fill="#0a7a0a"/><polygon points="503.4,262.0 505.8,264.4 503.4,266.8 501.0,264.4" fill="#0a7a0a"/><polygon points="504.6,262.0 507.0,264.4 504.6,266.8 502.2,264.4" fill="#0a7a0a"/><polygon points="505.8,262.0 508.2,264.4 505.8,266.8 503.4,264.4" fill="#0a7a0a"/><polygon points="507.0,262.0 509.4,264.4 507.0,266.8 504.6,264.4" fill="#0a7a0a"/><polygon points="508.2,262.0 510.6,264.4 508.2,266.8 505.8,264.4" fill="#0a7a0a"/><polygon points="509.4,262.0 511.8,264.4 509.4,266.8 507.0,264.4" fill="#0a7a0a"/><polygon points="510.6,262.0 513.0,264.4 510.6,266.8 508.2,264.4" fill="#0a7a0a"/><polygon points="511.8,262.0 514.2,264.4 511.8,266.8 509.4,264.4" fill="#0a7a0a"/><polygon points="513.0,262.0 515.4,264.4 513.0,266.8 510.6,264.4" fill="#0a7a0a"/><polygon points="514.3,262.0 516.7,264.4 514.3,266.8 511.9,264.4" fill="#0a7a0a"/></g>
<polyline points="465.9,264.4 467.1,264.4 468.3,264.4 469.5,264.4 470.8,264.4 472.0,264.4 473.2,264.4 474.4,264.4 475.6,264.4 476.8,264.4 478.0,264.4 479.2,264.4 480.4,264.4 481.6,264.4 482.8,264.4 484.0,264.4 485.3,264.4 486.5,264.4 487.7,264.4 488.9,264.4 490.1,264.4 491.3,264.4 492.5,264.4 493.7,264.4 494.9,264.4 496.1,264.4 497.3,264.4 498.5,264.4 499.8,264.4 501.0,264.4 502.2,264.4 503.4,264.4 504.6,264.4 505.8,264.4 507.0,264.4 508.2,264.4 509.4,264.4 510.6,264.4 511.8,264.4 513.0,264.4 514.3,264.4" fill="none" stroke="#0a7a0a" stroke-width="4.5" stroke-linejoin="round" stroke-linecap="round"/>
<polyline points="514.3,287.0 512.1,288.3 510.0,289.6 507.9,290.9 505.8,292.2 503.7,293.5 501.6,294.9 499.5,296.1 497.4,297.4 495.3,298.6 493.2,299.8 491.1,300.9 489.0,301.9 486.9,303.0 484.8,304.0 482.6,305.0 480.5,306.1 478.4,307.2 476.3,308.4 474.2,309.6 472.1,310.8 470.0,312.1 467.9,313.4 465.8,314.7 463.7,316.2 461.6,317.7 459.5,319.4 457.4,320.9 455.2,322.6 453.1,324.4 451.0,326.7 448.9,329.6 446.8,333.7 444.7,340.8 442.6,363.4" fill="none" stroke="#0a7a0a" stroke-width="0.8" stroke-linejoin="round"/>
<g><polygon points="514.3,284.6 516.7,287.0 514.3,289.4 511.9,287.0" fill="#0a7a0a"/><polygon points="512.1,285.9 514.5,288.3 512.1,290.7 509.7,288.3" fill="#0a7a0a"/><polygon points="510.0,287.2 512.4,289.6 510.0,292.0 507.6,289.6" fill="#0a7a0a"/><polygon points="507.9,288.5 510.3,290.9 507.9,293.3 505.5,290.9" fill="#0a7a0a"/><polygon points="505.8,289.8 508.2,292.2 505.8,294.6 503.4,292.2" fill="#0a7a0a"/><polygon points="503.7,291.1 506.1,293.5 503.7,295.9 501.3,293.5" fill="#0a7a0a"/><polygon points="501.6,292.5 504.0,294.9 501.6,297.3 499.2,294.9" fill="#0a7a0a"/><polygon points="499.5,293.7 501.9,296.1 499.5,298.5 497.1,296.1" fill="#0a7a0a"/><polygon points="497.4,295.0 499.8,297.4 497.4,299.8 495.0,297.4" fill="#0a7a0a"/><polygon points="495.3,296.2 497.7,298.6 495.3,301.0 492.9,298.6" fill="#0a7a0a"/><polygon points="493.2,297.4 495.6,299.8 493.2,302.2 490.8,299.8" fill="#0a7a0a"/><polygon points="491.1,298.5 493.5,300.9 491.1,303.3 488.7,300.9" fill="#0a7a0a"/><polygon points="489.0,299.5 491.4,301.9 489.0,304.3 486.6,301.9" fill="#0a7a0a"/><polygon points="486.9,300.6 489.3,303.0 486.9,305.4 484.5,303.0" fill="#0a7a0a"/><polygon points="484.8,301.6 487.2,304.0 484.8,306.4 482.4,304.0" fill="#0a7a0a"/><polygon points="482.6,302.6 485.0,305.0 482.6,307.4 480.2,305.0" fill="#0a7a0a"/><polygon points="480.5,303.7 482.9,306.1 480.5,308.5 478.1,306.1" fill="#0a7a0a"/><polygon points="478.4,304.8 480.8,307.2 478.4,309.6 476.0,307.2" fill="#0a7a0a"/><polygon points="476.3,306.0 478.7,308.4 476.3,310.8 473.9,308.4" fill="#0a7a0a"/><polygon points="474.2,307.2 476.6,309.6 474.2,312.0 471.8,309.6" fill="#0a7a0a"/><polygon points="472.1,308.4 474.5,310.8 472.1,313.2 469.7,310.8" fill="#0a7a0a"/><polygon points="470.0,309.7 472.4,312.1 470.0,314.5 467.6,312.1" fill="#0a7a0a"/><polygon points="467.9,311.0 470.3,313.4 467.9,315.8 465.5,313.4" fill="#0a7a0a"/><polygon points="465.8,312.3 468.2,314.7 465.8,317.1 463.4,314.7" fill="#0a7a0a"/><polygon points="463.7,313.8 466.1,316.2 463.7,318.6 461.3,316.2" fill="#0a7a0a"/><polygon points="461.6,315.3 464.0,317.7 461.6,320.1 459.2,317.7" fill="#0a7a0a"/><polygon points="459.5,317.0 461.9,319.4 459.5,321.8 457.1,319.4" fill="#0a7a0a"/><polygon points="457.4,318.5 459.8,320.9 457.4,323.3 455.0,320.9" fill="#0a7a0a"/><polygon points="455.2,320.2 457.6,322.6 455.2,325.0 452.8,322.6" fill="#0a7a0a"/><polygon points="453.1,322.0 455.5,324.4 453.1,326.8 450.7,324.4" fill="#0a7a0a"/><polygon points="451.0,324.3 453.4,326.7 451.0,329.1 448.6,326.7" fill="#0a7a0a"/><polygon points="448.9,327.2 451.3,329.6 448.9,332.0 446.5,329.6" fill="#0a7a0a"/><polygon points="446.8,331.3 449.2,333.7 446.8,336.1 444.4,333.7" fill="#0a7a0a"/><polygon points="444.7,338.4 447.1,340.8 444.7,343.2 442.3,340.8" fill="#0a7a0a"/><polygon points="442.6,361.0 445.0,363.4 442.6,365.8 440.2,363.4" fill="#0a7a0a"/></g>
<polyline points="514.3,287.0 512.1,288.3 510.0,289.6 507.9,290.9 505.8,292.2 503.7,293.5 501.6,294.9 499.5,296.1 497.4,297.4 495.3,298.6 493.2,299.8 491.1,300.9 489.0,301.9 486.9,303.0 484.8,304.0 482.6,305.0 480.5,306.1 478.4,307.2 476.3,308.4 474.2,309.6 472.1,310.8 470.0,312.1 467.9,313.4 465.8,314.7 463.7,316.2 461.6,317.7 459.5,319.4 457.4,320.9 455.2,322.6 453.1,324.4 451.0,326.7 448.9,329.6" fill="none" stroke="#0a7a0a" stroke-width="4.5" stroke-linejoin="round" stroke-linecap="round"/>
<line x1="420.13" y1="304.17" x2="420.13" y2="258.12" stroke="#9a40ff" stroke-width="0.9"/>
<line x1="499.63" y1="264.37" x2="499.63" y2="289.75" stroke="#9a40ff" stroke-width="0.9"/>
<polyline points="442.6,372.1 440.5,338.2 438.4,330.2 436.3,325.1 434.1,321.2 432.0,318.0 429.9,315.2 427.8,312.4 425.7,309.8 423.6,307.5 421.5,305.5 419.4,303.7 417.2,302.2 415.1,300.9 413.0,299.8 410.9,298.7 408.8,297.6 406.7,296.6 404.6,295.5 402.4,294.6 400.3,293.6 398.2,292.7 396.1,291.8 394.0,290.9 391.9,290.0 389.8,289.1 387.7,288.1 385.5,287.2 383.4,286.3 381.3,285.3 379.2,284.4 377.1,283.5" fill="none" stroke="#8a00ff" stroke-width="0.8" stroke-linejoin="round"/>
<g><polygon points="440.2,372.1 444.2,369.9 444.2,374.3" fill="#8a00ff"/><polygon points="438.1,338.2 442.1,336.0 442.1,340.4" fill="#8a00ff"/><polygon points="436.0,330.2 440.0,328.0 440.0,332.4" fill="#8a00ff"/><polygon points="433.9,325.1 437.9,322.9 437.9,327.3" fill="#8a00ff"/><polygon points="431.7,321.2 435.7,319.0 435.7,323.4" fill="#8a00ff"/><polygon points="429.6,318.0 433.6,315.8 433.6,320.2" fill="#8a00ff"/><polygon points="427.5,315.2 431.5,313.0 431.5,317.4" fill="#8a00ff"/><polygon points="425.4,312.4 429.4,310.2 429.4,314.6" fill="#8a00ff"/><polygon points="423.3,309.8 427.3,307.6 427.3,312.0" fill="#8a00ff"/><polygon points="421.2,307.5 425.2,305.3 425.2,309.7" fill="#8a00ff"/><polygon points="419.1,305.5 423.1,303.3 423.1,307.7" fill="#8a00ff"/><polygon points="417.0,303.7 421.0,301.5 421.0,305.9" fill="#8a00ff"/><polygon points="414.8,302.2 418.8,300.0 418.8,304.4" fill="#8a00ff"/><polygon points="412.7,300.9 416.7,298.7 416.7,303.1" fill="#8a00ff"/><polygon points="410.6,299.8 414.6,297.6 414.6,302.0" fill="#8a00ff"/><polygon points="408.5,298.7 412.5,296.5 412.5,300.9" fill="#8a00ff"/><polygon points="406.4,297.6 410.4,295.4 410.4,299.8" fill="#8a00ff"/><polygon points="404.3,296.6 408.3,294.4 408.3,298.8" fill="#8a00ff"/><polygon points="402.2,295.5 406.2,293.3 406.2,297.7" fill="#8a00ff"/><polygon points="400.0,294.6 404.0,292.4 404.0,296.8" fill="#8a00ff"/><polygon points="397.9,293.6 401.9,291.4 401.9,295.8" fill="#8a00ff"/><polygon points="395.8,292.7 399.8,290.5 399.8,294.9" fill="#8a00ff"/><polygon points="393.7,291.8 397.7,289.6 397.7,294.0" fill="#8a00ff"/><polygon points="391.6,290.9 395.6,288.7 395.6,293.1" fill="#8a00ff"/><polygon points="389.5,290.0 393.5,287.8 393.5,292.2" fill="#8a00ff"/><polygon points="387.4,289.1 391.4,286.9 391.4,291.3" fill="#8a00ff"/><polygon points="385.3,288.1 389.3,285.9 389.3,290.3" fill="#8a00ff"/><polygon points="383.1,287.2 387.1,285.0 387.1,289.4" fill="#8a00ff"/><polygon points="381.0,286.3 385.0,284.1 385.0,288.5" fill="#8a00ff"/><polygon points="378.9,285.3 382.9,283.1 382.9,287.5" fill="#8a00ff"/><polygon points="376.8,284.4 380.8,282.2 380.8,286.6" fill="#8a00ff"/><polygon points="374.7,283.5 378.7,281.3 378.7,285.7" fill="#8a00ff"/></g>
<polyline points="425.7,309.8 423.6,307.5 421.5,305.5 419.4,303.7 417.2,302.2 415.1,300.9 413.0,299.8 410.9,298.7 408.8,297.6 406.7,296.6 404.6,295.5 402.4,294.6 400.3,293.6 398.2,292.7 396.1,291.8 394.0,290.9 391.9,290.0 389.8,289.1 387.7,288.1 385.5,287.2 383.4,286.3 381.3,285.3 379.2,284.4 377.1,283.5" fill="none" stroke="#8a00ff" stroke-width="3.6" stroke-linejoin="round" stroke-linecap="round"/>
<polyline points="420.6,258.6 422.8,255.4 425.0,255.4 427.2,257.1 429.4,259.1 431.6,261.2 433.8,263.6 436.0,266.5 438.2,270.0 440.4,274.7 442.6,293.9" fill="none" stroke="#8a00ff" stroke-width="0.8" stroke-linejoin="round"/>
<g><polygon points="418.2,258.6 422.2,256.4 422.2,260.8" fill="#8a00ff"/><polygon points="420.4,255.4 424.4,253.2 424.4,257.6" fill="#8a00ff"/><polygon points="422.6,255.4 426.6,253.2 426.6,257.6" fill="#8a00ff"/><polygon points="424.8,257.1 428.8,254.9 428.8,259.3" fill="#8a00ff"/><polygon points="427.0,259.1 431.0,256.9 431.0,261.3" fill="#8a00ff"/><polygon points="429.2,261.2 433.2,259.0 433.2,263.4" fill="#8a00ff"/><polygon points="431.4,263.6 435.4,261.4 435.4,265.8" fill="#8a00ff"/><polygon points="433.6,266.5 437.6,264.3 437.6,268.7" fill="#8a00ff"/><polygon points="435.8,270.0 439.8,267.8 439.8,272.2" fill="#8a00ff"/><polygon points="438.0,274.7 442.0,272.5 442.0,276.9" fill="#8a00ff"/><polygon points="440.2,293.9 444.2,291.7 444.2,296.1" fill="#8a00ff"/></g>
<polyline points="422.8,255.4 425.0,255.4 427.2,257.1 429.4,259.1 431.6,261.2" fill="none" stroke="#8a00ff" stroke-width="3.6" stroke-linejoin="round" stroke-linecap="round"/>
<polyline points="442.6,293.9 444.7,272.7 446.8,269.0 449.0,265.6 451.1,264.4" fill="none" stroke="#8a00ff" stroke-width="0.8" stroke-linejoin="round"/>
<g><polygon points="440.2,293.9 444.2,291.7 444.2,296.1" fill="#8a00ff"/><polygon points="442.3,272.7 446.3,270.5 446.3,274.9" fill="#8a00ff"/><polygon points="444.4,269.0 448.4,266.8 448.4,271.2" fill="#8a00ff"/><polygon points="446.6,265.6 450.6,263.4 450.6,267.8" fill="#8a00ff"/><polygon points="448.7,264.4 452.7,262.2 452.7,266.6" fill="#8a00ff"/></g>
<polyline points="449.0,265.6 451.1,264.4" fill="none" stroke="#8a00ff" stroke-width="3.6" stroke-linejoin="round" stroke-linecap="round"/>
<polyline points="451.1,264.4 453.0,264.4 454.9,264.4 456.8,264.4 458.7,264.4 460.6,264.4 462.5,264.4 464.4,264.4 466.3,264.4 468.2,264.4 470.1,264.4 472.0,264.4 473.8,264.4 475.7,264.4 477.6,264.4 479.5,264.4 481.4,264.4 483.3,264.4 485.2,264.4 487.1,264.4 489.0,264.4 490.9,264.4 492.8,264.4 494.7,264.4 496.6,264.4 498.5,264.4 500.4,264.4 502.3,264.4 504.2,264.4 506.1,264.4 508.0,264.4 509.9,264.4 511.8,264.4 513.7,264.4 515.6,264.4 517.5,264.4 519.4,264.4 521.3,264.4 523.2,264.4 525.1,264.4 527.0,264.4" fill="none" stroke="#8a00ff" stroke-width="0.8" stroke-linejoin="round"/>
<g><polygon points="448.7,264.4 452.7,262.2 452.7,266.6" fill="#8a00ff"/><polygon points="450.6,264.4 454.6,262.2 454.6,266.6" fill="#8a00ff"/><polygon points="452.5,264.4 456.5,262.2 456.5,266.6" fill="#8a00ff"/><polygon points="454.4,264.4 458.4,262.2 458.4,266.6" fill="#8a00ff"/><polygon points="456.3,264.4 460.3,262.2 460.3,266.6" fill="#8a00ff"/><polygon points="458.2,264.4 462.2,262.2 462.2,266.6" fill="#8a00ff"/><polygon points="460.1,264.4 464.1,262.2 464.1,266.6" fill="#8a00ff"/><polygon points="462.0,264.4 466.0,262.2 466.0,266.6" fill="#8a00ff"/><polygon points="463.9,264.4 467.9,262.2 467.9,266.6" fill="#8a00ff"/><polygon points="465.8,264.4 469.8,262.2 469.8,266.6" fill="#8a00ff"/><polygon points="467.7,264.4 471.7,262.2 471.7,266.6" fill="#8a00ff"/><polygon points="469.6,264.4 473.6,262.2 473.6,266.6" fill="#8a00ff"/><polygon points="471.4,264.4 475.4,262.2 475.4,266.6" fill="#8a00ff"/><polygon points="473.3,264.4 477.3,262.2 477.3,266.6" fill="#8a00ff"/><polygon points="475.2,264.4 479.2,262.2 479.2,266.6" fill="#8a00ff"/><polygon points="477.1,264.4 481.1,262.2 481.1,266.6" fill="#8a00ff"/><polygon points="479.0,264.4 483.0,262.2 483.0,266.6" fill="#8a00ff"/><polygon points="480.9,264.4 484.9,262.2 484.9,266.6" fill="#8a00ff"/><polygon points="482.8,264.4 486.8,262.2 486.8,266.6" fill="#8a00ff"/><polygon points="484.7,264.4 488.7,262.2 488.7,266.6" fill="#8a00ff"/><polygon points="486.6,264.4 490.6,262.2 490.6,266.6" fill="#8a00ff"/><polygon points="488.5,264.4 492.5,262.2 492.5,266.6" fill="#8a00ff"/><polygon points="490.4,264.4 494.4,262.2 494.4,266.6" fill="#8a00ff"/><polygon points="492.3,264.4 496.3,262.2 496.3,266.6" fill="#8a00ff"/><polygon points="494.2,264.4 498.2,262.2 498.2,266.6" fill="#8a00ff"/><polygon points="496.1,264.4 500.1,262.2 500.1,266.6" fill="#8a00ff"/><polygon points="498.0,264.4 502.0,262.2 502.0,266.6" fill="#8a00ff"/><polygon points="499.9,264.4 503.9,262.2 503.9,266.6" fill="#8a00ff"/><polygon points="501.8,264.4 505.8,262.2 505.8,266.6" fill="#8a00ff"/><polygon points="503.7,264.4 507.7,262.2 507.7,266.6" fill="#8a00ff"/><polygon points="505.6,264.4 509.6,262.2 509.6,266.6" fill="#8a00ff"/><polygon points="507.5,264.4 511.5,262.2 511.5,266.6" fill="#8a00ff"/><polygon points="509.4,264.4 513.4,262.2 513.4,266.6" fill="#8a00ff"/><polygon points="511.3,264.4 515.3,262.2 515.3,266.6" fill="#8a00ff"/><polygon points="513.2,264.4 517.2,262.2 517.2,266.6" fill="#8a00ff"/><polygon points="515.1,264.4 519.1,262.2 519.1,266.6" fill="#8a00ff"/><polygon points="517.0,264.4 521.0,262.2 521.0,266.6" fill="#8a00ff"/><polygon points="518.9,264.4 522.9,262.2 522.9,266.6" fill="#8a00ff"/><polygon points="520.8,264.4 524.8,262.2 524.8,266.6" fill="#8a00ff"/><polygon points="522.7,264.4 526.7,262.2 526.7,266.6" fill="#8a00ff"/><polygon points="524.6,264.4 528.6,262.2 528.6,266.6" fill="#8a00ff"/></g>
<polyline points="451.1,264.4 453.0,264.4 454.9,264.4 456.8,264.4 458.7,264.4 460.6,264.4 462.5,264.4 464.4,264.4 466.3,264.4 468.2,264.4 470.1,264.4 472.0,264.4 473.8,264.4 475.7,264.4 477.6,264.4 479.5,264.4 481.4,264.4 483.3,264.4 485.2,264.4 487.1,264.4 489.0,264.4 490.9,264.4 492.8,264.4 494.7,264.4 496.6,264.4 498.5,264.4 500.4,264.4 502.3,264.4 504.2,264.4 506.1,264.4 508.0,264.4 509.9,264.4 511.8,264.4 513.7,264.4 515.6,264.4 517.5,264.4 519.4,264.4 521.3,264.4 523.2,264.4 525.1,264.4 527.0,264.4" fill="none" stroke="#8a00ff" stroke-width="3.6" stroke-linejoin="round" stroke-linecap="round"/>
<polyline points="499.6,289.7 497.5,291.6 495.4,293.3 493.3,294.5 491.2,295.7 489.1,296.8 487.0,297.9 484.8,299.0 482.7,300.1 480.6,301.2 478.5,302.4 476.4,303.6 474.3,305.0 472.2,306.4 470.1,307.8 467.9,309.3 465.8,310.8 463.7,312.5 461.6,314.1 459.5,315.9 457.4,317.6 455.3,319.5 453.2,321.5 451.0,323.7 448.9,326.3 446.8,328.7 444.7,338.4 442.6,372.1" fill="none" stroke="#8a00ff" stroke-width="0.8" stroke-linejoin="round"/>
<g><polygon points="497.2,289.7 501.2,287.5 501.2,291.9" fill="#8a00ff"/><polygon points="495.1,291.6 499.1,289.4 499.1,293.8" fill="#8a00ff"/><polygon points="493.0,293.3 497.0,291.1 497.0,295.5" fill="#8a00ff"/><polygon points="490.9,294.5 494.9,292.3 494.9,296.7" fill="#8a00ff"/><polygon points="488.8,295.7 492.8,293.5 492.8,297.9" fill="#8a00ff"/><polygon points="486.7,296.8 490.7,294.6 490.7,299.0" fill="#8a00ff"/><polygon points="484.6,297.9 488.6,295.7 488.6,300.1" fill="#8a00ff"/><polygon points="482.4,299.0 486.4,296.8 486.4,301.2" fill="#8a00ff"/><polygon points="480.3,300.1 484.3,297.9 484.3,302.3" fill="#8a00ff"/><polygon points="478.2,301.2 482.2,299.0 482.2,303.4" fill="#8a00ff"/><polygon points="476.1,302.4 480.1,300.2 480.1,304.6" fill="#8a00ff"/><polygon points="474.0,303.6 478.0,301.4 478.0,305.8" fill="#8a00ff"/><polygon points="471.9,305.0 475.9,302.8 475.9,307.2" fill="#8a00ff"/><polygon points="469.8,306.4 473.8,304.2 473.8,308.6" fill="#8a00ff"/><polygon points="467.7,307.8 471.7,305.6 471.7,310.0" fill="#8a00ff"/><polygon points="465.5,309.3 469.5,307.1 469.5,311.5" fill="#8a00ff"/><polygon points="463.4,310.8 467.4,308.6 467.4,313.0" fill="#8a00ff"/><polygon points="461.3,312.5 465.3,310.3 465.3,314.7" fill="#8a00ff"/><polygon points="459.2,314.1 463.2,311.9 463.2,316.3" fill="#8a00ff"/><polygon points="457.1,315.9 461.1,313.7 461.1,318.1" fill="#8a00ff"/><polygon points="455.0,317.6 459.0,315.4 459.0,319.8" fill="#8a00ff"/><polygon points="452.9,319.5 456.9,317.3 456.9,321.7" fill="#8a00ff"/><polygon points="450.8,321.5 454.8,319.3 454.8,323.7" fill="#8a00ff"/><polygon points="448.6,323.7 452.6,321.5 452.6,325.9" fill="#8a00ff"/><polygon points="446.5,326.3 450.5,324.1 450.5,328.5" fill="#8a00ff"/><polygon points="444.4,328.7 448.4,326.5 448.4,330.9" fill="#8a00ff"/><polygon points="442.3,338.4 446.3,336.2 446.3,340.6" fill="#8a00ff"/><polygon points="440.2,372.1 444.2,369.9 444.2,374.3" fill="#8a00ff"/></g>
<polyline points="499.6,289.7 497.5,291.6 495.4,293.3 493.3,294.5 491.2,295.7 489.1,296.8 487.0,297.9 484.8,299.0 482.7,300.1 480.6,301.2 478.5,302.4 476.4,303.6 474.3,305.0 472.2,306.4 470.1,307.8 467.9,309.3 465.8,310.8 463.7,312.5 461.6,314.1 459.5,315.9 457.4,317.6 455.3,319.5 453.2,321.5 451.0,323.7" fill="none" stroke="#8a00ff" stroke-width="3.6" stroke-linejoin="round" stroke-linecap="round"/>
<polyline points="448.9,326.3 446.8,328.7" fill="none" stroke="#8a00ff" stroke-width="3.6" stroke-linejoin="round" stroke-linecap="round"/>
<line x1="442.60" y1="293.92" x2="442.60" y2="391.25" stroke="#ff9a40" stroke-width="0.9"/>
<line x1="404.44" y1="309.56" x2="404.44" y2="245.78" stroke="#ff9030" stroke-width="0.9"/>
<line x1="504.50" y1="264.37" x2="504.50" y2="305.22" stroke="#ff9030" stroke-width="0.9"/>
<polyline points="442.6,391.2 440.5,350.0 438.4,338.8 436.2,335.5 434.1,332.1 432.0,329.0 429.9,326.8 427.8,324.9 425.6,323.3 423.5,321.9 421.4,320.6 419.3,319.5 417.2,318.4 415.0,317.5 412.9,316.6 410.8,315.7 408.7,314.9 406.6,314.1 404.4,313.3 402.3,312.6 400.2,312.0 398.1,311.3 396.0,310.5 393.8,309.6 391.7,308.7 389.6,307.7 387.5,306.7 385.4,305.7 383.2,304.6 381.1,303.6 379.0,302.6" fill="none" stroke="#ff7f0e" stroke-width="0.8" stroke-linejoin="round"/>
<g><polygon points="445.0,391.2 441.0,389.0 441.0,393.4" fill="#ff7f0e"/><polygon points="442.9,350.0 438.9,347.8 438.9,352.2" fill="#ff7f0e"/><polygon points="440.8,338.8 436.8,336.6 436.8,341.0" fill="#ff7f0e"/><polygon points="438.6,335.5 434.6,333.3 434.6,337.7" fill="#ff7f0e"/><polygon points="436.5,332.1 432.5,329.9 432.5,334.3" fill="#ff7f0e"/><polygon points="434.4,329.0 430.4,326.8 430.4,331.2" fill="#ff7f0e"/><polygon points="432.3,326.8 428.3,324.6 428.3,329.0" fill="#ff7f0e"/><polygon points="430.2,324.9 426.2,322.7 426.2,327.1" fill="#ff7f0e"/><polygon points="428.0,323.3 424.0,321.1 424.0,325.5" fill="#ff7f0e"/><polygon points="425.9,321.9 421.9,319.7 421.9,324.1" fill="#ff7f0e"/><polygon points="423.8,320.6 419.8,318.4 419.8,322.8" fill="#ff7f0e"/><polygon points="421.7,319.5 417.7,317.3 417.7,321.7" fill="#ff7f0e"/><polygon points="419.6,318.4 415.6,316.2 415.6,320.6" fill="#ff7f0e"/><polygon points="417.4,317.5 413.4,315.3 413.4,319.7" fill="#ff7f0e"/><polygon points="415.3,316.6 411.3,314.4 411.3,318.8" fill="#ff7f0e"/><polygon points="413.2,315.7 409.2,313.5 409.2,317.9" fill="#ff7f0e"/><polygon points="411.1,314.9 407.1,312.7 407.1,317.1" fill="#ff7f0e"/><polygon points="409.0,314.1 405.0,311.9 405.0,316.3" fill="#ff7f0e"/><polygon points="406.8,313.3 402.8,311.1 402.8,315.5" fill="#ff7f0e"/><polygon points="404.7,312.6 400.7,310.4 400.7,314.8" fill="#ff7f0e"/><polygon points="402.6,312.0 398.6,309.8 398.6,314.2" fill="#ff7f0e"/><polygon points="400.5,311.3 396.5,309.1 396.5,313.5" fill="#ff7f0e"/><polygon points="398.4,310.5 394.4,308.3 394.4,312.7" fill="#ff7f0e"/><polygon points="396.2,309.6 392.2,307.4 392.2,311.8" fill="#ff7f0e"/><polygon points="394.1,308.7 390.1,306.5 390.1,310.9" fill="#ff7f0e"/><polygon points="392.0,307.7 388.0,305.5 388.0,309.9" fill="#ff7f0e"/><polygon points="389.9,306.7 385.9,304.5 385.9,308.9" fill="#ff7f0e"/><polygon points="387.8,305.7 383.8,303.5 383.8,307.9" fill="#ff7f0e"/><polygon points="385.6,304.6 381.6,302.4 381.6,306.8" fill="#ff7f0e"/><polygon points="383.5,303.6 379.5,301.4 379.5,305.8" fill="#ff7f0e"/><polygon points="381.4,302.6 377.4,300.4 377.4,304.8" fill="#ff7f0e"/></g>
<polyline points="432.0,329.0 429.9,326.8 427.8,324.9 425.6,323.3 423.5,321.9 421.4,320.6 419.3,319.5 417.2,318.4 415.0,317.5 412.9,316.6 410.8,315.7 408.7,314.9 406.6,314.1 404.4,313.3 402.3,312.6 400.2,312.0 398.1,311.3 396.0,310.5 393.8,309.6 391.7,308.7 389.6,307.7 387.5,306.7 385.4,305.7 383.2,304.6 381.1,303.6 379.0,302.6" fill="none" stroke="#ff7f0e" stroke-width="4.0" stroke-linejoin="round" stroke-linecap="round"/>
<polyline points="404.0,246.5 406.2,247.1 408.3,247.8 410.4,248.6 412.6,249.6 414.7,251.0 416.9,252.4 419.0,253.7 421.2,254.8 423.3,256.1 425.5,257.5 427.6,259.1 429.7,261.0 431.9,263.0 434.0,265.7 436.2,269.0 438.3,273.1 440.5,279.4 442.6,293.9" fill="none" stroke="#ff7f0e" stroke-width="0.8" stroke-linejoin="round"/>
<g><polygon points="406.4,246.5 402.4,244.3 402.4,248.7" fill="#ff7f0e"/><polygon points="408.6,247.1 404.6,244.9 404.6,249.3" fill="#ff7f0e"/><polygon points="410.7,247.8 406.7,245.6 406.7,250.0" fill="#ff7f0e"/><polygon points="412.8,248.6 408.8,246.4 408.8,250.8" fill="#ff7f0e"/><polygon points="415.0,249.6 411.0,247.4 411.0,251.8" fill="#ff7f0e"/><polygon points="417.1,251.0 413.1,248.8 413.1,253.2" fill="#ff7f0e"/><polygon points="419.3,252.4 415.3,250.2 415.3,254.6" fill="#ff7f0e"/><polygon points="421.4,253.7 417.4,251.5 417.4,255.9" fill="#ff7f0e"/><polygon points="423.6,254.8 419.6,252.6 419.6,257.0" fill="#ff7f0e"/><polygon points="425.7,256.1 421.7,253.9 421.7,258.3" fill="#ff7f0e"/><polygon points="427.9,257.5 423.9,255.3 423.9,259.7" fill="#ff7f0e"/><polygon points="430.0,259.1 426.0,256.9 426.0,261.3" fill="#ff7f0e"/><polygon points="432.1,261.0 428.1,258.8 428.1,263.2" fill="#ff7f0e"/><polygon points="434.3,263.0 430.3,260.8 430.3,265.2" fill="#ff7f0e"/><polygon points="436.4,265.7 432.4,263.5 432.4,267.9" fill="#ff7f0e"/><polygon points="438.6,269.0 434.6,266.8 434.6,271.2" fill="#ff7f0e"/><polygon points="440.7,273.1 436.7,270.9 436.7,275.3" fill="#ff7f0e"/><polygon points="442.9,279.4 438.9,277.2 438.9,281.6" fill="#ff7f0e"/><polygon points="445.0,293.9 441.0,291.7 441.0,296.1" fill="#ff7f0e"/></g>
<polyline points="404.0,246.5 406.2,247.1 408.3,247.8 410.4,248.6 412.6,249.6 414.7,251.0 416.9,252.4 419.0,253.7 421.2,254.8 423.3,256.1 425.5,257.5 427.6,259.1 429.7,261.0 431.9,263.0 434.0,265.7" fill="none" stroke="#ff7f0e" stroke-width="4.0" stroke-linejoin="round" stroke-linecap="round"/>
<polyline points="442.6,293.9 444.7,281.2 446.8,276.2 449.0,270.1 451.1,266.2 453.2,263.7 455.3,264.0" fill="none" stroke="#ff7f0e" stroke-width="0.8" stroke-linejoin="round"/>
<g><polygon points="445.0,293.9 441.0,291.7 441.0,296.1" fill="#ff7f0e"/><polygon points="447.1,281.2 443.1,279.0 443.1,283.4" fill="#ff7f0e"/><polygon points="449.2,276.2 445.2,274.0 445.2,278.4" fill="#ff7f0e"/><polygon points="451.4,270.1 447.4,267.9 447.4,272.3" fill="#ff7f0e"/><polygon points="453.5,266.2 449.5,264.0 449.5,268.4" fill="#ff7f0e"/><polygon points="455.6,263.7 451.6,261.5 451.6,265.9" fill="#ff7f0e"/><polygon points="457.7,264.0 453.7,261.8 453.7,266.2" fill="#ff7f0e"/></g>
<polyline points="451.1,266.2 453.2,263.7 455.3,264.0" fill="none" stroke="#ff7f0e" stroke-width="4.0" stroke-linejoin="round" stroke-linecap="round"/>
<polyline points="455.3,264.0 456.6,264.0 458.0,264.0 459.3,264.0 460.6,264.0 461.9,264.0 463.2,264.0 464.6,264.0 465.9,264.0 467.2,264.0 468.5,264.0 469.8,264.0 471.2,264.0 472.5,264.0 473.8,264.0 475.1,264.0 476.4,264.0 477.8,264.0 479.1,264.0 480.4,264.0 481.7,264.0 483.0,264.0 484.4,264.0 485.7,264.0 487.0,264.0 488.3,264.0 489.6,264.0 491.0,264.0 492.3,264.0 493.6,264.0 494.9,264.0 496.2,264.0 497.6,264.0 498.9,264.0 500.2,264.0 501.5,264.0 502.8,264.0 504.1,264.0 505.5,264.0 506.8,264.0 508.1,264.0" fill="none" stroke="#ff7f0e" stroke-width="0.8" stroke-linejoin="round"/>
<g><polygon points="457.7,264.0 453.7,261.8 453.7,266.2" fill="#ff7f0e"/><polygon points="459.0,264.0 455.0,261.8 455.0,266.2" fill="#ff7f0e"/><polygon points="460.4,264.0 456.4,261.8 456.4,266.2" fill="#ff7f0e"/><polygon points="461.7,264.0 457.7,261.8 457.7,266.2" fill="#ff7f0e"/><polygon points="463.0,264.0 459.0,261.8 459.0,266.2" fill="#ff7f0e"/><polygon points="464.3,264.0 460.3,261.8 460.3,266.2" fill="#ff7f0e"/><polygon points="465.6,264.0 461.6,261.8 461.6,266.2" fill="#ff7f0e"/><polygon points="467.0,264.0 463.0,261.8 463.0,266.2" fill="#ff7f0e"/><polygon points="468.3,264.0 464.3,261.8 464.3,266.2" fill="#ff7f0e"/><polygon points="469.6,264.0 465.6,261.8 465.6,266.2" fill="#ff7f0e"/><polygon points="470.9,264.0 466.9,261.8 466.9,266.2" fill="#ff7f0e"/><polygon points="472.2,264.0 468.2,261.8 468.2,266.2" fill="#ff7f0e"/><polygon points="473.6,264.0 469.6,261.8 469.6,266.2" fill="#ff7f0e"/><polygon points="474.9,264.0 470.9,261.8 470.9,266.2" fill="#ff7f0e"/><polygon points="476.2,264.0 472.2,261.8 472.2,266.2" fill="#ff7f0e"/><polygon points="477.5,264.0 473.5,261.8 473.5,266.2" fill="#ff7f0e"/><polygon points="478.8,264.0 474.8,261.8 474.8,266.2" fill="#ff7f0e"/><polygon points="480.2,264.0 476.2,261.8 476.2,266.2" fill="#ff7f0e"/><polygon points="481.5,264.0 477.5,261.8 477.5,266.2" fill="#ff7f0e"/><polygon points="482.8,264.0 478.8,261.8 478.8,266.2" fill="#ff7f0e"/><polygon points="484.1,264.0 480.1,261.8 480.1,266.2" fill="#ff7f0e"/><polygon points="485.4,264.0 481.4,261.8 481.4,266.2" fill="#ff7f0e"/><polygon points="486.8,264.0 482.8,261.8 482.8,266.2" fill="#ff7f0e"/><polygon points="488.1,264.0 484.1,261.8 484.1,266.2" fill="#ff7f0e"/><polygon points="489.4,264.0 485.4,261.8 485.4,266.2" fill="#ff7f0e"/><polygon points="490.7,264.0 486.7,261.8 486.7,266.2" fill="#ff7f0e"/><polygon points="492.0,264.0 488.0,261.8 488.0,266.2" fill="#ff7f0e"/><polygon points="493.4,264.0 489.4,261.8 489.4,266.2" fill="#ff7f0e"/><polygon points="494.7,264.0 490.7,261.8 490.7,266.2" fill="#ff7f0e"/><polygon points="496.0,264.0 492.0,261.8 492.0,266.2" fill="#ff7f0e"/><polygon points="497.3,264.0 493.3,261.8 493.3,266.2" fill="#ff7f0e"/><polygon points="498.6,264.0 494.6,261.8 494.6,266.2" fill="#ff7f0e"/><polygon points="500.0,264.0 496.0,261.8 496.0,266.2" fill="#ff7f0e"/><polygon points="501.3,264.0 497.3,261.8 497.3,266.2" fill="#ff7f0e"/><polygon points="502.6,264.0 498.6,261.8 498.6,266.2" fill="#ff7f0e"/><polygon points="503.9,264.0 499.9,261.8 499.9,266.2" fill="#ff7f0e"/><polygon points="505.2,264.0 501.2,261.8 501.2,266.2" fill="#ff7f0e"/><polygon points="506.5,264.0 502.5,261.8 502.5,266.2" fill="#ff7f0e"/><polygon points="507.9,264.0 503.9,261.8 503.9,266.2" fill="#ff7f0e"/><polygon points="509.2,264.0 505.2,261.8 505.2,266.2" fill="#ff7f0e"/><polygon points="510.5,264.0 506.5,261.8 506.5,266.2" fill="#ff7f0e"/></g>
<polyline points="455.3,264.0 456.6,264.0 458.0,264.0 459.3,264.0 460.6,264.0 461.9,264.0 463.2,264.0 464.6,264.0 465.9,264.0 467.2,264.0 468.5,264.0 469.8,264.0 471.2,264.0 472.5,264.0 473.8,264.0 475.1,264.0 476.4,264.0 477.8,264.0 479.1,264.0 480.4,264.0 481.7,264.0 483.0,264.0 484.4,264.0 485.7,264.0 487.0,264.0 488.3,264.0 489.6,264.0 491.0,264.0 492.3,264.0 493.6,264.0 494.9,264.0 496.2,264.0 497.6,264.0 498.9,264.0 500.2,264.0 501.5,264.0 502.8,264.0 504.1,264.0 505.5,264.0 506.8,264.0 508.1,264.0" fill="none" stroke="#ff7f0e" stroke-width="4.0" stroke-linejoin="round" stroke-linecap="round"/>
<polyline points="504.5,305.2 502.4,305.9 500.2,306.6 498.1,307.3 496.0,308.1 493.8,309.0 491.7,310.0 489.6,311.0 487.4,312.0 485.3,313.0 483.2,314.1 481.0,315.2 478.9,316.3 476.8,317.4 474.6,318.5 472.5,319.7 470.4,320.8 468.2,322.0 466.1,323.3 463.9,324.6 461.8,325.9 459.7,327.3 457.5,328.7 455.4,330.2 453.3,331.8 451.1,333.6 449.0,335.6 446.9,337.2 444.7,345.7 442.6,391.2" fill="none" stroke="#ff7f0e" stroke-width="0.8" stroke-linejoin="round"/>
<g><polygon points="506.9,305.2 502.9,303.0 502.9,307.4" fill="#ff7f0e"/><polygon points="504.8,305.9 500.8,303.7 500.8,308.1" fill="#ff7f0e"/><polygon points="502.6,306.6 498.6,304.4 498.6,308.8" fill="#ff7f0e"/><polygon points="500.5,307.3 496.5,305.1 496.5,309.5" fill="#ff7f0e"/><polygon points="498.4,308.1 494.4,305.9 494.4,310.3" fill="#ff7f0e"/><polygon points="496.2,309.0 492.2,306.8 492.2,311.2" fill="#ff7f0e"/><polygon points="494.1,310.0 490.1,307.8 490.1,312.2" fill="#ff7f0e"/><polygon points="492.0,311.0 488.0,308.8 488.0,313.2" fill="#ff7f0e"/><polygon points="489.8,312.0 485.8,309.8 485.8,314.2" fill="#ff7f0e"/><polygon points="487.7,313.0 483.7,310.8 483.7,315.2" fill="#ff7f0e"/><polygon points="485.6,314.1 481.6,311.9 481.6,316.3" fill="#ff7f0e"/><polygon points="483.4,315.2 479.4,313.0 479.4,317.4" fill="#ff7f0e"/><polygon points="481.3,316.3 477.3,314.1 477.3,318.5" fill="#ff7f0e"/><polygon points="479.2,317.4 475.2,315.2 475.2,319.6" fill="#ff7f0e"/><polygon points="477.0,318.5 473.0,316.3 473.0,320.7" fill="#ff7f0e"/><polygon points="474.9,319.7 470.9,317.5 470.9,321.9" fill="#ff7f0e"/><polygon points="472.8,320.8 468.8,318.6 468.8,323.0" fill="#ff7f0e"/><polygon points="470.6,322.0 466.6,319.8 466.6,324.2" fill="#ff7f0e"/><polygon points="468.5,323.3 464.5,321.1 464.5,325.5" fill="#ff7f0e"/><polygon points="466.3,324.6 462.3,322.4 462.3,326.8" fill="#ff7f0e"/><polygon points="464.2,325.9 460.2,323.7 460.2,328.1" fill="#ff7f0e"/><polygon points="462.1,327.3 458.1,325.1 458.1,329.5" fill="#ff7f0e"/><polygon points="459.9,328.7 455.9,326.5 455.9,330.9" fill="#ff7f0e"/><polygon points="457.8,330.2 453.8,328.0 453.8,332.4" fill="#ff7f0e"/><polygon points="455.7,331.8 451.7,329.6 451.7,334.0" fill="#ff7f0e"/><polygon points="453.5,333.6 449.5,331.4 449.5,335.8" fill="#ff7f0e"/><polygon points="451.4,335.6 447.4,333.4 447.4,337.8" fill="#ff7f0e"/><polygon points="449.3,337.2 445.3,335.0 445.3,339.4" fill="#ff7f0e"/><polygon points="447.1,345.7 443.1,343.5 443.1,347.9" fill="#ff7f0e"/><polygon points="445.0,391.2 441.0,389.0 441.0,393.4" fill="#ff7f0e"/></g>
<polyline points="504.5,305.2 502.4,305.9 500.2,306.6 498.1,307.3 496.0,308.1 493.8,309.0 491.7,310.0 489.6,311.0 487.4,312.0 485.3,313.0 483.2,314.1 481.0,315.2 478.9,316.3 476.8,317.4 474.6,318.5 472.5,319.7 470.4,320.8 468.2,322.0 466.1,323.3 463.9,324.6 461.8,325.9 459.7,327.3 457.5,328.7 455.4,330.2 453.3,331.8 451.1,333.6 449.0,335.6 446.9,337.2" fill="none" stroke="#ff7f0e" stroke-width="4.0" stroke-linejoin="round" stroke-linecap="round"/>
<line x1="394.26" y1="297.57" x2="394.26" y2="305.22" stroke="#ff9a40" stroke-width="0.9"/>
<rect x="318.2" y="353.4" width="73.6" height="41.4" fill="#fff" stroke="#555" stroke-width="0.8"/>
<line x1="322.3" y1="361.0" x2="341.9" y2="361.0" stroke="#3c963c" stroke-width="1.3"/>
<polygon points="332.1,358.3 334.8,361.0 332.1,363.7 329.4,361.0" fill="#0a7a0a"/>
<text x="344.7" y="364.1" font-family="'Liberation Sans', sans-serif" font-size="8.9" fill="#111">Al<tspan font-size="5.52" dy="2.5">2</tspan><tspan dy="-2.5">O</tspan><tspan font-size="5.52" dy="2.5">3</tspan><tspan dy="-2.5"> 5nm</tspan></text>
<line x1="322.3" y1="374.65" x2="341.9" y2="374.65" stroke="#a34dff" stroke-width="1.3"/>
<polygon points="328.9,374.6 334.3,371.7 334.3,377.6" fill="#8a00ff"/>
<text x="344.7" y="377.75" font-family="'Liberation Sans', sans-serif" font-size="8.9" fill="#111">Al<tspan font-size="5.52" dy="2.5">2</tspan><tspan dy="-2.5">O</tspan><tspan font-size="5.52" dy="2.5">3</tspan><tspan dy="-2.5"> 10nm</tspan></text>
<line x1="322.3" y1="388.3" x2="341.9" y2="388.3" stroke="#ff9a40" stroke-width="1.3"/>
<polygon points="335.3,388.3 329.9,385.3 329.9,391.3" fill="#ff7f0e"/>
<text x="344.7" y="391.40000000000003" font-family="'Liberation Sans', sans-serif" font-size="8.9" fill="#111">Al<tspan font-size="5.52" dy="2.5">2</tspan><tspan dy="-2.5">O</tspan><tspan font-size="5.52" dy="2.5">3</tspan><tspan dy="-2.5"> 15nm</tspan></text>
</svg></body></html>
